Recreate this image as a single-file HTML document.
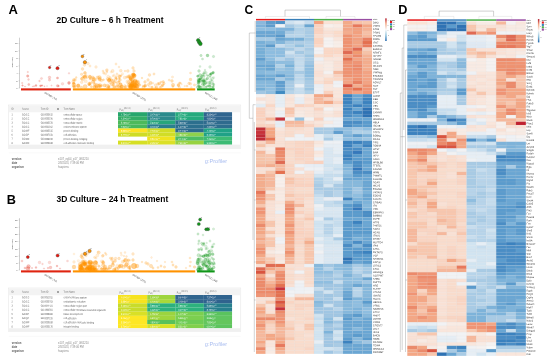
<!DOCTYPE html>
<html><head><meta charset="utf-8"><style>
html,body{margin:0;padding:0;background:#fff;width:550px;height:361px;overflow:hidden;}
svg{display:block;filter:blur(0.4px);font-family:"Liberation Sans",sans-serif;}
</style></head><body>
<svg width="550" height="361" viewBox="0 0 550 361">
<rect width="550" height="361" fill="#fff"/>
<g font-family="Liberation Sans, sans-serif" font-weight="bold" fill="#000">
<text x="8.4" y="14.3" font-size="13">A</text>
<text x="6.8" y="203.6" font-size="12.7">B</text>
<text x="244.6" y="14.1" font-size="12">C</text>
<text x="398.3" y="14.0" font-size="12.7">D</text>
<text x="56.6" y="22.7" font-size="8.45">2D Culture – 6 h Treatment</text>
<text x="56.6" y="201.6" font-size="8.45">3D Culture – 24 h Treatment</text>
</g>
<line x1="19.5" y1="37.7" x2="19.5" y2="88.2" stroke="#888" stroke-width="0.4"/>
<line x1="18.6" y1="88.1" x2="19.5" y2="88.1" stroke="#888" stroke-width="0.3"/>
<text x="17.6" y="88.8" font-size="2.3" fill="#555" text-anchor="end" font-family="Liberation Sans, sans-serif">0</text>
<line x1="18.6" y1="80.8" x2="19.5" y2="80.8" stroke="#888" stroke-width="0.3"/>
<text x="17.6" y="81.5" font-size="2.3" fill="#555" text-anchor="end" font-family="Liberation Sans, sans-serif">2</text>
<line x1="18.6" y1="73.6" x2="19.5" y2="73.6" stroke="#888" stroke-width="0.3"/>
<text x="17.6" y="74.3" font-size="2.3" fill="#555" text-anchor="end" font-family="Liberation Sans, sans-serif">4</text>
<line x1="18.6" y1="65.9" x2="19.5" y2="65.9" stroke="#888" stroke-width="0.3"/>
<text x="17.6" y="66.6" font-size="2.3" fill="#555" text-anchor="end" font-family="Liberation Sans, sans-serif">6</text>
<line x1="18.6" y1="58.7" x2="19.5" y2="58.7" stroke="#888" stroke-width="0.3"/>
<text x="17.6" y="59.4" font-size="2.3" fill="#555" text-anchor="end" font-family="Liberation Sans, sans-serif">8</text>
<line x1="18.6" y1="50.9" x2="19.5" y2="50.9" stroke="#888" stroke-width="0.3"/>
<text x="17.6" y="51.6" font-size="2.3" fill="#555" text-anchor="end" font-family="Liberation Sans, sans-serif">10</text>
<line x1="18.6" y1="43.6" x2="19.5" y2="43.6" stroke="#888" stroke-width="0.3"/>
<text x="17.6" y="44.3" font-size="2.3" fill="#555" text-anchor="end" font-family="Liberation Sans, sans-serif">12</text>
<text transform="translate(12.8,62.5) rotate(-90)" font-size="2.5" fill="#555" text-anchor="middle" font-family="Liberation Sans, sans-serif">-log₁₀(pₐₔⱼ)</text>
<circle cx="22.2" cy="83" r="0.8" fill="#df2410" fill-opacity="0.2" stroke="#df2410" stroke-opacity="0.33" stroke-width="0.25"/>
<circle cx="22.5" cy="85.5" r="0.8" fill="#df2410" fill-opacity="0.32" stroke="#df2410" stroke-opacity="0.52" stroke-width="0.25"/>
<circle cx="27.8" cy="72" r="0.8" fill="#df2410" fill-opacity="0.2" stroke="#df2410" stroke-opacity="0.33" stroke-width="0.25"/>
<circle cx="27.7" cy="76" r="1.2" fill="#df2410" fill-opacity="0.32" stroke="#df2410" stroke-opacity="0.52" stroke-width="0.25"/>
<circle cx="28.5" cy="79.5" r="0.9" fill="#df2410" fill-opacity="0.2" stroke="#df2410" stroke-opacity="0.33" stroke-width="0.25"/>
<circle cx="28.8" cy="84.5" r="1.1" fill="#df2410" fill-opacity="0.28" stroke="#df2410" stroke-opacity="0.45" stroke-width="0.25"/>
<circle cx="32.5" cy="86.5" r="0.5" fill="#df2410" fill-opacity="0.16" stroke="#df2410" stroke-opacity="0.26" stroke-width="0.25"/>
<circle cx="36" cy="85.5" r="0.9" fill="#df2410" fill-opacity="0.36" stroke="#df2410" stroke-opacity="0.59" stroke-width="0.25"/>
<circle cx="39.5" cy="81" r="0.9" fill="#df2410" fill-opacity="0.2" stroke="#df2410" stroke-opacity="0.33" stroke-width="0.25"/>
<circle cx="41.5" cy="78.5" r="1.1" fill="#df2410" fill-opacity="0.2" stroke="#df2410" stroke-opacity="0.33" stroke-width="0.25"/>
<circle cx="40.5" cy="85.8" r="0.9" fill="#df2410" fill-opacity="0.4" stroke="#df2410" stroke-opacity="0.65" stroke-width="0.25"/>
<circle cx="42" cy="85.5" r="0.8" fill="#df2410" fill-opacity="0.36" stroke="#df2410" stroke-opacity="0.59" stroke-width="0.25"/>
<circle cx="47" cy="86" r="0.5" fill="#df2410" fill-opacity="0.16" stroke="#df2410" stroke-opacity="0.26" stroke-width="0.25"/>
<circle cx="49.5" cy="77.5" r="1.4" fill="#df2410" fill-opacity="0.2" stroke="#df2410" stroke-opacity="0.33" stroke-width="0.25"/>
<circle cx="49.5" cy="80" r="1.2" fill="#df2410" fill-opacity="0.2" stroke="#df2410" stroke-opacity="0.33" stroke-width="0.25"/>
<circle cx="51.5" cy="85.5" r="0.7" fill="#df2410" fill-opacity="0.16" stroke="#df2410" stroke-opacity="0.26" stroke-width="0.25"/>
<circle cx="57.5" cy="78" r="1.1" fill="#df2410" fill-opacity="0.32" stroke="#df2410" stroke-opacity="0.52" stroke-width="0.25"/>
<circle cx="57.5" cy="85.8" r="1.2" fill="#df2410" fill-opacity="0.24" stroke="#df2410" stroke-opacity="0.39" stroke-width="0.25"/>
<circle cx="58.5" cy="86" r="0.9" fill="#df2410" fill-opacity="0.24" stroke="#df2410" stroke-opacity="0.39" stroke-width="0.25"/>
<circle cx="62.5" cy="83.8" r="1.4" fill="#df2410" fill-opacity="0.16" stroke="#df2410" stroke-opacity="0.26" stroke-width="0.25"/>
<circle cx="69" cy="73.3" r="0.9" fill="#df2410" fill-opacity="0.16" stroke="#df2410" stroke-opacity="0.26" stroke-width="0.25"/>
<circle cx="69" cy="83" r="1.4" fill="#df2410" fill-opacity="0.36" stroke="#df2410" stroke-opacity="0.59" stroke-width="0.25"/>
<circle cx="34" cy="86.3" r="0.7" fill="#df2410" fill-opacity="0.24" stroke="#df2410" stroke-opacity="0.39" stroke-width="0.25"/>
<circle cx="44.5" cy="86.3" r="0.6" fill="#df2410" fill-opacity="0.2" stroke="#df2410" stroke-opacity="0.33" stroke-width="0.25"/>
<circle cx="25" cy="86.5" r="0.6" fill="#df2410" fill-opacity="0.24" stroke="#df2410" stroke-opacity="0.39" stroke-width="0.25"/>
<circle cx="82.5" cy="69" r="1.4" fill="#ff9200" fill-opacity="0.24" stroke="#ff9200" stroke-opacity="0.39" stroke-width="0.25"/>
<circle cx="84.5" cy="65" r="1.4" fill="#ff9200" fill-opacity="0.2" stroke="#ff9200" stroke-opacity="0.33" stroke-width="0.25"/>
<circle cx="88" cy="63.5" r="1.4" fill="#ff9200" fill-opacity="0.16" stroke="#ff9200" stroke-opacity="0.26" stroke-width="0.25"/>
<circle cx="90" cy="66" r="1.2" fill="#ff9200" fill-opacity="0.16" stroke="#ff9200" stroke-opacity="0.26" stroke-width="0.25"/>
<circle cx="85" cy="73" r="1.4" fill="#ff9200" fill-opacity="0.28" stroke="#ff9200" stroke-opacity="0.45" stroke-width="0.25"/>
<circle cx="86" cy="76" r="1.4" fill="#ff9200" fill-opacity="0.28" stroke="#ff9200" stroke-opacity="0.45" stroke-width="0.25"/>
<circle cx="96" cy="67" r="1.4" fill="#ff9200" fill-opacity="0.16" stroke="#ff9200" stroke-opacity="0.26" stroke-width="0.25"/>
<circle cx="103" cy="71" r="1.1" fill="#ff9200" fill-opacity="0.2" stroke="#ff9200" stroke-opacity="0.33" stroke-width="0.25"/>
<circle cx="107" cy="70" r="1.4" fill="#ff9200" fill-opacity="0.16" stroke="#ff9200" stroke-opacity="0.26" stroke-width="0.25"/>
<circle cx="116" cy="64" r="1.2" fill="#ff9200" fill-opacity="0.16" stroke="#ff9200" stroke-opacity="0.26" stroke-width="0.25"/>
<circle cx="119" cy="67" r="1.1" fill="#ff9200" fill-opacity="0.16" stroke="#ff9200" stroke-opacity="0.26" stroke-width="0.25"/>
<circle cx="125" cy="71" r="0.9" fill="#ff9200" fill-opacity="0.2" stroke="#ff9200" stroke-opacity="0.33" stroke-width="0.25"/>
<circle cx="133" cy="68" r="1.4" fill="#ff9200" fill-opacity="0.24" stroke="#ff9200" stroke-opacity="0.39" stroke-width="0.25"/>
<circle cx="134" cy="71" r="1.4" fill="#ff9200" fill-opacity="0.24" stroke="#ff9200" stroke-opacity="0.39" stroke-width="0.25"/>
<circle cx="133" cy="75" r="1.4" fill="#ff9200" fill-opacity="0.28" stroke="#ff9200" stroke-opacity="0.45" stroke-width="0.25"/>
<circle cx="149.5" cy="75" r="1.4" fill="#ff9200" fill-opacity="0.24" stroke="#ff9200" stroke-opacity="0.39" stroke-width="0.25"/>
<circle cx="154" cy="74" r="1.2" fill="#ff9200" fill-opacity="0.2" stroke="#ff9200" stroke-opacity="0.33" stroke-width="0.25"/>
<circle cx="172.5" cy="77" r="1.2" fill="#ff9200" fill-opacity="0.16" stroke="#ff9200" stroke-opacity="0.26" stroke-width="0.25"/>
<circle cx="190.5" cy="73" r="1.1" fill="#ff9200" fill-opacity="0.2" stroke="#ff9200" stroke-opacity="0.33" stroke-width="0.25"/>
<circle cx="190.5" cy="79.5" r="1.4" fill="#ff9200" fill-opacity="0.28" stroke="#ff9200" stroke-opacity="0.45" stroke-width="0.25"/>
<circle cx="172" cy="81" r="1.4" fill="#ff9200" fill-opacity="0.28" stroke="#ff9200" stroke-opacity="0.45" stroke-width="0.25"/>
<circle cx="173" cy="85" r="1.7" fill="#ff9200" fill-opacity="0.32" stroke="#ff9200" stroke-opacity="0.52" stroke-width="0.25"/>
<circle cx="150.5" cy="83" r="1.7" fill="#ff9200" fill-opacity="0.32" stroke="#ff9200" stroke-opacity="0.52" stroke-width="0.25"/>
<circle cx="148" cy="80" r="1.4" fill="#ff9200" fill-opacity="0.24" stroke="#ff9200" stroke-opacity="0.39" stroke-width="0.25"/>
<circle cx="158" cy="84" r="1.4" fill="#ff9200" fill-opacity="0.28" stroke="#ff9200" stroke-opacity="0.45" stroke-width="0.25"/>
<circle cx="161" cy="82" r="1.1" fill="#ff9200" fill-opacity="0.24" stroke="#ff9200" stroke-opacity="0.39" stroke-width="0.25"/>
<circle cx="164" cy="83.5" r="1.2" fill="#ff9200" fill-opacity="0.28" stroke="#ff9200" stroke-opacity="0.45" stroke-width="0.25"/>
<circle cx="178.5" cy="85.5" r="1.2" fill="#ff9200" fill-opacity="0.24" stroke="#ff9200" stroke-opacity="0.39" stroke-width="0.25"/>
<circle cx="180.5" cy="83" r="0.9" fill="#ff9200" fill-opacity="0.2" stroke="#ff9200" stroke-opacity="0.33" stroke-width="0.25"/>
<circle cx="187" cy="86" r="1.1" fill="#ff9200" fill-opacity="0.24" stroke="#ff9200" stroke-opacity="0.39" stroke-width="0.25"/>
<circle cx="194.5" cy="85" r="1.2" fill="#ff9200" fill-opacity="0.24" stroke="#ff9200" stroke-opacity="0.39" stroke-width="0.25"/>
<circle cx="142" cy="78" r="0.9" fill="#ff9200" fill-opacity="0.24" stroke="#ff9200" stroke-opacity="0.39" stroke-width="0.25"/>
<circle cx="145" cy="82" r="1.4" fill="#ff9200" fill-opacity="0.28" stroke="#ff9200" stroke-opacity="0.45" stroke-width="0.25"/>
<circle cx="140" cy="85" r="1.1" fill="#ff9200" fill-opacity="0.28" stroke="#ff9200" stroke-opacity="0.45" stroke-width="0.25"/>
<circle cx="110" cy="78" r="1.4" fill="#ff9200" fill-opacity="0.24" stroke="#ff9200" stroke-opacity="0.39" stroke-width="0.25"/>
<circle cx="119" cy="76" r="1.4" fill="#ff9200" fill-opacity="0.24" stroke="#ff9200" stroke-opacity="0.39" stroke-width="0.25"/>
<circle cx="120" cy="80" r="1.4" fill="#ff9200" fill-opacity="0.28" stroke="#ff9200" stroke-opacity="0.45" stroke-width="0.25"/>
<circle cx="112" cy="84" r="1.9" fill="#ff9200" fill-opacity="0.28" stroke="#ff9200" stroke-opacity="0.45" stroke-width="0.25"/>
<circle cx="75" cy="80" r="1.4" fill="#ff9200" fill-opacity="0.28" stroke="#ff9200" stroke-opacity="0.45" stroke-width="0.25"/>
<circle cx="74" cy="85" r="1.9" fill="#ff9200" fill-opacity="0.36" stroke="#ff9200" stroke-opacity="0.59" stroke-width="0.25"/>
<circle cx="109.13" cy="80.37" r="1.85" fill="#ff9200" fill-opacity="0.35" stroke="#ff9200" stroke-opacity="0.57" stroke-width="0.25"/>
<circle cx="115.91" cy="77.4" r="0.93" fill="#ff9200" fill-opacity="0.25" stroke="#ff9200" stroke-opacity="0.41" stroke-width="0.25"/>
<circle cx="127.71" cy="81.74" r="1.98" fill="#ff9200" fill-opacity="0.18" stroke="#ff9200" stroke-opacity="0.3" stroke-width="0.25"/>
<circle cx="100.21" cy="86.28" r="1.55" fill="#ff9200" fill-opacity="0.27" stroke="#ff9200" stroke-opacity="0.45" stroke-width="0.25"/>
<circle cx="73.76" cy="86.5" r="1.24" fill="#ff9200" fill-opacity="0.34" stroke="#ff9200" stroke-opacity="0.56" stroke-width="0.25"/>
<circle cx="117.41" cy="86.89" r="1.86" fill="#ff9200" fill-opacity="0.19" stroke="#ff9200" stroke-opacity="0.31" stroke-width="0.25"/>
<circle cx="108.81" cy="87.08" r="0.9" fill="#ff9200" fill-opacity="0.33" stroke="#ff9200" stroke-opacity="0.54" stroke-width="0.25"/>
<circle cx="85.15" cy="86.51" r="2.08" fill="#ff9200" fill-opacity="0.33" stroke="#ff9200" stroke-opacity="0.54" stroke-width="0.25"/>
<circle cx="89.78" cy="76.7" r="1.55" fill="#ff9200" fill-opacity="0.3" stroke="#ff9200" stroke-opacity="0.48" stroke-width="0.25"/>
<circle cx="84.88" cy="77.07" r="1.73" fill="#ff9200" fill-opacity="0.35" stroke="#ff9200" stroke-opacity="0.57" stroke-width="0.25"/>
<circle cx="124.84" cy="85.84" r="1.33" fill="#ff9200" fill-opacity="0.19" stroke="#ff9200" stroke-opacity="0.31" stroke-width="0.25"/>
<circle cx="81.45" cy="87.35" r="1.26" fill="#ff9200" fill-opacity="0.28" stroke="#ff9200" stroke-opacity="0.46" stroke-width="0.25"/>
<circle cx="73.2" cy="81.33" r="1.31" fill="#ff9200" fill-opacity="0.22" stroke="#ff9200" stroke-opacity="0.36" stroke-width="0.25"/>
<circle cx="120.47" cy="83.94" r="1.28" fill="#ff9200" fill-opacity="0.26" stroke="#ff9200" stroke-opacity="0.42" stroke-width="0.25"/>
<circle cx="113.87" cy="87.38" r="2.07" fill="#ff9200" fill-opacity="0.16" stroke="#ff9200" stroke-opacity="0.27" stroke-width="0.25"/>
<circle cx="116.49" cy="78.72" r="0.92" fill="#ff9200" fill-opacity="0.32" stroke="#ff9200" stroke-opacity="0.52" stroke-width="0.25"/>
<circle cx="94.24" cy="82.71" r="0.91" fill="#ff9200" fill-opacity="0.17" stroke="#ff9200" stroke-opacity="0.28" stroke-width="0.25"/>
<circle cx="83.49" cy="76.81" r="1.14" fill="#ff9200" fill-opacity="0.31" stroke="#ff9200" stroke-opacity="0.51" stroke-width="0.25"/>
<circle cx="126.92" cy="77.05" r="1.31" fill="#ff9200" fill-opacity="0.23" stroke="#ff9200" stroke-opacity="0.38" stroke-width="0.25"/>
<circle cx="103.43" cy="79.84" r="1.03" fill="#ff9200" fill-opacity="0.31" stroke="#ff9200" stroke-opacity="0.5" stroke-width="0.25"/>
<circle cx="119.24" cy="78.47" r="0.94" fill="#ff9200" fill-opacity="0.35" stroke="#ff9200" stroke-opacity="0.57" stroke-width="0.25"/>
<circle cx="78.29" cy="85.45" r="1.63" fill="#ff9200" fill-opacity="0.34" stroke="#ff9200" stroke-opacity="0.56" stroke-width="0.25"/>
<circle cx="92.72" cy="77.36" r="1.55" fill="#ff9200" fill-opacity="0.22" stroke="#ff9200" stroke-opacity="0.36" stroke-width="0.25"/>
<circle cx="91.37" cy="86.78" r="0.99" fill="#ff9200" fill-opacity="0.19" stroke="#ff9200" stroke-opacity="0.31" stroke-width="0.25"/>
<circle cx="112.97" cy="76.06" r="1.09" fill="#ff9200" fill-opacity="0.17" stroke="#ff9200" stroke-opacity="0.28" stroke-width="0.25"/>
<circle cx="130.23" cy="83.29" r="1.39" fill="#ff9200" fill-opacity="0.21" stroke="#ff9200" stroke-opacity="0.34" stroke-width="0.25"/>
<circle cx="107.45" cy="79.03" r="1.45" fill="#ff9200" fill-opacity="0.24" stroke="#ff9200" stroke-opacity="0.4" stroke-width="0.25"/>
<circle cx="76.23" cy="77.5" r="0.94" fill="#ff9200" fill-opacity="0.26" stroke="#ff9200" stroke-opacity="0.42" stroke-width="0.25"/>
<circle cx="121.63" cy="87.06" r="1.78" fill="#ff9200" fill-opacity="0.35" stroke="#ff9200" stroke-opacity="0.57" stroke-width="0.25"/>
<circle cx="109.56" cy="79.64" r="1.03" fill="#ff9200" fill-opacity="0.25" stroke="#ff9200" stroke-opacity="0.4" stroke-width="0.25"/>
<circle cx="81.66" cy="78.72" r="1.25" fill="#ff9200" fill-opacity="0.25" stroke="#ff9200" stroke-opacity="0.41" stroke-width="0.25"/>
<circle cx="130.96" cy="78.6" r="2.07" fill="#ff9200" fill-opacity="0.25" stroke="#ff9200" stroke-opacity="0.41" stroke-width="0.25"/>
<circle cx="101.31" cy="80.56" r="1.47" fill="#ff9200" fill-opacity="0.22" stroke="#ff9200" stroke-opacity="0.35" stroke-width="0.25"/>
<circle cx="96.42" cy="86.97" r="1.35" fill="#ff9200" fill-opacity="0.36" stroke="#ff9200" stroke-opacity="0.58" stroke-width="0.25"/>
<circle cx="128.67" cy="82.05" r="1.5" fill="#ff9200" fill-opacity="0.23" stroke="#ff9200" stroke-opacity="0.37" stroke-width="0.25"/>
<circle cx="78.17" cy="86.07" r="1.84" fill="#ff9200" fill-opacity="0.33" stroke="#ff9200" stroke-opacity="0.54" stroke-width="0.25"/>
<circle cx="93.96" cy="79.68" r="1.83" fill="#ff9200" fill-opacity="0.3" stroke="#ff9200" stroke-opacity="0.49" stroke-width="0.25"/>
<circle cx="111.51" cy="80.09" r="1.34" fill="#ff9200" fill-opacity="0.3" stroke="#ff9200" stroke-opacity="0.49" stroke-width="0.25"/>
<circle cx="89.29" cy="83.88" r="1.82" fill="#ff9200" fill-opacity="0.3" stroke="#ff9200" stroke-opacity="0.48" stroke-width="0.25"/>
<circle cx="90.04" cy="76.99" r="1.68" fill="#ff9200" fill-opacity="0.28" stroke="#ff9200" stroke-opacity="0.45" stroke-width="0.25"/>
<circle cx="73.67" cy="83.12" r="1.2" fill="#ff9200" fill-opacity="0.29" stroke="#ff9200" stroke-opacity="0.48" stroke-width="0.25"/>
<circle cx="99.85" cy="79.18" r="1.68" fill="#ff9200" fill-opacity="0.32" stroke="#ff9200" stroke-opacity="0.52" stroke-width="0.25"/>
<circle cx="93.18" cy="81.81" r="1.79" fill="#ff9200" fill-opacity="0.33" stroke="#ff9200" stroke-opacity="0.53" stroke-width="0.25"/>
<circle cx="93.3" cy="78.75" r="1.94" fill="#ff9200" fill-opacity="0.3" stroke="#ff9200" stroke-opacity="0.48" stroke-width="0.25"/>
<circle cx="129.62" cy="76.79" r="1.52" fill="#ff9200" fill-opacity="0.27" stroke="#ff9200" stroke-opacity="0.43" stroke-width="0.25"/>
<circle cx="82.64" cy="78.86" r="2.02" fill="#ff9200" fill-opacity="0.26" stroke="#ff9200" stroke-opacity="0.42" stroke-width="0.25"/>
<circle cx="113.1" cy="80.71" r="1.78" fill="#ff9200" fill-opacity="0.19" stroke="#ff9200" stroke-opacity="0.32" stroke-width="0.25"/>
<circle cx="118.26" cy="82.68" r="1.7" fill="#ff9200" fill-opacity="0.24" stroke="#ff9200" stroke-opacity="0.4" stroke-width="0.25"/>
<circle cx="109.18" cy="79.86" r="1.66" fill="#ff9200" fill-opacity="0.3" stroke="#ff9200" stroke-opacity="0.49" stroke-width="0.25"/>
<circle cx="74.6" cy="86.89" r="1.43" fill="#ff9200" fill-opacity="0.29" stroke="#ff9200" stroke-opacity="0.47" stroke-width="0.25"/>
<circle cx="85.7" cy="81.21" r="1.66" fill="#ff9200" fill-opacity="0.17" stroke="#ff9200" stroke-opacity="0.27" stroke-width="0.25"/>
<circle cx="100.35" cy="86.43" r="0.96" fill="#ff9200" fill-opacity="0.19" stroke="#ff9200" stroke-opacity="0.3" stroke-width="0.25"/>
<circle cx="91.41" cy="86.75" r="1.13" fill="#ff9200" fill-opacity="0.17" stroke="#ff9200" stroke-opacity="0.27" stroke-width="0.25"/>
<circle cx="99.99" cy="85.05" r="1.63" fill="#ff9200" fill-opacity="0.28" stroke="#ff9200" stroke-opacity="0.45" stroke-width="0.25"/>
<circle cx="86.8" cy="77.73" r="0.9" fill="#ff9200" fill-opacity="0.24" stroke="#ff9200" stroke-opacity="0.39" stroke-width="0.25"/>
<circle cx="89.15" cy="84.74" r="1.04" fill="#ff9200" fill-opacity="0.33" stroke="#ff9200" stroke-opacity="0.53" stroke-width="0.25"/>
<circle cx="94.69" cy="87.44" r="1.64" fill="#ff9200" fill-opacity="0.18" stroke="#ff9200" stroke-opacity="0.29" stroke-width="0.25"/>
<circle cx="104.62" cy="85.46" r="1.6" fill="#ff9200" fill-opacity="0.35" stroke="#ff9200" stroke-opacity="0.57" stroke-width="0.25"/>
<circle cx="120.47" cy="84.64" r="1.88" fill="#ff9200" fill-opacity="0.29" stroke="#ff9200" stroke-opacity="0.47" stroke-width="0.25"/>
<circle cx="94.43" cy="86.99" r="1.62" fill="#ff9200" fill-opacity="0.27" stroke="#ff9200" stroke-opacity="0.44" stroke-width="0.25"/>
<circle cx="128.52" cy="76.58" r="1.63" fill="#ff9200" fill-opacity="0.23" stroke="#ff9200" stroke-opacity="0.37" stroke-width="0.25"/>
<circle cx="124.82" cy="87.5" r="1.03" fill="#ff9200" fill-opacity="0.27" stroke="#ff9200" stroke-opacity="0.44" stroke-width="0.25"/>
<circle cx="108.68" cy="87" r="1.66" fill="#ff9200" fill-opacity="0.34" stroke="#ff9200" stroke-opacity="0.55" stroke-width="0.25"/>
<circle cx="94.8" cy="84.5" r="1.17" fill="#ff9200" fill-opacity="0.22" stroke="#ff9200" stroke-opacity="0.35" stroke-width="0.25"/>
<circle cx="129.4" cy="85.06" r="2.05" fill="#ff9200" fill-opacity="0.34" stroke="#ff9200" stroke-opacity="0.56" stroke-width="0.25"/>
<circle cx="107.56" cy="86.17" r="2.08" fill="#ff9200" fill-opacity="0.26" stroke="#ff9200" stroke-opacity="0.42" stroke-width="0.25"/>
<circle cx="97.1" cy="85.65" r="2.08" fill="#ff9200" fill-opacity="0.26" stroke="#ff9200" stroke-opacity="0.42" stroke-width="0.25"/>
<circle cx="89.61" cy="83.98" r="1.05" fill="#ff9200" fill-opacity="0.28" stroke="#ff9200" stroke-opacity="0.46" stroke-width="0.25"/>
<circle cx="98.72" cy="85.89" r="1.84" fill="#ff9200" fill-opacity="0.33" stroke="#ff9200" stroke-opacity="0.53" stroke-width="0.25"/>
<circle cx="73.77" cy="83.3" r="1.23" fill="#ff9200" fill-opacity="0.35" stroke="#ff9200" stroke-opacity="0.56" stroke-width="0.25"/>
<circle cx="118.35" cy="86.28" r="1.22" fill="#ff9200" fill-opacity="0.19" stroke="#ff9200" stroke-opacity="0.31" stroke-width="0.25"/>
<circle cx="130.35" cy="85.89" r="1.63" fill="#ff9200" fill-opacity="0.25" stroke="#ff9200" stroke-opacity="0.41" stroke-width="0.25"/>
<circle cx="110.4" cy="82.37" r="1.79" fill="#ff9200" fill-opacity="0.18" stroke="#ff9200" stroke-opacity="0.3" stroke-width="0.25"/>
<circle cx="117.1" cy="85.82" r="1.54" fill="#ff9200" fill-opacity="0.23" stroke="#ff9200" stroke-opacity="0.37" stroke-width="0.25"/>
<circle cx="90.22" cy="83.34" r="1.46" fill="#ff9200" fill-opacity="0.23" stroke="#ff9200" stroke-opacity="0.38" stroke-width="0.25"/>
<circle cx="116.21" cy="82.55" r="0.94" fill="#ff9200" fill-opacity="0.21" stroke="#ff9200" stroke-opacity="0.34" stroke-width="0.25"/>
<circle cx="99.43" cy="77.5" r="1.97" fill="#ff9200" fill-opacity="0.27" stroke="#ff9200" stroke-opacity="0.44" stroke-width="0.25"/>
<circle cx="73.84" cy="79.8" r="1.41" fill="#ff9200" fill-opacity="0.28" stroke="#ff9200" stroke-opacity="0.45" stroke-width="0.25"/>
<circle cx="114.07" cy="81.98" r="1.48" fill="#ff9200" fill-opacity="0.34" stroke="#ff9200" stroke-opacity="0.56" stroke-width="0.25"/>
<circle cx="95.36" cy="84.93" r="1.92" fill="#ff9200" fill-opacity="0.2" stroke="#ff9200" stroke-opacity="0.32" stroke-width="0.25"/>
<circle cx="90.19" cy="78.96" r="0.98" fill="#ff9200" fill-opacity="0.33" stroke="#ff9200" stroke-opacity="0.53" stroke-width="0.25"/>
<circle cx="113.29" cy="84.49" r="1.24" fill="#ff9200" fill-opacity="0.32" stroke="#ff9200" stroke-opacity="0.51" stroke-width="0.25"/>
<circle cx="125.82" cy="86.99" r="1.47" fill="#ff9200" fill-opacity="0.27" stroke="#ff9200" stroke-opacity="0.44" stroke-width="0.25"/>
<circle cx="101.87" cy="85.54" r="1.08" fill="#ff9200" fill-opacity="0.28" stroke="#ff9200" stroke-opacity="0.45" stroke-width="0.25"/>
<circle cx="120.09" cy="87.34" r="1.18" fill="#ff9200" fill-opacity="0.32" stroke="#ff9200" stroke-opacity="0.53" stroke-width="0.25"/>
<circle cx="118.92" cy="81.53" r="0.93" fill="#ff9200" fill-opacity="0.3" stroke="#ff9200" stroke-opacity="0.49" stroke-width="0.25"/>
<circle cx="129.76" cy="76.03" r="1.74" fill="#ff9200" fill-opacity="0.17" stroke="#ff9200" stroke-opacity="0.28" stroke-width="0.25"/>
<circle cx="121.84" cy="86.49" r="1.67" fill="#ff9200" fill-opacity="0.35" stroke="#ff9200" stroke-opacity="0.57" stroke-width="0.25"/>
<circle cx="114.32" cy="87.04" r="1.25" fill="#ff9200" fill-opacity="0.34" stroke="#ff9200" stroke-opacity="0.56" stroke-width="0.25"/>
<circle cx="81.68" cy="82.28" r="1.4" fill="#ff9200" fill-opacity="0.19" stroke="#ff9200" stroke-opacity="0.31" stroke-width="0.25"/>
<circle cx="135.29" cy="87.27" r="1.34" fill="#ff9200" fill-opacity="0.32" stroke="#ff9200" stroke-opacity="0.51" stroke-width="0.25"/>
<circle cx="130.61" cy="87.17" r="1.95" fill="#ff9200" fill-opacity="0.39" stroke="#ff9200" stroke-opacity="0.63" stroke-width="0.25"/>
<circle cx="137.47" cy="86.51" r="1.76" fill="#ff9200" fill-opacity="0.3" stroke="#ff9200" stroke-opacity="0.49" stroke-width="0.25"/>
<circle cx="135.1" cy="82.17" r="2.42" fill="#ff9200" fill-opacity="0.31" stroke="#ff9200" stroke-opacity="0.51" stroke-width="0.25"/>
<circle cx="130.47" cy="79.05" r="1.4" fill="#ff9200" fill-opacity="0.37" stroke="#ff9200" stroke-opacity="0.6" stroke-width="0.25"/>
<circle cx="134.3" cy="75.55" r="1.92" fill="#ff9200" fill-opacity="0.36" stroke="#ff9200" stroke-opacity="0.59" stroke-width="0.25"/>
<circle cx="132.24" cy="81.27" r="1.53" fill="#ff9200" fill-opacity="0.39" stroke="#ff9200" stroke-opacity="0.63" stroke-width="0.25"/>
<circle cx="134.39" cy="86.51" r="1.5" fill="#ff9200" fill-opacity="0.31" stroke="#ff9200" stroke-opacity="0.51" stroke-width="0.25"/>
<circle cx="136.26" cy="86.05" r="2.13" fill="#ff9200" fill-opacity="0.37" stroke="#ff9200" stroke-opacity="0.6" stroke-width="0.25"/>
<circle cx="130.72" cy="79.51" r="1.32" fill="#ff9200" fill-opacity="0.26" stroke="#ff9200" stroke-opacity="0.43" stroke-width="0.25"/>
<circle cx="135.05" cy="85.4" r="2.34" fill="#ff9200" fill-opacity="0.34" stroke="#ff9200" stroke-opacity="0.55" stroke-width="0.25"/>
<circle cx="132.75" cy="77.46" r="1.24" fill="#ff9200" fill-opacity="0.39" stroke="#ff9200" stroke-opacity="0.63" stroke-width="0.25"/>
<circle cx="130.46" cy="86.35" r="2.44" fill="#ff9200" fill-opacity="0.38" stroke="#ff9200" stroke-opacity="0.61" stroke-width="0.25"/>
<circle cx="131.9" cy="86.68" r="2.46" fill="#ff9200" fill-opacity="0.37" stroke="#ff9200" stroke-opacity="0.61" stroke-width="0.25"/>
<circle cx="136.98" cy="86.45" r="2.01" fill="#ff9200" fill-opacity="0.31" stroke="#ff9200" stroke-opacity="0.51" stroke-width="0.25"/>
<circle cx="132" cy="84.26" r="2" fill="#ff9200" fill-opacity="0.31" stroke="#ff9200" stroke-opacity="0.5" stroke-width="0.25"/>
<circle cx="133.28" cy="86.49" r="2.28" fill="#ff9200" fill-opacity="0.37" stroke="#ff9200" stroke-opacity="0.6" stroke-width="0.25"/>
<circle cx="136.84" cy="82.95" r="2.31" fill="#ff9200" fill-opacity="0.34" stroke="#ff9200" stroke-opacity="0.56" stroke-width="0.25"/>
<circle cx="135.04" cy="80.95" r="2.16" fill="#ff9200" fill-opacity="0.32" stroke="#ff9200" stroke-opacity="0.52" stroke-width="0.25"/>
<circle cx="130.82" cy="87.34" r="1.46" fill="#ff9200" fill-opacity="0.25" stroke="#ff9200" stroke-opacity="0.4" stroke-width="0.25"/>
<circle cx="137.56" cy="82.29" r="2.19" fill="#ff9200" fill-opacity="0.24" stroke="#ff9200" stroke-opacity="0.39" stroke-width="0.25"/>
<circle cx="134" cy="75.9" r="2.01" fill="#ff9200" fill-opacity="0.33" stroke="#ff9200" stroke-opacity="0.53" stroke-width="0.25"/>
<circle cx="133.96" cy="86.83" r="1.4" fill="#ff9200" fill-opacity="0.27" stroke="#ff9200" stroke-opacity="0.44" stroke-width="0.25"/>
<circle cx="133.18" cy="83.59" r="2.34" fill="#ff9200" fill-opacity="0.27" stroke="#ff9200" stroke-opacity="0.44" stroke-width="0.25"/>
<circle cx="132.16" cy="84.95" r="1.41" fill="#ff9200" fill-opacity="0.3" stroke="#ff9200" stroke-opacity="0.48" stroke-width="0.25"/>
<circle cx="132" cy="82.27" r="1.24" fill="#ff9200" fill-opacity="0.42" stroke="#ff9200" stroke-opacity="0.69" stroke-width="0.25"/>
<circle cx="133.14" cy="75.08" r="2.09" fill="#ff9200" fill-opacity="0.37" stroke="#ff9200" stroke-opacity="0.61" stroke-width="0.25"/>
<circle cx="134.01" cy="74.95" r="1.35" fill="#ff9200" fill-opacity="0.37" stroke="#ff9200" stroke-opacity="0.61" stroke-width="0.25"/>
<circle cx="132.47" cy="79.41" r="2.15" fill="#ff9200" fill-opacity="0.27" stroke="#ff9200" stroke-opacity="0.44" stroke-width="0.25"/>
<circle cx="131.71" cy="87.39" r="1.5" fill="#ff9200" fill-opacity="0.26" stroke="#ff9200" stroke-opacity="0.42" stroke-width="0.25"/>
<circle cx="133.41" cy="74.46" r="1.67" fill="#ff9200" fill-opacity="0.3" stroke="#ff9200" stroke-opacity="0.49" stroke-width="0.25"/>
<circle cx="133.98" cy="84.88" r="2.15" fill="#ff9200" fill-opacity="0.38" stroke="#ff9200" stroke-opacity="0.62" stroke-width="0.25"/>
<circle cx="131.39" cy="85.38" r="2.07" fill="#ff9200" fill-opacity="0.43" stroke="#ff9200" stroke-opacity="0.7" stroke-width="0.25"/>
<circle cx="135.49" cy="82.98" r="2.47" fill="#ff9200" fill-opacity="0.24" stroke="#ff9200" stroke-opacity="0.39" stroke-width="0.25"/>
<circle cx="130.52" cy="77.74" r="1.73" fill="#ff9200" fill-opacity="0.25" stroke="#ff9200" stroke-opacity="0.4" stroke-width="0.25"/>
<circle cx="169.26" cy="80.11" r="1.16" fill="#ff9200" fill-opacity="0.22" stroke="#ff9200" stroke-opacity="0.35" stroke-width="0.25"/>
<circle cx="143.35" cy="87.31" r="1.43" fill="#ff9200" fill-opacity="0.24" stroke="#ff9200" stroke-opacity="0.39" stroke-width="0.25"/>
<circle cx="191.34" cy="87.37" r="0.97" fill="#ff9200" fill-opacity="0.17" stroke="#ff9200" stroke-opacity="0.27" stroke-width="0.25"/>
<circle cx="160.65" cy="87.35" r="0.98" fill="#ff9200" fill-opacity="0.23" stroke="#ff9200" stroke-opacity="0.37" stroke-width="0.25"/>
<circle cx="155.44" cy="87.38" r="0.83" fill="#ff9200" fill-opacity="0.32" stroke="#ff9200" stroke-opacity="0.51" stroke-width="0.25"/>
<circle cx="148.23" cy="84.59" r="1.08" fill="#ff9200" fill-opacity="0.25" stroke="#ff9200" stroke-opacity="0.4" stroke-width="0.25"/>
<circle cx="142.81" cy="86.02" r="0.88" fill="#ff9200" fill-opacity="0.25" stroke="#ff9200" stroke-opacity="0.4" stroke-width="0.25"/>
<circle cx="190.51" cy="83.85" r="1.4" fill="#ff9200" fill-opacity="0.19" stroke="#ff9200" stroke-opacity="0.32" stroke-width="0.25"/>
<circle cx="138.99" cy="84.34" r="1.14" fill="#ff9200" fill-opacity="0.25" stroke="#ff9200" stroke-opacity="0.41" stroke-width="0.25"/>
<circle cx="159.47" cy="83.62" r="1.31" fill="#ff9200" fill-opacity="0.31" stroke="#ff9200" stroke-opacity="0.5" stroke-width="0.25"/>
<circle cx="155.53" cy="85.06" r="1.38" fill="#ff9200" fill-opacity="0.2" stroke="#ff9200" stroke-opacity="0.32" stroke-width="0.25"/>
<circle cx="144.59" cy="86.03" r="0.86" fill="#ff9200" fill-opacity="0.28" stroke="#ff9200" stroke-opacity="0.46" stroke-width="0.25"/>
<circle cx="184.71" cy="86.03" r="0.89" fill="#ff9200" fill-opacity="0.17" stroke="#ff9200" stroke-opacity="0.28" stroke-width="0.25"/>
<circle cx="151.96" cy="87.26" r="1.1" fill="#ff9200" fill-opacity="0.25" stroke="#ff9200" stroke-opacity="0.41" stroke-width="0.25"/>
<circle cx="151.99" cy="87.35" r="1.29" fill="#ff9200" fill-opacity="0.17" stroke="#ff9200" stroke-opacity="0.27" stroke-width="0.25"/>
<circle cx="149.39" cy="86.2" r="1.06" fill="#ff9200" fill-opacity="0.18" stroke="#ff9200" stroke-opacity="0.29" stroke-width="0.25"/>
<circle cx="161.97" cy="86.02" r="1.33" fill="#ff9200" fill-opacity="0.25" stroke="#ff9200" stroke-opacity="0.4" stroke-width="0.25"/>
<circle cx="189.08" cy="83.36" r="1.33" fill="#ff9200" fill-opacity="0.25" stroke="#ff9200" stroke-opacity="0.41" stroke-width="0.25"/>
<circle cx="163.2" cy="81.85" r="1.26" fill="#ff9200" fill-opacity="0.31" stroke="#ff9200" stroke-opacity="0.51" stroke-width="0.25"/>
<circle cx="179.5" cy="82.94" r="0.99" fill="#ff9200" fill-opacity="0.29" stroke="#ff9200" stroke-opacity="0.47" stroke-width="0.25"/>
<circle cx="159.8" cy="87.07" r="0.85" fill="#ff9200" fill-opacity="0.19" stroke="#ff9200" stroke-opacity="0.3" stroke-width="0.25"/>
<circle cx="152.97" cy="83.17" r="1" fill="#ff9200" fill-opacity="0.17" stroke="#ff9200" stroke-opacity="0.28" stroke-width="0.25"/>
<circle cx="181.54" cy="84.19" r="0.82" fill="#ff9200" fill-opacity="0.17" stroke="#ff9200" stroke-opacity="0.27" stroke-width="0.25"/>
<circle cx="145.42" cy="85.73" r="1.4" fill="#ff9200" fill-opacity="0.31" stroke="#ff9200" stroke-opacity="0.51" stroke-width="0.25"/>
<circle cx="172.88" cy="86.54" r="1.1" fill="#ff9200" fill-opacity="0.22" stroke="#ff9200" stroke-opacity="0.35" stroke-width="0.25"/>
<circle cx="156.83" cy="87.48" r="1.21" fill="#ff9200" fill-opacity="0.29" stroke="#ff9200" stroke-opacity="0.47" stroke-width="0.25"/>
<circle cx="179.43" cy="87.22" r="1.17" fill="#ff9200" fill-opacity="0.19" stroke="#ff9200" stroke-opacity="0.3" stroke-width="0.25"/>
<circle cx="178.44" cy="85.08" r="1.46" fill="#ff9200" fill-opacity="0.29" stroke="#ff9200" stroke-opacity="0.47" stroke-width="0.25"/>
<circle cx="144.74" cy="86" r="1.44" fill="#ff9200" fill-opacity="0.23" stroke="#ff9200" stroke-opacity="0.38" stroke-width="0.25"/>
<circle cx="162.75" cy="85.11" r="1.34" fill="#ff9200" fill-opacity="0.31" stroke="#ff9200" stroke-opacity="0.5" stroke-width="0.25"/>
<circle cx="106.63" cy="70.3" r="1.38" fill="#ff9200" fill-opacity="0.13" stroke="#ff9200" stroke-opacity="0.22" stroke-width="0.25"/>
<circle cx="120.71" cy="75.81" r="0.94" fill="#ff9200" fill-opacity="0.24" stroke="#ff9200" stroke-opacity="0.39" stroke-width="0.25"/>
<circle cx="81.64" cy="74.23" r="1.29" fill="#ff9200" fill-opacity="0.23" stroke="#ff9200" stroke-opacity="0.37" stroke-width="0.25"/>
<circle cx="99.64" cy="77.84" r="1.12" fill="#ff9200" fill-opacity="0.14" stroke="#ff9200" stroke-opacity="0.23" stroke-width="0.25"/>
<circle cx="108.12" cy="76.43" r="1.5" fill="#ff9200" fill-opacity="0.15" stroke="#ff9200" stroke-opacity="0.24" stroke-width="0.25"/>
<circle cx="97.59" cy="77.52" r="1.69" fill="#ff9200" fill-opacity="0.22" stroke="#ff9200" stroke-opacity="0.36" stroke-width="0.25"/>
<circle cx="122.49" cy="73.82" r="1.22" fill="#ff9200" fill-opacity="0.14" stroke="#ff9200" stroke-opacity="0.22" stroke-width="0.25"/>
<circle cx="121.58" cy="75.1" r="0.93" fill="#ff9200" fill-opacity="0.14" stroke="#ff9200" stroke-opacity="0.23" stroke-width="0.25"/>
<circle cx="84.94" cy="72.82" r="1.62" fill="#ff9200" fill-opacity="0.14" stroke="#ff9200" stroke-opacity="0.23" stroke-width="0.25"/>
<circle cx="119.85" cy="76.76" r="1.45" fill="#ff9200" fill-opacity="0.22" stroke="#ff9200" stroke-opacity="0.36" stroke-width="0.25"/>
<circle cx="111.16" cy="72" r="1.2" fill="#ff9200" fill-opacity="0.12" stroke="#ff9200" stroke-opacity="0.2" stroke-width="0.25"/>
<circle cx="105.59" cy="74.13" r="1.05" fill="#ff9200" fill-opacity="0.17" stroke="#ff9200" stroke-opacity="0.27" stroke-width="0.25"/>
<circle cx="95.86" cy="79.73" r="1.15" fill="#ff9200" fill-opacity="0.17" stroke="#ff9200" stroke-opacity="0.27" stroke-width="0.25"/>
<circle cx="103.81" cy="72.97" r="1.22" fill="#ff9200" fill-opacity="0.24" stroke="#ff9200" stroke-opacity="0.39" stroke-width="0.25"/>
<circle cx="120.78" cy="70.76" r="1.45" fill="#ff9200" fill-opacity="0.2" stroke="#ff9200" stroke-opacity="0.33" stroke-width="0.25"/>
<circle cx="106.84" cy="72.01" r="1.19" fill="#ff9200" fill-opacity="0.19" stroke="#ff9200" stroke-opacity="0.31" stroke-width="0.25"/>
<circle cx="113.97" cy="74.78" r="1.13" fill="#ff9200" fill-opacity="0.13" stroke="#ff9200" stroke-opacity="0.21" stroke-width="0.25"/>
<circle cx="84.36" cy="76.44" r="1.36" fill="#ff9200" fill-opacity="0.21" stroke="#ff9200" stroke-opacity="0.34" stroke-width="0.25"/>
<circle cx="115.72" cy="76.93" r="1.64" fill="#ff9200" fill-opacity="0.15" stroke="#ff9200" stroke-opacity="0.25" stroke-width="0.25"/>
<circle cx="115.8" cy="79.28" r="1.5" fill="#ff9200" fill-opacity="0.2" stroke="#ff9200" stroke-opacity="0.33" stroke-width="0.25"/>
<circle cx="127.85" cy="71.03" r="1.45" fill="#ff9200" fill-opacity="0.22" stroke="#ff9200" stroke-opacity="0.36" stroke-width="0.25"/>
<circle cx="116.93" cy="73.89" r="1.07" fill="#ff9200" fill-opacity="0.18" stroke="#ff9200" stroke-opacity="0.3" stroke-width="0.25"/>
<circle cx="124.81" cy="77.61" r="1.68" fill="#ff9200" fill-opacity="0.19" stroke="#ff9200" stroke-opacity="0.3" stroke-width="0.25"/>
<circle cx="99.67" cy="79.97" r="1.21" fill="#ff9200" fill-opacity="0.14" stroke="#ff9200" stroke-opacity="0.23" stroke-width="0.25"/>
<circle cx="112.65" cy="71" r="1.63" fill="#ff9200" fill-opacity="0.19" stroke="#ff9200" stroke-opacity="0.31" stroke-width="0.25"/>
<circle cx="201" cy="55.5" r="1.2" fill="#109618" fill-opacity="0.24" stroke="#109618" stroke-opacity="0.39" stroke-width="0.25"/>
<circle cx="207.5" cy="55.5" r="1.4" fill="#109618" fill-opacity="0.36" stroke="#109618" stroke-opacity="0.59" stroke-width="0.25"/>
<circle cx="213.5" cy="56.5" r="1.2" fill="#109618" fill-opacity="0.2" stroke="#109618" stroke-opacity="0.33" stroke-width="0.25"/>
<circle cx="202.5" cy="59" r="1.1" fill="#109618" fill-opacity="0.2" stroke="#109618" stroke-opacity="0.33" stroke-width="0.25"/>
<circle cx="200" cy="66.5" r="1.1" fill="#109618" fill-opacity="0.16" stroke="#109618" stroke-opacity="0.26" stroke-width="0.25"/>
<circle cx="210" cy="67" r="1.4" fill="#109618" fill-opacity="0.16" stroke="#109618" stroke-opacity="0.26" stroke-width="0.25"/>
<circle cx="199" cy="71" r="1.4" fill="#109618" fill-opacity="0.24" stroke="#109618" stroke-opacity="0.39" stroke-width="0.25"/>
<circle cx="200" cy="75" r="1.5" fill="#109618" fill-opacity="0.28" stroke="#109618" stroke-opacity="0.45" stroke-width="0.25"/>
<circle cx="211" cy="74" r="1.2" fill="#109618" fill-opacity="0.24" stroke="#109618" stroke-opacity="0.39" stroke-width="0.25"/>
<circle cx="213" cy="73" r="1.1" fill="#109618" fill-opacity="0.2" stroke="#109618" stroke-opacity="0.33" stroke-width="0.25"/>
<circle cx="205" cy="70" r="0.9" fill="#109618" fill-opacity="0.16" stroke="#109618" stroke-opacity="0.26" stroke-width="0.25"/>
<circle cx="204" cy="86.42" r="1.35" fill="#109618" fill-opacity="0.22" stroke="#109618" stroke-opacity="0.36" stroke-width="0.25"/>
<circle cx="209.52" cy="82.74" r="1.51" fill="#109618" fill-opacity="0.16" stroke="#109618" stroke-opacity="0.26" stroke-width="0.25"/>
<circle cx="202.63" cy="84.31" r="1.3" fill="#109618" fill-opacity="0.29" stroke="#109618" stroke-opacity="0.46" stroke-width="0.25"/>
<circle cx="200.31" cy="78.55" r="1.41" fill="#109618" fill-opacity="0.16" stroke="#109618" stroke-opacity="0.26" stroke-width="0.25"/>
<circle cx="198.55" cy="79.67" r="1.46" fill="#109618" fill-opacity="0.28" stroke="#109618" stroke-opacity="0.46" stroke-width="0.25"/>
<circle cx="209.73" cy="82.08" r="1.14" fill="#109618" fill-opacity="0.22" stroke="#109618" stroke-opacity="0.35" stroke-width="0.25"/>
<circle cx="212.7" cy="83.81" r="1.02" fill="#109618" fill-opacity="0.23" stroke="#109618" stroke-opacity="0.38" stroke-width="0.25"/>
<circle cx="213.74" cy="85.42" r="0.82" fill="#109618" fill-opacity="0.14" stroke="#109618" stroke-opacity="0.23" stroke-width="0.25"/>
<circle cx="206.95" cy="79.05" r="0.95" fill="#109618" fill-opacity="0.16" stroke="#109618" stroke-opacity="0.25" stroke-width="0.25"/>
<circle cx="207.49" cy="78.32" r="1.35" fill="#109618" fill-opacity="0.25" stroke="#109618" stroke-opacity="0.41" stroke-width="0.25"/>
<circle cx="198.53" cy="81" r="1.47" fill="#109618" fill-opacity="0.3" stroke="#109618" stroke-opacity="0.48" stroke-width="0.25"/>
<circle cx="202.85" cy="74.74" r="1.32" fill="#109618" fill-opacity="0.29" stroke="#109618" stroke-opacity="0.47" stroke-width="0.25"/>
<circle cx="201.35" cy="77.45" r="1.47" fill="#109618" fill-opacity="0.21" stroke="#109618" stroke-opacity="0.34" stroke-width="0.25"/>
<circle cx="199.19" cy="85.34" r="0.93" fill="#109618" fill-opacity="0.14" stroke="#109618" stroke-opacity="0.22" stroke-width="0.25"/>
<circle cx="200.05" cy="78.84" r="0.88" fill="#109618" fill-opacity="0.26" stroke="#109618" stroke-opacity="0.42" stroke-width="0.25"/>
<circle cx="209.87" cy="75.35" r="1.44" fill="#109618" fill-opacity="0.25" stroke="#109618" stroke-opacity="0.41" stroke-width="0.25"/>
<circle cx="213.02" cy="72.8" r="1.3" fill="#109618" fill-opacity="0.3" stroke="#109618" stroke-opacity="0.48" stroke-width="0.25"/>
<circle cx="199.24" cy="86.49" r="0.85" fill="#109618" fill-opacity="0.16" stroke="#109618" stroke-opacity="0.26" stroke-width="0.25"/>
<circle cx="203.79" cy="81.42" r="1.34" fill="#109618" fill-opacity="0.26" stroke="#109618" stroke-opacity="0.42" stroke-width="0.25"/>
<circle cx="198.91" cy="82.29" r="1.23" fill="#109618" fill-opacity="0.19" stroke="#109618" stroke-opacity="0.31" stroke-width="0.25"/>
<circle cx="199.47" cy="79.15" r="1.1" fill="#109618" fill-opacity="0.25" stroke="#109618" stroke-opacity="0.4" stroke-width="0.25"/>
<circle cx="205.82" cy="72.69" r="1.56" fill="#109618" fill-opacity="0.13" stroke="#109618" stroke-opacity="0.22" stroke-width="0.25"/>
<circle cx="210.26" cy="77.03" r="1.04" fill="#109618" fill-opacity="0.14" stroke="#109618" stroke-opacity="0.23" stroke-width="0.25"/>
<circle cx="205.55" cy="83.04" r="1.39" fill="#109618" fill-opacity="0.29" stroke="#109618" stroke-opacity="0.47" stroke-width="0.25"/>
<circle cx="203.92" cy="83.98" r="1.2" fill="#109618" fill-opacity="0.25" stroke="#109618" stroke-opacity="0.4" stroke-width="0.25"/>
<circle cx="210.76" cy="79.51" r="1.04" fill="#109618" fill-opacity="0.18" stroke="#109618" stroke-opacity="0.3" stroke-width="0.25"/>
<circle cx="211.75" cy="80.44" r="0.84" fill="#109618" fill-opacity="0.2" stroke="#109618" stroke-opacity="0.32" stroke-width="0.25"/>
<circle cx="201.5" cy="77.98" r="0.86" fill="#109618" fill-opacity="0.17" stroke="#109618" stroke-opacity="0.28" stroke-width="0.25"/>
<circle cx="199.11" cy="81.11" r="1.59" fill="#109618" fill-opacity="0.22" stroke="#109618" stroke-opacity="0.36" stroke-width="0.25"/>
<circle cx="203.99" cy="73.22" r="0.87" fill="#109618" fill-opacity="0.19" stroke="#109618" stroke-opacity="0.3" stroke-width="0.25"/>
<circle cx="211.12" cy="87.47" r="1.41" fill="#109618" fill-opacity="0.19" stroke="#109618" stroke-opacity="0.3" stroke-width="0.25"/>
<circle cx="197.78" cy="84.55" r="1.17" fill="#109618" fill-opacity="0.19" stroke="#109618" stroke-opacity="0.31" stroke-width="0.25"/>
<circle cx="206.18" cy="87.04" r="0.97" fill="#109618" fill-opacity="0.3" stroke="#109618" stroke-opacity="0.49" stroke-width="0.25"/>
<circle cx="204.94" cy="81.21" r="0.87" fill="#109618" fill-opacity="0.17" stroke="#109618" stroke-opacity="0.28" stroke-width="0.25"/>
<circle cx="213.54" cy="77.62" r="1.21" fill="#109618" fill-opacity="0.13" stroke="#109618" stroke-opacity="0.21" stroke-width="0.25"/>
<circle cx="204.1" cy="76.02" r="1.15" fill="#109618" fill-opacity="0.23" stroke="#109618" stroke-opacity="0.37" stroke-width="0.25"/>
<circle cx="212.66" cy="78.34" r="1.31" fill="#109618" fill-opacity="0.13" stroke="#109618" stroke-opacity="0.21" stroke-width="0.25"/>
<circle cx="197.9" cy="76.18" r="1.13" fill="#109618" fill-opacity="0.28" stroke="#109618" stroke-opacity="0.46" stroke-width="0.25"/>
<circle cx="211.37" cy="73.56" r="1.1" fill="#109618" fill-opacity="0.3" stroke="#109618" stroke-opacity="0.49" stroke-width="0.25"/>
<circle cx="210.2" cy="73.99" r="0.92" fill="#109618" fill-opacity="0.26" stroke="#109618" stroke-opacity="0.43" stroke-width="0.25"/>
<circle cx="204.59" cy="72.52" r="1.6" fill="#109618" fill-opacity="0.16" stroke="#109618" stroke-opacity="0.26" stroke-width="0.25"/>
<circle cx="204.58" cy="84.27" r="1.18" fill="#109618" fill-opacity="0.17" stroke="#109618" stroke-opacity="0.28" stroke-width="0.25"/>
<circle cx="208.7" cy="86.24" r="0.94" fill="#109618" fill-opacity="0.2" stroke="#109618" stroke-opacity="0.33" stroke-width="0.25"/>
<circle cx="198.74" cy="82.63" r="1.52" fill="#109618" fill-opacity="0.28" stroke="#109618" stroke-opacity="0.46" stroke-width="0.25"/>
<circle cx="200.8" cy="87.37" r="1.46" fill="#109618" fill-opacity="0.3" stroke="#109618" stroke-opacity="0.48" stroke-width="0.25"/>
<circle cx="207.56" cy="86.08" r="0.99" fill="#109618" fill-opacity="0.29" stroke="#109618" stroke-opacity="0.47" stroke-width="0.25"/>
<circle cx="213.25" cy="87.26" r="0.95" fill="#109618" fill-opacity="0.2" stroke="#109618" stroke-opacity="0.32" stroke-width="0.25"/>
<circle cx="201.98" cy="76.46" r="1.1" fill="#109618" fill-opacity="0.26" stroke="#109618" stroke-opacity="0.43" stroke-width="0.25"/>
<circle cx="200.05" cy="80.46" r="1.58" fill="#109618" fill-opacity="0.25" stroke="#109618" stroke-opacity="0.4" stroke-width="0.25"/>
<circle cx="199.01" cy="86.39" r="1.31" fill="#109618" fill-opacity="0.19" stroke="#109618" stroke-opacity="0.31" stroke-width="0.25"/>
<circle cx="203.69" cy="81.11" r="1.27" fill="#109618" fill-opacity="0.3" stroke="#109618" stroke-opacity="0.48" stroke-width="0.25"/>
<circle cx="201.55" cy="79.63" r="1.01" fill="#109618" fill-opacity="0.22" stroke="#109618" stroke-opacity="0.36" stroke-width="0.25"/>
<circle cx="209.79" cy="86.12" r="1.18" fill="#109618" fill-opacity="0.25" stroke="#109618" stroke-opacity="0.41" stroke-width="0.25"/>
<circle cx="197.64" cy="76.15" r="1.14" fill="#109618" fill-opacity="0.21" stroke="#109618" stroke-opacity="0.35" stroke-width="0.25"/>
<circle cx="207.76" cy="75.77" r="0.84" fill="#109618" fill-opacity="0.21" stroke="#109618" stroke-opacity="0.34" stroke-width="0.25"/>
<circle cx="198.14" cy="82.56" r="1.08" fill="#109618" fill-opacity="0.12" stroke="#109618" stroke-opacity="0.2" stroke-width="0.25"/>
<circle cx="202.5" cy="81.55" r="1.32" fill="#109618" fill-opacity="0.29" stroke="#109618" stroke-opacity="0.47" stroke-width="0.25"/>
<circle cx="203.72" cy="80.26" r="1.37" fill="#109618" fill-opacity="0.29" stroke="#109618" stroke-opacity="0.48" stroke-width="0.25"/>
<circle cx="213.45" cy="72.22" r="1.04" fill="#109618" fill-opacity="0.15" stroke="#109618" stroke-opacity="0.24" stroke-width="0.25"/>
<circle cx="213.16" cy="86.78" r="1.16" fill="#109618" fill-opacity="0.26" stroke="#109618" stroke-opacity="0.42" stroke-width="0.25"/>
<circle cx="206.38" cy="82.51" r="1.54" fill="#109618" fill-opacity="0.18" stroke="#109618" stroke-opacity="0.28" stroke-width="0.25"/>
<circle cx="206.77" cy="75.11" r="0.91" fill="#109618" fill-opacity="0.18" stroke="#109618" stroke-opacity="0.3" stroke-width="0.25"/>
<circle cx="205.8" cy="79.67" r="0.97" fill="#109618" fill-opacity="0.2" stroke="#109618" stroke-opacity="0.33" stroke-width="0.25"/>
<circle cx="198.51" cy="86.66" r="1.07" fill="#109618" fill-opacity="0.15" stroke="#109618" stroke-opacity="0.24" stroke-width="0.25"/>
<circle cx="213.75" cy="84.37" r="1.02" fill="#109618" fill-opacity="0.26" stroke="#109618" stroke-opacity="0.43" stroke-width="0.25"/>
<circle cx="209.95" cy="84.39" r="1.46" fill="#109618" fill-opacity="0.24" stroke="#109618" stroke-opacity="0.38" stroke-width="0.25"/>
<circle cx="204.03" cy="78.62" r="1" fill="#109618" fill-opacity="0.17" stroke="#109618" stroke-opacity="0.27" stroke-width="0.25"/>
<circle cx="212.23" cy="81.73" r="1.52" fill="#109618" fill-opacity="0.15" stroke="#109618" stroke-opacity="0.25" stroke-width="0.25"/>
<circle cx="199.81" cy="87.05" r="1.39" fill="#109618" fill-opacity="0.22" stroke="#109618" stroke-opacity="0.36" stroke-width="0.25"/>
<circle cx="197.66" cy="87.14" r="1.46" fill="#109618" fill-opacity="0.21" stroke="#109618" stroke-opacity="0.34" stroke-width="0.25"/>
<rect x="21" y="88.35" width="49.8" height="2.1" fill="#df2410"/>
<rect x="72.9" y="88.35" width="122.3" height="2.1" fill="#ff9200"/>
<rect x="197.1" y="88.35" width="17.6" height="2.1" fill="#109618"/>
<text transform="translate(44.2,93.2) rotate(31)" font-size="2.7" fill="#444" font-family="Liberation Sans, sans-serif">GO:MF (14)</text>
<text transform="translate(132.3,93.2) rotate(31)" font-size="2.7" fill="#444" font-family="Liberation Sans, sans-serif">GO:BP (271)</text>
<text transform="translate(204.4,93.2) rotate(31)" font-size="2.7" fill="#444" font-family="Liberation Sans, sans-serif">GO:CC (39)</text>
<circle cx="49.6" cy="67.5" r="1.2" fill="#e8190f" stroke="#444" stroke-width="0.35"/>
<text x="50.32" y="66.1" font-size="2" fill="#555" font-family="Liberation Sans, sans-serif">7</text>
<circle cx="57.5" cy="68.2" r="1.6" fill="#e8190f" stroke="#444" stroke-width="0.35"/>
<text x="58.46" y="66.4" font-size="2" fill="#555" font-family="Liberation Sans, sans-serif">8</text>
<circle cx="82.4" cy="56.4" r="1.4" fill="#ff9200" stroke="#444" stroke-width="0.35"/>
<text x="83.24" y="54.8" font-size="2" fill="#555" font-family="Liberation Sans, sans-serif">2</text>
<circle cx="84.9" cy="62.2" r="1.7" fill="#ff9200" stroke="#444" stroke-width="0.35"/>
<text x="85.92" y="60.3" font-size="2" fill="#555" font-family="Liberation Sans, sans-serif">4</text>
<circle cx="198.2" cy="40.2" r="1.8" fill="#109618" stroke="#444" stroke-width="0.35"/>
<text x="199.28" y="38.2" font-size="2" fill="#555" font-family="Liberation Sans, sans-serif">1</text>
<circle cx="199.3" cy="42.2" r="1.9" fill="#109618" stroke="#444" stroke-width="0.35"/>
<text x="200.44" y="40.1" font-size="2" fill="#555" font-family="Liberation Sans, sans-serif"></text>
<circle cx="200.4" cy="43.8" r="1.9" fill="#109618" stroke="#444" stroke-width="0.35"/>
<text x="201.54" y="41.7" font-size="2" fill="#555" font-family="Liberation Sans, sans-serif"></text>
<line x1="19.5" y1="218.2" x2="19.5" y2="270.2" stroke="#888" stroke-width="0.4"/>
<line x1="18.6" y1="270.1" x2="19.5" y2="270.1" stroke="#888" stroke-width="0.3"/>
<text x="17.6" y="270.8" font-size="2.3" fill="#555" text-anchor="end" font-family="Liberation Sans, sans-serif">0</text>
<line x1="18.6" y1="263.1" x2="19.5" y2="263.1" stroke="#888" stroke-width="0.3"/>
<text x="17.6" y="263.8" font-size="2.3" fill="#555" text-anchor="end" font-family="Liberation Sans, sans-serif">5</text>
<line x1="18.6" y1="256" x2="19.5" y2="256" stroke="#888" stroke-width="0.3"/>
<text x="17.6" y="256.7" font-size="2.3" fill="#555" text-anchor="end" font-family="Liberation Sans, sans-serif">10</text>
<line x1="18.6" y1="248.8" x2="19.5" y2="248.8" stroke="#888" stroke-width="0.3"/>
<text x="17.6" y="249.5" font-size="2.3" fill="#555" text-anchor="end" font-family="Liberation Sans, sans-serif">15</text>
<line x1="18.6" y1="241.6" x2="19.5" y2="241.6" stroke="#888" stroke-width="0.3"/>
<text x="17.6" y="242.3" font-size="2.3" fill="#555" text-anchor="end" font-family="Liberation Sans, sans-serif">20</text>
<line x1="18.6" y1="234.4" x2="19.5" y2="234.4" stroke="#888" stroke-width="0.3"/>
<text x="17.6" y="235.1" font-size="2.3" fill="#555" text-anchor="end" font-family="Liberation Sans, sans-serif">25</text>
<line x1="18.6" y1="227.2" x2="19.5" y2="227.2" stroke="#888" stroke-width="0.3"/>
<text x="17.6" y="227.9" font-size="2.3" fill="#555" text-anchor="end" font-family="Liberation Sans, sans-serif">30</text>
<line x1="18.6" y1="220" x2="19.5" y2="220" stroke="#888" stroke-width="0.3"/>
<text x="17.6" y="220.7" font-size="2.3" fill="#555" text-anchor="end" font-family="Liberation Sans, sans-serif">35</text>
<text transform="translate(12.8,244.5) rotate(-90)" font-size="2.5" fill="#555" text-anchor="middle" font-family="Liberation Sans, sans-serif">-log₁₀(pₐₔⱼ)</text>
<circle cx="22" cy="261" r="1.1" fill="#df2410" fill-opacity="0.2" stroke="#df2410" stroke-opacity="0.33" stroke-width="0.25"/>
<circle cx="28.5" cy="266.5" r="1.9" fill="#df2410" fill-opacity="0.28" stroke="#df2410" stroke-opacity="0.45" stroke-width="0.25"/>
<circle cx="28" cy="268.5" r="1.9" fill="#df2410" fill-opacity="0.32" stroke="#df2410" stroke-opacity="0.52" stroke-width="0.25"/>
<circle cx="25" cy="268" r="1.1" fill="#df2410" fill-opacity="0.24" stroke="#df2410" stroke-opacity="0.39" stroke-width="0.25"/>
<circle cx="36" cy="267.5" r="0.9" fill="#df2410" fill-opacity="0.28" stroke="#df2410" stroke-opacity="0.45" stroke-width="0.25"/>
<circle cx="39.5" cy="262.5" r="1.4" fill="#df2410" fill-opacity="0.16" stroke="#df2410" stroke-opacity="0.26" stroke-width="0.25"/>
<circle cx="42.5" cy="264" r="0.9" fill="#df2410" fill-opacity="0.16" stroke="#df2410" stroke-opacity="0.26" stroke-width="0.25"/>
<circle cx="49.5" cy="262.5" r="1.4" fill="#df2410" fill-opacity="0.16" stroke="#df2410" stroke-opacity="0.26" stroke-width="0.25"/>
<circle cx="50.5" cy="267.5" r="1.4" fill="#df2410" fill-opacity="0.24" stroke="#df2410" stroke-opacity="0.39" stroke-width="0.25"/>
<circle cx="57" cy="266" r="0.9" fill="#df2410" fill-opacity="0.28" stroke="#df2410" stroke-opacity="0.45" stroke-width="0.25"/>
<circle cx="67.5" cy="261" r="1.1" fill="#df2410" fill-opacity="0.16" stroke="#df2410" stroke-opacity="0.26" stroke-width="0.25"/>
<circle cx="48" cy="268" r="0.9" fill="#df2410" fill-opacity="0.2" stroke="#df2410" stroke-opacity="0.33" stroke-width="0.25"/>
<circle cx="32" cy="268" r="0.7" fill="#df2410" fill-opacity="0.24" stroke="#df2410" stroke-opacity="0.39" stroke-width="0.25"/>
<circle cx="60" cy="268.5" r="0.7" fill="#df2410" fill-opacity="0.24" stroke="#df2410" stroke-opacity="0.39" stroke-width="0.25"/>
<circle cx="44" cy="268.5" r="0.7" fill="#df2410" fill-opacity="0.2" stroke="#df2410" stroke-opacity="0.33" stroke-width="0.25"/>
<circle cx="110" cy="267" r="1.9" fill="#ff9200" fill-opacity="0.32" stroke="#ff9200" stroke-opacity="0.52" stroke-width="0.25"/>
<circle cx="111.5" cy="260" r="1.1" fill="#ff9200" fill-opacity="0.2" stroke="#ff9200" stroke-opacity="0.33" stroke-width="0.25"/>
<circle cx="113" cy="264" r="1.2" fill="#ff9200" fill-opacity="0.24" stroke="#ff9200" stroke-opacity="0.39" stroke-width="0.25"/>
<circle cx="119" cy="258.5" r="1.4" fill="#ff9200" fill-opacity="0.24" stroke="#ff9200" stroke-opacity="0.39" stroke-width="0.25"/>
<circle cx="121" cy="266" r="2.1" fill="#ff9200" fill-opacity="0.4" stroke="#ff9200" stroke-opacity="0.65" stroke-width="0.25"/>
<circle cx="125" cy="266" r="1.4" fill="#ff9200" fill-opacity="0.28" stroke="#ff9200" stroke-opacity="0.45" stroke-width="0.25"/>
<circle cx="121" cy="253" r="1.1" fill="#ff9200" fill-opacity="0.16" stroke="#ff9200" stroke-opacity="0.26" stroke-width="0.25"/>
<circle cx="125" cy="252.5" r="1.1" fill="#ff9200" fill-opacity="0.16" stroke="#ff9200" stroke-opacity="0.26" stroke-width="0.25"/>
<circle cx="124" cy="256" r="0.9" fill="#ff9200" fill-opacity="0.16" stroke="#ff9200" stroke-opacity="0.26" stroke-width="0.25"/>
<circle cx="133" cy="254" r="1.4" fill="#ff9200" fill-opacity="0.2" stroke="#ff9200" stroke-opacity="0.33" stroke-width="0.25"/>
<circle cx="133" cy="260" r="1.4" fill="#ff9200" fill-opacity="0.28" stroke="#ff9200" stroke-opacity="0.45" stroke-width="0.25"/>
<circle cx="134" cy="266" r="2.7" fill="#ff9200" fill-opacity="0.48" stroke="#ff9200" stroke-opacity="0.78" stroke-width="0.25"/>
<circle cx="137" cy="266" r="1.9" fill="#ff9200" fill-opacity="0.32" stroke="#ff9200" stroke-opacity="0.52" stroke-width="0.25"/>
<circle cx="142" cy="262" r="0.9" fill="#ff9200" fill-opacity="0.2" stroke="#ff9200" stroke-opacity="0.33" stroke-width="0.25"/>
<circle cx="146" cy="263" r="1.4" fill="#ff9200" fill-opacity="0.24" stroke="#ff9200" stroke-opacity="0.39" stroke-width="0.25"/>
<circle cx="151.5" cy="257.5" r="0.9" fill="#ff9200" fill-opacity="0.16" stroke="#ff9200" stroke-opacity="0.26" stroke-width="0.25"/>
<circle cx="148" cy="264" r="1.4" fill="#ff9200" fill-opacity="0.24" stroke="#ff9200" stroke-opacity="0.39" stroke-width="0.25"/>
<circle cx="151" cy="266" r="1.7" fill="#ff9200" fill-opacity="0.28" stroke="#ff9200" stroke-opacity="0.45" stroke-width="0.25"/>
<circle cx="153" cy="268" r="1.2" fill="#ff9200" fill-opacity="0.24" stroke="#ff9200" stroke-opacity="0.39" stroke-width="0.25"/>
<circle cx="157" cy="261" r="0.9" fill="#ff9200" fill-opacity="0.16" stroke="#ff9200" stroke-opacity="0.26" stroke-width="0.25"/>
<circle cx="158" cy="267.5" r="1.1" fill="#ff9200" fill-opacity="0.24" stroke="#ff9200" stroke-opacity="0.39" stroke-width="0.25"/>
<circle cx="161" cy="266" r="1.2" fill="#ff9200" fill-opacity="0.24" stroke="#ff9200" stroke-opacity="0.39" stroke-width="0.25"/>
<circle cx="165" cy="262" r="0.9" fill="#ff9200" fill-opacity="0.16" stroke="#ff9200" stroke-opacity="0.26" stroke-width="0.25"/>
<circle cx="164.5" cy="267" r="1.2" fill="#ff9200" fill-opacity="0.24" stroke="#ff9200" stroke-opacity="0.39" stroke-width="0.25"/>
<circle cx="172" cy="262" r="1.1" fill="#ff9200" fill-opacity="0.2" stroke="#ff9200" stroke-opacity="0.33" stroke-width="0.25"/>
<circle cx="173" cy="265" r="1.2" fill="#ff9200" fill-opacity="0.24" stroke="#ff9200" stroke-opacity="0.39" stroke-width="0.25"/>
<circle cx="176" cy="267" r="1.4" fill="#ff9200" fill-opacity="0.28" stroke="#ff9200" stroke-opacity="0.45" stroke-width="0.25"/>
<circle cx="186" cy="268" r="0.9" fill="#ff9200" fill-opacity="0.16" stroke="#ff9200" stroke-opacity="0.26" stroke-width="0.25"/>
<circle cx="190" cy="258" r="1.1" fill="#ff9200" fill-opacity="0.2" stroke="#ff9200" stroke-opacity="0.33" stroke-width="0.25"/>
<circle cx="190.5" cy="262" r="1.1" fill="#ff9200" fill-opacity="0.2" stroke="#ff9200" stroke-opacity="0.33" stroke-width="0.25"/>
<circle cx="190" cy="266" r="1.1" fill="#ff9200" fill-opacity="0.24" stroke="#ff9200" stroke-opacity="0.39" stroke-width="0.25"/>
<circle cx="194.5" cy="267" r="1.3" fill="#ff9200" fill-opacity="0.28" stroke="#ff9200" stroke-opacity="0.45" stroke-width="0.25"/>
<circle cx="74" cy="267" r="1.9" fill="#ff9200" fill-opacity="0.36" stroke="#ff9200" stroke-opacity="0.59" stroke-width="0.25"/>
<circle cx="74" cy="262" r="1.4" fill="#ff9200" fill-opacity="0.16" stroke="#ff9200" stroke-opacity="0.26" stroke-width="0.25"/>
<circle cx="74" cy="254" r="1.1" fill="#ff9200" fill-opacity="0.12" stroke="#ff9200" stroke-opacity="0.2" stroke-width="0.25"/>
<circle cx="96" cy="258" r="1.2" fill="#ff9200" fill-opacity="0.16" stroke="#ff9200" stroke-opacity="0.26" stroke-width="0.25"/>
<circle cx="98" cy="252" r="1.1" fill="#ff9200" fill-opacity="0.12" stroke="#ff9200" stroke-opacity="0.2" stroke-width="0.25"/>
<circle cx="103" cy="262" r="1.4" fill="#ff9200" fill-opacity="0.24" stroke="#ff9200" stroke-opacity="0.39" stroke-width="0.25"/>
<circle cx="105" cy="267" r="1.9" fill="#ff9200" fill-opacity="0.32" stroke="#ff9200" stroke-opacity="0.52" stroke-width="0.25"/>
<circle cx="87.87" cy="267.78" r="1.27" fill="#ff9200" fill-opacity="0.41" stroke="#ff9200" stroke-opacity="0.67" stroke-width="0.25"/>
<circle cx="80.11" cy="266.73" r="2.18" fill="#ff9200" fill-opacity="0.26" stroke="#ff9200" stroke-opacity="0.42" stroke-width="0.25"/>
<circle cx="89.42" cy="265.73" r="1.15" fill="#ff9200" fill-opacity="0.32" stroke="#ff9200" stroke-opacity="0.51" stroke-width="0.25"/>
<circle cx="91.96" cy="267.15" r="1.97" fill="#ff9200" fill-opacity="0.27" stroke="#ff9200" stroke-opacity="0.44" stroke-width="0.25"/>
<circle cx="84.05" cy="269.54" r="1.71" fill="#ff9200" fill-opacity="0.42" stroke="#ff9200" stroke-opacity="0.69" stroke-width="0.25"/>
<circle cx="90.04" cy="264.26" r="1.56" fill="#ff9200" fill-opacity="0.39" stroke="#ff9200" stroke-opacity="0.63" stroke-width="0.25"/>
<circle cx="81.73" cy="268.39" r="1.91" fill="#ff9200" fill-opacity="0.39" stroke="#ff9200" stroke-opacity="0.63" stroke-width="0.25"/>
<circle cx="87.17" cy="269.66" r="1.42" fill="#ff9200" fill-opacity="0.28" stroke="#ff9200" stroke-opacity="0.46" stroke-width="0.25"/>
<circle cx="84.78" cy="263.92" r="1.34" fill="#ff9200" fill-opacity="0.42" stroke="#ff9200" stroke-opacity="0.68" stroke-width="0.25"/>
<circle cx="94.95" cy="269.82" r="1.55" fill="#ff9200" fill-opacity="0.34" stroke="#ff9200" stroke-opacity="0.55" stroke-width="0.25"/>
<circle cx="80.4" cy="267.37" r="2.19" fill="#ff9200" fill-opacity="0.26" stroke="#ff9200" stroke-opacity="0.43" stroke-width="0.25"/>
<circle cx="90.15" cy="269.49" r="1.79" fill="#ff9200" fill-opacity="0.42" stroke="#ff9200" stroke-opacity="0.68" stroke-width="0.25"/>
<circle cx="83.45" cy="269.98" r="1.2" fill="#ff9200" fill-opacity="0.35" stroke="#ff9200" stroke-opacity="0.57" stroke-width="0.25"/>
<circle cx="80.3" cy="269.68" r="1.7" fill="#ff9200" fill-opacity="0.42" stroke="#ff9200" stroke-opacity="0.69" stroke-width="0.25"/>
<circle cx="87.14" cy="267.58" r="1.87" fill="#ff9200" fill-opacity="0.26" stroke="#ff9200" stroke-opacity="0.42" stroke-width="0.25"/>
<circle cx="89.86" cy="269.19" r="1.83" fill="#ff9200" fill-opacity="0.43" stroke="#ff9200" stroke-opacity="0.7" stroke-width="0.25"/>
<circle cx="80.92" cy="266.28" r="1.83" fill="#ff9200" fill-opacity="0.27" stroke="#ff9200" stroke-opacity="0.44" stroke-width="0.25"/>
<circle cx="84.56" cy="262.05" r="2.3" fill="#ff9200" fill-opacity="0.26" stroke="#ff9200" stroke-opacity="0.43" stroke-width="0.25"/>
<circle cx="91.99" cy="262.51" r="1.38" fill="#ff9200" fill-opacity="0.36" stroke="#ff9200" stroke-opacity="0.59" stroke-width="0.25"/>
<circle cx="80.73" cy="267.83" r="1.91" fill="#ff9200" fill-opacity="0.36" stroke="#ff9200" stroke-opacity="0.58" stroke-width="0.25"/>
<circle cx="93.17" cy="269.67" r="1.52" fill="#ff9200" fill-opacity="0.41" stroke="#ff9200" stroke-opacity="0.67" stroke-width="0.25"/>
<circle cx="89.93" cy="267.16" r="1.58" fill="#ff9200" fill-opacity="0.44" stroke="#ff9200" stroke-opacity="0.71" stroke-width="0.25"/>
<circle cx="89.77" cy="269.96" r="2.06" fill="#ff9200" fill-opacity="0.31" stroke="#ff9200" stroke-opacity="0.5" stroke-width="0.25"/>
<circle cx="87.37" cy="268.93" r="1.63" fill="#ff9200" fill-opacity="0.3" stroke="#ff9200" stroke-opacity="0.5" stroke-width="0.25"/>
<circle cx="81.51" cy="265.62" r="1.22" fill="#ff9200" fill-opacity="0.4" stroke="#ff9200" stroke-opacity="0.64" stroke-width="0.25"/>
<circle cx="80.43" cy="264.2" r="2.07" fill="#ff9200" fill-opacity="0.34" stroke="#ff9200" stroke-opacity="0.55" stroke-width="0.25"/>
<circle cx="92.06" cy="268.69" r="1.99" fill="#ff9200" fill-opacity="0.33" stroke="#ff9200" stroke-opacity="0.53" stroke-width="0.25"/>
<circle cx="83.93" cy="262.37" r="1.58" fill="#ff9200" fill-opacity="0.31" stroke="#ff9200" stroke-opacity="0.51" stroke-width="0.25"/>
<circle cx="94.62" cy="267.81" r="1.9" fill="#ff9200" fill-opacity="0.27" stroke="#ff9200" stroke-opacity="0.45" stroke-width="0.25"/>
<circle cx="94.34" cy="268.62" r="1.16" fill="#ff9200" fill-opacity="0.44" stroke="#ff9200" stroke-opacity="0.71" stroke-width="0.25"/>
<circle cx="82.94" cy="262.55" r="2.28" fill="#ff9200" fill-opacity="0.36" stroke="#ff9200" stroke-opacity="0.59" stroke-width="0.25"/>
<circle cx="80.2" cy="269.79" r="1.35" fill="#ff9200" fill-opacity="0.32" stroke="#ff9200" stroke-opacity="0.52" stroke-width="0.25"/>
<circle cx="90.4" cy="262.35" r="1.53" fill="#ff9200" fill-opacity="0.27" stroke="#ff9200" stroke-opacity="0.44" stroke-width="0.25"/>
<circle cx="89.55" cy="269.39" r="1.2" fill="#ff9200" fill-opacity="0.35" stroke="#ff9200" stroke-opacity="0.57" stroke-width="0.25"/>
<circle cx="91.83" cy="269.77" r="1.64" fill="#ff9200" fill-opacity="0.38" stroke="#ff9200" stroke-opacity="0.62" stroke-width="0.25"/>
<circle cx="92.99" cy="267.7" r="2.16" fill="#ff9200" fill-opacity="0.27" stroke="#ff9200" stroke-opacity="0.44" stroke-width="0.25"/>
<circle cx="92.16" cy="264.29" r="2.16" fill="#ff9200" fill-opacity="0.34" stroke="#ff9200" stroke-opacity="0.55" stroke-width="0.25"/>
<circle cx="81.69" cy="269.84" r="1.73" fill="#ff9200" fill-opacity="0.27" stroke="#ff9200" stroke-opacity="0.45" stroke-width="0.25"/>
<circle cx="90.7" cy="269.68" r="2.04" fill="#ff9200" fill-opacity="0.28" stroke="#ff9200" stroke-opacity="0.46" stroke-width="0.25"/>
<circle cx="80.22" cy="269.16" r="1.65" fill="#ff9200" fill-opacity="0.35" stroke="#ff9200" stroke-opacity="0.57" stroke-width="0.25"/>
<circle cx="86.6" cy="269.18" r="1.68" fill="#ff9200" fill-opacity="0.43" stroke="#ff9200" stroke-opacity="0.7" stroke-width="0.25"/>
<circle cx="89.1" cy="262.61" r="1.13" fill="#ff9200" fill-opacity="0.44" stroke="#ff9200" stroke-opacity="0.71" stroke-width="0.25"/>
<circle cx="95.11" cy="266.37" r="1.73" fill="#ff9200" fill-opacity="0.35" stroke="#ff9200" stroke-opacity="0.56" stroke-width="0.25"/>
<circle cx="95.46" cy="269.77" r="1.87" fill="#ff9200" fill-opacity="0.35" stroke="#ff9200" stroke-opacity="0.57" stroke-width="0.25"/>
<circle cx="85.11" cy="264.73" r="1.96" fill="#ff9200" fill-opacity="0.26" stroke="#ff9200" stroke-opacity="0.42" stroke-width="0.25"/>
<circle cx="91.89" cy="267.14" r="1.69" fill="#ff9200" fill-opacity="0.37" stroke="#ff9200" stroke-opacity="0.6" stroke-width="0.25"/>
<circle cx="80.9" cy="265.86" r="1.55" fill="#ff9200" fill-opacity="0.42" stroke="#ff9200" stroke-opacity="0.68" stroke-width="0.25"/>
<circle cx="83.93" cy="263.79" r="1.98" fill="#ff9200" fill-opacity="0.36" stroke="#ff9200" stroke-opacity="0.59" stroke-width="0.25"/>
<circle cx="94.89" cy="269.89" r="1.82" fill="#ff9200" fill-opacity="0.36" stroke="#ff9200" stroke-opacity="0.59" stroke-width="0.25"/>
<circle cx="91.53" cy="267.52" r="1.18" fill="#ff9200" fill-opacity="0.28" stroke="#ff9200" stroke-opacity="0.45" stroke-width="0.25"/>
<circle cx="90.34" cy="269.13" r="1.18" fill="#ff9200" fill-opacity="0.31" stroke="#ff9200" stroke-opacity="0.51" stroke-width="0.25"/>
<circle cx="87.99" cy="266.45" r="1.13" fill="#ff9200" fill-opacity="0.4" stroke="#ff9200" stroke-opacity="0.64" stroke-width="0.25"/>
<circle cx="85.68" cy="264.18" r="1.11" fill="#ff9200" fill-opacity="0.43" stroke="#ff9200" stroke-opacity="0.7" stroke-width="0.25"/>
<circle cx="90.03" cy="262.24" r="2.28" fill="#ff9200" fill-opacity="0.41" stroke="#ff9200" stroke-opacity="0.66" stroke-width="0.25"/>
<circle cx="81.81" cy="267.97" r="1.38" fill="#ff9200" fill-opacity="0.4" stroke="#ff9200" stroke-opacity="0.64" stroke-width="0.25"/>
<circle cx="83.27" cy="268.87" r="1.23" fill="#ff9200" fill-opacity="0.26" stroke="#ff9200" stroke-opacity="0.43" stroke-width="0.25"/>
<circle cx="95.95" cy="262.25" r="1.55" fill="#ff9200" fill-opacity="0.39" stroke="#ff9200" stroke-opacity="0.63" stroke-width="0.25"/>
<circle cx="87.95" cy="266.56" r="1.54" fill="#ff9200" fill-opacity="0.37" stroke="#ff9200" stroke-opacity="0.6" stroke-width="0.25"/>
<circle cx="84.01" cy="268.64" r="1.72" fill="#ff9200" fill-opacity="0.28" stroke="#ff9200" stroke-opacity="0.45" stroke-width="0.25"/>
<circle cx="87.47" cy="262.58" r="1.13" fill="#ff9200" fill-opacity="0.26" stroke="#ff9200" stroke-opacity="0.42" stroke-width="0.25"/>
<circle cx="93.6" cy="269.8" r="1.4" fill="#ff9200" fill-opacity="0.41" stroke="#ff9200" stroke-opacity="0.67" stroke-width="0.25"/>
<circle cx="90.29" cy="268.88" r="1.17" fill="#ff9200" fill-opacity="0.3" stroke="#ff9200" stroke-opacity="0.48" stroke-width="0.25"/>
<circle cx="85.1" cy="264.01" r="2.27" fill="#ff9200" fill-opacity="0.4" stroke="#ff9200" stroke-opacity="0.65" stroke-width="0.25"/>
<circle cx="95.33" cy="262.71" r="2.15" fill="#ff9200" fill-opacity="0.42" stroke="#ff9200" stroke-opacity="0.69" stroke-width="0.25"/>
<circle cx="96.45" cy="269.63" r="1.48" fill="#ff9200" fill-opacity="0.29" stroke="#ff9200" stroke-opacity="0.47" stroke-width="0.25"/>
<circle cx="90.27" cy="266.82" r="1.52" fill="#ff9200" fill-opacity="0.41" stroke="#ff9200" stroke-opacity="0.66" stroke-width="0.25"/>
<circle cx="86.78" cy="268.96" r="1.43" fill="#ff9200" fill-opacity="0.33" stroke="#ff9200" stroke-opacity="0.54" stroke-width="0.25"/>
<circle cx="90.38" cy="266.16" r="1.63" fill="#ff9200" fill-opacity="0.28" stroke="#ff9200" stroke-opacity="0.45" stroke-width="0.25"/>
<circle cx="86.84" cy="268.14" r="1.3" fill="#ff9200" fill-opacity="0.35" stroke="#ff9200" stroke-opacity="0.57" stroke-width="0.25"/>
<circle cx="83.21" cy="264.86" r="1.89" fill="#ff9200" fill-opacity="0.27" stroke="#ff9200" stroke-opacity="0.43" stroke-width="0.25"/>
<circle cx="118.26" cy="268.04" r="1.35" fill="#ff9200" fill-opacity="0.28" stroke="#ff9200" stroke-opacity="0.46" stroke-width="0.25"/>
<circle cx="122.89" cy="261.69" r="1.63" fill="#ff9200" fill-opacity="0.2" stroke="#ff9200" stroke-opacity="0.33" stroke-width="0.25"/>
<circle cx="115.43" cy="268.06" r="0.92" fill="#ff9200" fill-opacity="0.27" stroke="#ff9200" stroke-opacity="0.44" stroke-width="0.25"/>
<circle cx="113" cy="261.93" r="1.22" fill="#ff9200" fill-opacity="0.33" stroke="#ff9200" stroke-opacity="0.53" stroke-width="0.25"/>
<circle cx="114.48" cy="269.69" r="1.62" fill="#ff9200" fill-opacity="0.22" stroke="#ff9200" stroke-opacity="0.35" stroke-width="0.25"/>
<circle cx="115.14" cy="269.81" r="0.91" fill="#ff9200" fill-opacity="0.34" stroke="#ff9200" stroke-opacity="0.56" stroke-width="0.25"/>
<circle cx="98.43" cy="269.42" r="1.06" fill="#ff9200" fill-opacity="0.18" stroke="#ff9200" stroke-opacity="0.29" stroke-width="0.25"/>
<circle cx="125.02" cy="260.07" r="1.55" fill="#ff9200" fill-opacity="0.24" stroke="#ff9200" stroke-opacity="0.39" stroke-width="0.25"/>
<circle cx="127.21" cy="266.4" r="1.03" fill="#ff9200" fill-opacity="0.3" stroke="#ff9200" stroke-opacity="0.48" stroke-width="0.25"/>
<circle cx="109.21" cy="268.6" r="1.22" fill="#ff9200" fill-opacity="0.24" stroke="#ff9200" stroke-opacity="0.39" stroke-width="0.25"/>
<circle cx="103.2" cy="265.21" r="1.77" fill="#ff9200" fill-opacity="0.27" stroke="#ff9200" stroke-opacity="0.45" stroke-width="0.25"/>
<circle cx="97.32" cy="264.34" r="0.92" fill="#ff9200" fill-opacity="0.26" stroke="#ff9200" stroke-opacity="0.42" stroke-width="0.25"/>
<circle cx="126.43" cy="264.43" r="1.81" fill="#ff9200" fill-opacity="0.31" stroke="#ff9200" stroke-opacity="0.51" stroke-width="0.25"/>
<circle cx="106.28" cy="269.46" r="1.35" fill="#ff9200" fill-opacity="0.3" stroke="#ff9200" stroke-opacity="0.48" stroke-width="0.25"/>
<circle cx="104.89" cy="268.1" r="1.65" fill="#ff9200" fill-opacity="0.23" stroke="#ff9200" stroke-opacity="0.37" stroke-width="0.25"/>
<circle cx="117.43" cy="265.97" r="1.83" fill="#ff9200" fill-opacity="0.17" stroke="#ff9200" stroke-opacity="0.27" stroke-width="0.25"/>
<circle cx="103.34" cy="263.13" r="1.57" fill="#ff9200" fill-opacity="0.18" stroke="#ff9200" stroke-opacity="0.29" stroke-width="0.25"/>
<circle cx="101.57" cy="269.03" r="1.44" fill="#ff9200" fill-opacity="0.34" stroke="#ff9200" stroke-opacity="0.55" stroke-width="0.25"/>
<circle cx="104.36" cy="269.09" r="1.59" fill="#ff9200" fill-opacity="0.24" stroke="#ff9200" stroke-opacity="0.4" stroke-width="0.25"/>
<circle cx="125.79" cy="260.02" r="1.84" fill="#ff9200" fill-opacity="0.3" stroke="#ff9200" stroke-opacity="0.49" stroke-width="0.25"/>
<circle cx="113.87" cy="269.85" r="1.71" fill="#ff9200" fill-opacity="0.24" stroke="#ff9200" stroke-opacity="0.39" stroke-width="0.25"/>
<circle cx="112.76" cy="264.97" r="1.86" fill="#ff9200" fill-opacity="0.27" stroke="#ff9200" stroke-opacity="0.44" stroke-width="0.25"/>
<circle cx="128.21" cy="260.53" r="0.98" fill="#ff9200" fill-opacity="0.23" stroke="#ff9200" stroke-opacity="0.38" stroke-width="0.25"/>
<circle cx="127.21" cy="263.28" r="1.87" fill="#ff9200" fill-opacity="0.2" stroke="#ff9200" stroke-opacity="0.32" stroke-width="0.25"/>
<circle cx="115.06" cy="260.99" r="1.44" fill="#ff9200" fill-opacity="0.29" stroke="#ff9200" stroke-opacity="0.48" stroke-width="0.25"/>
<circle cx="130.15" cy="269.28" r="0.96" fill="#ff9200" fill-opacity="0.33" stroke="#ff9200" stroke-opacity="0.54" stroke-width="0.25"/>
<circle cx="116.76" cy="269.1" r="1.73" fill="#ff9200" fill-opacity="0.22" stroke="#ff9200" stroke-opacity="0.35" stroke-width="0.25"/>
<circle cx="101.41" cy="268.38" r="0.94" fill="#ff9200" fill-opacity="0.24" stroke="#ff9200" stroke-opacity="0.39" stroke-width="0.25"/>
<circle cx="123.51" cy="266.94" r="1.86" fill="#ff9200" fill-opacity="0.17" stroke="#ff9200" stroke-opacity="0.27" stroke-width="0.25"/>
<circle cx="102.88" cy="269.45" r="1.47" fill="#ff9200" fill-opacity="0.2" stroke="#ff9200" stroke-opacity="0.32" stroke-width="0.25"/>
<circle cx="119.69" cy="266.22" r="1.48" fill="#ff9200" fill-opacity="0.33" stroke="#ff9200" stroke-opacity="0.53" stroke-width="0.25"/>
<circle cx="123.86" cy="261.14" r="1.05" fill="#ff9200" fill-opacity="0.24" stroke="#ff9200" stroke-opacity="0.38" stroke-width="0.25"/>
<circle cx="129.65" cy="267.5" r="1.19" fill="#ff9200" fill-opacity="0.26" stroke="#ff9200" stroke-opacity="0.42" stroke-width="0.25"/>
<circle cx="103.15" cy="262.19" r="1.54" fill="#ff9200" fill-opacity="0.18" stroke="#ff9200" stroke-opacity="0.29" stroke-width="0.25"/>
<circle cx="129.79" cy="266.25" r="1.15" fill="#ff9200" fill-opacity="0.28" stroke="#ff9200" stroke-opacity="0.46" stroke-width="0.25"/>
<circle cx="129.29" cy="267.96" r="0.91" fill="#ff9200" fill-opacity="0.2" stroke="#ff9200" stroke-opacity="0.32" stroke-width="0.25"/>
<circle cx="98.99" cy="266.16" r="1.21" fill="#ff9200" fill-opacity="0.33" stroke="#ff9200" stroke-opacity="0.54" stroke-width="0.25"/>
<circle cx="104.01" cy="269.98" r="1.36" fill="#ff9200" fill-opacity="0.18" stroke="#ff9200" stroke-opacity="0.3" stroke-width="0.25"/>
<circle cx="107.55" cy="268.93" r="1.08" fill="#ff9200" fill-opacity="0.29" stroke="#ff9200" stroke-opacity="0.47" stroke-width="0.25"/>
<circle cx="128.83" cy="267.75" r="1.54" fill="#ff9200" fill-opacity="0.22" stroke="#ff9200" stroke-opacity="0.37" stroke-width="0.25"/>
<circle cx="126.5" cy="256.47" r="0.92" fill="#ff9200" fill-opacity="0.2" stroke="#ff9200" stroke-opacity="0.33" stroke-width="0.25"/>
<circle cx="89.12" cy="261.53" r="0.92" fill="#ff9200" fill-opacity="0.22" stroke="#ff9200" stroke-opacity="0.35" stroke-width="0.25"/>
<circle cx="115.62" cy="258.42" r="1.35" fill="#ff9200" fill-opacity="0.2" stroke="#ff9200" stroke-opacity="0.32" stroke-width="0.25"/>
<circle cx="82" cy="254.94" r="1.47" fill="#ff9200" fill-opacity="0.23" stroke="#ff9200" stroke-opacity="0.38" stroke-width="0.25"/>
<circle cx="81.13" cy="256.28" r="1.31" fill="#ff9200" fill-opacity="0.22" stroke="#ff9200" stroke-opacity="0.35" stroke-width="0.25"/>
<circle cx="97.3" cy="255.38" r="1.62" fill="#ff9200" fill-opacity="0.15" stroke="#ff9200" stroke-opacity="0.24" stroke-width="0.25"/>
<circle cx="105.32" cy="253.06" r="0.93" fill="#ff9200" fill-opacity="0.24" stroke="#ff9200" stroke-opacity="0.38" stroke-width="0.25"/>
<circle cx="94.59" cy="257.43" r="1.13" fill="#ff9200" fill-opacity="0.21" stroke="#ff9200" stroke-opacity="0.34" stroke-width="0.25"/>
<circle cx="106.23" cy="254.52" r="0.98" fill="#ff9200" fill-opacity="0.22" stroke="#ff9200" stroke-opacity="0.36" stroke-width="0.25"/>
<circle cx="121.5" cy="255.2" r="1.08" fill="#ff9200" fill-opacity="0.13" stroke="#ff9200" stroke-opacity="0.22" stroke-width="0.25"/>
<circle cx="101.96" cy="261.35" r="1.66" fill="#ff9200" fill-opacity="0.15" stroke="#ff9200" stroke-opacity="0.25" stroke-width="0.25"/>
<circle cx="128.53" cy="260.17" r="1.42" fill="#ff9200" fill-opacity="0.21" stroke="#ff9200" stroke-opacity="0.34" stroke-width="0.25"/>
<circle cx="112.16" cy="257.77" r="0.92" fill="#ff9200" fill-opacity="0.16" stroke="#ff9200" stroke-opacity="0.26" stroke-width="0.25"/>
<circle cx="98.68" cy="252.55" r="1.68" fill="#ff9200" fill-opacity="0.23" stroke="#ff9200" stroke-opacity="0.38" stroke-width="0.25"/>
<circle cx="129.95" cy="260.31" r="0.92" fill="#ff9200" fill-opacity="0.14" stroke="#ff9200" stroke-opacity="0.22" stroke-width="0.25"/>
<circle cx="78.42" cy="260.81" r="1.36" fill="#ff9200" fill-opacity="0.12" stroke="#ff9200" stroke-opacity="0.2" stroke-width="0.25"/>
<circle cx="110.37" cy="258.19" r="1.12" fill="#ff9200" fill-opacity="0.24" stroke="#ff9200" stroke-opacity="0.38" stroke-width="0.25"/>
<circle cx="87.87" cy="253.18" r="1.32" fill="#ff9200" fill-opacity="0.19" stroke="#ff9200" stroke-opacity="0.31" stroke-width="0.25"/>
<circle cx="85.63" cy="254.55" r="1.61" fill="#ff9200" fill-opacity="0.12" stroke="#ff9200" stroke-opacity="0.2" stroke-width="0.25"/>
<circle cx="103.06" cy="255.47" r="1.28" fill="#ff9200" fill-opacity="0.2" stroke="#ff9200" stroke-opacity="0.33" stroke-width="0.25"/>
<circle cx="112.15" cy="258.86" r="1.44" fill="#ff9200" fill-opacity="0.21" stroke="#ff9200" stroke-opacity="0.34" stroke-width="0.25"/>
<circle cx="102.56" cy="256.1" r="1.41" fill="#ff9200" fill-opacity="0.16" stroke="#ff9200" stroke-opacity="0.27" stroke-width="0.25"/>
<circle cx="82.71" cy="257.92" r="1.52" fill="#ff9200" fill-opacity="0.2" stroke="#ff9200" stroke-opacity="0.33" stroke-width="0.25"/>
<circle cx="81.93" cy="257.22" r="1.37" fill="#ff9200" fill-opacity="0.17" stroke="#ff9200" stroke-opacity="0.28" stroke-width="0.25"/>
<circle cx="85.94" cy="255.53" r="1.46" fill="#ff9200" fill-opacity="0.17" stroke="#ff9200" stroke-opacity="0.28" stroke-width="0.25"/>
<circle cx="213.5" cy="229" r="1.2" fill="#109618" fill-opacity="0.16" stroke="#109618" stroke-opacity="0.26" stroke-width="0.25"/>
<circle cx="198" cy="234" r="1.2" fill="#109618" fill-opacity="0.2" stroke="#109618" stroke-opacity="0.33" stroke-width="0.25"/>
<circle cx="203" cy="235" r="1.1" fill="#109618" fill-opacity="0.16" stroke="#109618" stroke-opacity="0.26" stroke-width="0.25"/>
<circle cx="199" cy="241" r="1.2" fill="#109618" fill-opacity="0.2" stroke="#109618" stroke-opacity="0.33" stroke-width="0.25"/>
<circle cx="204" cy="243" r="1.1" fill="#109618" fill-opacity="0.16" stroke="#109618" stroke-opacity="0.26" stroke-width="0.25"/>
<circle cx="210" cy="241" r="1.2" fill="#109618" fill-opacity="0.16" stroke="#109618" stroke-opacity="0.26" stroke-width="0.25"/>
<circle cx="212" cy="247" r="1.2" fill="#109618" fill-opacity="0.16" stroke="#109618" stroke-opacity="0.26" stroke-width="0.25"/>
<circle cx="213.29" cy="246.76" r="0.81" fill="#109618" fill-opacity="0.14" stroke="#109618" stroke-opacity="0.22" stroke-width="0.25"/>
<circle cx="209.29" cy="254.72" r="1.48" fill="#109618" fill-opacity="0.2" stroke="#109618" stroke-opacity="0.32" stroke-width="0.25"/>
<circle cx="210.35" cy="253.28" r="0.8" fill="#109618" fill-opacity="0.22" stroke="#109618" stroke-opacity="0.36" stroke-width="0.25"/>
<circle cx="206.08" cy="248.93" r="1.16" fill="#109618" fill-opacity="0.21" stroke="#109618" stroke-opacity="0.34" stroke-width="0.25"/>
<circle cx="203.76" cy="243.64" r="0.91" fill="#109618" fill-opacity="0.24" stroke="#109618" stroke-opacity="0.39" stroke-width="0.25"/>
<circle cx="209.19" cy="250.9" r="1.13" fill="#109618" fill-opacity="0.22" stroke="#109618" stroke-opacity="0.36" stroke-width="0.25"/>
<circle cx="202.97" cy="244.82" r="1.44" fill="#109618" fill-opacity="0.23" stroke="#109618" stroke-opacity="0.38" stroke-width="0.25"/>
<circle cx="201.8" cy="243.28" r="1.23" fill="#109618" fill-opacity="0.21" stroke="#109618" stroke-opacity="0.35" stroke-width="0.25"/>
<circle cx="198.67" cy="249.39" r="1.12" fill="#109618" fill-opacity="0.21" stroke="#109618" stroke-opacity="0.35" stroke-width="0.25"/>
<circle cx="205.09" cy="255.33" r="0.95" fill="#109618" fill-opacity="0.22" stroke="#109618" stroke-opacity="0.35" stroke-width="0.25"/>
<circle cx="212.33" cy="246.82" r="0.86" fill="#109618" fill-opacity="0.21" stroke="#109618" stroke-opacity="0.34" stroke-width="0.25"/>
<circle cx="212.05" cy="251.41" r="1.14" fill="#109618" fill-opacity="0.14" stroke="#109618" stroke-opacity="0.22" stroke-width="0.25"/>
<circle cx="198.4" cy="244.26" r="0.91" fill="#109618" fill-opacity="0.11" stroke="#109618" stroke-opacity="0.18" stroke-width="0.25"/>
<circle cx="212.78" cy="254.46" r="1.33" fill="#109618" fill-opacity="0.21" stroke="#109618" stroke-opacity="0.35" stroke-width="0.25"/>
<circle cx="201.71" cy="250.05" r="0.96" fill="#109618" fill-opacity="0.2" stroke="#109618" stroke-opacity="0.32" stroke-width="0.25"/>
<circle cx="213.86" cy="244.1" r="1.15" fill="#109618" fill-opacity="0.17" stroke="#109618" stroke-opacity="0.28" stroke-width="0.25"/>
<circle cx="204.35" cy="244.57" r="0.99" fill="#109618" fill-opacity="0.13" stroke="#109618" stroke-opacity="0.21" stroke-width="0.25"/>
<circle cx="209.2" cy="251.92" r="1.49" fill="#109618" fill-opacity="0.2" stroke="#109618" stroke-opacity="0.33" stroke-width="0.25"/>
<circle cx="200.59" cy="255.66" r="1.22" fill="#109618" fill-opacity="0.12" stroke="#109618" stroke-opacity="0.19" stroke-width="0.25"/>
<circle cx="205.9" cy="246.4" r="1.37" fill="#109618" fill-opacity="0.15" stroke="#109618" stroke-opacity="0.25" stroke-width="0.25"/>
<circle cx="206.67" cy="242.97" r="0.89" fill="#109618" fill-opacity="0.14" stroke="#109618" stroke-opacity="0.23" stroke-width="0.25"/>
<circle cx="211.09" cy="250.27" r="1.45" fill="#109618" fill-opacity="0.11" stroke="#109618" stroke-opacity="0.18" stroke-width="0.25"/>
<circle cx="198.93" cy="250.19" r="1.12" fill="#109618" fill-opacity="0.15" stroke="#109618" stroke-opacity="0.24" stroke-width="0.25"/>
<circle cx="201.2" cy="248.83" r="1.43" fill="#109618" fill-opacity="0.23" stroke="#109618" stroke-opacity="0.38" stroke-width="0.25"/>
<circle cx="208.02" cy="251.89" r="1.21" fill="#109618" fill-opacity="0.12" stroke="#109618" stroke-opacity="0.19" stroke-width="0.25"/>
<circle cx="198.56" cy="243.28" r="0.99" fill="#109618" fill-opacity="0.12" stroke="#109618" stroke-opacity="0.19" stroke-width="0.25"/>
<circle cx="211.27" cy="254.04" r="0.97" fill="#109618" fill-opacity="0.12" stroke="#109618" stroke-opacity="0.19" stroke-width="0.25"/>
<circle cx="212.49" cy="245.09" r="0.93" fill="#109618" fill-opacity="0.11" stroke="#109618" stroke-opacity="0.17" stroke-width="0.25"/>
<circle cx="212.74" cy="253.94" r="1.3" fill="#109618" fill-opacity="0.2" stroke="#109618" stroke-opacity="0.32" stroke-width="0.25"/>
<circle cx="207.38" cy="248.34" r="1.09" fill="#109618" fill-opacity="0.14" stroke="#109618" stroke-opacity="0.22" stroke-width="0.25"/>
<circle cx="208.36" cy="268.35" r="1.23" fill="#109618" fill-opacity="0.19" stroke="#109618" stroke-opacity="0.32" stroke-width="0.25"/>
<circle cx="203.68" cy="256.07" r="1.31" fill="#109618" fill-opacity="0.27" stroke="#109618" stroke-opacity="0.44" stroke-width="0.25"/>
<circle cx="208.38" cy="269.99" r="1.5" fill="#109618" fill-opacity="0.31" stroke="#109618" stroke-opacity="0.51" stroke-width="0.25"/>
<circle cx="210.04" cy="262.66" r="1.56" fill="#109618" fill-opacity="0.33" stroke="#109618" stroke-opacity="0.53" stroke-width="0.25"/>
<circle cx="202.15" cy="268.17" r="1.1" fill="#109618" fill-opacity="0.15" stroke="#109618" stroke-opacity="0.24" stroke-width="0.25"/>
<circle cx="201.45" cy="269.2" r="0.81" fill="#109618" fill-opacity="0.22" stroke="#109618" stroke-opacity="0.36" stroke-width="0.25"/>
<circle cx="197.6" cy="263.36" r="1.57" fill="#109618" fill-opacity="0.28" stroke="#109618" stroke-opacity="0.46" stroke-width="0.25"/>
<circle cx="198.38" cy="259.07" r="0.97" fill="#109618" fill-opacity="0.3" stroke="#109618" stroke-opacity="0.49" stroke-width="0.25"/>
<circle cx="208.32" cy="262.29" r="1.19" fill="#109618" fill-opacity="0.33" stroke="#109618" stroke-opacity="0.54" stroke-width="0.25"/>
<circle cx="201.03" cy="255.93" r="0.98" fill="#109618" fill-opacity="0.16" stroke="#109618" stroke-opacity="0.26" stroke-width="0.25"/>
<circle cx="201.12" cy="269.69" r="1.55" fill="#109618" fill-opacity="0.18" stroke="#109618" stroke-opacity="0.29" stroke-width="0.25"/>
<circle cx="207.13" cy="266.61" r="1.12" fill="#109618" fill-opacity="0.29" stroke="#109618" stroke-opacity="0.48" stroke-width="0.25"/>
<circle cx="206.73" cy="266.72" r="1.47" fill="#109618" fill-opacity="0.17" stroke="#109618" stroke-opacity="0.28" stroke-width="0.25"/>
<circle cx="198.19" cy="259.66" r="1.57" fill="#109618" fill-opacity="0.29" stroke="#109618" stroke-opacity="0.47" stroke-width="0.25"/>
<circle cx="209.21" cy="255.32" r="1.63" fill="#109618" fill-opacity="0.25" stroke="#109618" stroke-opacity="0.41" stroke-width="0.25"/>
<circle cx="200.48" cy="261.69" r="1.18" fill="#109618" fill-opacity="0.28" stroke="#109618" stroke-opacity="0.46" stroke-width="0.25"/>
<circle cx="203.36" cy="269.31" r="0.97" fill="#109618" fill-opacity="0.17" stroke="#109618" stroke-opacity="0.28" stroke-width="0.25"/>
<circle cx="209.81" cy="259.78" r="1.28" fill="#109618" fill-opacity="0.21" stroke="#109618" stroke-opacity="0.33" stroke-width="0.25"/>
<circle cx="209.75" cy="263.9" r="1.24" fill="#109618" fill-opacity="0.18" stroke="#109618" stroke-opacity="0.3" stroke-width="0.25"/>
<circle cx="214.25" cy="263.98" r="1.22" fill="#109618" fill-opacity="0.18" stroke="#109618" stroke-opacity="0.3" stroke-width="0.25"/>
<circle cx="205.03" cy="263.52" r="1.18" fill="#109618" fill-opacity="0.29" stroke="#109618" stroke-opacity="0.47" stroke-width="0.25"/>
<circle cx="203.13" cy="260.93" r="1.4" fill="#109618" fill-opacity="0.17" stroke="#109618" stroke-opacity="0.28" stroke-width="0.25"/>
<circle cx="211.33" cy="269.34" r="1.03" fill="#109618" fill-opacity="0.3" stroke="#109618" stroke-opacity="0.49" stroke-width="0.25"/>
<circle cx="199.5" cy="266.59" r="1.17" fill="#109618" fill-opacity="0.33" stroke="#109618" stroke-opacity="0.53" stroke-width="0.25"/>
<circle cx="213.78" cy="267.43" r="1.38" fill="#109618" fill-opacity="0.3" stroke="#109618" stroke-opacity="0.49" stroke-width="0.25"/>
<circle cx="206.14" cy="266.01" r="0.94" fill="#109618" fill-opacity="0.16" stroke="#109618" stroke-opacity="0.26" stroke-width="0.25"/>
<circle cx="198.25" cy="269.58" r="1.45" fill="#109618" fill-opacity="0.26" stroke="#109618" stroke-opacity="0.42" stroke-width="0.25"/>
<circle cx="198.63" cy="255.21" r="1.69" fill="#109618" fill-opacity="0.22" stroke="#109618" stroke-opacity="0.36" stroke-width="0.25"/>
<circle cx="203.59" cy="256.36" r="1.4" fill="#109618" fill-opacity="0.29" stroke="#109618" stroke-opacity="0.47" stroke-width="0.25"/>
<circle cx="200.57" cy="259.06" r="1.2" fill="#109618" fill-opacity="0.15" stroke="#109618" stroke-opacity="0.25" stroke-width="0.25"/>
<circle cx="198.31" cy="266.76" r="1.01" fill="#109618" fill-opacity="0.2" stroke="#109618" stroke-opacity="0.32" stroke-width="0.25"/>
<circle cx="212.81" cy="264.71" r="0.99" fill="#109618" fill-opacity="0.16" stroke="#109618" stroke-opacity="0.27" stroke-width="0.25"/>
<circle cx="198.44" cy="264.58" r="1.18" fill="#109618" fill-opacity="0.16" stroke="#109618" stroke-opacity="0.26" stroke-width="0.25"/>
<circle cx="206.18" cy="265.55" r="0.82" fill="#109618" fill-opacity="0.23" stroke="#109618" stroke-opacity="0.38" stroke-width="0.25"/>
<circle cx="200.15" cy="267.95" r="1.48" fill="#109618" fill-opacity="0.23" stroke="#109618" stroke-opacity="0.37" stroke-width="0.25"/>
<circle cx="203.5" cy="262.11" r="1.46" fill="#109618" fill-opacity="0.26" stroke="#109618" stroke-opacity="0.43" stroke-width="0.25"/>
<circle cx="213.45" cy="259.29" r="1.11" fill="#109618" fill-opacity="0.33" stroke="#109618" stroke-opacity="0.53" stroke-width="0.25"/>
<circle cx="197.76" cy="267.85" r="0.91" fill="#109618" fill-opacity="0.22" stroke="#109618" stroke-opacity="0.35" stroke-width="0.25"/>
<circle cx="203.44" cy="264.84" r="1.37" fill="#109618" fill-opacity="0.21" stroke="#109618" stroke-opacity="0.34" stroke-width="0.25"/>
<circle cx="205.61" cy="259.98" r="1.63" fill="#109618" fill-opacity="0.33" stroke="#109618" stroke-opacity="0.53" stroke-width="0.25"/>
<circle cx="203.69" cy="264.91" r="1.69" fill="#109618" fill-opacity="0.31" stroke="#109618" stroke-opacity="0.5" stroke-width="0.25"/>
<circle cx="212.24" cy="268.81" r="1.06" fill="#109618" fill-opacity="0.23" stroke="#109618" stroke-opacity="0.37" stroke-width="0.25"/>
<circle cx="202.69" cy="263.64" r="1.65" fill="#109618" fill-opacity="0.22" stroke="#109618" stroke-opacity="0.35" stroke-width="0.25"/>
<circle cx="206" cy="265.87" r="1.33" fill="#109618" fill-opacity="0.25" stroke="#109618" stroke-opacity="0.4" stroke-width="0.25"/>
<circle cx="200.55" cy="269.46" r="1.48" fill="#109618" fill-opacity="0.3" stroke="#109618" stroke-opacity="0.49" stroke-width="0.25"/>
<circle cx="203.18" cy="267.69" r="0.89" fill="#109618" fill-opacity="0.26" stroke="#109618" stroke-opacity="0.43" stroke-width="0.25"/>
<circle cx="207.22" cy="255.23" r="1.41" fill="#109618" fill-opacity="0.25" stroke="#109618" stroke-opacity="0.41" stroke-width="0.25"/>
<circle cx="207.48" cy="255.73" r="1.63" fill="#109618" fill-opacity="0.18" stroke="#109618" stroke-opacity="0.29" stroke-width="0.25"/>
<circle cx="199.55" cy="268.64" r="0.81" fill="#109618" fill-opacity="0.31" stroke="#109618" stroke-opacity="0.5" stroke-width="0.25"/>
<circle cx="213.68" cy="263.02" r="1.48" fill="#109618" fill-opacity="0.27" stroke="#109618" stroke-opacity="0.44" stroke-width="0.25"/>
<circle cx="208.52" cy="264.79" r="1.66" fill="#109618" fill-opacity="0.2" stroke="#109618" stroke-opacity="0.33" stroke-width="0.25"/>
<circle cx="199.18" cy="269.53" r="1.51" fill="#109618" fill-opacity="0.29" stroke="#109618" stroke-opacity="0.48" stroke-width="0.25"/>
<circle cx="211.83" cy="257.77" r="1" fill="#109618" fill-opacity="0.21" stroke="#109618" stroke-opacity="0.35" stroke-width="0.25"/>
<circle cx="202.21" cy="256.56" r="0.8" fill="#109618" fill-opacity="0.2" stroke="#109618" stroke-opacity="0.33" stroke-width="0.25"/>
<circle cx="208.48" cy="260.69" r="0.8" fill="#109618" fill-opacity="0.17" stroke="#109618" stroke-opacity="0.27" stroke-width="0.25"/>
<circle cx="200.33" cy="267.41" r="1.26" fill="#109618" fill-opacity="0.15" stroke="#109618" stroke-opacity="0.24" stroke-width="0.25"/>
<circle cx="211.4" cy="263.61" r="1.39" fill="#109618" fill-opacity="0.21" stroke="#109618" stroke-opacity="0.35" stroke-width="0.25"/>
<circle cx="211.75" cy="268.94" r="1.58" fill="#109618" fill-opacity="0.19" stroke="#109618" stroke-opacity="0.31" stroke-width="0.25"/>
<circle cx="206.14" cy="261.98" r="1.41" fill="#109618" fill-opacity="0.25" stroke="#109618" stroke-opacity="0.4" stroke-width="0.25"/>
<circle cx="209.59" cy="269.55" r="1.28" fill="#109618" fill-opacity="0.24" stroke="#109618" stroke-opacity="0.39" stroke-width="0.25"/>
<circle cx="207.91" cy="268.91" r="1.44" fill="#109618" fill-opacity="0.16" stroke="#109618" stroke-opacity="0.26" stroke-width="0.25"/>
<circle cx="198.28" cy="269.54" r="1.68" fill="#109618" fill-opacity="0.18" stroke="#109618" stroke-opacity="0.28" stroke-width="0.25"/>
<circle cx="208.99" cy="269.5" r="1.34" fill="#109618" fill-opacity="0.19" stroke="#109618" stroke-opacity="0.3" stroke-width="0.25"/>
<circle cx="207.57" cy="258.88" r="1.41" fill="#109618" fill-opacity="0.25" stroke="#109618" stroke-opacity="0.4" stroke-width="0.25"/>
<circle cx="209.55" cy="269.99" r="0.85" fill="#109618" fill-opacity="0.19" stroke="#109618" stroke-opacity="0.31" stroke-width="0.25"/>
<circle cx="205.09" cy="258.42" r="0.82" fill="#109618" fill-opacity="0.18" stroke="#109618" stroke-opacity="0.3" stroke-width="0.25"/>
<circle cx="206.31" cy="265.85" r="0.87" fill="#109618" fill-opacity="0.2" stroke="#109618" stroke-opacity="0.32" stroke-width="0.25"/>
<circle cx="197.94" cy="269.9" r="1.56" fill="#109618" fill-opacity="0.2" stroke="#109618" stroke-opacity="0.33" stroke-width="0.25"/>
<circle cx="209.53" cy="267.03" r="1.47" fill="#109618" fill-opacity="0.31" stroke="#109618" stroke-opacity="0.51" stroke-width="0.25"/>
<circle cx="197.8" cy="261.29" r="1.62" fill="#109618" fill-opacity="0.29" stroke="#109618" stroke-opacity="0.47" stroke-width="0.25"/>
<circle cx="199.54" cy="259.03" r="1.48" fill="#109618" fill-opacity="0.17" stroke="#109618" stroke-opacity="0.28" stroke-width="0.25"/>
<circle cx="208.55" cy="260.92" r="0.98" fill="#109618" fill-opacity="0.3" stroke="#109618" stroke-opacity="0.49" stroke-width="0.25"/>
<circle cx="211.9" cy="269.29" r="1.22" fill="#109618" fill-opacity="0.26" stroke="#109618" stroke-opacity="0.42" stroke-width="0.25"/>
<circle cx="197.64" cy="262.74" r="1.64" fill="#109618" fill-opacity="0.21" stroke="#109618" stroke-opacity="0.34" stroke-width="0.25"/>
<circle cx="205.81" cy="255.19" r="1.59" fill="#109618" fill-opacity="0.33" stroke="#109618" stroke-opacity="0.53" stroke-width="0.25"/>
<rect x="21" y="270.35" width="49.8" height="2.1" fill="#df2410"/>
<rect x="72.9" y="270.35" width="122.3" height="2.1" fill="#ff9200"/>
<rect x="197.1" y="270.35" width="17.6" height="2.1" fill="#109618"/>
<text transform="translate(44.2,275.2) rotate(31)" font-size="2.7" fill="#444" font-family="Liberation Sans, sans-serif">GO:MF (14)</text>
<text transform="translate(132.3,275.2) rotate(31)" font-size="2.7" fill="#444" font-family="Liberation Sans, sans-serif">GO:BP (271)</text>
<text transform="translate(204.4,275.2) rotate(31)" font-size="2.7" fill="#444" font-family="Liberation Sans, sans-serif">GO:CC (39)</text>
<circle cx="27.8" cy="257.1" r="1.5" fill="#e8190f" stroke="#444" stroke-width="0.35"/>
<text x="28.7" y="255.4" font-size="2" fill="#555" font-family="Liberation Sans, sans-serif">8</text>
<circle cx="57.6" cy="255.5" r="1.6" fill="#e8190f" stroke="#444" stroke-width="0.35"/>
<text x="58.56" y="253.7" font-size="2" fill="#555" font-family="Liberation Sans, sans-serif">7</text>
<circle cx="85" cy="253.8" r="1.7" fill="#ff9200" stroke="#444" stroke-width="0.35"/>
<text x="86.02" y="251.9" font-size="2" fill="#555" font-family="Liberation Sans, sans-serif">6</text>
<circle cx="89.6" cy="251" r="1.7" fill="#ff9200" stroke="#444" stroke-width="0.35"/>
<text x="90.62" y="249.1" font-size="2" fill="#555" font-family="Liberation Sans, sans-serif">5</text>
<circle cx="200.1" cy="219.6" r="1.5" fill="#109618" stroke="#444" stroke-width="0.35"/>
<text x="201" y="217.9" font-size="2" fill="#555" font-family="Liberation Sans, sans-serif">1</text>
<circle cx="198.8" cy="224" r="1.6" fill="#109618" stroke="#444" stroke-width="0.35"/>
<text x="199.76" y="222.2" font-size="2" fill="#555" font-family="Liberation Sans, sans-serif"></text>
<circle cx="206.2" cy="229.3" r="1.5" fill="#109618" stroke="#444" stroke-width="0.35"/>
<text x="207.1" y="227.6" font-size="2" fill="#555" font-family="Liberation Sans, sans-serif">3,4</text>
<circle cx="208.1" cy="229.3" r="1.5" fill="#109618" stroke="#444" stroke-width="0.35"/>
<text x="209" y="227.6" font-size="2" fill="#555" font-family="Liberation Sans, sans-serif"></text>
<g font-family="Liberation Sans, sans-serif"><rect x="8.7" y="105" width="232.1" height="43.6" fill="#fff" stroke="#e3e3e3" stroke-width="0.5"/>
<rect x="8.95" y="105.25" width="231.6" height="7" fill="#f3f3f3"/>
<text transform="translate(11.4 109.7) scale(0.8 1) rotate(0.3)" font-size="2.8" fill="#666">ID</text>
<text transform="translate(22 109.7) scale(0.8 1) rotate(0.3)" font-size="2.8" fill="#666">Source</text>
<text transform="translate(40.7 109.7) scale(0.8 1) rotate(0.3)" font-size="2.8" fill="#666">Term ID</text>
<text transform="translate(63.6 109.7) scale(0.8 1) rotate(0.3)" font-size="2.8" fill="#666">Term Name</text>
<rect x="57.3" y="108.3" width="1.4" height="1.4" fill="#555"/>
<text transform="translate(119.5 110.1) scale(0.85 1) rotate(0.3)" font-size="3" fill="#666">p<tspan font-size="2.2" dy="0.6">adj</tspan><tspan dy="-1.9" font-size="2.2"> (2D 6 h)</tspan></text>
<text transform="translate(148.5 110.1) scale(0.85 1) rotate(0.3)" font-size="3" fill="#666">p<tspan font-size="2.2" dy="0.6">adj</tspan><tspan dy="-1.9" font-size="2.2"> (2D 6 h)</tspan></text>
<text transform="translate(176.8 110.1) scale(0.85 1) rotate(0.3)" font-size="3" fill="#666">p<tspan font-size="2.2" dy="0.6">adj</tspan><tspan dy="-1.9" font-size="2.2"> (2D 6 h)</tspan></text>
<text transform="translate(205.3 110.1) scale(0.85 1) rotate(0.3)" font-size="3" fill="#666">p<tspan font-size="2.2" dy="0.6">adj</tspan><tspan dy="-1.9" font-size="2.2"> (2D 6 h)</tspan></text>
<text transform="translate(11.6 115.5) scale(0.8 1) rotate(0.3)" font-size="2.8" fill="#555">1</text>
<text transform="translate(22 115.5) scale(0.8 1) rotate(0.3)" font-size="2.8" fill="#555">GO:CC</text>
<text transform="translate(40.7 115.5) scale(0.76 1) rotate(0.3)" font-size="2.8" fill="#555">GO:0005615</text>
<text transform="translate(63.6 115.5) scale(0.8 1) rotate(0.3)" font-size="2.8" fill="#555">extracellular space</text>
<rect x="118" y="112.2" width="29.25" height="4.11" fill="#27a66d"/>
<text transform="translate(121 115.5) scale(0.8 1) rotate(0.3)" font-size="2.66" fill="#fff">4.75×10<tspan dy="-0.9" font-size="1.6">-20</tspan></text>
<rect x="147.2" y="112.2" width="28.15" height="4.11" fill="#2a8a8c"/>
<text transform="translate(150.2 115.5) scale(0.8 1) rotate(0.3)" font-size="2.66" fill="#fff">3.47×10<tspan dy="-0.9" font-size="1.6">-18</tspan></text>
<rect x="175.3" y="112.2" width="28.55" height="4.11" fill="#25aa7d"/>
<text transform="translate(178.3 115.5) scale(0.8 1) rotate(0.3)" font-size="2.66" fill="#fff">2.77×10<tspan dy="-0.9" font-size="1.6">-3</tspan></text>
<rect x="203.8" y="112.2" width="28.25" height="4.11" fill="#30658f"/>
<text transform="translate(206.8 115.5) scale(0.8 1) rotate(0.3)" font-size="2.66" fill="#fff">8.33×10<tspan dy="-0.9" font-size="1.6">-20</tspan></text>
<text transform="translate(11.6 119.56) scale(0.8 1) rotate(0.3)" font-size="2.8" fill="#555">2</text>
<text transform="translate(22 119.56) scale(0.8 1) rotate(0.3)" font-size="2.8" fill="#555">GO:CC</text>
<text transform="translate(40.7 119.56) scale(0.76 1) rotate(0.3)" font-size="2.8" fill="#555">GO:0005576</text>
<text transform="translate(63.6 119.56) scale(0.8 1) rotate(0.3)" font-size="2.8" fill="#555">extracellular region</text>
<rect x="118" y="116.26" width="29.25" height="4.11" fill="#33ad67"/>
<text transform="translate(121 119.56) scale(0.8 1) rotate(0.3)" font-size="2.66" fill="#fff">4.24×10<tspan dy="-0.9" font-size="1.6">-18</tspan></text>
<rect x="147.2" y="116.26" width="28.15" height="4.11" fill="#2c898c"/>
<text transform="translate(150.2 119.56) scale(0.8 1) rotate(0.3)" font-size="2.66" fill="#fff">9.70×10<tspan dy="-0.9" font-size="1.6">-18</tspan></text>
<rect x="175.3" y="116.26" width="28.55" height="4.11" fill="#25aa7d"/>
<text transform="translate(178.3 119.56) scale(0.8 1) rotate(0.3)" font-size="2.66" fill="#fff">7.81×10<tspan dy="-0.9" font-size="1.6">-7</tspan></text>
<rect x="203.8" y="116.26" width="28.25" height="4.11" fill="#30658f"/>
<text transform="translate(206.8 119.56) scale(0.8 1) rotate(0.3)" font-size="2.66" fill="#fff">4.81×10<tspan dy="-0.9" font-size="1.6">-7</tspan></text>
<text transform="translate(11.6 123.62) scale(0.8 1) rotate(0.3)" font-size="2.8" fill="#555">3</text>
<text transform="translate(22 123.62) scale(0.8 1) rotate(0.3)" font-size="2.8" fill="#555">GO:CC</text>
<text transform="translate(40.7 123.62) scale(0.76 1) rotate(0.3)" font-size="2.8" fill="#555">GO:0005578</text>
<text transform="translate(63.6 123.62) scale(0.8 1) rotate(0.3)" font-size="2.8" fill="#555">extracellular matrix</text>
<rect x="118" y="120.32" width="29.25" height="4.11" fill="#4dba5b"/>
<text transform="translate(121 123.62) scale(0.8 1) rotate(0.3)" font-size="2.66" fill="#fff">9.49×10<tspan dy="-0.9" font-size="1.6">-3</tspan></text>
<rect x="147.2" y="120.32" width="28.15" height="4.11" fill="#27a67b"/>
<text transform="translate(150.2 123.62) scale(0.8 1) rotate(0.3)" font-size="2.66" fill="#fff">2.20×10<tspan dy="-0.9" font-size="1.6">-4</tspan></text>
<rect x="175.3" y="120.32" width="28.55" height="4.11" fill="#2c6f8e"/>
<text transform="translate(178.3 123.62) scale(0.8 1) rotate(0.3)" font-size="2.66" fill="#fff">5.99×10<tspan dy="-0.9" font-size="1.6">-3</tspan></text>
<rect x="203.8" y="120.32" width="28.25" height="4.11" fill="#2f6b8e"/>
<text transform="translate(206.8 123.62) scale(0.8 1) rotate(0.3)" font-size="2.66" fill="#fff">5.60×10<tspan dy="-0.9" font-size="1.6">-15</tspan></text>
<text transform="translate(11.6 127.68) scale(0.8 1) rotate(0.3)" font-size="2.8" fill="#555">4</text>
<text transform="translate(22 127.68) scale(0.8 1) rotate(0.3)" font-size="2.8" fill="#555">GO:CC</text>
<text transform="translate(40.7 127.68) scale(0.76 1) rotate(0.3)" font-size="2.8" fill="#555">GO:0031012</text>
<text transform="translate(63.6 127.68) scale(0.8 1) rotate(0.3)" font-size="2.8" fill="#555">endomembrane system</text>
<rect x="118" y="124.38" width="29.25" height="4.11" fill="#48b85d"/>
<text transform="translate(121 127.68) scale(0.8 1) rotate(0.3)" font-size="2.66" fill="#fff">7.50×10<tspan dy="-0.9" font-size="1.6">-17</tspan></text>
<rect x="147.2" y="124.38" width="28.15" height="4.11" fill="#2b7f8e"/>
<text transform="translate(150.2 127.68) scale(0.8 1) rotate(0.3)" font-size="2.66" fill="#fff">3.46×10<tspan dy="-0.9" font-size="1.6">-6</tspan></text>
<rect x="175.3" y="124.38" width="28.55" height="4.11" fill="#2c6f8e"/>
<text transform="translate(178.3 127.68) scale(0.8 1) rotate(0.3)" font-size="2.66" fill="#fff">1.17×10<tspan dy="-0.9" font-size="1.6">-18</tspan></text>
<rect x="203.8" y="124.38" width="28.25" height="4.11" fill="#2e6e8e"/>
<text transform="translate(206.8 127.68) scale(0.8 1) rotate(0.3)" font-size="2.66" fill="#fff">4.33×10<tspan dy="-0.9" font-size="1.6">-16</tspan></text>
<text transform="translate(11.6 131.74) scale(0.8 1) rotate(0.3)" font-size="2.8" fill="#555">5</text>
<text transform="translate(22 131.74) scale(0.8 1) rotate(0.3)" font-size="2.8" fill="#555">GO:MF</text>
<text transform="translate(40.7 131.74) scale(0.76 1) rotate(0.3)" font-size="2.8" fill="#555">GO:0005515</text>
<text transform="translate(63.6 131.74) scale(0.8 1) rotate(0.3)" font-size="2.8" fill="#555">protein binding</text>
<rect x="118" y="128.44" width="29.25" height="4.11" fill="#fde321"/>
<text transform="translate(121 131.74) scale(0.8 1) rotate(0.3)" font-size="2.66" fill="#fff">5.53×10<tspan dy="-0.9" font-size="1.6">-19</tspan></text>
<rect x="147.2" y="128.44" width="28.15" height="4.11" fill="#d1dd26"/>
<text transform="translate(150.2 131.74) scale(0.8 1) rotate(0.3)" font-size="2.66" fill="#fff">7.73×10<tspan dy="-0.9" font-size="1.6">-14</tspan></text>
<rect x="175.3" y="128.44" width="28.55" height="4.11" fill="#2d6b8e"/>
<text transform="translate(178.3 131.74) scale(0.8 1) rotate(0.3)" font-size="2.66" fill="#fff">9.74×10<tspan dy="-0.9" font-size="1.6">-16</tspan></text>
<rect x="203.8" y="128.44" width="28.25" height="4.11" fill="#20a386"/>
<text transform="translate(206.8 131.74) scale(0.8 1) rotate(0.3)" font-size="2.66" fill="#fff">4.43×10<tspan dy="-0.9" font-size="1.6">-3</tspan></text>
<text transform="translate(11.6 135.8) scale(0.8 1) rotate(0.3)" font-size="2.8" fill="#555">6</text>
<text transform="translate(22 135.8) scale(0.8 1) rotate(0.3)" font-size="2.8" fill="#555">GO:BP</text>
<text transform="translate(40.7 135.8) scale(0.76 1) rotate(0.3)" font-size="2.8" fill="#555">GO:0007155</text>
<text transform="translate(63.6 135.8) scale(0.8 1) rotate(0.3)" font-size="2.8" fill="#555">cell adhesion</text>
<rect x="118" y="132.5" width="29.25" height="4.11" fill="#cfdc25"/>
<text transform="translate(121 135.8) scale(0.8 1) rotate(0.3)" font-size="2.66" fill="#fff">5.77×10<tspan dy="-0.9" font-size="1.6">-8</tspan></text>
<rect x="147.2" y="132.5" width="28.15" height="4.11" fill="#d1dd26"/>
<text transform="translate(150.2 135.8) scale(0.8 1) rotate(0.3)" font-size="2.66" fill="#fff">6.69×10<tspan dy="-0.9" font-size="1.6">-6</tspan></text>
<rect x="175.3" y="132.5" width="28.55" height="4.11" fill="#8fd14c"/>
<text transform="translate(178.3 135.8) scale(0.8 1) rotate(0.3)" font-size="2.66" fill="#fff">4.81×10<tspan dy="-0.9" font-size="1.6">-11</tspan></text>
<rect x="203.8" y="132.5" width="28.25" height="4.11" fill="#20a187"/>
<text transform="translate(206.8 135.8) scale(0.8 1) rotate(0.3)" font-size="2.66" fill="#fff">5.15×10<tspan dy="-0.9" font-size="1.6">-5</tspan></text>
<text transform="translate(11.6 139.86) scale(0.8 1) rotate(0.3)" font-size="2.8" fill="#555">7</text>
<text transform="translate(22 139.86) scale(0.8 1) rotate(0.3)" font-size="2.8" fill="#555">GO:MF</text>
<text transform="translate(40.7 139.86) scale(0.76 1) rotate(0.3)" font-size="2.8" fill="#555">GO:0008150</text>
<text transform="translate(63.6 139.86) scale(0.8 1) rotate(0.3)" font-size="2.8" fill="#555">protein binding, bridging</text>
<rect x="147.2" y="136.56" width="28.15" height="4.11" fill="#efe31f"/>
<text transform="translate(150.2 139.86) scale(0.8 1) rotate(0.3)" font-size="2.66" fill="#fff">8.81×10<tspan dy="-0.9" font-size="1.6">-18</tspan></text>
<rect x="175.3" y="136.56" width="28.55" height="4.11" fill="#4dbc63"/>
<text transform="translate(178.3 139.86) scale(0.8 1) rotate(0.3)" font-size="2.66" fill="#fff">2.44×10<tspan dy="-0.9" font-size="1.6">-5</tspan></text>
<rect x="203.8" y="136.56" width="28.25" height="4.11" fill="#3dbb74"/>
<text transform="translate(206.8 139.86) scale(0.8 1) rotate(0.3)" font-size="2.66" fill="#fff">7.19×10<tspan dy="-0.9" font-size="1.6">-3</tspan></text>
<text transform="translate(11.6 143.92) scale(0.8 1) rotate(0.3)" font-size="2.8" fill="#555">8</text>
<text transform="translate(22 143.92) scale(0.8 1) rotate(0.3)" font-size="2.8" fill="#555">GO:MF</text>
<text transform="translate(40.7 143.92) scale(0.76 1) rotate(0.3)" font-size="2.8" fill="#555">GO:0050839</text>
<text transform="translate(63.6 143.92) scale(0.8 1) rotate(0.3)" font-size="2.8" fill="#555">cell adhesion molecule binding</text>
<rect x="118" y="140.62" width="29.25" height="4.11" fill="#d6df24"/>
<text transform="translate(121 143.92) scale(0.8 1) rotate(0.3)" font-size="2.66" fill="#fff">5.54×10<tspan dy="-0.9" font-size="1.6">-16</tspan></text>
<rect x="147.2" y="140.62" width="28.15" height="4.11" fill="#dbe027"/>
<text transform="translate(150.2 143.92) scale(0.8 1) rotate(0.3)" font-size="2.66" fill="#fff">2.05×10<tspan dy="-0.9" font-size="1.6">-4</tspan></text>
<rect x="175.3" y="140.62" width="28.55" height="4.11" fill="#97d240"/>
<text transform="translate(178.3 143.92) scale(0.8 1) rotate(0.3)" font-size="2.66" fill="#fff">7.91×10<tspan dy="-0.9" font-size="1.6">-13</tspan></text>
<rect x="203.8" y="140.62" width="28.25" height="4.11" fill="#3cbb75"/>
<text transform="translate(206.8 143.92) scale(0.8 1) rotate(0.3)" font-size="2.66" fill="#fff">9.35×10<tspan dy="-0.9" font-size="1.6">-19</tspan></text>
<rect x="8.95" y="144.68" width="231.6" height="3.67" fill="#f0f0f0"/></g>
<g font-family="Liberation Sans, sans-serif"><rect x="8.7" y="288" width="232.1" height="43.6" fill="#fff" stroke="#e3e3e3" stroke-width="0.5"/>
<rect x="8.95" y="288.25" width="231.6" height="7" fill="#f3f3f3"/>
<text transform="translate(11.4 292.7) scale(0.8 1) rotate(0.3)" font-size="2.8" fill="#666">ID</text>
<text transform="translate(22 292.7) scale(0.8 1) rotate(0.3)" font-size="2.8" fill="#666">Source</text>
<text transform="translate(40.7 292.7) scale(0.8 1) rotate(0.3)" font-size="2.8" fill="#666">Term ID</text>
<text transform="translate(63.6 292.7) scale(0.8 1) rotate(0.3)" font-size="2.8" fill="#666">Term Name</text>
<rect x="57.3" y="291.3" width="1.4" height="1.4" fill="#555"/>
<text transform="translate(119.5 293.1) scale(0.85 1) rotate(0.3)" font-size="3" fill="#666">p<tspan font-size="2.2" dy="0.6">adj</tspan><tspan dy="-1.9" font-size="2.2"> (2D 6 h)</tspan></text>
<text transform="translate(148.5 293.1) scale(0.85 1) rotate(0.3)" font-size="3" fill="#666">p<tspan font-size="2.2" dy="0.6">adj</tspan><tspan dy="-1.9" font-size="2.2"> (2D 6 h)</tspan></text>
<text transform="translate(176.8 293.1) scale(0.85 1) rotate(0.3)" font-size="3" fill="#666">p<tspan font-size="2.2" dy="0.6">adj</tspan><tspan dy="-1.9" font-size="2.2"> (2D 6 h)</tspan></text>
<text transform="translate(205.3 293.1) scale(0.85 1) rotate(0.3)" font-size="3" fill="#666">p<tspan font-size="2.2" dy="0.6">adj</tspan><tspan dy="-1.9" font-size="2.2"> (2D 6 h)</tspan></text>
<text transform="translate(11.6 298.3) scale(0.8 1) rotate(0.3)" font-size="2.8" fill="#555">1</text>
<text transform="translate(22 298.3) scale(0.8 1) rotate(0.3)" font-size="2.8" fill="#555">GO:CC</text>
<text transform="translate(40.7 298.3) scale(0.76 1) rotate(0.3)" font-size="2.8" fill="#555">GO:0031012</text>
<text transform="translate(63.6 298.3) scale(0.8 1) rotate(0.3)" font-size="2.8" fill="#555">endomembrane system</text>
<rect x="118" y="295" width="29.25" height="4.21" fill="#f6e31f"/>
<text transform="translate(121 298.3) scale(0.8 1) rotate(0.3)" font-size="2.66" fill="#fff">4.04×10<tspan dy="-0.9" font-size="1.6">-12</tspan></text>
<rect x="147.2" y="295" width="28.15" height="4.21" fill="#9ed53e"/>
<text transform="translate(150.2 298.3) scale(0.8 1) rotate(0.3)" font-size="2.66" fill="#fff">1.09×10<tspan dy="-0.9" font-size="1.6">-6</tspan></text>
<rect x="175.3" y="295" width="28.55" height="4.21" fill="#31658e"/>
<text transform="translate(178.3 298.3) scale(0.8 1) rotate(0.3)" font-size="2.66" fill="#fff">9.04×10<tspan dy="-0.9" font-size="1.6">-9</tspan></text>
<rect x="203.8" y="295" width="28.25" height="4.21" fill="#30638e"/>
<text transform="translate(206.8 298.3) scale(0.8 1) rotate(0.3)" font-size="2.66" fill="#fff">7.37×10<tspan dy="-0.9" font-size="1.6">-11</tspan></text>
<text transform="translate(11.6 302.46) scale(0.8 1) rotate(0.3)" font-size="2.8" fill="#555">2</text>
<text transform="translate(22 302.46) scale(0.8 1) rotate(0.3)" font-size="2.8" fill="#555">GO:CC</text>
<text transform="translate(40.7 302.46) scale(0.76 1) rotate(0.3)" font-size="2.8" fill="#555">GO:0005783</text>
<text transform="translate(63.6 302.46) scale(0.8 1) rotate(0.3)" font-size="2.8" fill="#555">endoplasmic reticulum</text>
<rect x="118" y="299.16" width="29.25" height="4.21" fill="#f6e31f"/>
<text transform="translate(121 302.46) scale(0.8 1) rotate(0.3)" font-size="2.66" fill="#fff">3.88×10<tspan dy="-0.9" font-size="1.6">-4</tspan></text>
<rect x="147.2" y="299.16" width="28.15" height="4.21" fill="#a8d83a"/>
<text transform="translate(150.2 302.46) scale(0.8 1) rotate(0.3)" font-size="2.66" fill="#fff">6.40×10<tspan dy="-0.9" font-size="1.6">-14</tspan></text>
<rect x="175.3" y="299.16" width="28.55" height="4.21" fill="#31658e"/>
<text transform="translate(178.3 302.46) scale(0.8 1) rotate(0.3)" font-size="2.66" fill="#fff">3.48×10<tspan dy="-0.9" font-size="1.6">-15</tspan></text>
<rect x="203.8" y="299.16" width="28.25" height="4.21" fill="#30638e"/>
<text transform="translate(206.8 302.46) scale(0.8 1) rotate(0.3)" font-size="2.66" fill="#fff">8.66×10<tspan dy="-0.9" font-size="1.6">-15</tspan></text>
<text transform="translate(11.6 306.62) scale(0.8 1) rotate(0.3)" font-size="2.8" fill="#555">3</text>
<text transform="translate(22 306.62) scale(0.8 1) rotate(0.3)" font-size="2.8" fill="#555">GO:CC</text>
<text transform="translate(40.7 306.62) scale(0.76 1) rotate(0.3)" font-size="2.8" fill="#555">GO:0044421</text>
<text transform="translate(63.6 306.62) scale(0.8 1) rotate(0.3)" font-size="2.8" fill="#555">extracellular region part</text>
<rect x="118" y="303.32" width="29.25" height="4.21" fill="#c9dc2a"/>
<text transform="translate(121 306.62) scale(0.8 1) rotate(0.3)" font-size="2.66" fill="#fff">9.13×10<tspan dy="-0.9" font-size="1.6">-19</tspan></text>
<rect x="147.2" y="303.32" width="28.15" height="4.21" fill="#2bb07f"/>
<text transform="translate(150.2 306.62) scale(0.8 1) rotate(0.3)" font-size="2.66" fill="#fff">5.55×10<tspan dy="-0.9" font-size="1.6">-10</tspan></text>
<rect x="175.3" y="303.32" width="28.55" height="4.21" fill="#2db27d"/>
<text transform="translate(178.3 306.62) scale(0.8 1) rotate(0.3)" font-size="2.66" fill="#fff">5.55×10<tspan dy="-0.9" font-size="1.6">-11</tspan></text>
<rect x="203.8" y="303.32" width="28.25" height="4.21" fill="#277f8e"/>
<text transform="translate(206.8 306.62) scale(0.8 1) rotate(0.3)" font-size="2.66" fill="#fff">9.38×10<tspan dy="-0.9" font-size="1.6">-20</tspan></text>
<text transform="translate(11.6 310.78) scale(0.8 1) rotate(0.3)" font-size="2.8" fill="#555">4</text>
<text transform="translate(22 310.78) scale(0.8 1) rotate(0.3)" font-size="2.8" fill="#555">GO:CC</text>
<text transform="translate(40.7 310.78) scale(0.76 1) rotate(0.3)" font-size="2.8" fill="#555">GO:1903561</text>
<text transform="translate(63.6 310.78) scale(0.8 1) rotate(0.3)" font-size="2.8" fill="#555">extracellular membrane-bounded organelle</text>
<rect x="118" y="307.48" width="29.25" height="4.21" fill="#c8db2b"/>
<text transform="translate(121 310.78) scale(0.8 1) rotate(0.3)" font-size="2.66" fill="#fff">6.01×10<tspan dy="-0.9" font-size="1.6">-16</tspan></text>
<rect x="147.2" y="307.48" width="28.15" height="4.21" fill="#2db17d"/>
<text transform="translate(150.2 310.78) scale(0.8 1) rotate(0.3)" font-size="2.66" fill="#fff">6.02×10<tspan dy="-0.9" font-size="1.6">-15</tspan></text>
<rect x="175.3" y="307.48" width="28.55" height="4.21" fill="#2db27d"/>
<text transform="translate(178.3 310.78) scale(0.8 1) rotate(0.3)" font-size="2.66" fill="#fff">3.07×10<tspan dy="-0.9" font-size="1.6">-13</tspan></text>
<rect x="203.8" y="307.48" width="28.25" height="4.21" fill="#277f8e"/>
<text transform="translate(206.8 310.78) scale(0.8 1) rotate(0.3)" font-size="2.66" fill="#fff">8.45×10<tspan dy="-0.9" font-size="1.6">-14</tspan></text>
<text transform="translate(11.6 314.94) scale(0.8 1) rotate(0.3)" font-size="2.8" fill="#555">5</text>
<text transform="translate(22 314.94) scale(0.8 1) rotate(0.3)" font-size="2.8" fill="#555">GO:BP</text>
<text transform="translate(40.7 314.94) scale(0.76 1) rotate(0.3)" font-size="2.8" fill="#555">GO:0009888</text>
<text transform="translate(63.6 314.94) scale(0.8 1) rotate(0.3)" font-size="2.8" fill="#555">tissue development</text>
<rect x="118" y="311.64" width="29.25" height="4.21" fill="#d9e026"/>
<text transform="translate(121 314.94) scale(0.8 1) rotate(0.3)" font-size="2.66" fill="#fff">5.94×10<tspan dy="-0.9" font-size="1.6">-18</tspan></text>
<rect x="147.2" y="311.64" width="28.15" height="4.21" fill="#9cd43f"/>
<text transform="translate(150.2 314.94) scale(0.8 1) rotate(0.3)" font-size="2.66" fill="#fff">1.75×10<tspan dy="-0.9" font-size="1.6">-4</tspan></text>
<rect x="175.3" y="311.64" width="28.55" height="4.21" fill="#7ccf50"/>
<text transform="translate(178.3 314.94) scale(0.8 1) rotate(0.3)" font-size="2.66" fill="#fff">1.47×10<tspan dy="-0.9" font-size="1.6">-11</tspan></text>
<rect x="203.8" y="311.64" width="28.25" height="4.21" fill="#5ac35e"/>
<text transform="translate(206.8 314.94) scale(0.8 1) rotate(0.3)" font-size="2.66" fill="#fff">8.38×10<tspan dy="-0.9" font-size="1.6">-13</tspan></text>
<text transform="translate(11.6 319.1) scale(0.8 1) rotate(0.3)" font-size="2.8" fill="#555">6</text>
<text transform="translate(22 319.1) scale(0.8 1) rotate(0.3)" font-size="2.8" fill="#555">GO:BP</text>
<text transform="translate(40.7 319.1) scale(0.76 1) rotate(0.3)" font-size="2.8" fill="#555">GO:0007155</text>
<text transform="translate(63.6 319.1) scale(0.8 1) rotate(0.3)" font-size="2.8" fill="#555">cell adhesion</text>
<rect x="118" y="315.8" width="29.25" height="4.21" fill="#fde725"/>
<text transform="translate(121 319.1) scale(0.8 1) rotate(0.3)" font-size="2.66" fill="#fff">3.46×10<tspan dy="-0.9" font-size="1.6">-8</tspan></text>
<rect x="147.2" y="315.8" width="28.15" height="4.21" fill="#a0d53d"/>
<text transform="translate(150.2 319.1) scale(0.8 1) rotate(0.3)" font-size="2.66" fill="#fff">6.97×10<tspan dy="-0.9" font-size="1.6">-14</tspan></text>
<rect x="175.3" y="315.8" width="28.55" height="4.21" fill="#7ccf50"/>
<text transform="translate(178.3 319.1) scale(0.8 1) rotate(0.3)" font-size="2.66" fill="#fff">5.38×10<tspan dy="-0.9" font-size="1.6">-15</tspan></text>
<rect x="203.8" y="315.8" width="28.25" height="4.21" fill="#60c560"/>
<text transform="translate(206.8 319.1) scale(0.8 1) rotate(0.3)" font-size="2.66" fill="#fff">2.98×10<tspan dy="-0.9" font-size="1.6">-3</tspan></text>
<text transform="translate(11.6 323.26) scale(0.8 1) rotate(0.3)" font-size="2.8" fill="#555">7</text>
<text transform="translate(22 323.26) scale(0.8 1) rotate(0.3)" font-size="2.8" fill="#555">GO:MF</text>
<text transform="translate(40.7 323.26) scale(0.76 1) rotate(0.3)" font-size="2.8" fill="#555">GO:0050839</text>
<text transform="translate(63.6 323.26) scale(0.8 1) rotate(0.3)" font-size="2.8" fill="#555">cell adhesion molecule binding</text>
<rect x="118" y="319.96" width="29.25" height="4.21" fill="#fde725"/>
<text transform="translate(121 323.26) scale(0.8 1) rotate(0.3)" font-size="2.66" fill="#fff">3.39×10<tspan dy="-0.9" font-size="1.6">-19</tspan></text>
<rect x="147.2" y="319.96" width="28.15" height="4.21" fill="#58c15a"/>
<text transform="translate(150.2 323.26) scale(0.8 1) rotate(0.3)" font-size="2.66" fill="#fff">4.83×10<tspan dy="-0.9" font-size="1.6">-11</tspan></text>
<rect x="175.3" y="319.96" width="28.55" height="4.21" fill="#6dcc55"/>
<text transform="translate(178.3 323.26) scale(0.8 1) rotate(0.3)" font-size="2.66" fill="#fff">4.41×10<tspan dy="-0.9" font-size="1.6">-8</tspan></text>
<rect x="203.8" y="319.96" width="28.25" height="4.21" fill="#64c65c"/>
<text transform="translate(206.8 323.26) scale(0.8 1) rotate(0.3)" font-size="2.66" fill="#fff">7.83×10<tspan dy="-0.9" font-size="1.6">-6</tspan></text>
<text transform="translate(11.6 327.42) scale(0.8 1) rotate(0.3)" font-size="2.8" fill="#555">8</text>
<text transform="translate(22 327.42) scale(0.8 1) rotate(0.3)" font-size="2.8" fill="#555">GO:MF</text>
<text transform="translate(40.7 327.42) scale(0.76 1) rotate(0.3)" font-size="2.8" fill="#555">GO:0005178</text>
<text transform="translate(63.6 327.42) scale(0.8 1) rotate(0.3)" font-size="2.8" fill="#555">integrin binding</text>
<rect x="118" y="324.12" width="29.25" height="4.21" fill="#fde725"/>
<text transform="translate(121 327.42) scale(0.8 1) rotate(0.3)" font-size="2.66" fill="#fff">2.76×10<tspan dy="-0.9" font-size="1.6">-13</tspan></text>
<rect x="147.2" y="324.12" width="28.15" height="4.21" fill="#d8e126"/>
<text transform="translate(150.2 327.42) scale(0.8 1) rotate(0.3)" font-size="2.66" fill="#fff">6.86×10<tspan dy="-0.9" font-size="1.6">-10</tspan></text>
<rect x="175.3" y="324.12" width="28.55" height="4.21" fill="#80d04c"/>
<text transform="translate(178.3 327.42) scale(0.8 1) rotate(0.3)" font-size="2.66" fill="#fff">8.21×10<tspan dy="-0.9" font-size="1.6">-5</tspan></text>
<rect x="203.8" y="324.12" width="28.25" height="4.21" fill="#5ec45e"/>
<text transform="translate(206.8 327.42) scale(0.8 1) rotate(0.3)" font-size="2.66" fill="#fff">6.94×10<tspan dy="-0.9" font-size="1.6">-9</tspan></text>
<rect x="8.95" y="328.28" width="231.6" height="3.07" fill="#f0f0f0"/></g>
<g font-family="Liberation Sans, sans-serif"><text x="11.8" y="159.9" font-size="2.7" font-weight="bold" fill="#555">version</text>
<text x="58" y="159.9" font-size="2.7" fill="#888">e107_eg54_p17_0f65210</text>
<text x="11.8" y="164" font-size="2.7" font-weight="bold" fill="#555">date</text>
<text x="58" y="164" font-size="2.7" fill="#888">2/8/2023, 7:39:06 PM</text>
<text x="11.8" y="168.1" font-size="2.7" font-weight="bold" fill="#555">organism</text>
<text x="58" y="168.1" font-size="2.7" fill="#888">hsapiens</text>
<text x="204.8" y="162.6" font-size="5.6" fill="#a9bdf0">g:Profiler</text>
<line x1="8.7" y1="152.8" x2="240.8" y2="152.8" stroke="#f2f2f2" stroke-width="0.4"/></g>
<g font-family="Liberation Sans, sans-serif"><text x="11.8" y="343.5" font-size="2.7" font-weight="bold" fill="#555">version</text>
<text x="58" y="343.5" font-size="2.7" fill="#888">e107_eg54_p17_0f65210</text>
<text x="11.8" y="347.6" font-size="2.7" font-weight="bold" fill="#555">date</text>
<text x="58" y="347.6" font-size="2.7" fill="#888">2/8/2023, 7:39:06 PM</text>
<text x="11.8" y="351.7" font-size="2.7" font-weight="bold" fill="#555">organism</text>
<text x="58" y="351.7" font-size="2.7" fill="#888">hsapiens</text>
<text x="204.8" y="346.2" font-size="5.6" fill="#a9bdf0">g:Profiler</text>
<line x1="8.7" y1="336.4" x2="240.8" y2="336.4" stroke="#f2f2f2" stroke-width="0.4"/></g>
<rect x="256" y="20.9" width="9.72" height="3.38" fill="#8ab8dd"/>
<rect x="265.67" y="20.9" width="9.72" height="3.38" fill="#5e9dcd"/>
<rect x="275.33" y="20.9" width="9.72" height="3.38" fill="#4f94c9"/>
<rect x="285" y="20.9" width="9.72" height="3.38" fill="#cfe2f0"/>
<rect x="294.67" y="20.9" width="9.72" height="3.38" fill="#dce9f3"/>
<rect x="304.33" y="20.9" width="9.72" height="3.38" fill="#c5dcee"/>
<rect x="314" y="20.9" width="9.72" height="3.38" fill="#f3a07f"/>
<rect x="323.67" y="20.9" width="9.72" height="3.38" fill="#fbe3d6"/>
<rect x="333.33" y="20.9" width="9.72" height="3.38" fill="#fbe3d6"/>
<rect x="343" y="20.9" width="9.72" height="3.38" fill="#f4aa88"/>
<rect x="352.67" y="20.9" width="9.72" height="3.38" fill="#f8c2a8"/>
<rect x="362.33" y="20.9" width="9.72" height="3.38" fill="#f8c7ae"/>
<rect x="256" y="24.23" width="9.72" height="3.38" fill="#7db1da"/>
<rect x="265.67" y="24.23" width="9.72" height="3.38" fill="#5d9ccd"/>
<rect x="275.33" y="24.23" width="9.72" height="3.38" fill="#f0f3f6"/>
<rect x="285" y="24.23" width="9.72" height="3.38" fill="#a5c9e4"/>
<rect x="294.67" y="24.23" width="9.72" height="3.38" fill="#b9d6ea"/>
<rect x="304.33" y="24.23" width="9.72" height="3.38" fill="#6aa6d2"/>
<rect x="314" y="24.23" width="9.72" height="3.38" fill="#fad2bf"/>
<rect x="323.67" y="24.23" width="9.72" height="3.38" fill="#f8f0ec"/>
<rect x="333.33" y="24.23" width="9.72" height="3.38" fill="#f9ece5"/>
<rect x="343" y="24.23" width="9.72" height="3.38" fill="#f4a785"/>
<rect x="352.67" y="24.23" width="9.72" height="3.38" fill="#e8785b"/>
<rect x="362.33" y="24.23" width="9.72" height="3.38" fill="#f3a584"/>
<rect x="256" y="27.56" width="9.72" height="3.38" fill="#8dbde0"/>
<rect x="265.67" y="27.56" width="9.72" height="3.38" fill="#8dbde0"/>
<rect x="275.33" y="27.56" width="9.72" height="3.38" fill="#7fb4dc"/>
<rect x="285" y="27.56" width="9.72" height="3.38" fill="#7fb4dc"/>
<rect x="294.67" y="27.56" width="9.72" height="3.38" fill="#b0d1e8"/>
<rect x="304.33" y="27.56" width="9.72" height="3.38" fill="#aacde6"/>
<rect x="314" y="27.56" width="9.72" height="3.38" fill="#fad2bf"/>
<rect x="323.67" y="27.56" width="9.72" height="3.38" fill="#f9e6dc"/>
<rect x="333.33" y="27.56" width="9.72" height="3.38" fill="#f9e6dc"/>
<rect x="343" y="27.56" width="9.72" height="3.38" fill="#f3a586"/>
<rect x="352.67" y="27.56" width="9.72" height="3.38" fill="#f2a07f"/>
<rect x="362.33" y="27.56" width="9.72" height="3.38" fill="#f5b093"/>
<rect x="256" y="30.89" width="9.72" height="3.38" fill="#6ba7d4"/>
<rect x="265.67" y="30.89" width="9.72" height="3.38" fill="#6ba7d4"/>
<rect x="275.33" y="30.89" width="9.72" height="3.38" fill="#72acd6"/>
<rect x="285" y="30.89" width="9.72" height="3.38" fill="#a8cbe5"/>
<rect x="294.67" y="30.89" width="9.72" height="3.38" fill="#b8d4e9"/>
<rect x="304.33" y="30.89" width="9.72" height="3.38" fill="#a8cbe5"/>
<rect x="314" y="30.89" width="9.72" height="3.38" fill="#fad3c1"/>
<rect x="323.67" y="30.89" width="9.72" height="3.38" fill="#f9e1d5"/>
<rect x="333.33" y="30.89" width="9.72" height="3.38" fill="#fbdcca"/>
<rect x="343" y="30.89" width="9.72" height="3.38" fill="#f4ad8d"/>
<rect x="352.67" y="30.89" width="9.72" height="3.38" fill="#f3a07e"/>
<rect x="362.33" y="30.89" width="9.72" height="3.38" fill="#f7c0a6"/>
<rect x="256" y="34.22" width="9.72" height="3.38" fill="#6aa5d2"/>
<rect x="265.67" y="34.22" width="9.72" height="3.38" fill="#6aa5d2"/>
<rect x="275.33" y="34.22" width="9.72" height="3.38" fill="#5798cb"/>
<rect x="285" y="34.22" width="9.72" height="3.38" fill="#b8d5ea"/>
<rect x="294.67" y="34.22" width="9.72" height="3.38" fill="#b8d5ea"/>
<rect x="304.33" y="34.22" width="9.72" height="3.38" fill="#a8cbe5"/>
<rect x="314" y="34.22" width="9.72" height="3.38" fill="#f9dccd"/>
<rect x="323.67" y="34.22" width="9.72" height="3.38" fill="#f9e4da"/>
<rect x="333.33" y="34.22" width="9.72" height="3.38" fill="#f9dccd"/>
<rect x="343" y="34.22" width="9.72" height="3.38" fill="#ef9270"/>
<rect x="352.67" y="34.22" width="9.72" height="3.38" fill="#f3a383"/>
<rect x="362.33" y="34.22" width="9.72" height="3.38" fill="#f6b89c"/>
<rect x="256" y="37.55" width="9.72" height="3.38" fill="#a6cae5"/>
<rect x="265.67" y="37.55" width="9.72" height="3.38" fill="#a6cae5"/>
<rect x="275.33" y="37.55" width="9.72" height="3.38" fill="#6ba6d3"/>
<rect x="285" y="37.55" width="9.72" height="3.38" fill="#76afd8"/>
<rect x="294.67" y="37.55" width="9.72" height="3.38" fill="#76afd8"/>
<rect x="304.33" y="37.55" width="9.72" height="3.38" fill="#a0c7e3"/>
<rect x="314" y="37.55" width="9.72" height="3.38" fill="#fbd3bf"/>
<rect x="323.67" y="37.55" width="9.72" height="3.38" fill="#f5f2f1"/>
<rect x="333.33" y="37.55" width="9.72" height="3.38" fill="#f9e6dc"/>
<rect x="343" y="37.55" width="9.72" height="3.38" fill="#ef9270"/>
<rect x="352.67" y="37.55" width="9.72" height="3.38" fill="#f1a080"/>
<rect x="362.33" y="37.55" width="9.72" height="3.38" fill="#e98062"/>
<rect x="256" y="40.87" width="9.72" height="3.38" fill="#78b0d8"/>
<rect x="265.67" y="40.87" width="9.72" height="3.38" fill="#86b8dc"/>
<rect x="275.33" y="40.87" width="9.72" height="3.38" fill="#82b6db"/>
<rect x="285" y="40.87" width="9.72" height="3.38" fill="#a8cbe5"/>
<rect x="294.67" y="40.87" width="9.72" height="3.38" fill="#aecee7"/>
<rect x="304.33" y="40.87" width="9.72" height="3.38" fill="#b0d0e8"/>
<rect x="314" y="40.87" width="9.72" height="3.38" fill="#fbd3bf"/>
<rect x="323.67" y="40.87" width="9.72" height="3.38" fill="#f5f2f1"/>
<rect x="333.33" y="40.87" width="9.72" height="3.38" fill="#f8eee8"/>
<rect x="343" y="40.87" width="9.72" height="3.38" fill="#ef9270"/>
<rect x="352.67" y="40.87" width="9.72" height="3.38" fill="#f2a584"/>
<rect x="362.33" y="40.87" width="9.72" height="3.38" fill="#e5704f"/>
<rect x="256" y="44.2" width="9.72" height="3.38" fill="#77afd7"/>
<rect x="265.67" y="44.2" width="9.72" height="3.38" fill="#5b9bcc"/>
<rect x="275.33" y="44.2" width="9.72" height="3.38" fill="#c6dcee"/>
<rect x="285" y="44.2" width="9.72" height="3.38" fill="#b0d1e8"/>
<rect x="294.67" y="44.2" width="9.72" height="3.38" fill="#94c1e0"/>
<rect x="304.33" y="44.2" width="9.72" height="3.38" fill="#b0d0e8"/>
<rect x="314" y="44.2" width="9.72" height="3.38" fill="#fbd8c6"/>
<rect x="323.67" y="44.2" width="9.72" height="3.38" fill="#f7f3f2"/>
<rect x="333.33" y="44.2" width="9.72" height="3.38" fill="#f8eee8"/>
<rect x="343" y="44.2" width="9.72" height="3.38" fill="#ef9270"/>
<rect x="352.67" y="44.2" width="9.72" height="3.38" fill="#f3a383"/>
<rect x="362.33" y="44.2" width="9.72" height="3.38" fill="#e97b5c"/>
<rect x="256" y="47.53" width="9.72" height="3.38" fill="#76afd7"/>
<rect x="265.67" y="47.53" width="9.72" height="3.38" fill="#8dbde0"/>
<rect x="275.33" y="47.53" width="9.72" height="3.38" fill="#8dbde0"/>
<rect x="285" y="47.53" width="9.72" height="3.38" fill="#a5c9e4"/>
<rect x="294.67" y="47.53" width="9.72" height="3.38" fill="#c0d8ec"/>
<rect x="304.33" y="47.53" width="9.72" height="3.38" fill="#a8cbe5"/>
<rect x="314" y="47.53" width="9.72" height="3.38" fill="#f2f2f4"/>
<rect x="323.67" y="47.53" width="9.72" height="3.38" fill="#fbd8c6"/>
<rect x="333.33" y="47.53" width="9.72" height="3.38" fill="#fbd8c6"/>
<rect x="343" y="47.53" width="9.72" height="3.38" fill="#f09474"/>
<rect x="352.67" y="47.53" width="9.72" height="3.38" fill="#e06a52"/>
<rect x="362.33" y="47.53" width="9.72" height="3.38" fill="#f8d0bc"/>
<rect x="256" y="50.86" width="9.72" height="3.38" fill="#76afd7"/>
<rect x="265.67" y="50.86" width="9.72" height="3.38" fill="#8dbde0"/>
<rect x="275.33" y="50.86" width="9.72" height="3.38" fill="#8dbde0"/>
<rect x="285" y="50.86" width="9.72" height="3.38" fill="#d1e4f1"/>
<rect x="294.67" y="50.86" width="9.72" height="3.38" fill="#a4c9e4"/>
<rect x="304.33" y="50.86" width="9.72" height="3.38" fill="#b2d2e8"/>
<rect x="314" y="50.86" width="9.72" height="3.38" fill="#f2f2f4"/>
<rect x="323.67" y="50.86" width="9.72" height="3.38" fill="#fbd8c6"/>
<rect x="333.33" y="50.86" width="9.72" height="3.38" fill="#fbd8c6"/>
<rect x="343" y="50.86" width="9.72" height="3.38" fill="#e06a52"/>
<rect x="352.67" y="50.86" width="9.72" height="3.38" fill="#f1996f"/>
<rect x="362.33" y="50.86" width="9.72" height="3.38" fill="#f6c3a8"/>
<rect x="256" y="54.19" width="9.72" height="3.38" fill="#76afd7"/>
<rect x="265.67" y="54.19" width="9.72" height="3.38" fill="#8dbde0"/>
<rect x="275.33" y="54.19" width="9.72" height="3.38" fill="#8dbde0"/>
<rect x="285" y="54.19" width="9.72" height="3.38" fill="#b8d4ea"/>
<rect x="294.67" y="54.19" width="9.72" height="3.38" fill="#b8d4ea"/>
<rect x="304.33" y="54.19" width="9.72" height="3.38" fill="#9ec6e2"/>
<rect x="314" y="54.19" width="9.72" height="3.38" fill="#f8e0d2"/>
<rect x="323.67" y="54.19" width="9.72" height="3.38" fill="#fbd8c6"/>
<rect x="333.33" y="54.19" width="9.72" height="3.38" fill="#fbe0d3"/>
<rect x="343" y="54.19" width="9.72" height="3.38" fill="#f3a080"/>
<rect x="352.67" y="54.19" width="9.72" height="3.38" fill="#ec8a6a"/>
<rect x="362.33" y="54.19" width="9.72" height="3.38" fill="#f4b394"/>
<rect x="256" y="57.52" width="9.72" height="3.38" fill="#5f9ecf"/>
<rect x="265.67" y="57.52" width="9.72" height="3.38" fill="#8dbde0"/>
<rect x="275.33" y="57.52" width="9.72" height="3.38" fill="#b7d4ea"/>
<rect x="285" y="57.52" width="9.72" height="3.38" fill="#a0c6e3"/>
<rect x="294.67" y="57.52" width="9.72" height="3.38" fill="#c0d9ec"/>
<rect x="304.33" y="57.52" width="9.72" height="3.38" fill="#a9cce6"/>
<rect x="314" y="57.52" width="9.72" height="3.38" fill="#eef0f4"/>
<rect x="323.67" y="57.52" width="9.72" height="3.38" fill="#f9e6dc"/>
<rect x="333.33" y="57.52" width="9.72" height="3.38" fill="#f9e6dc"/>
<rect x="343" y="57.52" width="9.72" height="3.38" fill="#e5704f"/>
<rect x="352.67" y="57.52" width="9.72" height="3.38" fill="#f3a383"/>
<rect x="362.33" y="57.52" width="9.72" height="3.38" fill="#f4ad8d"/>
<rect x="256" y="60.85" width="9.72" height="3.38" fill="#7db3da"/>
<rect x="265.67" y="60.85" width="9.72" height="3.38" fill="#7db3da"/>
<rect x="275.33" y="60.85" width="9.72" height="3.38" fill="#8fbee0"/>
<rect x="285" y="60.85" width="9.72" height="3.38" fill="#8fbee0"/>
<rect x="294.67" y="60.85" width="9.72" height="3.38" fill="#c6ddee"/>
<rect x="304.33" y="60.85" width="9.72" height="3.38" fill="#a0c6e3"/>
<rect x="314" y="60.85" width="9.72" height="3.38" fill="#f6ece8"/>
<rect x="323.67" y="60.85" width="9.72" height="3.38" fill="#f8ebe4"/>
<rect x="333.33" y="60.85" width="9.72" height="3.38" fill="#f9e1d5"/>
<rect x="343" y="60.85" width="9.72" height="3.38" fill="#ef9270"/>
<rect x="352.67" y="60.85" width="9.72" height="3.38" fill="#f09474"/>
<rect x="362.33" y="60.85" width="9.72" height="3.38" fill="#f4ad8d"/>
<rect x="256" y="64.18" width="9.72" height="3.38" fill="#6aa6d3"/>
<rect x="265.67" y="64.18" width="9.72" height="3.38" fill="#6aa6d3"/>
<rect x="275.33" y="64.18" width="9.72" height="3.38" fill="#b0d1e8"/>
<rect x="285" y="64.18" width="9.72" height="3.38" fill="#78b1d9"/>
<rect x="294.67" y="64.18" width="9.72" height="3.38" fill="#c0d9ec"/>
<rect x="304.33" y="64.18" width="9.72" height="3.38" fill="#8fbee0"/>
<rect x="314" y="64.18" width="9.72" height="3.38" fill="#f9e6dc"/>
<rect x="323.67" y="64.18" width="9.72" height="3.38" fill="#f8ebe4"/>
<rect x="333.33" y="64.18" width="9.72" height="3.38" fill="#f9e1d5"/>
<rect x="343" y="64.18" width="9.72" height="3.38" fill="#ef9270"/>
<rect x="352.67" y="64.18" width="9.72" height="3.38" fill="#ec8a6a"/>
<rect x="362.33" y="64.18" width="9.72" height="3.38" fill="#f4ad8d"/>
<rect x="256" y="67.51" width="9.72" height="3.38" fill="#76afd7"/>
<rect x="265.67" y="67.51" width="9.72" height="3.38" fill="#6aa6d3"/>
<rect x="275.33" y="67.51" width="9.72" height="3.38" fill="#9cc5e2"/>
<rect x="285" y="67.51" width="9.72" height="3.38" fill="#8fbee0"/>
<rect x="294.67" y="67.51" width="9.72" height="3.38" fill="#c6ddee"/>
<rect x="304.33" y="67.51" width="9.72" height="3.38" fill="#8fbee0"/>
<rect x="314" y="67.51" width="9.72" height="3.38" fill="#f9e6dc"/>
<rect x="323.67" y="67.51" width="9.72" height="3.38" fill="#f8ebe4"/>
<rect x="333.33" y="67.51" width="9.72" height="3.38" fill="#f9e1d5"/>
<rect x="343" y="67.51" width="9.72" height="3.38" fill="#ef9270"/>
<rect x="352.67" y="67.51" width="9.72" height="3.38" fill="#ec8a6a"/>
<rect x="362.33" y="67.51" width="9.72" height="3.38" fill="#f4ad8d"/>
<rect x="256" y="70.84" width="9.72" height="3.38" fill="#86b8dc"/>
<rect x="265.67" y="70.84" width="9.72" height="3.38" fill="#8fbee0"/>
<rect x="275.33" y="70.84" width="9.72" height="3.38" fill="#8fbee0"/>
<rect x="285" y="70.84" width="9.72" height="3.38" fill="#8fbee0"/>
<rect x="294.67" y="70.84" width="9.72" height="3.38" fill="#a8cbe5"/>
<rect x="304.33" y="70.84" width="9.72" height="3.38" fill="#8fbee0"/>
<rect x="314" y="70.84" width="9.72" height="3.38" fill="#f9e1d5"/>
<rect x="323.67" y="70.84" width="9.72" height="3.38" fill="#f5f2f1"/>
<rect x="333.33" y="70.84" width="9.72" height="3.38" fill="#f5b89c"/>
<rect x="343" y="70.84" width="9.72" height="3.38" fill="#ef9270"/>
<rect x="352.67" y="70.84" width="9.72" height="3.38" fill="#f09474"/>
<rect x="362.33" y="70.84" width="9.72" height="3.38" fill="#f3a383"/>
<rect x="256" y="74.16" width="9.72" height="3.38" fill="#6aa6d3"/>
<rect x="265.67" y="74.16" width="9.72" height="3.38" fill="#76afd7"/>
<rect x="275.33" y="74.16" width="9.72" height="3.38" fill="#5f9ecf"/>
<rect x="285" y="74.16" width="9.72" height="3.38" fill="#86b8dc"/>
<rect x="294.67" y="74.16" width="9.72" height="3.38" fill="#bcd7eb"/>
<rect x="304.33" y="74.16" width="9.72" height="3.38" fill="#8fbee0"/>
<rect x="314" y="74.16" width="9.72" height="3.38" fill="#f9e1d5"/>
<rect x="323.67" y="74.16" width="9.72" height="3.38" fill="#f9e6dc"/>
<rect x="333.33" y="74.16" width="9.72" height="3.38" fill="#fad2bf"/>
<rect x="343" y="74.16" width="9.72" height="3.38" fill="#ef9270"/>
<rect x="352.67" y="74.16" width="9.72" height="3.38" fill="#f09474"/>
<rect x="362.33" y="74.16" width="9.72" height="3.38" fill="#f3a383"/>
<rect x="256" y="77.49" width="9.72" height="3.38" fill="#6aa6d3"/>
<rect x="265.67" y="77.49" width="9.72" height="3.38" fill="#6aa6d3"/>
<rect x="275.33" y="77.49" width="9.72" height="3.38" fill="#a8cbe5"/>
<rect x="285" y="77.49" width="9.72" height="3.38" fill="#86b8dc"/>
<rect x="294.67" y="77.49" width="9.72" height="3.38" fill="#bcd7eb"/>
<rect x="304.33" y="77.49" width="9.72" height="3.38" fill="#9cc5e2"/>
<rect x="314" y="77.49" width="9.72" height="3.38" fill="#f9e6dc"/>
<rect x="323.67" y="77.49" width="9.72" height="3.38" fill="#fbdcca"/>
<rect x="333.33" y="77.49" width="9.72" height="3.38" fill="#fbd8c6"/>
<rect x="343" y="77.49" width="9.72" height="3.38" fill="#f3a383"/>
<rect x="352.67" y="77.49" width="9.72" height="3.38" fill="#ef9270"/>
<rect x="362.33" y="77.49" width="9.72" height="3.38" fill="#f3a383"/>
<rect x="256" y="80.82" width="9.72" height="3.38" fill="#86b8dc"/>
<rect x="265.67" y="80.82" width="9.72" height="3.38" fill="#86b8dc"/>
<rect x="275.33" y="80.82" width="9.72" height="3.38" fill="#5f9ecf"/>
<rect x="285" y="80.82" width="9.72" height="3.38" fill="#a8cbe5"/>
<rect x="294.67" y="80.82" width="9.72" height="3.38" fill="#c6ddee"/>
<rect x="304.33" y="80.82" width="9.72" height="3.38" fill="#a8cbe5"/>
<rect x="314" y="80.82" width="9.72" height="3.38" fill="#f9e1d5"/>
<rect x="323.67" y="80.82" width="9.72" height="3.38" fill="#fad7c5"/>
<rect x="333.33" y="80.82" width="9.72" height="3.38" fill="#eef1f5"/>
<rect x="343" y="80.82" width="9.72" height="3.38" fill="#f3a383"/>
<rect x="352.67" y="80.82" width="9.72" height="3.38" fill="#e98062"/>
<rect x="362.33" y="80.82" width="9.72" height="3.38" fill="#f3a383"/>
<rect x="256" y="84.15" width="9.72" height="3.38" fill="#86b8dc"/>
<rect x="265.67" y="84.15" width="9.72" height="3.38" fill="#86b8dc"/>
<rect x="275.33" y="84.15" width="9.72" height="3.38" fill="#5f9ecf"/>
<rect x="285" y="84.15" width="9.72" height="3.38" fill="#a8cbe5"/>
<rect x="294.67" y="84.15" width="9.72" height="3.38" fill="#e8eff5"/>
<rect x="304.33" y="84.15" width="9.72" height="3.38" fill="#a8cbe5"/>
<rect x="314" y="84.15" width="9.72" height="3.38" fill="#e9eef4"/>
<rect x="323.67" y="84.15" width="9.72" height="3.38" fill="#f9e6dc"/>
<rect x="333.33" y="84.15" width="9.72" height="3.38" fill="#f1f2f4"/>
<rect x="343" y="84.15" width="9.72" height="3.38" fill="#d9543f"/>
<rect x="352.67" y="84.15" width="9.72" height="3.38" fill="#f4ad8d"/>
<rect x="362.33" y="84.15" width="9.72" height="3.38" fill="#ef9270"/>
<rect x="256" y="87.48" width="9.72" height="3.38" fill="#76afd7"/>
<rect x="265.67" y="87.48" width="9.72" height="3.38" fill="#8fbee0"/>
<rect x="275.33" y="87.48" width="9.72" height="3.38" fill="#6aa6d3"/>
<rect x="285" y="87.48" width="9.72" height="3.38" fill="#a8cbe5"/>
<rect x="294.67" y="87.48" width="9.72" height="3.38" fill="#c6ddee"/>
<rect x="304.33" y="87.48" width="9.72" height="3.38" fill="#9cc5e2"/>
<rect x="314" y="87.48" width="9.72" height="3.38" fill="#eef0f4"/>
<rect x="323.67" y="87.48" width="9.72" height="3.38" fill="#f9e6dc"/>
<rect x="333.33" y="87.48" width="9.72" height="3.38" fill="#f9e6dc"/>
<rect x="343" y="87.48" width="9.72" height="3.38" fill="#ec8a6a"/>
<rect x="352.67" y="87.48" width="9.72" height="3.38" fill="#e5704f"/>
<rect x="362.33" y="87.48" width="9.72" height="3.38" fill="#f09474"/>
<rect x="256" y="90.81" width="9.72" height="3.38" fill="#a0c6e3"/>
<rect x="265.67" y="90.81" width="9.72" height="3.38" fill="#8fbee0"/>
<rect x="275.33" y="90.81" width="9.72" height="3.38" fill="#3f8ac2"/>
<rect x="285" y="90.81" width="9.72" height="3.38" fill="#b7d4ea"/>
<rect x="294.67" y="90.81" width="9.72" height="3.38" fill="#c6ddee"/>
<rect x="304.33" y="90.81" width="9.72" height="3.38" fill="#b0d1e8"/>
<rect x="314" y="90.81" width="9.72" height="3.38" fill="#eef0f4"/>
<rect x="323.67" y="90.81" width="9.72" height="3.38" fill="#fad2bf"/>
<rect x="333.33" y="90.81" width="9.72" height="3.38" fill="#f9e6dc"/>
<rect x="343" y="90.81" width="9.72" height="3.38" fill="#f09474"/>
<rect x="352.67" y="90.81" width="9.72" height="3.38" fill="#f3a383"/>
<rect x="362.33" y="90.81" width="9.72" height="3.38" fill="#f09474"/>
<rect x="256" y="94.14" width="9.72" height="3.38" fill="#f5f2f1"/>
<rect x="265.67" y="94.14" width="9.72" height="3.38" fill="#f9e6dc"/>
<rect x="275.33" y="94.14" width="9.72" height="3.38" fill="#e6eef5"/>
<rect x="285" y="94.14" width="9.72" height="3.38" fill="#f9e6dc"/>
<rect x="294.67" y="94.14" width="9.72" height="3.38" fill="#f6f0ee"/>
<rect x="304.33" y="94.14" width="9.72" height="3.38" fill="#f9e6dc"/>
<rect x="314" y="94.14" width="9.72" height="3.38" fill="#f4a785"/>
<rect x="323.67" y="94.14" width="9.72" height="3.38" fill="#f2a07f"/>
<rect x="333.33" y="94.14" width="9.72" height="3.38" fill="#f9e6dc"/>
<rect x="343" y="94.14" width="9.72" height="3.38" fill="#3b82bf"/>
<rect x="352.67" y="94.14" width="9.72" height="3.38" fill="#6aa6d3"/>
<rect x="362.33" y="94.14" width="9.72" height="3.38" fill="#4a8dc5"/>
<rect x="256" y="97.47" width="9.72" height="3.38" fill="#f9e1d5"/>
<rect x="265.67" y="97.47" width="9.72" height="3.38" fill="#f9e6dc"/>
<rect x="275.33" y="97.47" width="9.72" height="3.38" fill="#e6eef5"/>
<rect x="285" y="97.47" width="9.72" height="3.38" fill="#f9e1d5"/>
<rect x="294.67" y="97.47" width="9.72" height="3.38" fill="#e9eef4"/>
<rect x="304.33" y="97.47" width="9.72" height="3.38" fill="#f9e1d5"/>
<rect x="314" y="97.47" width="9.72" height="3.38" fill="#f6b89c"/>
<rect x="323.67" y="97.47" width="9.72" height="3.38" fill="#fad2bf"/>
<rect x="333.33" y="97.47" width="9.72" height="3.38" fill="#f9e1d5"/>
<rect x="343" y="97.47" width="9.72" height="3.38" fill="#3b82bf"/>
<rect x="352.67" y="97.47" width="9.72" height="3.38" fill="#6aa6d3"/>
<rect x="362.33" y="97.47" width="9.72" height="3.38" fill="#3b82bf"/>
<rect x="256" y="100.8" width="9.72" height="3.38" fill="#f6f0ee"/>
<rect x="265.67" y="100.8" width="9.72" height="3.38" fill="#f9e6dc"/>
<rect x="275.33" y="100.8" width="9.72" height="3.38" fill="#e6eef5"/>
<rect x="285" y="100.8" width="9.72" height="3.38" fill="#f9e6dc"/>
<rect x="294.67" y="100.8" width="9.72" height="3.38" fill="#e9eef4"/>
<rect x="304.33" y="100.8" width="9.72" height="3.38" fill="#f9e6dc"/>
<rect x="314" y="100.8" width="9.72" height="3.38" fill="#f6b89c"/>
<rect x="323.67" y="100.8" width="9.72" height="3.38" fill="#f4a785"/>
<rect x="333.33" y="100.8" width="9.72" height="3.38" fill="#fad2bf"/>
<rect x="343" y="100.8" width="9.72" height="3.38" fill="#3b82bf"/>
<rect x="352.67" y="100.8" width="9.72" height="3.38" fill="#6aa6d3"/>
<rect x="362.33" y="100.8" width="9.72" height="3.38" fill="#3b82bf"/>
<rect x="256" y="104.12" width="9.72" height="3.38" fill="#e2ecf4"/>
<rect x="265.67" y="104.12" width="9.72" height="3.38" fill="#fad7c5"/>
<rect x="275.33" y="104.12" width="9.72" height="3.38" fill="#e6eef5"/>
<rect x="285" y="104.12" width="9.72" height="3.38" fill="#f9e6dc"/>
<rect x="294.67" y="104.12" width="9.72" height="3.38" fill="#fad2bf"/>
<rect x="304.33" y="104.12" width="9.72" height="3.38" fill="#fad7c5"/>
<rect x="314" y="104.12" width="9.72" height="3.38" fill="#fbe3d6"/>
<rect x="323.67" y="104.12" width="9.72" height="3.38" fill="#f9e1d5"/>
<rect x="333.33" y="104.12" width="9.72" height="3.38" fill="#f9e6dc"/>
<rect x="343" y="104.12" width="9.72" height="3.38" fill="#4a8dc5"/>
<rect x="352.67" y="104.12" width="9.72" height="3.38" fill="#3b82bf"/>
<rect x="362.33" y="104.12" width="9.72" height="3.38" fill="#4a8dc5"/>
<rect x="256" y="107.45" width="9.72" height="3.38" fill="#fad2bf"/>
<rect x="265.67" y="107.45" width="9.72" height="3.38" fill="#f9e1d5"/>
<rect x="275.33" y="107.45" width="9.72" height="3.38" fill="#f8f0ec"/>
<rect x="285" y="107.45" width="9.72" height="3.38" fill="#f8c2a8"/>
<rect x="294.67" y="107.45" width="9.72" height="3.38" fill="#f9e6dc"/>
<rect x="304.33" y="107.45" width="9.72" height="3.38" fill="#f9e6dc"/>
<rect x="314" y="107.45" width="9.72" height="3.38" fill="#fad2bf"/>
<rect x="323.67" y="107.45" width="9.72" height="3.38" fill="#f4f3f3"/>
<rect x="333.33" y="107.45" width="9.72" height="3.38" fill="#f8ebe4"/>
<rect x="343" y="107.45" width="9.72" height="3.38" fill="#3b82bf"/>
<rect x="352.67" y="107.45" width="9.72" height="3.38" fill="#6aa6d3"/>
<rect x="362.33" y="107.45" width="9.72" height="3.38" fill="#2e72b4"/>
<rect x="256" y="110.78" width="9.72" height="3.38" fill="#fad2bf"/>
<rect x="265.67" y="110.78" width="9.72" height="3.38" fill="#f9e6dc"/>
<rect x="275.33" y="110.78" width="9.72" height="3.38" fill="#edf1f5"/>
<rect x="285" y="110.78" width="9.72" height="3.38" fill="#f8c7ae"/>
<rect x="294.67" y="110.78" width="9.72" height="3.38" fill="#f8ebe4"/>
<rect x="304.33" y="110.78" width="9.72" height="3.38" fill="#f9e6dc"/>
<rect x="314" y="110.78" width="9.72" height="3.38" fill="#f9e1d5"/>
<rect x="323.67" y="110.78" width="9.72" height="3.38" fill="#f8ebe4"/>
<rect x="333.33" y="110.78" width="9.72" height="3.38" fill="#f9e1d5"/>
<rect x="343" y="110.78" width="9.72" height="3.38" fill="#4a8dc5"/>
<rect x="352.67" y="110.78" width="9.72" height="3.38" fill="#3b82bf"/>
<rect x="362.33" y="110.78" width="9.72" height="3.38" fill="#2e72b4"/>
<rect x="256" y="114.11" width="9.72" height="3.38" fill="#fad2bf"/>
<rect x="265.67" y="114.11" width="9.72" height="3.38" fill="#f9e1d5"/>
<rect x="275.33" y="114.11" width="9.72" height="3.38" fill="#edf1f5"/>
<rect x="285" y="114.11" width="9.72" height="3.38" fill="#fad2bf"/>
<rect x="294.67" y="114.11" width="9.72" height="3.38" fill="#f8ebe4"/>
<rect x="304.33" y="114.11" width="9.72" height="3.38" fill="#f9e6dc"/>
<rect x="314" y="114.11" width="9.72" height="3.38" fill="#f9e1d5"/>
<rect x="323.67" y="114.11" width="9.72" height="3.38" fill="#f9e6dc"/>
<rect x="333.33" y="114.11" width="9.72" height="3.38" fill="#f9e1d5"/>
<rect x="343" y="114.11" width="9.72" height="3.38" fill="#4a8dc5"/>
<rect x="352.67" y="114.11" width="9.72" height="3.38" fill="#5a9bcd"/>
<rect x="362.33" y="114.11" width="9.72" height="3.38" fill="#2e72b4"/>
<rect x="256" y="117.44" width="9.72" height="3.38" fill="#fad2bf"/>
<rect x="265.67" y="117.44" width="9.72" height="3.38" fill="#f6b89c"/>
<rect x="275.33" y="117.44" width="9.72" height="3.38" fill="#c7323a"/>
<rect x="285" y="117.44" width="9.72" height="3.38" fill="#f4f3f3"/>
<rect x="294.67" y="117.44" width="9.72" height="3.38" fill="#96c3e1"/>
<rect x="304.33" y="117.44" width="9.72" height="3.38" fill="#f4f3f3"/>
<rect x="314" y="117.44" width="9.72" height="3.38" fill="#fad2bf"/>
<rect x="323.67" y="117.44" width="9.72" height="3.38" fill="#eef1f5"/>
<rect x="333.33" y="117.44" width="9.72" height="3.38" fill="#eef1f5"/>
<rect x="343" y="117.44" width="9.72" height="3.38" fill="#6aa6d3"/>
<rect x="352.67" y="117.44" width="9.72" height="3.38" fill="#6aa6d3"/>
<rect x="362.33" y="117.44" width="9.72" height="3.38" fill="#6aa6d3"/>
<rect x="256" y="120.77" width="9.72" height="3.38" fill="#f9dccd"/>
<rect x="265.67" y="120.77" width="9.72" height="3.38" fill="#f9e6dc"/>
<rect x="275.33" y="120.77" width="9.72" height="3.38" fill="#e6eef5"/>
<rect x="285" y="120.77" width="9.72" height="3.38" fill="#f6b89c"/>
<rect x="294.67" y="120.77" width="9.72" height="3.38" fill="#f6b89c"/>
<rect x="304.33" y="120.77" width="9.72" height="3.38" fill="#f9e1d5"/>
<rect x="314" y="120.77" width="9.72" height="3.38" fill="#f9e6dc"/>
<rect x="323.67" y="120.77" width="9.72" height="3.38" fill="#f8ebe4"/>
<rect x="333.33" y="120.77" width="9.72" height="3.38" fill="#eef1f5"/>
<rect x="343" y="120.77" width="9.72" height="3.38" fill="#4a8dc5"/>
<rect x="352.67" y="120.77" width="9.72" height="3.38" fill="#4a8dc5"/>
<rect x="362.33" y="120.77" width="9.72" height="3.38" fill="#5a9bcd"/>
<rect x="256" y="124.1" width="9.72" height="3.38" fill="#fad2bf"/>
<rect x="265.67" y="124.1" width="9.72" height="3.38" fill="#fad2bf"/>
<rect x="275.33" y="124.1" width="9.72" height="3.38" fill="#e6eef5"/>
<rect x="285" y="124.1" width="9.72" height="3.38" fill="#f8c2a8"/>
<rect x="294.67" y="124.1" width="9.72" height="3.38" fill="#f8c2a8"/>
<rect x="304.33" y="124.1" width="9.72" height="3.38" fill="#fad2bf"/>
<rect x="314" y="124.1" width="9.72" height="3.38" fill="#f9e1d5"/>
<rect x="323.67" y="124.1" width="9.72" height="3.38" fill="#eef1f5"/>
<rect x="333.33" y="124.1" width="9.72" height="3.38" fill="#eef1f5"/>
<rect x="343" y="124.1" width="9.72" height="3.38" fill="#4a8dc5"/>
<rect x="352.67" y="124.1" width="9.72" height="3.38" fill="#5a9bcd"/>
<rect x="362.33" y="124.1" width="9.72" height="3.38" fill="#5a9bcd"/>
<rect x="256" y="127.43" width="9.72" height="3.38" fill="#c43036"/>
<rect x="265.67" y="127.43" width="9.72" height="3.38" fill="#f4a582"/>
<rect x="275.33" y="127.43" width="9.72" height="3.38" fill="#f9e6dc"/>
<rect x="285" y="127.43" width="9.72" height="3.38" fill="#f9dccc"/>
<rect x="294.67" y="127.43" width="9.72" height="3.38" fill="#f9dccc"/>
<rect x="304.33" y="127.43" width="9.72" height="3.38" fill="#f9e1d5"/>
<rect x="314" y="127.43" width="9.72" height="3.38" fill="#a8cbe5"/>
<rect x="323.67" y="127.43" width="9.72" height="3.38" fill="#a8cbe5"/>
<rect x="333.33" y="127.43" width="9.72" height="3.38" fill="#8fbee0"/>
<rect x="343" y="127.43" width="9.72" height="3.38" fill="#8fbee0"/>
<rect x="352.67" y="127.43" width="9.72" height="3.38" fill="#a0c6e3"/>
<rect x="362.33" y="127.43" width="9.72" height="3.38" fill="#8fbee0"/>
<rect x="256" y="130.76" width="9.72" height="3.38" fill="#c8323a"/>
<rect x="265.67" y="130.76" width="9.72" height="3.38" fill="#f4a582"/>
<rect x="275.33" y="130.76" width="9.72" height="3.38" fill="#f9e1d5"/>
<rect x="285" y="130.76" width="9.72" height="3.38" fill="#f9dccc"/>
<rect x="294.67" y="130.76" width="9.72" height="3.38" fill="#f9e1d5"/>
<rect x="304.33" y="130.76" width="9.72" height="3.38" fill="#f9e1d5"/>
<rect x="314" y="130.76" width="9.72" height="3.38" fill="#a8cbe5"/>
<rect x="323.67" y="130.76" width="9.72" height="3.38" fill="#a8cbe5"/>
<rect x="333.33" y="130.76" width="9.72" height="3.38" fill="#5f9ecf"/>
<rect x="343" y="130.76" width="9.72" height="3.38" fill="#8fbee0"/>
<rect x="352.67" y="130.76" width="9.72" height="3.38" fill="#b0d1e8"/>
<rect x="362.33" y="130.76" width="9.72" height="3.38" fill="#b0d1e8"/>
<rect x="256" y="134.09" width="9.72" height="3.38" fill="#c02a35"/>
<rect x="265.67" y="134.09" width="9.72" height="3.38" fill="#f4a582"/>
<rect x="275.33" y="134.09" width="9.72" height="3.38" fill="#f9e1d5"/>
<rect x="285" y="134.09" width="9.72" height="3.38" fill="#f9dccc"/>
<rect x="294.67" y="134.09" width="9.72" height="3.38" fill="#eef1f5"/>
<rect x="304.33" y="134.09" width="9.72" height="3.38" fill="#f9e1d5"/>
<rect x="314" y="134.09" width="9.72" height="3.38" fill="#e6eef5"/>
<rect x="323.67" y="134.09" width="9.72" height="3.38" fill="#c6ddee"/>
<rect x="333.33" y="134.09" width="9.72" height="3.38" fill="#d1e4f1"/>
<rect x="343" y="134.09" width="9.72" height="3.38" fill="#7db3da"/>
<rect x="352.67" y="134.09" width="9.72" height="3.38" fill="#5f9ecf"/>
<rect x="362.33" y="134.09" width="9.72" height="3.38" fill="#7db3da"/>
<rect x="256" y="137.41" width="9.72" height="3.38" fill="#c02a35"/>
<rect x="265.67" y="137.41" width="9.72" height="3.38" fill="#e5704f"/>
<rect x="275.33" y="137.41" width="9.72" height="3.38" fill="#f9e1d5"/>
<rect x="285" y="137.41" width="9.72" height="3.38" fill="#f1f2f4"/>
<rect x="294.67" y="137.41" width="9.72" height="3.38" fill="#eef1f5"/>
<rect x="304.33" y="137.41" width="9.72" height="3.38" fill="#eef1f5"/>
<rect x="314" y="137.41" width="9.72" height="3.38" fill="#e6eef5"/>
<rect x="323.67" y="137.41" width="9.72" height="3.38" fill="#a8cbe5"/>
<rect x="333.33" y="137.41" width="9.72" height="3.38" fill="#d1e4f1"/>
<rect x="343" y="137.41" width="9.72" height="3.38" fill="#8fbee0"/>
<rect x="352.67" y="137.41" width="9.72" height="3.38" fill="#8fbee0"/>
<rect x="362.33" y="137.41" width="9.72" height="3.38" fill="#9cc5e2"/>
<rect x="256" y="140.74" width="9.72" height="3.38" fill="#f9d5c3"/>
<rect x="265.67" y="140.74" width="9.72" height="3.38" fill="#f6b89c"/>
<rect x="275.33" y="140.74" width="9.72" height="3.38" fill="#f9e1d5"/>
<rect x="285" y="140.74" width="9.72" height="3.38" fill="#f9dccc"/>
<rect x="294.67" y="140.74" width="9.72" height="3.38" fill="#fad7c5"/>
<rect x="304.33" y="140.74" width="9.72" height="3.38" fill="#f9d5c3"/>
<rect x="314" y="140.74" width="9.72" height="3.38" fill="#f9e6dc"/>
<rect x="323.67" y="140.74" width="9.72" height="3.38" fill="#eef1f5"/>
<rect x="333.33" y="140.74" width="9.72" height="3.38" fill="#eef1f5"/>
<rect x="343" y="140.74" width="9.72" height="3.38" fill="#3b82bf"/>
<rect x="352.67" y="140.74" width="9.72" height="3.38" fill="#3b82bf"/>
<rect x="362.33" y="140.74" width="9.72" height="3.38" fill="#4a8dc5"/>
<rect x="256" y="144.07" width="9.72" height="3.38" fill="#f6c3a8"/>
<rect x="265.67" y="144.07" width="9.72" height="3.38" fill="#f9e1d5"/>
<rect x="275.33" y="144.07" width="9.72" height="3.38" fill="#f9e1d5"/>
<rect x="285" y="144.07" width="9.72" height="3.38" fill="#f9dccc"/>
<rect x="294.67" y="144.07" width="9.72" height="3.38" fill="#fad7c5"/>
<rect x="304.33" y="144.07" width="9.72" height="3.38" fill="#f9d5c3"/>
<rect x="314" y="144.07" width="9.72" height="3.38" fill="#f8ebe4"/>
<rect x="323.67" y="144.07" width="9.72" height="3.38" fill="#e6eef5"/>
<rect x="333.33" y="144.07" width="9.72" height="3.38" fill="#e6eef5"/>
<rect x="343" y="144.07" width="9.72" height="3.38" fill="#3b82bf"/>
<rect x="352.67" y="144.07" width="9.72" height="3.38" fill="#6aa6d3"/>
<rect x="362.33" y="144.07" width="9.72" height="3.38" fill="#3b82bf"/>
<rect x="256" y="147.4" width="9.72" height="3.38" fill="#f9e1d5"/>
<rect x="265.67" y="147.4" width="9.72" height="3.38" fill="#f8ebe4"/>
<rect x="275.33" y="147.4" width="9.72" height="3.38" fill="#e8785b"/>
<rect x="285" y="147.4" width="9.72" height="3.38" fill="#f9d5c3"/>
<rect x="294.67" y="147.4" width="9.72" height="3.38" fill="#fad2bf"/>
<rect x="304.33" y="147.4" width="9.72" height="3.38" fill="#fad7c5"/>
<rect x="314" y="147.4" width="9.72" height="3.38" fill="#eef1f5"/>
<rect x="323.67" y="147.4" width="9.72" height="3.38" fill="#d9e7f2"/>
<rect x="333.33" y="147.4" width="9.72" height="3.38" fill="#e6eef5"/>
<rect x="343" y="147.4" width="9.72" height="3.38" fill="#4a8dc5"/>
<rect x="352.67" y="147.4" width="9.72" height="3.38" fill="#4a8dc5"/>
<rect x="362.33" y="147.4" width="9.72" height="3.38" fill="#6aa6d3"/>
<rect x="256" y="150.73" width="9.72" height="3.38" fill="#f6b89c"/>
<rect x="265.67" y="150.73" width="9.72" height="3.38" fill="#f9e6dc"/>
<rect x="275.33" y="150.73" width="9.72" height="3.38" fill="#ec8a6a"/>
<rect x="285" y="150.73" width="9.72" height="3.38" fill="#f9dccc"/>
<rect x="294.67" y="150.73" width="9.72" height="3.38" fill="#fad2bf"/>
<rect x="304.33" y="150.73" width="9.72" height="3.38" fill="#fad7c5"/>
<rect x="314" y="150.73" width="9.72" height="3.38" fill="#f9e6dc"/>
<rect x="323.67" y="150.73" width="9.72" height="3.38" fill="#d9e7f2"/>
<rect x="333.33" y="150.73" width="9.72" height="3.38" fill="#e6eef5"/>
<rect x="343" y="150.73" width="9.72" height="3.38" fill="#4a8dc5"/>
<rect x="352.67" y="150.73" width="9.72" height="3.38" fill="#3578bb"/>
<rect x="362.33" y="150.73" width="9.72" height="3.38" fill="#6aa6d3"/>
<rect x="256" y="154.06" width="9.72" height="3.38" fill="#f6c3a8"/>
<rect x="265.67" y="154.06" width="9.72" height="3.38" fill="#f8c7ae"/>
<rect x="275.33" y="154.06" width="9.72" height="3.38" fill="#ec8a6a"/>
<rect x="285" y="154.06" width="9.72" height="3.38" fill="#f9dccc"/>
<rect x="294.67" y="154.06" width="9.72" height="3.38" fill="#f9d5c3"/>
<rect x="304.33" y="154.06" width="9.72" height="3.38" fill="#f9d5c3"/>
<rect x="314" y="154.06" width="9.72" height="3.38" fill="#f8ebe4"/>
<rect x="323.67" y="154.06" width="9.72" height="3.38" fill="#d9e7f2"/>
<rect x="333.33" y="154.06" width="9.72" height="3.38" fill="#d9e7f2"/>
<rect x="343" y="154.06" width="9.72" height="3.38" fill="#3b82bf"/>
<rect x="352.67" y="154.06" width="9.72" height="3.38" fill="#5a9bcd"/>
<rect x="362.33" y="154.06" width="9.72" height="3.38" fill="#6aa6d3"/>
<rect x="256" y="157.39" width="9.72" height="3.38" fill="#f6c3a8"/>
<rect x="265.67" y="157.39" width="9.72" height="3.38" fill="#f8c7ae"/>
<rect x="275.33" y="157.39" width="9.72" height="3.38" fill="#f09474"/>
<rect x="285" y="157.39" width="9.72" height="3.38" fill="#f9dccc"/>
<rect x="294.67" y="157.39" width="9.72" height="3.38" fill="#f9d5c3"/>
<rect x="304.33" y="157.39" width="9.72" height="3.38" fill="#fad7c5"/>
<rect x="314" y="157.39" width="9.72" height="3.38" fill="#eef1f5"/>
<rect x="323.67" y="157.39" width="9.72" height="3.38" fill="#d9e7f2"/>
<rect x="333.33" y="157.39" width="9.72" height="3.38" fill="#e6eef5"/>
<rect x="343" y="157.39" width="9.72" height="3.38" fill="#3b82bf"/>
<rect x="352.67" y="157.39" width="9.72" height="3.38" fill="#5a9bcd"/>
<rect x="362.33" y="157.39" width="9.72" height="3.38" fill="#5a9bcd"/>
<rect x="256" y="160.72" width="9.72" height="3.38" fill="#f6c3a8"/>
<rect x="265.67" y="160.72" width="9.72" height="3.38" fill="#f6c3a8"/>
<rect x="275.33" y="160.72" width="9.72" height="3.38" fill="#e06a52"/>
<rect x="285" y="160.72" width="9.72" height="3.38" fill="#f9dccc"/>
<rect x="294.67" y="160.72" width="9.72" height="3.38" fill="#f9dccc"/>
<rect x="304.33" y="160.72" width="9.72" height="3.38" fill="#f9d5c3"/>
<rect x="314" y="160.72" width="9.72" height="3.38" fill="#fad2bf"/>
<rect x="323.67" y="160.72" width="9.72" height="3.38" fill="#d9e7f2"/>
<rect x="333.33" y="160.72" width="9.72" height="3.38" fill="#e6eef5"/>
<rect x="343" y="160.72" width="9.72" height="3.38" fill="#5a9bcd"/>
<rect x="352.67" y="160.72" width="9.72" height="3.38" fill="#4a8dc5"/>
<rect x="362.33" y="160.72" width="9.72" height="3.38" fill="#5a9bcd"/>
<rect x="256" y="164.05" width="9.72" height="3.38" fill="#f6b89c"/>
<rect x="265.67" y="164.05" width="9.72" height="3.38" fill="#f4ad8d"/>
<rect x="275.33" y="164.05" width="9.72" height="3.38" fill="#f6b89c"/>
<rect x="285" y="164.05" width="9.72" height="3.38" fill="#f9d5c3"/>
<rect x="294.67" y="164.05" width="9.72" height="3.38" fill="#eef1f5"/>
<rect x="304.33" y="164.05" width="9.72" height="3.38" fill="#e9eef4"/>
<rect x="314" y="164.05" width="9.72" height="3.38" fill="#e6eef5"/>
<rect x="323.67" y="164.05" width="9.72" height="3.38" fill="#d1e4f1"/>
<rect x="333.33" y="164.05" width="9.72" height="3.38" fill="#d1e4f1"/>
<rect x="343" y="164.05" width="9.72" height="3.38" fill="#7db3da"/>
<rect x="352.67" y="164.05" width="9.72" height="3.38" fill="#4a8dc5"/>
<rect x="362.33" y="164.05" width="9.72" height="3.38" fill="#6aa6d3"/>
<rect x="256" y="167.38" width="9.72" height="3.38" fill="#f9e1d5"/>
<rect x="265.67" y="167.38" width="9.72" height="3.38" fill="#f9e1d5"/>
<rect x="275.33" y="167.38" width="9.72" height="3.38" fill="#f6b89c"/>
<rect x="285" y="167.38" width="9.72" height="3.38" fill="#f9d5c3"/>
<rect x="294.67" y="167.38" width="9.72" height="3.38" fill="#f9e1d5"/>
<rect x="304.33" y="167.38" width="9.72" height="3.38" fill="#eef1f5"/>
<rect x="314" y="167.38" width="9.72" height="3.38" fill="#eef1f5"/>
<rect x="323.67" y="167.38" width="9.72" height="3.38" fill="#d9e7f2"/>
<rect x="333.33" y="167.38" width="9.72" height="3.38" fill="#c6ddee"/>
<rect x="343" y="167.38" width="9.72" height="3.38" fill="#7db3da"/>
<rect x="352.67" y="167.38" width="9.72" height="3.38" fill="#3578bb"/>
<rect x="362.33" y="167.38" width="9.72" height="3.38" fill="#6aa6d3"/>
<rect x="256" y="170.71" width="9.72" height="3.38" fill="#f9e1d5"/>
<rect x="265.67" y="170.71" width="9.72" height="3.38" fill="#f8c7ae"/>
<rect x="275.33" y="170.71" width="9.72" height="3.38" fill="#e5704f"/>
<rect x="285" y="170.71" width="9.72" height="3.38" fill="#f9d5c3"/>
<rect x="294.67" y="170.71" width="9.72" height="3.38" fill="#f1f2f4"/>
<rect x="304.33" y="170.71" width="9.72" height="3.38" fill="#f9e1d5"/>
<rect x="314" y="170.71" width="9.72" height="3.38" fill="#e6eef5"/>
<rect x="323.67" y="170.71" width="9.72" height="3.38" fill="#d1e4f1"/>
<rect x="333.33" y="170.71" width="9.72" height="3.38" fill="#d9e7f2"/>
<rect x="343" y="170.71" width="9.72" height="3.38" fill="#8fbee0"/>
<rect x="352.67" y="170.71" width="9.72" height="3.38" fill="#4a8dc5"/>
<rect x="362.33" y="170.71" width="9.72" height="3.38" fill="#4a8dc5"/>
<rect x="256" y="174.03" width="9.72" height="3.38" fill="#f4a785"/>
<rect x="265.67" y="174.03" width="9.72" height="3.38" fill="#f6b89c"/>
<rect x="275.33" y="174.03" width="9.72" height="3.38" fill="#f8ebe4"/>
<rect x="285" y="174.03" width="9.72" height="3.38" fill="#f9dccc"/>
<rect x="294.67" y="174.03" width="9.72" height="3.38" fill="#f9dccc"/>
<rect x="304.33" y="174.03" width="9.72" height="3.38" fill="#f9dccc"/>
<rect x="314" y="174.03" width="9.72" height="3.38" fill="#d1e4f1"/>
<rect x="323.67" y="174.03" width="9.72" height="3.38" fill="#c6ddee"/>
<rect x="333.33" y="174.03" width="9.72" height="3.38" fill="#c6ddee"/>
<rect x="343" y="174.03" width="9.72" height="3.38" fill="#7db3da"/>
<rect x="352.67" y="174.03" width="9.72" height="3.38" fill="#5a9bcd"/>
<rect x="362.33" y="174.03" width="9.72" height="3.38" fill="#6aa6d3"/>
<rect x="256" y="177.36" width="9.72" height="3.38" fill="#f4ad8d"/>
<rect x="265.67" y="177.36" width="9.72" height="3.38" fill="#f6b89c"/>
<rect x="275.33" y="177.36" width="9.72" height="3.38" fill="#f8f0ec"/>
<rect x="285" y="177.36" width="9.72" height="3.38" fill="#f8c2a8"/>
<rect x="294.67" y="177.36" width="9.72" height="3.38" fill="#fad2bf"/>
<rect x="304.33" y="177.36" width="9.72" height="3.38" fill="#f9d5c3"/>
<rect x="314" y="177.36" width="9.72" height="3.38" fill="#b0d1e8"/>
<rect x="323.67" y="177.36" width="9.72" height="3.38" fill="#c6ddee"/>
<rect x="333.33" y="177.36" width="9.72" height="3.38" fill="#e6eef5"/>
<rect x="343" y="177.36" width="9.72" height="3.38" fill="#6aa6d3"/>
<rect x="352.67" y="177.36" width="9.72" height="3.38" fill="#6aa6d3"/>
<rect x="362.33" y="177.36" width="9.72" height="3.38" fill="#6aa6d3"/>
<rect x="256" y="180.69" width="9.72" height="3.38" fill="#f4ad8d"/>
<rect x="265.67" y="180.69" width="9.72" height="3.38" fill="#f6b89c"/>
<rect x="275.33" y="180.69" width="9.72" height="3.38" fill="#f8f0ec"/>
<rect x="285" y="180.69" width="9.72" height="3.38" fill="#f8c7ae"/>
<rect x="294.67" y="180.69" width="9.72" height="3.38" fill="#f9d5c3"/>
<rect x="304.33" y="180.69" width="9.72" height="3.38" fill="#fad7c5"/>
<rect x="314" y="180.69" width="9.72" height="3.38" fill="#b0d1e8"/>
<rect x="323.67" y="180.69" width="9.72" height="3.38" fill="#c6ddee"/>
<rect x="333.33" y="180.69" width="9.72" height="3.38" fill="#c6ddee"/>
<rect x="343" y="180.69" width="9.72" height="3.38" fill="#86b8dc"/>
<rect x="352.67" y="180.69" width="9.72" height="3.38" fill="#86b8dc"/>
<rect x="362.33" y="180.69" width="9.72" height="3.38" fill="#6aa6d3"/>
<rect x="256" y="184.02" width="9.72" height="3.38" fill="#f4ad8d"/>
<rect x="265.67" y="184.02" width="9.72" height="3.38" fill="#f6b89c"/>
<rect x="275.33" y="184.02" width="9.72" height="3.38" fill="#f8f0ec"/>
<rect x="285" y="184.02" width="9.72" height="3.38" fill="#fad2bf"/>
<rect x="294.67" y="184.02" width="9.72" height="3.38" fill="#fad2bf"/>
<rect x="304.33" y="184.02" width="9.72" height="3.38" fill="#fad2bf"/>
<rect x="314" y="184.02" width="9.72" height="3.38" fill="#a8cbe5"/>
<rect x="323.67" y="184.02" width="9.72" height="3.38" fill="#d9e7f2"/>
<rect x="333.33" y="184.02" width="9.72" height="3.38" fill="#a8cbe5"/>
<rect x="343" y="184.02" width="9.72" height="3.38" fill="#86b8dc"/>
<rect x="352.67" y="184.02" width="9.72" height="3.38" fill="#86b8dc"/>
<rect x="362.33" y="184.02" width="9.72" height="3.38" fill="#6aa6d3"/>
<rect x="256" y="187.35" width="9.72" height="3.38" fill="#f4ad8d"/>
<rect x="265.67" y="187.35" width="9.72" height="3.38" fill="#f8c7ae"/>
<rect x="275.33" y="187.35" width="9.72" height="3.38" fill="#f9e6dc"/>
<rect x="285" y="187.35" width="9.72" height="3.38" fill="#f9d5c3"/>
<rect x="294.67" y="187.35" width="9.72" height="3.38" fill="#f9dccc"/>
<rect x="304.33" y="187.35" width="9.72" height="3.38" fill="#f9dccc"/>
<rect x="314" y="187.35" width="9.72" height="3.38" fill="#a8cbe5"/>
<rect x="323.67" y="187.35" width="9.72" height="3.38" fill="#a8cbe5"/>
<rect x="333.33" y="187.35" width="9.72" height="3.38" fill="#a8cbe5"/>
<rect x="343" y="187.35" width="9.72" height="3.38" fill="#7db3da"/>
<rect x="352.67" y="187.35" width="9.72" height="3.38" fill="#a0c6e3"/>
<rect x="362.33" y="187.35" width="9.72" height="3.38" fill="#6aa6d3"/>
<rect x="256" y="190.68" width="9.72" height="3.38" fill="#e8785b"/>
<rect x="265.67" y="190.68" width="9.72" height="3.38" fill="#f9e6dc"/>
<rect x="275.33" y="190.68" width="9.72" height="3.38" fill="#f8ebe4"/>
<rect x="285" y="190.68" width="9.72" height="3.38" fill="#f9d5c3"/>
<rect x="294.67" y="190.68" width="9.72" height="3.38" fill="#f9dccc"/>
<rect x="304.33" y="190.68" width="9.72" height="3.38" fill="#f9dccc"/>
<rect x="314" y="190.68" width="9.72" height="3.38" fill="#b7d4ea"/>
<rect x="323.67" y="190.68" width="9.72" height="3.38" fill="#a8cbe5"/>
<rect x="333.33" y="190.68" width="9.72" height="3.38" fill="#b7d4ea"/>
<rect x="343" y="190.68" width="9.72" height="3.38" fill="#7db3da"/>
<rect x="352.67" y="190.68" width="9.72" height="3.38" fill="#a0c6e3"/>
<rect x="362.33" y="190.68" width="9.72" height="3.38" fill="#7db3da"/>
<rect x="256" y="194.01" width="9.72" height="3.38" fill="#f09474"/>
<rect x="265.67" y="194.01" width="9.72" height="3.38" fill="#f8c7ae"/>
<rect x="275.33" y="194.01" width="9.72" height="3.38" fill="#f8ebe4"/>
<rect x="285" y="194.01" width="9.72" height="3.38" fill="#f8c7ae"/>
<rect x="294.67" y="194.01" width="9.72" height="3.38" fill="#f9d5c3"/>
<rect x="304.33" y="194.01" width="9.72" height="3.38" fill="#f9d5c3"/>
<rect x="314" y="194.01" width="9.72" height="3.38" fill="#c6ddee"/>
<rect x="323.67" y="194.01" width="9.72" height="3.38" fill="#a8cbe5"/>
<rect x="333.33" y="194.01" width="9.72" height="3.38" fill="#b7d4ea"/>
<rect x="343" y="194.01" width="9.72" height="3.38" fill="#86b8dc"/>
<rect x="352.67" y="194.01" width="9.72" height="3.38" fill="#8fbee0"/>
<rect x="362.33" y="194.01" width="9.72" height="3.38" fill="#6aa6d3"/>
<rect x="256" y="197.34" width="9.72" height="3.38" fill="#f09474"/>
<rect x="265.67" y="197.34" width="9.72" height="3.38" fill="#f8c7ae"/>
<rect x="275.33" y="197.34" width="9.72" height="3.38" fill="#f8ebe4"/>
<rect x="285" y="197.34" width="9.72" height="3.38" fill="#f9d5c3"/>
<rect x="294.67" y="197.34" width="9.72" height="3.38" fill="#fad2bf"/>
<rect x="304.33" y="197.34" width="9.72" height="3.38" fill="#f9dccc"/>
<rect x="314" y="197.34" width="9.72" height="3.38" fill="#d1e4f1"/>
<rect x="323.67" y="197.34" width="9.72" height="3.38" fill="#e9eef4"/>
<rect x="333.33" y="197.34" width="9.72" height="3.38" fill="#e9eef4"/>
<rect x="343" y="197.34" width="9.72" height="3.38" fill="#3b82bf"/>
<rect x="352.67" y="197.34" width="9.72" height="3.38" fill="#7db3da"/>
<rect x="362.33" y="197.34" width="9.72" height="3.38" fill="#6aa6d3"/>
<rect x="256" y="200.67" width="9.72" height="3.38" fill="#f4ad8d"/>
<rect x="265.67" y="200.67" width="9.72" height="3.38" fill="#f9e1d5"/>
<rect x="275.33" y="200.67" width="9.72" height="3.38" fill="#f9e6dc"/>
<rect x="285" y="200.67" width="9.72" height="3.38" fill="#f4ad8d"/>
<rect x="294.67" y="200.67" width="9.72" height="3.38" fill="#f9d5c3"/>
<rect x="304.33" y="200.67" width="9.72" height="3.38" fill="#f9e1d5"/>
<rect x="314" y="200.67" width="9.72" height="3.38" fill="#d1e4f1"/>
<rect x="323.67" y="200.67" width="9.72" height="3.38" fill="#c6ddee"/>
<rect x="333.33" y="200.67" width="9.72" height="3.38" fill="#b7d4ea"/>
<rect x="343" y="200.67" width="9.72" height="3.38" fill="#86b8dc"/>
<rect x="352.67" y="200.67" width="9.72" height="3.38" fill="#6aa6d3"/>
<rect x="362.33" y="200.67" width="9.72" height="3.38" fill="#7db3da"/>
<rect x="256" y="204" width="9.72" height="3.38" fill="#f8c7ae"/>
<rect x="265.67" y="204" width="9.72" height="3.38" fill="#f9e1d5"/>
<rect x="275.33" y="204" width="9.72" height="3.38" fill="#f8ebe4"/>
<rect x="285" y="204" width="9.72" height="3.38" fill="#f09474"/>
<rect x="294.67" y="204" width="9.72" height="3.38" fill="#f6b89c"/>
<rect x="304.33" y="204" width="9.72" height="3.38" fill="#f9e1d5"/>
<rect x="314" y="204" width="9.72" height="3.38" fill="#eef1f5"/>
<rect x="323.67" y="204" width="9.72" height="3.38" fill="#c6ddee"/>
<rect x="333.33" y="204" width="9.72" height="3.38" fill="#c6ddee"/>
<rect x="343" y="204" width="9.72" height="3.38" fill="#5a9bcd"/>
<rect x="352.67" y="204" width="9.72" height="3.38" fill="#4a8dc5"/>
<rect x="362.33" y="204" width="9.72" height="3.38" fill="#86b8dc"/>
<rect x="256" y="207.32" width="9.72" height="3.38" fill="#f09474"/>
<rect x="265.67" y="207.32" width="9.72" height="3.38" fill="#f9e1d5"/>
<rect x="275.33" y="207.32" width="9.72" height="3.38" fill="#f8ebe4"/>
<rect x="285" y="207.32" width="9.72" height="3.38" fill="#ec8a6a"/>
<rect x="294.67" y="207.32" width="9.72" height="3.38" fill="#f9dccc"/>
<rect x="304.33" y="207.32" width="9.72" height="3.38" fill="#f9dccc"/>
<rect x="314" y="207.32" width="9.72" height="3.38" fill="#e6eef5"/>
<rect x="323.67" y="207.32" width="9.72" height="3.38" fill="#d9e7f2"/>
<rect x="333.33" y="207.32" width="9.72" height="3.38" fill="#d9e7f2"/>
<rect x="343" y="207.32" width="9.72" height="3.38" fill="#5a9bcd"/>
<rect x="352.67" y="207.32" width="9.72" height="3.38" fill="#3578bb"/>
<rect x="362.33" y="207.32" width="9.72" height="3.38" fill="#7db3da"/>
<rect x="256" y="210.65" width="9.72" height="3.38" fill="#f09474"/>
<rect x="265.67" y="210.65" width="9.72" height="3.38" fill="#f9e1d5"/>
<rect x="275.33" y="210.65" width="9.72" height="3.38" fill="#eaf0f6"/>
<rect x="285" y="210.65" width="9.72" height="3.38" fill="#f09474"/>
<rect x="294.67" y="210.65" width="9.72" height="3.38" fill="#fad2bf"/>
<rect x="304.33" y="210.65" width="9.72" height="3.38" fill="#f9dccc"/>
<rect x="314" y="210.65" width="9.72" height="3.38" fill="#d9e7f2"/>
<rect x="323.67" y="210.65" width="9.72" height="3.38" fill="#d9e7f2"/>
<rect x="333.33" y="210.65" width="9.72" height="3.38" fill="#d9e7f2"/>
<rect x="343" y="210.65" width="9.72" height="3.38" fill="#5a9bcd"/>
<rect x="352.67" y="210.65" width="9.72" height="3.38" fill="#5a9bcd"/>
<rect x="362.33" y="210.65" width="9.72" height="3.38" fill="#4a8dc5"/>
<rect x="256" y="213.98" width="9.72" height="3.38" fill="#f4a785"/>
<rect x="265.67" y="213.98" width="9.72" height="3.38" fill="#f9e1d5"/>
<rect x="275.33" y="213.98" width="9.72" height="3.38" fill="#f9e6dc"/>
<rect x="285" y="213.98" width="9.72" height="3.38" fill="#f4a785"/>
<rect x="294.67" y="213.98" width="9.72" height="3.38" fill="#f9e1d5"/>
<rect x="304.33" y="213.98" width="9.72" height="3.38" fill="#fad7c5"/>
<rect x="314" y="213.98" width="9.72" height="3.38" fill="#d9e7f2"/>
<rect x="323.67" y="213.98" width="9.72" height="3.38" fill="#d9e7f2"/>
<rect x="333.33" y="213.98" width="9.72" height="3.38" fill="#d9e7f2"/>
<rect x="343" y="213.98" width="9.72" height="3.38" fill="#5a9bcd"/>
<rect x="352.67" y="213.98" width="9.72" height="3.38" fill="#5a9bcd"/>
<rect x="362.33" y="213.98" width="9.72" height="3.38" fill="#4a8dc5"/>
<rect x="256" y="217.31" width="9.72" height="3.38" fill="#f4a785"/>
<rect x="265.67" y="217.31" width="9.72" height="3.38" fill="#f9e1d5"/>
<rect x="275.33" y="217.31" width="9.72" height="3.38" fill="#f9e6dc"/>
<rect x="285" y="217.31" width="9.72" height="3.38" fill="#f4a785"/>
<rect x="294.67" y="217.31" width="9.72" height="3.38" fill="#f9d5c3"/>
<rect x="304.33" y="217.31" width="9.72" height="3.38" fill="#f8c7ae"/>
<rect x="314" y="217.31" width="9.72" height="3.38" fill="#e6eef5"/>
<rect x="323.67" y="217.31" width="9.72" height="3.38" fill="#a8cbe5"/>
<rect x="333.33" y="217.31" width="9.72" height="3.38" fill="#c6ddee"/>
<rect x="343" y="217.31" width="9.72" height="3.38" fill="#6aa6d3"/>
<rect x="352.67" y="217.31" width="9.72" height="3.38" fill="#6aa6d3"/>
<rect x="362.33" y="217.31" width="9.72" height="3.38" fill="#6aa6d3"/>
<rect x="256" y="220.64" width="9.72" height="3.38" fill="#f4a785"/>
<rect x="265.67" y="220.64" width="9.72" height="3.38" fill="#f8c7ae"/>
<rect x="275.33" y="220.64" width="9.72" height="3.38" fill="#f9e6dc"/>
<rect x="285" y="220.64" width="9.72" height="3.38" fill="#f4a785"/>
<rect x="294.67" y="220.64" width="9.72" height="3.38" fill="#f9d5c3"/>
<rect x="304.33" y="220.64" width="9.72" height="3.38" fill="#f9dccc"/>
<rect x="314" y="220.64" width="9.72" height="3.38" fill="#d1e4f1"/>
<rect x="323.67" y="220.64" width="9.72" height="3.38" fill="#d1e4f1"/>
<rect x="333.33" y="220.64" width="9.72" height="3.38" fill="#c6ddee"/>
<rect x="343" y="220.64" width="9.72" height="3.38" fill="#5a9bcd"/>
<rect x="352.67" y="220.64" width="9.72" height="3.38" fill="#3b82bf"/>
<rect x="362.33" y="220.64" width="9.72" height="3.38" fill="#6aa6d3"/>
<rect x="256" y="223.97" width="9.72" height="3.38" fill="#ec8a6a"/>
<rect x="265.67" y="223.97" width="9.72" height="3.38" fill="#f8c7ae"/>
<rect x="275.33" y="223.97" width="9.72" height="3.38" fill="#f9e6dc"/>
<rect x="285" y="223.97" width="9.72" height="3.38" fill="#f09474"/>
<rect x="294.67" y="223.97" width="9.72" height="3.38" fill="#f9d5c3"/>
<rect x="304.33" y="223.97" width="9.72" height="3.38" fill="#f9dccc"/>
<rect x="314" y="223.97" width="9.72" height="3.38" fill="#d1e4f1"/>
<rect x="323.67" y="223.97" width="9.72" height="3.38" fill="#b7d4ea"/>
<rect x="333.33" y="223.97" width="9.72" height="3.38" fill="#c6ddee"/>
<rect x="343" y="223.97" width="9.72" height="3.38" fill="#5a9bcd"/>
<rect x="352.67" y="223.97" width="9.72" height="3.38" fill="#5a9bcd"/>
<rect x="362.33" y="223.97" width="9.72" height="3.38" fill="#6aa6d3"/>
<rect x="256" y="227.3" width="9.72" height="3.38" fill="#f4a785"/>
<rect x="265.67" y="227.3" width="9.72" height="3.38" fill="#f9e1d5"/>
<rect x="275.33" y="227.3" width="9.72" height="3.38" fill="#f9e6dc"/>
<rect x="285" y="227.3" width="9.72" height="3.38" fill="#f4a785"/>
<rect x="294.67" y="227.3" width="9.72" height="3.38" fill="#fad2bf"/>
<rect x="304.33" y="227.3" width="9.72" height="3.38" fill="#f9d5c3"/>
<rect x="314" y="227.3" width="9.72" height="3.38" fill="#d1e4f1"/>
<rect x="323.67" y="227.3" width="9.72" height="3.38" fill="#b7d4ea"/>
<rect x="333.33" y="227.3" width="9.72" height="3.38" fill="#d1e4f1"/>
<rect x="343" y="227.3" width="9.72" height="3.38" fill="#5a9bcd"/>
<rect x="352.67" y="227.3" width="9.72" height="3.38" fill="#5a9bcd"/>
<rect x="362.33" y="227.3" width="9.72" height="3.38" fill="#5a9bcd"/>
<rect x="256" y="230.63" width="9.72" height="3.38" fill="#f4a785"/>
<rect x="265.67" y="230.63" width="9.72" height="3.38" fill="#f8c7ae"/>
<rect x="275.33" y="230.63" width="9.72" height="3.38" fill="#f9e6dc"/>
<rect x="285" y="230.63" width="9.72" height="3.38" fill="#f09474"/>
<rect x="294.67" y="230.63" width="9.72" height="3.38" fill="#fad2bf"/>
<rect x="304.33" y="230.63" width="9.72" height="3.38" fill="#f9d5c3"/>
<rect x="314" y="230.63" width="9.72" height="3.38" fill="#d9e7f2"/>
<rect x="323.67" y="230.63" width="9.72" height="3.38" fill="#b7d4ea"/>
<rect x="333.33" y="230.63" width="9.72" height="3.38" fill="#d1e4f1"/>
<rect x="343" y="230.63" width="9.72" height="3.38" fill="#5a9bcd"/>
<rect x="352.67" y="230.63" width="9.72" height="3.38" fill="#5a9bcd"/>
<rect x="362.33" y="230.63" width="9.72" height="3.38" fill="#5a9bcd"/>
<rect x="256" y="233.96" width="9.72" height="3.38" fill="#f6b89c"/>
<rect x="265.67" y="233.96" width="9.72" height="3.38" fill="#f9e1d5"/>
<rect x="275.33" y="233.96" width="9.72" height="3.38" fill="#f8ebe4"/>
<rect x="285" y="233.96" width="9.72" height="3.38" fill="#f4a785"/>
<rect x="294.67" y="233.96" width="9.72" height="3.38" fill="#f9d5c3"/>
<rect x="304.33" y="233.96" width="9.72" height="3.38" fill="#f9d5c3"/>
<rect x="314" y="233.96" width="9.72" height="3.38" fill="#d1e4f1"/>
<rect x="323.67" y="233.96" width="9.72" height="3.38" fill="#c6ddee"/>
<rect x="333.33" y="233.96" width="9.72" height="3.38" fill="#e6eef5"/>
<rect x="343" y="233.96" width="9.72" height="3.38" fill="#5a9bcd"/>
<rect x="352.67" y="233.96" width="9.72" height="3.38" fill="#6aa6d3"/>
<rect x="362.33" y="233.96" width="9.72" height="3.38" fill="#6aa6d3"/>
<rect x="256" y="237.29" width="9.72" height="3.38" fill="#f4a785"/>
<rect x="265.67" y="237.29" width="9.72" height="3.38" fill="#f8c7ae"/>
<rect x="275.33" y="237.29" width="9.72" height="3.38" fill="#eef1f5"/>
<rect x="285" y="237.29" width="9.72" height="3.38" fill="#f4a785"/>
<rect x="294.67" y="237.29" width="9.72" height="3.38" fill="#fad2bf"/>
<rect x="304.33" y="237.29" width="9.72" height="3.38" fill="#f8c7ae"/>
<rect x="314" y="237.29" width="9.72" height="3.38" fill="#e6eef5"/>
<rect x="323.67" y="237.29" width="9.72" height="3.38" fill="#d1e4f1"/>
<rect x="333.33" y="237.29" width="9.72" height="3.38" fill="#a8cbe5"/>
<rect x="343" y="237.29" width="9.72" height="3.38" fill="#5a9bcd"/>
<rect x="352.67" y="237.29" width="9.72" height="3.38" fill="#7db3da"/>
<rect x="362.33" y="237.29" width="9.72" height="3.38" fill="#6aa6d3"/>
<rect x="256" y="240.61" width="9.72" height="3.38" fill="#f6b89c"/>
<rect x="265.67" y="240.61" width="9.72" height="3.38" fill="#f8c7ae"/>
<rect x="275.33" y="240.61" width="9.72" height="3.38" fill="#f1f2f4"/>
<rect x="285" y="240.61" width="9.72" height="3.38" fill="#f4a785"/>
<rect x="294.67" y="240.61" width="9.72" height="3.38" fill="#f9d5c3"/>
<rect x="304.33" y="240.61" width="9.72" height="3.38" fill="#f4ad8d"/>
<rect x="314" y="240.61" width="9.72" height="3.38" fill="#d9e7f2"/>
<rect x="323.67" y="240.61" width="9.72" height="3.38" fill="#d1e4f1"/>
<rect x="333.33" y="240.61" width="9.72" height="3.38" fill="#d1e4f1"/>
<rect x="343" y="240.61" width="9.72" height="3.38" fill="#6aa6d3"/>
<rect x="352.67" y="240.61" width="9.72" height="3.38" fill="#4a8dc5"/>
<rect x="362.33" y="240.61" width="9.72" height="3.38" fill="#6aa6d3"/>
<rect x="256" y="243.94" width="9.72" height="3.38" fill="#f4a785"/>
<rect x="265.67" y="243.94" width="9.72" height="3.38" fill="#f8c7ae"/>
<rect x="275.33" y="243.94" width="9.72" height="3.38" fill="#f8ebe4"/>
<rect x="285" y="243.94" width="9.72" height="3.38" fill="#f6b89c"/>
<rect x="294.67" y="243.94" width="9.72" height="3.38" fill="#f9dccc"/>
<rect x="304.33" y="243.94" width="9.72" height="3.38" fill="#f8c7ae"/>
<rect x="314" y="243.94" width="9.72" height="3.38" fill="#eef1f5"/>
<rect x="323.67" y="243.94" width="9.72" height="3.38" fill="#d9e7f2"/>
<rect x="333.33" y="243.94" width="9.72" height="3.38" fill="#d9e7f2"/>
<rect x="343" y="243.94" width="9.72" height="3.38" fill="#4a8dc5"/>
<rect x="352.67" y="243.94" width="9.72" height="3.38" fill="#86b8dc"/>
<rect x="362.33" y="243.94" width="9.72" height="3.38" fill="#4a8dc5"/>
<rect x="256" y="247.27" width="9.72" height="3.38" fill="#ef9270"/>
<rect x="265.67" y="247.27" width="9.72" height="3.38" fill="#f9e1d5"/>
<rect x="275.33" y="247.27" width="9.72" height="3.38" fill="#f8ebe4"/>
<rect x="285" y="247.27" width="9.72" height="3.38" fill="#f4a785"/>
<rect x="294.67" y="247.27" width="9.72" height="3.38" fill="#f9dccc"/>
<rect x="304.33" y="247.27" width="9.72" height="3.38" fill="#f8c7ae"/>
<rect x="314" y="247.27" width="9.72" height="3.38" fill="#e6eef5"/>
<rect x="323.67" y="247.27" width="9.72" height="3.38" fill="#d9e7f2"/>
<rect x="333.33" y="247.27" width="9.72" height="3.38" fill="#d9e7f2"/>
<rect x="343" y="247.27" width="9.72" height="3.38" fill="#5a9bcd"/>
<rect x="352.67" y="247.27" width="9.72" height="3.38" fill="#5a9bcd"/>
<rect x="362.33" y="247.27" width="9.72" height="3.38" fill="#5a9bcd"/>
<rect x="256" y="250.6" width="9.72" height="3.38" fill="#f09474"/>
<rect x="265.67" y="250.6" width="9.72" height="3.38" fill="#f8ebe4"/>
<rect x="275.33" y="250.6" width="9.72" height="3.38" fill="#f8f0ec"/>
<rect x="285" y="250.6" width="9.72" height="3.38" fill="#ef9270"/>
<rect x="294.67" y="250.6" width="9.72" height="3.38" fill="#f9dccc"/>
<rect x="304.33" y="250.6" width="9.72" height="3.38" fill="#f8c7ae"/>
<rect x="314" y="250.6" width="9.72" height="3.38" fill="#f1f2f4"/>
<rect x="323.67" y="250.6" width="9.72" height="3.38" fill="#d9e7f2"/>
<rect x="333.33" y="250.6" width="9.72" height="3.38" fill="#d9e7f2"/>
<rect x="343" y="250.6" width="9.72" height="3.38" fill="#5a9bcd"/>
<rect x="352.67" y="250.6" width="9.72" height="3.38" fill="#4a8dc5"/>
<rect x="362.33" y="250.6" width="9.72" height="3.38" fill="#3b82bf"/>
<rect x="256" y="253.93" width="9.72" height="3.38" fill="#f4a785"/>
<rect x="265.67" y="253.93" width="9.72" height="3.38" fill="#f9e1d5"/>
<rect x="275.33" y="253.93" width="9.72" height="3.38" fill="#f9e6dc"/>
<rect x="285" y="253.93" width="9.72" height="3.38" fill="#f4a785"/>
<rect x="294.67" y="253.93" width="9.72" height="3.38" fill="#f9dccc"/>
<rect x="304.33" y="253.93" width="9.72" height="3.38" fill="#f8c7ae"/>
<rect x="314" y="253.93" width="9.72" height="3.38" fill="#e6eef5"/>
<rect x="323.67" y="253.93" width="9.72" height="3.38" fill="#d9e7f2"/>
<rect x="333.33" y="253.93" width="9.72" height="3.38" fill="#d9e7f2"/>
<rect x="343" y="253.93" width="9.72" height="3.38" fill="#5a9bcd"/>
<rect x="352.67" y="253.93" width="9.72" height="3.38" fill="#5a9bcd"/>
<rect x="362.33" y="253.93" width="9.72" height="3.38" fill="#5a9bcd"/>
<rect x="256" y="257.26" width="9.72" height="3.38" fill="#f6b89c"/>
<rect x="265.67" y="257.26" width="9.72" height="3.38" fill="#f8c7ae"/>
<rect x="275.33" y="257.26" width="9.72" height="3.38" fill="#f9e6dc"/>
<rect x="285" y="257.26" width="9.72" height="3.38" fill="#f6b89c"/>
<rect x="294.67" y="257.26" width="9.72" height="3.38" fill="#f9dccc"/>
<rect x="304.33" y="257.26" width="9.72" height="3.38" fill="#f8c7ae"/>
<rect x="314" y="257.26" width="9.72" height="3.38" fill="#e6eef5"/>
<rect x="323.67" y="257.26" width="9.72" height="3.38" fill="#d9e7f2"/>
<rect x="333.33" y="257.26" width="9.72" height="3.38" fill="#d9e7f2"/>
<rect x="343" y="257.26" width="9.72" height="3.38" fill="#2e72b4"/>
<rect x="352.67" y="257.26" width="9.72" height="3.38" fill="#5a9bcd"/>
<rect x="362.33" y="257.26" width="9.72" height="3.38" fill="#5a9bcd"/>
<rect x="256" y="260.59" width="9.72" height="3.38" fill="#f4a785"/>
<rect x="265.67" y="260.59" width="9.72" height="3.38" fill="#f8c7ae"/>
<rect x="275.33" y="260.59" width="9.72" height="3.38" fill="#f8ebe4"/>
<rect x="285" y="260.59" width="9.72" height="3.38" fill="#f6b89c"/>
<rect x="294.67" y="260.59" width="9.72" height="3.38" fill="#f9dccc"/>
<rect x="304.33" y="260.59" width="9.72" height="3.38" fill="#f8c7ae"/>
<rect x="314" y="260.59" width="9.72" height="3.38" fill="#e6eef5"/>
<rect x="323.67" y="260.59" width="9.72" height="3.38" fill="#d9e7f2"/>
<rect x="333.33" y="260.59" width="9.72" height="3.38" fill="#d9e7f2"/>
<rect x="343" y="260.59" width="9.72" height="3.38" fill="#3b82bf"/>
<rect x="352.67" y="260.59" width="9.72" height="3.38" fill="#6aa6d3"/>
<rect x="362.33" y="260.59" width="9.72" height="3.38" fill="#5a9bcd"/>
<rect x="256" y="263.92" width="9.72" height="3.38" fill="#f9e1d5"/>
<rect x="265.67" y="263.92" width="9.72" height="3.38" fill="#e06a52"/>
<rect x="275.33" y="263.92" width="9.72" height="3.38" fill="#e5704f"/>
<rect x="285" y="263.92" width="9.72" height="3.38" fill="#f9e1d5"/>
<rect x="294.67" y="263.92" width="9.72" height="3.38" fill="#f9e1d5"/>
<rect x="304.33" y="263.92" width="9.72" height="3.38" fill="#eef1f5"/>
<rect x="314" y="263.92" width="9.72" height="3.38" fill="#86b8dc"/>
<rect x="323.67" y="263.92" width="9.72" height="3.38" fill="#a0c6e3"/>
<rect x="333.33" y="263.92" width="9.72" height="3.38" fill="#8fbee0"/>
<rect x="343" y="263.92" width="9.72" height="3.38" fill="#86b8dc"/>
<rect x="352.67" y="263.92" width="9.72" height="3.38" fill="#a8cbe5"/>
<rect x="362.33" y="263.92" width="9.72" height="3.38" fill="#8fbee0"/>
<rect x="256" y="267.25" width="9.72" height="3.38" fill="#e06a52"/>
<rect x="265.67" y="267.25" width="9.72" height="3.38" fill="#f4a785"/>
<rect x="275.33" y="267.25" width="9.72" height="3.38" fill="#f6b89c"/>
<rect x="285" y="267.25" width="9.72" height="3.38" fill="#f9dccc"/>
<rect x="294.67" y="267.25" width="9.72" height="3.38" fill="#f9e1d5"/>
<rect x="304.33" y="267.25" width="9.72" height="3.38" fill="#f9dccc"/>
<rect x="314" y="267.25" width="9.72" height="3.38" fill="#8fbee0"/>
<rect x="323.67" y="267.25" width="9.72" height="3.38" fill="#b7d4ea"/>
<rect x="333.33" y="267.25" width="9.72" height="3.38" fill="#8fbee0"/>
<rect x="343" y="267.25" width="9.72" height="3.38" fill="#86b8dc"/>
<rect x="352.67" y="267.25" width="9.72" height="3.38" fill="#b7d4ea"/>
<rect x="362.33" y="267.25" width="9.72" height="3.38" fill="#a8cbe5"/>
<rect x="256" y="270.57" width="9.72" height="3.38" fill="#d9543f"/>
<rect x="265.67" y="270.57" width="9.72" height="3.38" fill="#f8c7ae"/>
<rect x="275.33" y="270.57" width="9.72" height="3.38" fill="#f09474"/>
<rect x="285" y="270.57" width="9.72" height="3.38" fill="#f9e1d5"/>
<rect x="294.67" y="270.57" width="9.72" height="3.38" fill="#f1f2f4"/>
<rect x="304.33" y="270.57" width="9.72" height="3.38" fill="#f9dccc"/>
<rect x="314" y="270.57" width="9.72" height="3.38" fill="#8fbee0"/>
<rect x="323.67" y="270.57" width="9.72" height="3.38" fill="#8fbee0"/>
<rect x="333.33" y="270.57" width="9.72" height="3.38" fill="#a8cbe5"/>
<rect x="343" y="270.57" width="9.72" height="3.38" fill="#8fbee0"/>
<rect x="352.67" y="270.57" width="9.72" height="3.38" fill="#b7d4ea"/>
<rect x="362.33" y="270.57" width="9.72" height="3.38" fill="#a0c6e3"/>
<rect x="256" y="273.9" width="9.72" height="3.38" fill="#f4a785"/>
<rect x="265.67" y="273.9" width="9.72" height="3.38" fill="#f9e1d5"/>
<rect x="275.33" y="273.9" width="9.72" height="3.38" fill="#ec8a6a"/>
<rect x="285" y="273.9" width="9.72" height="3.38" fill="#f9dccc"/>
<rect x="294.67" y="273.9" width="9.72" height="3.38" fill="#f9e1d5"/>
<rect x="304.33" y="273.9" width="9.72" height="3.38" fill="#f9dccc"/>
<rect x="314" y="273.9" width="9.72" height="3.38" fill="#a0c6e3"/>
<rect x="323.67" y="273.9" width="9.72" height="3.38" fill="#a0c6e3"/>
<rect x="333.33" y="273.9" width="9.72" height="3.38" fill="#b7d4ea"/>
<rect x="343" y="273.9" width="9.72" height="3.38" fill="#7db3da"/>
<rect x="352.67" y="273.9" width="9.72" height="3.38" fill="#a0c6e3"/>
<rect x="362.33" y="273.9" width="9.72" height="3.38" fill="#c6ddee"/>
<rect x="256" y="277.23" width="9.72" height="3.38" fill="#ec8a6a"/>
<rect x="265.67" y="277.23" width="9.72" height="3.38" fill="#f8c7ae"/>
<rect x="275.33" y="277.23" width="9.72" height="3.38" fill="#ec8a6a"/>
<rect x="285" y="277.23" width="9.72" height="3.38" fill="#f9dccc"/>
<rect x="294.67" y="277.23" width="9.72" height="3.38" fill="#f9e1d5"/>
<rect x="304.33" y="277.23" width="9.72" height="3.38" fill="#f9dccc"/>
<rect x="314" y="277.23" width="9.72" height="3.38" fill="#a0c6e3"/>
<rect x="323.67" y="277.23" width="9.72" height="3.38" fill="#a0c6e3"/>
<rect x="333.33" y="277.23" width="9.72" height="3.38" fill="#a0c6e3"/>
<rect x="343" y="277.23" width="9.72" height="3.38" fill="#8fbee0"/>
<rect x="352.67" y="277.23" width="9.72" height="3.38" fill="#8fbee0"/>
<rect x="362.33" y="277.23" width="9.72" height="3.38" fill="#6aa6d3"/>
<rect x="256" y="280.56" width="9.72" height="3.38" fill="#ec8a6a"/>
<rect x="265.67" y="280.56" width="9.72" height="3.38" fill="#f6b89c"/>
<rect x="275.33" y="280.56" width="9.72" height="3.38" fill="#ef9270"/>
<rect x="285" y="280.56" width="9.72" height="3.38" fill="#f9dccc"/>
<rect x="294.67" y="280.56" width="9.72" height="3.38" fill="#f1f2f4"/>
<rect x="304.33" y="280.56" width="9.72" height="3.38" fill="#f9dccc"/>
<rect x="314" y="280.56" width="9.72" height="3.38" fill="#8fbee0"/>
<rect x="323.67" y="280.56" width="9.72" height="3.38" fill="#8fbee0"/>
<rect x="333.33" y="280.56" width="9.72" height="3.38" fill="#c6ddee"/>
<rect x="343" y="280.56" width="9.72" height="3.38" fill="#8fbee0"/>
<rect x="352.67" y="280.56" width="9.72" height="3.38" fill="#8fbee0"/>
<rect x="362.33" y="280.56" width="9.72" height="3.38" fill="#a0c6e3"/>
<rect x="256" y="283.89" width="9.72" height="3.38" fill="#ec8a6a"/>
<rect x="265.67" y="283.89" width="9.72" height="3.38" fill="#f4a785"/>
<rect x="275.33" y="283.89" width="9.72" height="3.38" fill="#e5704f"/>
<rect x="285" y="283.89" width="9.72" height="3.38" fill="#f9e1d5"/>
<rect x="294.67" y="283.89" width="9.72" height="3.38" fill="#eef1f5"/>
<rect x="304.33" y="283.89" width="9.72" height="3.38" fill="#f9e1d5"/>
<rect x="314" y="283.89" width="9.72" height="3.38" fill="#a0c6e3"/>
<rect x="323.67" y="283.89" width="9.72" height="3.38" fill="#a0c6e3"/>
<rect x="333.33" y="283.89" width="9.72" height="3.38" fill="#a0c6e3"/>
<rect x="343" y="283.89" width="9.72" height="3.38" fill="#86b8dc"/>
<rect x="352.67" y="283.89" width="9.72" height="3.38" fill="#6aa6d3"/>
<rect x="362.33" y="283.89" width="9.72" height="3.38" fill="#7db3da"/>
<rect x="256" y="287.22" width="9.72" height="3.38" fill="#ec8a6a"/>
<rect x="265.67" y="287.22" width="9.72" height="3.38" fill="#ec8a6a"/>
<rect x="275.33" y="287.22" width="9.72" height="3.38" fill="#c8323a"/>
<rect x="285" y="287.22" width="9.72" height="3.38" fill="#e6eef5"/>
<rect x="294.67" y="287.22" width="9.72" height="3.38" fill="#eef1f5"/>
<rect x="304.33" y="287.22" width="9.72" height="3.38" fill="#eef1f5"/>
<rect x="314" y="287.22" width="9.72" height="3.38" fill="#c6ddee"/>
<rect x="323.67" y="287.22" width="9.72" height="3.38" fill="#a0c6e3"/>
<rect x="333.33" y="287.22" width="9.72" height="3.38" fill="#a8cbe5"/>
<rect x="343" y="287.22" width="9.72" height="3.38" fill="#7db3da"/>
<rect x="352.67" y="287.22" width="9.72" height="3.38" fill="#b7d4ea"/>
<rect x="362.33" y="287.22" width="9.72" height="3.38" fill="#86b8dc"/>
<rect x="256" y="290.55" width="9.72" height="3.38" fill="#ec8a6a"/>
<rect x="265.67" y="290.55" width="9.72" height="3.38" fill="#ec8a6a"/>
<rect x="275.33" y="290.55" width="9.72" height="3.38" fill="#e5704f"/>
<rect x="285" y="290.55" width="9.72" height="3.38" fill="#f1f2f4"/>
<rect x="294.67" y="290.55" width="9.72" height="3.38" fill="#eef1f5"/>
<rect x="304.33" y="290.55" width="9.72" height="3.38" fill="#f1f2f4"/>
<rect x="314" y="290.55" width="9.72" height="3.38" fill="#a8cbe5"/>
<rect x="323.67" y="290.55" width="9.72" height="3.38" fill="#d1e4f1"/>
<rect x="333.33" y="290.55" width="9.72" height="3.38" fill="#a8cbe5"/>
<rect x="343" y="290.55" width="9.72" height="3.38" fill="#6aa6d3"/>
<rect x="352.67" y="290.55" width="9.72" height="3.38" fill="#b7d4ea"/>
<rect x="362.33" y="290.55" width="9.72" height="3.38" fill="#86b8dc"/>
<rect x="256" y="293.88" width="9.72" height="3.38" fill="#f09474"/>
<rect x="265.67" y="293.88" width="9.72" height="3.38" fill="#f09474"/>
<rect x="275.33" y="293.88" width="9.72" height="3.38" fill="#e5704f"/>
<rect x="285" y="293.88" width="9.72" height="3.38" fill="#f1f2f4"/>
<rect x="294.67" y="293.88" width="9.72" height="3.38" fill="#f9e1d5"/>
<rect x="304.33" y="293.88" width="9.72" height="3.38" fill="#f9e1d5"/>
<rect x="314" y="293.88" width="9.72" height="3.38" fill="#a8cbe5"/>
<rect x="323.67" y="293.88" width="9.72" height="3.38" fill="#a0c6e3"/>
<rect x="333.33" y="293.88" width="9.72" height="3.38" fill="#a8cbe5"/>
<rect x="343" y="293.88" width="9.72" height="3.38" fill="#6aa6d3"/>
<rect x="352.67" y="293.88" width="9.72" height="3.38" fill="#b7d4ea"/>
<rect x="362.33" y="293.88" width="9.72" height="3.38" fill="#86b8dc"/>
<rect x="256" y="297.21" width="9.72" height="3.38" fill="#f9e1d5"/>
<rect x="265.67" y="297.21" width="9.72" height="3.38" fill="#f9e1d5"/>
<rect x="275.33" y="297.21" width="9.72" height="3.38" fill="#ec8a6a"/>
<rect x="285" y="297.21" width="9.72" height="3.38" fill="#f9dccc"/>
<rect x="294.67" y="297.21" width="9.72" height="3.38" fill="#f6b89c"/>
<rect x="304.33" y="297.21" width="9.72" height="3.38" fill="#f6b89c"/>
<rect x="314" y="297.21" width="9.72" height="3.38" fill="#a8cbe5"/>
<rect x="323.67" y="297.21" width="9.72" height="3.38" fill="#a0c6e3"/>
<rect x="333.33" y="297.21" width="9.72" height="3.38" fill="#c6ddee"/>
<rect x="343" y="297.21" width="9.72" height="3.38" fill="#5a9bcd"/>
<rect x="352.67" y="297.21" width="9.72" height="3.38" fill="#7db3da"/>
<rect x="362.33" y="297.21" width="9.72" height="3.38" fill="#7db3da"/>
<rect x="256" y="300.54" width="9.72" height="3.38" fill="#f9e1d5"/>
<rect x="265.67" y="300.54" width="9.72" height="3.38" fill="#f8c7ae"/>
<rect x="275.33" y="300.54" width="9.72" height="3.38" fill="#d9543f"/>
<rect x="285" y="300.54" width="9.72" height="3.38" fill="#f9d5c3"/>
<rect x="294.67" y="300.54" width="9.72" height="3.38" fill="#f9dccc"/>
<rect x="304.33" y="300.54" width="9.72" height="3.38" fill="#f9dccc"/>
<rect x="314" y="300.54" width="9.72" height="3.38" fill="#86b8dc"/>
<rect x="323.67" y="300.54" width="9.72" height="3.38" fill="#a0c6e3"/>
<rect x="333.33" y="300.54" width="9.72" height="3.38" fill="#a0c6e3"/>
<rect x="343" y="300.54" width="9.72" height="3.38" fill="#86b8dc"/>
<rect x="352.67" y="300.54" width="9.72" height="3.38" fill="#8fbee0"/>
<rect x="362.33" y="300.54" width="9.72" height="3.38" fill="#5a9bcd"/>
<rect x="256" y="303.87" width="9.72" height="3.38" fill="#f8c7ae"/>
<rect x="265.67" y="303.87" width="9.72" height="3.38" fill="#f9e6dc"/>
<rect x="275.33" y="303.87" width="9.72" height="3.38" fill="#e5704f"/>
<rect x="285" y="303.87" width="9.72" height="3.38" fill="#f9dccc"/>
<rect x="294.67" y="303.87" width="9.72" height="3.38" fill="#f9d5c3"/>
<rect x="304.33" y="303.87" width="9.72" height="3.38" fill="#f9d5c3"/>
<rect x="314" y="303.87" width="9.72" height="3.38" fill="#8fbee0"/>
<rect x="323.67" y="303.87" width="9.72" height="3.38" fill="#d1e4f1"/>
<rect x="333.33" y="303.87" width="9.72" height="3.38" fill="#a0c6e3"/>
<rect x="343" y="303.87" width="9.72" height="3.38" fill="#86b8dc"/>
<rect x="352.67" y="303.87" width="9.72" height="3.38" fill="#8fbee0"/>
<rect x="362.33" y="303.87" width="9.72" height="3.38" fill="#7db3da"/>
<rect x="256" y="307.19" width="9.72" height="3.38" fill="#f4a785"/>
<rect x="265.67" y="307.19" width="9.72" height="3.38" fill="#f9e1d5"/>
<rect x="275.33" y="307.19" width="9.72" height="3.38" fill="#c8323a"/>
<rect x="285" y="307.19" width="9.72" height="3.38" fill="#f9dccc"/>
<rect x="294.67" y="307.19" width="9.72" height="3.38" fill="#f9d5c3"/>
<rect x="304.33" y="307.19" width="9.72" height="3.38" fill="#f9dccc"/>
<rect x="314" y="307.19" width="9.72" height="3.38" fill="#a0c6e3"/>
<rect x="323.67" y="307.19" width="9.72" height="3.38" fill="#a0c6e3"/>
<rect x="333.33" y="307.19" width="9.72" height="3.38" fill="#b7d4ea"/>
<rect x="343" y="307.19" width="9.72" height="3.38" fill="#86b8dc"/>
<rect x="352.67" y="307.19" width="9.72" height="3.38" fill="#7db3da"/>
<rect x="362.33" y="307.19" width="9.72" height="3.38" fill="#8fbee0"/>
<rect x="256" y="310.52" width="9.72" height="3.38" fill="#f4a785"/>
<rect x="265.67" y="310.52" width="9.72" height="3.38" fill="#f9e1d5"/>
<rect x="275.33" y="310.52" width="9.72" height="3.38" fill="#ec8a6a"/>
<rect x="285" y="310.52" width="9.72" height="3.38" fill="#f9dccc"/>
<rect x="294.67" y="310.52" width="9.72" height="3.38" fill="#f9dccc"/>
<rect x="304.33" y="310.52" width="9.72" height="3.38" fill="#f9dccc"/>
<rect x="314" y="310.52" width="9.72" height="3.38" fill="#a0c6e3"/>
<rect x="323.67" y="310.52" width="9.72" height="3.38" fill="#a0c6e3"/>
<rect x="333.33" y="310.52" width="9.72" height="3.38" fill="#a0c6e3"/>
<rect x="343" y="310.52" width="9.72" height="3.38" fill="#86b8dc"/>
<rect x="352.67" y="310.52" width="9.72" height="3.38" fill="#7db3da"/>
<rect x="362.33" y="310.52" width="9.72" height="3.38" fill="#8fbee0"/>
<rect x="256" y="313.85" width="9.72" height="3.38" fill="#f6b89c"/>
<rect x="265.67" y="313.85" width="9.72" height="3.38" fill="#f6b89c"/>
<rect x="275.33" y="313.85" width="9.72" height="3.38" fill="#f09474"/>
<rect x="285" y="313.85" width="9.72" height="3.38" fill="#f9dccc"/>
<rect x="294.67" y="313.85" width="9.72" height="3.38" fill="#f9dccc"/>
<rect x="304.33" y="313.85" width="9.72" height="3.38" fill="#f9dccc"/>
<rect x="314" y="313.85" width="9.72" height="3.38" fill="#d1e4f1"/>
<rect x="323.67" y="313.85" width="9.72" height="3.38" fill="#a0c6e3"/>
<rect x="333.33" y="313.85" width="9.72" height="3.38" fill="#a0c6e3"/>
<rect x="343" y="313.85" width="9.72" height="3.38" fill="#6aa6d3"/>
<rect x="352.67" y="313.85" width="9.72" height="3.38" fill="#5a9bcd"/>
<rect x="362.33" y="313.85" width="9.72" height="3.38" fill="#86b8dc"/>
<rect x="256" y="317.18" width="9.72" height="3.38" fill="#ec8a6a"/>
<rect x="265.67" y="317.18" width="9.72" height="3.38" fill="#ec8a6a"/>
<rect x="275.33" y="317.18" width="9.72" height="3.38" fill="#f09474"/>
<rect x="285" y="317.18" width="9.72" height="3.38" fill="#f9e1d5"/>
<rect x="294.67" y="317.18" width="9.72" height="3.38" fill="#f9dccc"/>
<rect x="304.33" y="317.18" width="9.72" height="3.38" fill="#f9d5c3"/>
<rect x="314" y="317.18" width="9.72" height="3.38" fill="#c6ddee"/>
<rect x="323.67" y="317.18" width="9.72" height="3.38" fill="#8fbee0"/>
<rect x="333.33" y="317.18" width="9.72" height="3.38" fill="#d1e4f1"/>
<rect x="343" y="317.18" width="9.72" height="3.38" fill="#5a9bcd"/>
<rect x="352.67" y="317.18" width="9.72" height="3.38" fill="#7db3da"/>
<rect x="362.33" y="317.18" width="9.72" height="3.38" fill="#6aa6d3"/>
<rect x="256" y="320.51" width="9.72" height="3.38" fill="#f4a785"/>
<rect x="265.67" y="320.51" width="9.72" height="3.38" fill="#f8c7ae"/>
<rect x="275.33" y="320.51" width="9.72" height="3.38" fill="#f09474"/>
<rect x="285" y="320.51" width="9.72" height="3.38" fill="#f9d5c3"/>
<rect x="294.67" y="320.51" width="9.72" height="3.38" fill="#f9dccc"/>
<rect x="304.33" y="320.51" width="9.72" height="3.38" fill="#f9dccc"/>
<rect x="314" y="320.51" width="9.72" height="3.38" fill="#d1e4f1"/>
<rect x="323.67" y="320.51" width="9.72" height="3.38" fill="#86b8dc"/>
<rect x="333.33" y="320.51" width="9.72" height="3.38" fill="#a0c6e3"/>
<rect x="343" y="320.51" width="9.72" height="3.38" fill="#6aa6d3"/>
<rect x="352.67" y="320.51" width="9.72" height="3.38" fill="#6aa6d3"/>
<rect x="362.33" y="320.51" width="9.72" height="3.38" fill="#6aa6d3"/>
<rect x="256" y="323.84" width="9.72" height="3.38" fill="#f09474"/>
<rect x="265.67" y="323.84" width="9.72" height="3.38" fill="#f9d5c3"/>
<rect x="275.33" y="323.84" width="9.72" height="3.38" fill="#f4a785"/>
<rect x="285" y="323.84" width="9.72" height="3.38" fill="#f9d5c3"/>
<rect x="294.67" y="323.84" width="9.72" height="3.38" fill="#f9e1d5"/>
<rect x="304.33" y="323.84" width="9.72" height="3.38" fill="#f8c7ae"/>
<rect x="314" y="323.84" width="9.72" height="3.38" fill="#c6ddee"/>
<rect x="323.67" y="323.84" width="9.72" height="3.38" fill="#a0c6e3"/>
<rect x="333.33" y="323.84" width="9.72" height="3.38" fill="#b7d4ea"/>
<rect x="343" y="323.84" width="9.72" height="3.38" fill="#6aa6d3"/>
<rect x="352.67" y="323.84" width="9.72" height="3.38" fill="#6aa6d3"/>
<rect x="362.33" y="323.84" width="9.72" height="3.38" fill="#6aa6d3"/>
<rect x="256" y="327.17" width="9.72" height="3.38" fill="#f4a785"/>
<rect x="265.67" y="327.17" width="9.72" height="3.38" fill="#f9d5c3"/>
<rect x="275.33" y="327.17" width="9.72" height="3.38" fill="#f6b89c"/>
<rect x="285" y="327.17" width="9.72" height="3.38" fill="#f8c7ae"/>
<rect x="294.67" y="327.17" width="9.72" height="3.38" fill="#f9e1d5"/>
<rect x="304.33" y="327.17" width="9.72" height="3.38" fill="#f8c7ae"/>
<rect x="314" y="327.17" width="9.72" height="3.38" fill="#d1e4f1"/>
<rect x="323.67" y="327.17" width="9.72" height="3.38" fill="#a0c6e3"/>
<rect x="333.33" y="327.17" width="9.72" height="3.38" fill="#a0c6e3"/>
<rect x="343" y="327.17" width="9.72" height="3.38" fill="#6aa6d3"/>
<rect x="352.67" y="327.17" width="9.72" height="3.38" fill="#86b8dc"/>
<rect x="362.33" y="327.17" width="9.72" height="3.38" fill="#6aa6d3"/>
<rect x="256" y="330.5" width="9.72" height="3.38" fill="#f6b89c"/>
<rect x="265.67" y="330.5" width="9.72" height="3.38" fill="#f9d5c3"/>
<rect x="275.33" y="330.5" width="9.72" height="3.38" fill="#f6b89c"/>
<rect x="285" y="330.5" width="9.72" height="3.38" fill="#f9d5c3"/>
<rect x="294.67" y="330.5" width="9.72" height="3.38" fill="#f9dccc"/>
<rect x="304.33" y="330.5" width="9.72" height="3.38" fill="#f9dccc"/>
<rect x="314" y="330.5" width="9.72" height="3.38" fill="#d1e4f1"/>
<rect x="323.67" y="330.5" width="9.72" height="3.38" fill="#7db3da"/>
<rect x="333.33" y="330.5" width="9.72" height="3.38" fill="#d1e4f1"/>
<rect x="343" y="330.5" width="9.72" height="3.38" fill="#6aa6d3"/>
<rect x="352.67" y="330.5" width="9.72" height="3.38" fill="#6aa6d3"/>
<rect x="362.33" y="330.5" width="9.72" height="3.38" fill="#6aa6d3"/>
<rect x="256" y="333.83" width="9.72" height="3.38" fill="#f6b89c"/>
<rect x="265.67" y="333.83" width="9.72" height="3.38" fill="#f4a785"/>
<rect x="275.33" y="333.83" width="9.72" height="3.38" fill="#f6b89c"/>
<rect x="285" y="333.83" width="9.72" height="3.38" fill="#f9d5c3"/>
<rect x="294.67" y="333.83" width="9.72" height="3.38" fill="#f9dccc"/>
<rect x="304.33" y="333.83" width="9.72" height="3.38" fill="#f9e1d5"/>
<rect x="314" y="333.83" width="9.72" height="3.38" fill="#d1e4f1"/>
<rect x="323.67" y="333.83" width="9.72" height="3.38" fill="#a0c6e3"/>
<rect x="333.33" y="333.83" width="9.72" height="3.38" fill="#c6ddee"/>
<rect x="343" y="333.83" width="9.72" height="3.38" fill="#6aa6d3"/>
<rect x="352.67" y="333.83" width="9.72" height="3.38" fill="#5a9bcd"/>
<rect x="362.33" y="333.83" width="9.72" height="3.38" fill="#6aa6d3"/>
<rect x="256" y="337.15" width="9.72" height="3.38" fill="#f6b89c"/>
<rect x="265.67" y="337.15" width="9.72" height="3.38" fill="#f4a785"/>
<rect x="275.33" y="337.15" width="9.72" height="3.38" fill="#f4a785"/>
<rect x="285" y="337.15" width="9.72" height="3.38" fill="#f8c7ae"/>
<rect x="294.67" y="337.15" width="9.72" height="3.38" fill="#f9dccc"/>
<rect x="304.33" y="337.15" width="9.72" height="3.38" fill="#f9dccc"/>
<rect x="314" y="337.15" width="9.72" height="3.38" fill="#d1e4f1"/>
<rect x="323.67" y="337.15" width="9.72" height="3.38" fill="#a0c6e3"/>
<rect x="333.33" y="337.15" width="9.72" height="3.38" fill="#d1e4f1"/>
<rect x="343" y="337.15" width="9.72" height="3.38" fill="#5a9bcd"/>
<rect x="352.67" y="337.15" width="9.72" height="3.38" fill="#86b8dc"/>
<rect x="362.33" y="337.15" width="9.72" height="3.38" fill="#5a9bcd"/>
<rect x="256" y="340.48" width="9.72" height="3.38" fill="#f4a785"/>
<rect x="265.67" y="340.48" width="9.72" height="3.38" fill="#f9e6dc"/>
<rect x="275.33" y="340.48" width="9.72" height="3.38" fill="#f4a785"/>
<rect x="285" y="340.48" width="9.72" height="3.38" fill="#f9dccc"/>
<rect x="294.67" y="340.48" width="9.72" height="3.38" fill="#f9dccc"/>
<rect x="304.33" y="340.48" width="9.72" height="3.38" fill="#f9dccc"/>
<rect x="314" y="340.48" width="9.72" height="3.38" fill="#e6eef5"/>
<rect x="323.67" y="340.48" width="9.72" height="3.38" fill="#a0c6e3"/>
<rect x="333.33" y="340.48" width="9.72" height="3.38" fill="#a0c6e3"/>
<rect x="343" y="340.48" width="9.72" height="3.38" fill="#3b82bf"/>
<rect x="352.67" y="340.48" width="9.72" height="3.38" fill="#86b8dc"/>
<rect x="362.33" y="340.48" width="9.72" height="3.38" fill="#a0c6e3"/>
<rect x="256" y="343.81" width="9.72" height="3.38" fill="#f6b89c"/>
<rect x="265.67" y="343.81" width="9.72" height="3.38" fill="#f9e6dc"/>
<rect x="275.33" y="343.81" width="9.72" height="3.38" fill="#e8785b"/>
<rect x="285" y="343.81" width="9.72" height="3.38" fill="#f9dccc"/>
<rect x="294.67" y="343.81" width="9.72" height="3.38" fill="#f9dccc"/>
<rect x="304.33" y="343.81" width="9.72" height="3.38" fill="#f9dccc"/>
<rect x="314" y="343.81" width="9.72" height="3.38" fill="#d1e4f1"/>
<rect x="323.67" y="343.81" width="9.72" height="3.38" fill="#a0c6e3"/>
<rect x="333.33" y="343.81" width="9.72" height="3.38" fill="#a8cbe5"/>
<rect x="343" y="343.81" width="9.72" height="3.38" fill="#6aa6d3"/>
<rect x="352.67" y="343.81" width="9.72" height="3.38" fill="#6aa6d3"/>
<rect x="362.33" y="343.81" width="9.72" height="3.38" fill="#6aa6d3"/>
<rect x="256" y="347.14" width="9.72" height="3.38" fill="#ec8a6a"/>
<rect x="265.67" y="347.14" width="9.72" height="3.38" fill="#f8ebe4"/>
<rect x="275.33" y="347.14" width="9.72" height="3.38" fill="#f4a785"/>
<rect x="285" y="347.14" width="9.72" height="3.38" fill="#f9dccc"/>
<rect x="294.67" y="347.14" width="9.72" height="3.38" fill="#f9dccc"/>
<rect x="304.33" y="347.14" width="9.72" height="3.38" fill="#f9d5c3"/>
<rect x="314" y="347.14" width="9.72" height="3.38" fill="#d1e4f1"/>
<rect x="323.67" y="347.14" width="9.72" height="3.38" fill="#d1e4f1"/>
<rect x="333.33" y="347.14" width="9.72" height="3.38" fill="#c6ddee"/>
<rect x="343" y="347.14" width="9.72" height="3.38" fill="#6aa6d3"/>
<rect x="352.67" y="347.14" width="9.72" height="3.38" fill="#6aa6d3"/>
<rect x="362.33" y="347.14" width="9.72" height="3.38" fill="#6aa6d3"/>
<rect x="256" y="350.47" width="9.72" height="3.38" fill="#f4a785"/>
<rect x="265.67" y="350.47" width="9.72" height="3.38" fill="#f8ebe4"/>
<rect x="275.33" y="350.47" width="9.72" height="3.38" fill="#f6b89c"/>
<rect x="285" y="350.47" width="9.72" height="3.38" fill="#f9dccc"/>
<rect x="294.67" y="350.47" width="9.72" height="3.38" fill="#f9dccc"/>
<rect x="304.33" y="350.47" width="9.72" height="3.38" fill="#f9dccc"/>
<rect x="314" y="350.47" width="9.72" height="3.38" fill="#d1e4f1"/>
<rect x="323.67" y="350.47" width="9.72" height="3.38" fill="#a0c6e3"/>
<rect x="333.33" y="350.47" width="9.72" height="3.38" fill="#b7d4ea"/>
<rect x="343" y="350.47" width="9.72" height="3.38" fill="#6aa6d3"/>
<rect x="352.67" y="350.47" width="9.72" height="3.38" fill="#6aa6d3"/>
<rect x="362.33" y="350.47" width="9.72" height="3.38" fill="#6aa6d3"/>
<path d="M256 24.23H372M256 27.56H372M256 30.89H372M256 34.22H372M256 37.55H372M256 40.87H372M256 44.2H372M256 47.53H372M256 50.86H372M256 54.19H372M256 57.52H372M256 60.85H372M256 64.18H372M256 67.51H372M256 70.84H372M256 74.16H372M256 77.49H372M256 80.82H372M256 84.15H372M256 87.48H372M256 90.81H372M256 94.14H372M256 97.47H372M256 100.8H372M256 104.12H372M256 107.45H372M256 110.78H372M256 114.11H372M256 117.44H372M256 120.77H372M256 124.1H372M256 127.43H372M256 130.76H372M256 134.09H372M256 137.41H372M256 140.74H372M256 144.07H372M256 147.4H372M256 150.73H372M256 154.06H372M256 157.39H372M256 160.72H372M256 164.05H372M256 167.38H372M256 170.71H372M256 174.03H372M256 177.36H372M256 180.69H372M256 184.02H372M256 187.35H372M256 190.68H372M256 194.01H372M256 197.34H372M256 200.67H372M256 204H372M256 207.32H372M256 210.65H372M256 213.98H372M256 217.31H372M256 220.64H372M256 223.97H372M256 227.3H372M256 230.63H372M256 233.96H372M256 237.29H372M256 240.61H372M256 243.94H372M256 247.27H372M256 250.6H372M256 253.93H372M256 257.26H372M256 260.59H372M256 263.92H372M256 267.25H372M256 270.57H372M256 273.9H372M256 277.23H372M256 280.56H372M256 283.89H372M256 287.22H372M256 290.55H372M256 293.88H372M256 297.21H372M256 300.54H372M256 303.87H372M256 307.19H372M256 310.52H372M256 313.85H372M256 317.18H372M256 320.51H372M256 323.84H372M256 327.17H372M256 330.5H372M256 333.83H372M256 337.15H372M256 340.48H372M256 343.81H372M256 347.14H372M256 350.47H372M265.67 20.9V353.8M275.33 20.9V353.8M285 20.9V353.8M294.67 20.9V353.8M304.33 20.9V353.8M314 20.9V353.8M323.67 20.9V353.8M333.33 20.9V353.8M343 20.9V353.8M352.67 20.9V353.8M362.33 20.9V353.8" stroke="#c8c8c8" stroke-opacity="0.35" stroke-width="0.3" fill="none"/>
<rect x="407.3" y="21.4" width="9.92" height="3.39" fill="#fbe3d6"/>
<rect x="417.18" y="21.4" width="9.92" height="3.39" fill="#fbe3d6"/>
<rect x="427.05" y="21.4" width="9.92" height="3.39" fill="#f8ebe4"/>
<rect x="436.93" y="21.4" width="9.92" height="3.39" fill="#2e72b4"/>
<rect x="446.8" y="21.4" width="9.92" height="3.39" fill="#2e72b4"/>
<rect x="456.67" y="21.4" width="9.92" height="3.39" fill="#5a9bcd"/>
<rect x="466.55" y="21.4" width="9.92" height="3.39" fill="#f9e1d5"/>
<rect x="476.42" y="21.4" width="9.92" height="3.39" fill="#f8ebe4"/>
<rect x="486.3" y="21.4" width="9.92" height="3.39" fill="#f8ebe4"/>
<rect x="496.17" y="21.4" width="9.92" height="3.39" fill="#f6b89c"/>
<rect x="506.05" y="21.4" width="9.92" height="3.39" fill="#f5f2f1"/>
<rect x="515.92" y="21.4" width="9.92" height="3.39" fill="#f9e6dc"/>
<rect x="407.3" y="24.74" width="9.92" height="3.39" fill="#f5f2f1"/>
<rect x="417.18" y="24.74" width="9.92" height="3.39" fill="#f5f2f1"/>
<rect x="427.05" y="24.74" width="9.92" height="3.39" fill="#f1f2f4"/>
<rect x="436.93" y="24.74" width="9.92" height="3.39" fill="#2e72b4"/>
<rect x="446.8" y="24.74" width="9.92" height="3.39" fill="#5a9bcd"/>
<rect x="456.67" y="24.74" width="9.92" height="3.39" fill="#2e72b4"/>
<rect x="466.55" y="24.74" width="9.92" height="3.39" fill="#f8c7ae"/>
<rect x="476.42" y="24.74" width="9.92" height="3.39" fill="#f9e1d5"/>
<rect x="486.3" y="24.74" width="9.92" height="3.39" fill="#f9e1d5"/>
<rect x="496.17" y="24.74" width="9.92" height="3.39" fill="#f9e1d5"/>
<rect x="506.05" y="24.74" width="9.92" height="3.39" fill="#f8ebe4"/>
<rect x="515.92" y="24.74" width="9.92" height="3.39" fill="#f8ebe4"/>
<rect x="407.3" y="28.09" width="9.92" height="3.39" fill="#f8f0ec"/>
<rect x="417.18" y="28.09" width="9.92" height="3.39" fill="#f8f0ec"/>
<rect x="427.05" y="28.09" width="9.92" height="3.39" fill="#f1f2f4"/>
<rect x="436.93" y="28.09" width="9.92" height="3.39" fill="#2e72b4"/>
<rect x="446.8" y="28.09" width="9.92" height="3.39" fill="#2e72b4"/>
<rect x="456.67" y="28.09" width="9.92" height="3.39" fill="#2e72b4"/>
<rect x="466.55" y="28.09" width="9.92" height="3.39" fill="#f8c7ae"/>
<rect x="476.42" y="28.09" width="9.92" height="3.39" fill="#f9e6dc"/>
<rect x="486.3" y="28.09" width="9.92" height="3.39" fill="#f6b89c"/>
<rect x="496.17" y="28.09" width="9.92" height="3.39" fill="#f9e6dc"/>
<rect x="506.05" y="28.09" width="9.92" height="3.39" fill="#f8ebe4"/>
<rect x="515.92" y="28.09" width="9.92" height="3.39" fill="#f8ebe4"/>
<rect x="407.3" y="31.43" width="9.92" height="3.39" fill="#8fbee0"/>
<rect x="417.18" y="31.43" width="9.92" height="3.39" fill="#6aa6d3"/>
<rect x="427.05" y="31.43" width="9.92" height="3.39" fill="#7db3da"/>
<rect x="436.93" y="31.43" width="9.92" height="3.39" fill="#a8cbe5"/>
<rect x="446.8" y="31.43" width="9.92" height="3.39" fill="#e6eef5"/>
<rect x="456.67" y="31.43" width="9.92" height="3.39" fill="#e6eef5"/>
<rect x="466.55" y="31.43" width="9.92" height="3.39" fill="#e06a52"/>
<rect x="476.42" y="31.43" width="9.92" height="3.39" fill="#f4a785"/>
<rect x="486.3" y="31.43" width="9.92" height="3.39" fill="#f09474"/>
<rect x="496.17" y="31.43" width="9.92" height="3.39" fill="#f1f2f4"/>
<rect x="506.05" y="31.43" width="9.92" height="3.39" fill="#f1f2f4"/>
<rect x="515.92" y="31.43" width="9.92" height="3.39" fill="#f1f2f4"/>
<rect x="407.3" y="34.78" width="9.92" height="3.39" fill="#6aa6d3"/>
<rect x="417.18" y="34.78" width="9.92" height="3.39" fill="#5a9bcd"/>
<rect x="427.05" y="34.78" width="9.92" height="3.39" fill="#8fbee0"/>
<rect x="436.93" y="34.78" width="9.92" height="3.39" fill="#e6eef5"/>
<rect x="446.8" y="34.78" width="9.92" height="3.39" fill="#eef1f5"/>
<rect x="456.67" y="34.78" width="9.92" height="3.39" fill="#d1e4f1"/>
<rect x="466.55" y="34.78" width="9.92" height="3.39" fill="#e6eef5"/>
<rect x="476.42" y="34.78" width="9.92" height="3.39" fill="#e6eef5"/>
<rect x="486.3" y="34.78" width="9.92" height="3.39" fill="#eef1f5"/>
<rect x="496.17" y="34.78" width="9.92" height="3.39" fill="#ec8a6a"/>
<rect x="506.05" y="34.78" width="9.92" height="3.39" fill="#e06a52"/>
<rect x="515.92" y="34.78" width="9.92" height="3.39" fill="#f09474"/>
<rect x="407.3" y="38.12" width="9.92" height="3.39" fill="#5a9bcd"/>
<rect x="417.18" y="38.12" width="9.92" height="3.39" fill="#5a9bcd"/>
<rect x="427.05" y="38.12" width="9.92" height="3.39" fill="#5a9bcd"/>
<rect x="436.93" y="38.12" width="9.92" height="3.39" fill="#f1f2f4"/>
<rect x="446.8" y="38.12" width="9.92" height="3.39" fill="#f8ebe4"/>
<rect x="456.67" y="38.12" width="9.92" height="3.39" fill="#d1e4f1"/>
<rect x="466.55" y="38.12" width="9.92" height="3.39" fill="#e6eef5"/>
<rect x="476.42" y="38.12" width="9.92" height="3.39" fill="#e6eef5"/>
<rect x="486.3" y="38.12" width="9.92" height="3.39" fill="#eef1f5"/>
<rect x="496.17" y="38.12" width="9.92" height="3.39" fill="#f6b89c"/>
<rect x="506.05" y="38.12" width="9.92" height="3.39" fill="#e06a52"/>
<rect x="515.92" y="38.12" width="9.92" height="3.39" fill="#f09474"/>
<rect x="407.3" y="41.46" width="9.92" height="3.39" fill="#a8cbe5"/>
<rect x="417.18" y="41.46" width="9.92" height="3.39" fill="#a8cbe5"/>
<rect x="427.05" y="41.46" width="9.92" height="3.39" fill="#a8cbe5"/>
<rect x="436.93" y="41.46" width="9.92" height="3.39" fill="#a8cbe5"/>
<rect x="446.8" y="41.46" width="9.92" height="3.39" fill="#d1e4f1"/>
<rect x="456.67" y="41.46" width="9.92" height="3.39" fill="#a8cbe5"/>
<rect x="466.55" y="41.46" width="9.92" height="3.39" fill="#dfe9f3"/>
<rect x="476.42" y="41.46" width="9.92" height="3.39" fill="#dfe9f3"/>
<rect x="486.3" y="41.46" width="9.92" height="3.39" fill="#e6eef5"/>
<rect x="496.17" y="41.46" width="9.92" height="3.39" fill="#ec8a6a"/>
<rect x="506.05" y="41.46" width="9.92" height="3.39" fill="#ec8a6a"/>
<rect x="515.92" y="41.46" width="9.92" height="3.39" fill="#ec8a6a"/>
<rect x="407.3" y="44.81" width="9.92" height="3.39" fill="#a8cbe5"/>
<rect x="417.18" y="44.81" width="9.92" height="3.39" fill="#a8cbe5"/>
<rect x="427.05" y="44.81" width="9.92" height="3.39" fill="#a8cbe5"/>
<rect x="436.93" y="44.81" width="9.92" height="3.39" fill="#a8cbe5"/>
<rect x="446.8" y="44.81" width="9.92" height="3.39" fill="#d1e4f1"/>
<rect x="456.67" y="44.81" width="9.92" height="3.39" fill="#b7d4ea"/>
<rect x="466.55" y="44.81" width="9.92" height="3.39" fill="#dfe9f3"/>
<rect x="476.42" y="44.81" width="9.92" height="3.39" fill="#dfe9f3"/>
<rect x="486.3" y="44.81" width="9.92" height="3.39" fill="#e6eef5"/>
<rect x="496.17" y="44.81" width="9.92" height="3.39" fill="#e8785b"/>
<rect x="506.05" y="44.81" width="9.92" height="3.39" fill="#e8785b"/>
<rect x="515.92" y="44.81" width="9.92" height="3.39" fill="#ec8a6a"/>
<rect x="407.3" y="48.15" width="9.92" height="3.39" fill="#6aa6d3"/>
<rect x="417.18" y="48.15" width="9.92" height="3.39" fill="#6aa6d3"/>
<rect x="427.05" y="48.15" width="9.92" height="3.39" fill="#5a9bcd"/>
<rect x="436.93" y="48.15" width="9.92" height="3.39" fill="#a8cbe5"/>
<rect x="446.8" y="48.15" width="9.92" height="3.39" fill="#b7d4ea"/>
<rect x="456.67" y="48.15" width="9.92" height="3.39" fill="#a8cbe5"/>
<rect x="466.55" y="48.15" width="9.92" height="3.39" fill="#f8c7ae"/>
<rect x="476.42" y="48.15" width="9.92" height="3.39" fill="#f9e1d5"/>
<rect x="486.3" y="48.15" width="9.92" height="3.39" fill="#f9e1d5"/>
<rect x="496.17" y="48.15" width="9.92" height="3.39" fill="#f9e1d5"/>
<rect x="506.05" y="48.15" width="9.92" height="3.39" fill="#f9e6dc"/>
<rect x="515.92" y="48.15" width="9.92" height="3.39" fill="#f9e6dc"/>
<rect x="407.3" y="51.5" width="9.92" height="3.39" fill="#7db3da"/>
<rect x="417.18" y="51.5" width="9.92" height="3.39" fill="#6aa6d3"/>
<rect x="427.05" y="51.5" width="9.92" height="3.39" fill="#7db3da"/>
<rect x="436.93" y="51.5" width="9.92" height="3.39" fill="#a8cbe5"/>
<rect x="446.8" y="51.5" width="9.92" height="3.39" fill="#a8cbe5"/>
<rect x="456.67" y="51.5" width="9.92" height="3.39" fill="#b7d4ea"/>
<rect x="466.55" y="51.5" width="9.92" height="3.39" fill="#f8c7ae"/>
<rect x="476.42" y="51.5" width="9.92" height="3.39" fill="#f6b89c"/>
<rect x="486.3" y="51.5" width="9.92" height="3.39" fill="#f8c7ae"/>
<rect x="496.17" y="51.5" width="9.92" height="3.39" fill="#f9e1d5"/>
<rect x="506.05" y="51.5" width="9.92" height="3.39" fill="#f9e6dc"/>
<rect x="515.92" y="51.5" width="9.92" height="3.39" fill="#f8ebe4"/>
<rect x="407.3" y="54.84" width="9.92" height="3.39" fill="#4a8dc5"/>
<rect x="417.18" y="54.84" width="9.92" height="3.39" fill="#4a8dc5"/>
<rect x="427.05" y="54.84" width="9.92" height="3.39" fill="#4a8dc5"/>
<rect x="436.93" y="54.84" width="9.92" height="3.39" fill="#e6eef5"/>
<rect x="446.8" y="54.84" width="9.92" height="3.39" fill="#e6eef5"/>
<rect x="456.67" y="54.84" width="9.92" height="3.39" fill="#d1e4f1"/>
<rect x="466.55" y="54.84" width="9.92" height="3.39" fill="#f9e1d5"/>
<rect x="476.42" y="54.84" width="9.92" height="3.39" fill="#f8c7ae"/>
<rect x="486.3" y="54.84" width="9.92" height="3.39" fill="#f9e1d5"/>
<rect x="496.17" y="54.84" width="9.92" height="3.39" fill="#f8ebe4"/>
<rect x="506.05" y="54.84" width="9.92" height="3.39" fill="#f9e6dc"/>
<rect x="515.92" y="54.84" width="9.92" height="3.39" fill="#f1f2f4"/>
<rect x="407.3" y="58.18" width="9.92" height="3.39" fill="#6aa6d3"/>
<rect x="417.18" y="58.18" width="9.92" height="3.39" fill="#6aa6d3"/>
<rect x="427.05" y="58.18" width="9.92" height="3.39" fill="#6aa6d3"/>
<rect x="436.93" y="58.18" width="9.92" height="3.39" fill="#d1e4f1"/>
<rect x="446.8" y="58.18" width="9.92" height="3.39" fill="#d1e4f1"/>
<rect x="456.67" y="58.18" width="9.92" height="3.39" fill="#8fbee0"/>
<rect x="466.55" y="58.18" width="9.92" height="3.39" fill="#f5f2f1"/>
<rect x="476.42" y="58.18" width="9.92" height="3.39" fill="#f8ebe4"/>
<rect x="486.3" y="58.18" width="9.92" height="3.39" fill="#f5f2f1"/>
<rect x="496.17" y="58.18" width="9.92" height="3.39" fill="#ec8a6a"/>
<rect x="506.05" y="58.18" width="9.92" height="3.39" fill="#ec8a6a"/>
<rect x="515.92" y="58.18" width="9.92" height="3.39" fill="#f09474"/>
<rect x="407.3" y="61.53" width="9.92" height="3.39" fill="#6aa6d3"/>
<rect x="417.18" y="61.53" width="9.92" height="3.39" fill="#6aa6d3"/>
<rect x="427.05" y="61.53" width="9.92" height="3.39" fill="#6aa6d3"/>
<rect x="436.93" y="61.53" width="9.92" height="3.39" fill="#a8cbe5"/>
<rect x="446.8" y="61.53" width="9.92" height="3.39" fill="#a8cbe5"/>
<rect x="456.67" y="61.53" width="9.92" height="3.39" fill="#86b8dc"/>
<rect x="466.55" y="61.53" width="9.92" height="3.39" fill="#f8ebe4"/>
<rect x="476.42" y="61.53" width="9.92" height="3.39" fill="#f8ebe4"/>
<rect x="486.3" y="61.53" width="9.92" height="3.39" fill="#f5f2f1"/>
<rect x="496.17" y="61.53" width="9.92" height="3.39" fill="#ef9270"/>
<rect x="506.05" y="61.53" width="9.92" height="3.39" fill="#ef9270"/>
<rect x="515.92" y="61.53" width="9.92" height="3.39" fill="#f09474"/>
<rect x="407.3" y="64.87" width="9.92" height="3.39" fill="#86b8dc"/>
<rect x="417.18" y="64.87" width="9.92" height="3.39" fill="#5a9bcd"/>
<rect x="427.05" y="64.87" width="9.92" height="3.39" fill="#7db3da"/>
<rect x="436.93" y="64.87" width="9.92" height="3.39" fill="#b7d4ea"/>
<rect x="446.8" y="64.87" width="9.92" height="3.39" fill="#a8cbe5"/>
<rect x="456.67" y="64.87" width="9.92" height="3.39" fill="#86b8dc"/>
<rect x="466.55" y="64.87" width="9.92" height="3.39" fill="#f8ebe4"/>
<rect x="476.42" y="64.87" width="9.92" height="3.39" fill="#f8ebe4"/>
<rect x="486.3" y="64.87" width="9.92" height="3.39" fill="#f5f2f1"/>
<rect x="496.17" y="64.87" width="9.92" height="3.39" fill="#ef9270"/>
<rect x="506.05" y="64.87" width="9.92" height="3.39" fill="#ef9270"/>
<rect x="515.92" y="64.87" width="9.92" height="3.39" fill="#ef9270"/>
<rect x="407.3" y="68.22" width="9.92" height="3.39" fill="#86b8dc"/>
<rect x="417.18" y="68.22" width="9.92" height="3.39" fill="#86b8dc"/>
<rect x="427.05" y="68.22" width="9.92" height="3.39" fill="#7db3da"/>
<rect x="436.93" y="68.22" width="9.92" height="3.39" fill="#b7d4ea"/>
<rect x="446.8" y="68.22" width="9.92" height="3.39" fill="#b7d4ea"/>
<rect x="456.67" y="68.22" width="9.92" height="3.39" fill="#a8cbe5"/>
<rect x="466.55" y="68.22" width="9.92" height="3.39" fill="#f8ebe4"/>
<rect x="476.42" y="68.22" width="9.92" height="3.39" fill="#f8ebe4"/>
<rect x="486.3" y="68.22" width="9.92" height="3.39" fill="#f5f2f1"/>
<rect x="496.17" y="68.22" width="9.92" height="3.39" fill="#ef9270"/>
<rect x="506.05" y="68.22" width="9.92" height="3.39" fill="#ec8a6a"/>
<rect x="515.92" y="68.22" width="9.92" height="3.39" fill="#ef9270"/>
<rect x="407.3" y="71.56" width="9.92" height="3.39" fill="#7db3da"/>
<rect x="417.18" y="71.56" width="9.92" height="3.39" fill="#5a9bcd"/>
<rect x="427.05" y="71.56" width="9.92" height="3.39" fill="#7db3da"/>
<rect x="436.93" y="71.56" width="9.92" height="3.39" fill="#d1e4f1"/>
<rect x="446.8" y="71.56" width="9.92" height="3.39" fill="#b7d4ea"/>
<rect x="456.67" y="71.56" width="9.92" height="3.39" fill="#c6ddee"/>
<rect x="466.55" y="71.56" width="9.92" height="3.39" fill="#eef1f5"/>
<rect x="476.42" y="71.56" width="9.92" height="3.39" fill="#f9e6dc"/>
<rect x="486.3" y="71.56" width="9.92" height="3.39" fill="#f9e6dc"/>
<rect x="496.17" y="71.56" width="9.92" height="3.39" fill="#f6b89c"/>
<rect x="506.05" y="71.56" width="9.92" height="3.39" fill="#ec8a6a"/>
<rect x="515.92" y="71.56" width="9.92" height="3.39" fill="#f09474"/>
<rect x="407.3" y="74.9" width="9.92" height="3.39" fill="#6aa6d3"/>
<rect x="417.18" y="74.9" width="9.92" height="3.39" fill="#5a9bcd"/>
<rect x="427.05" y="74.9" width="9.92" height="3.39" fill="#7db3da"/>
<rect x="436.93" y="74.9" width="9.92" height="3.39" fill="#7db3da"/>
<rect x="446.8" y="74.9" width="9.92" height="3.39" fill="#86b8dc"/>
<rect x="456.67" y="74.9" width="9.92" height="3.39" fill="#86b8dc"/>
<rect x="466.55" y="74.9" width="9.92" height="3.39" fill="#f9e1d5"/>
<rect x="476.42" y="74.9" width="9.92" height="3.39" fill="#f9e1d5"/>
<rect x="486.3" y="74.9" width="9.92" height="3.39" fill="#f9e6dc"/>
<rect x="496.17" y="74.9" width="9.92" height="3.39" fill="#f6b89c"/>
<rect x="506.05" y="74.9" width="9.92" height="3.39" fill="#f4a785"/>
<rect x="515.92" y="74.9" width="9.92" height="3.39" fill="#f8c7ae"/>
<rect x="407.3" y="78.25" width="9.92" height="3.39" fill="#5a9bcd"/>
<rect x="417.18" y="78.25" width="9.92" height="3.39" fill="#6aa6d3"/>
<rect x="427.05" y="78.25" width="9.92" height="3.39" fill="#5a9bcd"/>
<rect x="436.93" y="78.25" width="9.92" height="3.39" fill="#a8cbe5"/>
<rect x="446.8" y="78.25" width="9.92" height="3.39" fill="#d9e7f2"/>
<rect x="456.67" y="78.25" width="9.92" height="3.39" fill="#a8cbe5"/>
<rect x="466.55" y="78.25" width="9.92" height="3.39" fill="#f9e1d5"/>
<rect x="476.42" y="78.25" width="9.92" height="3.39" fill="#f9e6dc"/>
<rect x="486.3" y="78.25" width="9.92" height="3.39" fill="#f9e1d5"/>
<rect x="496.17" y="78.25" width="9.92" height="3.39" fill="#f4a785"/>
<rect x="506.05" y="78.25" width="9.92" height="3.39" fill="#f9e1d5"/>
<rect x="515.92" y="78.25" width="9.92" height="3.39" fill="#f8c7ae"/>
<rect x="407.3" y="81.59" width="9.92" height="3.39" fill="#6aa6d3"/>
<rect x="417.18" y="81.59" width="9.92" height="3.39" fill="#6aa6d3"/>
<rect x="427.05" y="81.59" width="9.92" height="3.39" fill="#5a9bcd"/>
<rect x="436.93" y="81.59" width="9.92" height="3.39" fill="#a8cbe5"/>
<rect x="446.8" y="81.59" width="9.92" height="3.39" fill="#c6ddee"/>
<rect x="456.67" y="81.59" width="9.92" height="3.39" fill="#a8cbe5"/>
<rect x="466.55" y="81.59" width="9.92" height="3.39" fill="#f9e6dc"/>
<rect x="476.42" y="81.59" width="9.92" height="3.39" fill="#f9e1d5"/>
<rect x="486.3" y="81.59" width="9.92" height="3.39" fill="#f9e6dc"/>
<rect x="496.17" y="81.59" width="9.92" height="3.39" fill="#f4a785"/>
<rect x="506.05" y="81.59" width="9.92" height="3.39" fill="#ec8a6a"/>
<rect x="515.92" y="81.59" width="9.92" height="3.39" fill="#f8c7ae"/>
<rect x="407.3" y="84.94" width="9.92" height="3.39" fill="#6aa6d3"/>
<rect x="417.18" y="84.94" width="9.92" height="3.39" fill="#5a9bcd"/>
<rect x="427.05" y="84.94" width="9.92" height="3.39" fill="#5a9bcd"/>
<rect x="436.93" y="84.94" width="9.92" height="3.39" fill="#a8cbe5"/>
<rect x="446.8" y="84.94" width="9.92" height="3.39" fill="#d1e4f1"/>
<rect x="456.67" y="84.94" width="9.92" height="3.39" fill="#a8cbe5"/>
<rect x="466.55" y="84.94" width="9.92" height="3.39" fill="#f9e1d5"/>
<rect x="476.42" y="84.94" width="9.92" height="3.39" fill="#f9e6dc"/>
<rect x="486.3" y="84.94" width="9.92" height="3.39" fill="#f9e6dc"/>
<rect x="496.17" y="84.94" width="9.92" height="3.39" fill="#f6b89c"/>
<rect x="506.05" y="84.94" width="9.92" height="3.39" fill="#ec8a6a"/>
<rect x="515.92" y="84.94" width="9.92" height="3.39" fill="#f8c7ae"/>
<rect x="407.3" y="88.28" width="9.92" height="3.39" fill="#6aa6d3"/>
<rect x="417.18" y="88.28" width="9.92" height="3.39" fill="#86b8dc"/>
<rect x="427.05" y="88.28" width="9.92" height="3.39" fill="#86b8dc"/>
<rect x="436.93" y="88.28" width="9.92" height="3.39" fill="#a8cbe5"/>
<rect x="446.8" y="88.28" width="9.92" height="3.39" fill="#a8cbe5"/>
<rect x="456.67" y="88.28" width="9.92" height="3.39" fill="#5a9bcd"/>
<rect x="466.55" y="88.28" width="9.92" height="3.39" fill="#f8c7ae"/>
<rect x="476.42" y="88.28" width="9.92" height="3.39" fill="#f9e1d5"/>
<rect x="486.3" y="88.28" width="9.92" height="3.39" fill="#f9e1d5"/>
<rect x="496.17" y="88.28" width="9.92" height="3.39" fill="#f09474"/>
<rect x="506.05" y="88.28" width="9.92" height="3.39" fill="#f4a785"/>
<rect x="515.92" y="88.28" width="9.92" height="3.39" fill="#f4a785"/>
<rect x="407.3" y="91.62" width="9.92" height="3.39" fill="#7db3da"/>
<rect x="417.18" y="91.62" width="9.92" height="3.39" fill="#6aa6d3"/>
<rect x="427.05" y="91.62" width="9.92" height="3.39" fill="#86b8dc"/>
<rect x="436.93" y="91.62" width="9.92" height="3.39" fill="#b7d4ea"/>
<rect x="446.8" y="91.62" width="9.92" height="3.39" fill="#b7d4ea"/>
<rect x="456.67" y="91.62" width="9.92" height="3.39" fill="#5a9bcd"/>
<rect x="466.55" y="91.62" width="9.92" height="3.39" fill="#f9e1d5"/>
<rect x="476.42" y="91.62" width="9.92" height="3.39" fill="#f8c7ae"/>
<rect x="486.3" y="91.62" width="9.92" height="3.39" fill="#f9e1d5"/>
<rect x="496.17" y="91.62" width="9.92" height="3.39" fill="#f09474"/>
<rect x="506.05" y="91.62" width="9.92" height="3.39" fill="#f4a785"/>
<rect x="515.92" y="91.62" width="9.92" height="3.39" fill="#f4a785"/>
<rect x="407.3" y="94.97" width="9.92" height="3.39" fill="#4a8dc5"/>
<rect x="417.18" y="94.97" width="9.92" height="3.39" fill="#4a8dc5"/>
<rect x="427.05" y="94.97" width="9.92" height="3.39" fill="#4a8dc5"/>
<rect x="436.93" y="94.97" width="9.92" height="3.39" fill="#e6eef5"/>
<rect x="446.8" y="94.97" width="9.92" height="3.39" fill="#e6eef5"/>
<rect x="456.67" y="94.97" width="9.92" height="3.39" fill="#a8cbe5"/>
<rect x="466.55" y="94.97" width="9.92" height="3.39" fill="#f9e1d5"/>
<rect x="476.42" y="94.97" width="9.92" height="3.39" fill="#f9e1d5"/>
<rect x="486.3" y="94.97" width="9.92" height="3.39" fill="#f8ebe4"/>
<rect x="496.17" y="94.97" width="9.92" height="3.39" fill="#f6b89c"/>
<rect x="506.05" y="94.97" width="9.92" height="3.39" fill="#f4a785"/>
<rect x="515.92" y="94.97" width="9.92" height="3.39" fill="#f8c7ae"/>
<rect x="407.3" y="98.31" width="9.92" height="3.39" fill="#4a8dc5"/>
<rect x="417.18" y="98.31" width="9.92" height="3.39" fill="#4a8dc5"/>
<rect x="427.05" y="98.31" width="9.92" height="3.39" fill="#4a8dc5"/>
<rect x="436.93" y="98.31" width="9.92" height="3.39" fill="#e6eef5"/>
<rect x="446.8" y="98.31" width="9.92" height="3.39" fill="#e6eef5"/>
<rect x="456.67" y="98.31" width="9.92" height="3.39" fill="#a8cbe5"/>
<rect x="466.55" y="98.31" width="9.92" height="3.39" fill="#f9e1d5"/>
<rect x="476.42" y="98.31" width="9.92" height="3.39" fill="#f9e6dc"/>
<rect x="486.3" y="98.31" width="9.92" height="3.39" fill="#f8ebe4"/>
<rect x="496.17" y="98.31" width="9.92" height="3.39" fill="#f6b89c"/>
<rect x="506.05" y="98.31" width="9.92" height="3.39" fill="#f6b89c"/>
<rect x="515.92" y="98.31" width="9.92" height="3.39" fill="#f4a785"/>
<rect x="407.3" y="101.66" width="9.92" height="3.39" fill="#4a8dc5"/>
<rect x="417.18" y="101.66" width="9.92" height="3.39" fill="#4a8dc5"/>
<rect x="427.05" y="101.66" width="9.92" height="3.39" fill="#4a8dc5"/>
<rect x="436.93" y="101.66" width="9.92" height="3.39" fill="#e6eef5"/>
<rect x="446.8" y="101.66" width="9.92" height="3.39" fill="#e6eef5"/>
<rect x="456.67" y="101.66" width="9.92" height="3.39" fill="#a8cbe5"/>
<rect x="466.55" y="101.66" width="9.92" height="3.39" fill="#f9e1d5"/>
<rect x="476.42" y="101.66" width="9.92" height="3.39" fill="#f9e6dc"/>
<rect x="486.3" y="101.66" width="9.92" height="3.39" fill="#f8ebe4"/>
<rect x="496.17" y="101.66" width="9.92" height="3.39" fill="#f6b89c"/>
<rect x="506.05" y="101.66" width="9.92" height="3.39" fill="#f8c7ae"/>
<rect x="515.92" y="101.66" width="9.92" height="3.39" fill="#f4a785"/>
<rect x="407.3" y="105" width="9.92" height="3.39" fill="#4a8dc5"/>
<rect x="417.18" y="105" width="9.92" height="3.39" fill="#4a8dc5"/>
<rect x="427.05" y="105" width="9.92" height="3.39" fill="#5a9bcd"/>
<rect x="436.93" y="105" width="9.92" height="3.39" fill="#e6eef5"/>
<rect x="446.8" y="105" width="9.92" height="3.39" fill="#e6eef5"/>
<rect x="456.67" y="105" width="9.92" height="3.39" fill="#e6eef5"/>
<rect x="466.55" y="105" width="9.92" height="3.39" fill="#eef1f5"/>
<rect x="476.42" y="105" width="9.92" height="3.39" fill="#f5f2f1"/>
<rect x="486.3" y="105" width="9.92" height="3.39" fill="#f8ebe4"/>
<rect x="496.17" y="105" width="9.92" height="3.39" fill="#f09474"/>
<rect x="506.05" y="105" width="9.92" height="3.39" fill="#f6b89c"/>
<rect x="515.92" y="105" width="9.92" height="3.39" fill="#f4a785"/>
<rect x="407.3" y="108.34" width="9.92" height="3.39" fill="#5a9bcd"/>
<rect x="417.18" y="108.34" width="9.92" height="3.39" fill="#4a8dc5"/>
<rect x="427.05" y="108.34" width="9.92" height="3.39" fill="#7db3da"/>
<rect x="436.93" y="108.34" width="9.92" height="3.39" fill="#c6ddee"/>
<rect x="446.8" y="108.34" width="9.92" height="3.39" fill="#c6ddee"/>
<rect x="456.67" y="108.34" width="9.92" height="3.39" fill="#e6eef5"/>
<rect x="466.55" y="108.34" width="9.92" height="3.39" fill="#f9e6dc"/>
<rect x="476.42" y="108.34" width="9.92" height="3.39" fill="#f9e1d5"/>
<rect x="486.3" y="108.34" width="9.92" height="3.39" fill="#f8ebe4"/>
<rect x="496.17" y="108.34" width="9.92" height="3.39" fill="#f6b89c"/>
<rect x="506.05" y="108.34" width="9.92" height="3.39" fill="#ec8a6a"/>
<rect x="515.92" y="108.34" width="9.92" height="3.39" fill="#f4a785"/>
<rect x="407.3" y="111.69" width="9.92" height="3.39" fill="#7db3da"/>
<rect x="417.18" y="111.69" width="9.92" height="3.39" fill="#5a9bcd"/>
<rect x="427.05" y="111.69" width="9.92" height="3.39" fill="#5a9bcd"/>
<rect x="436.93" y="111.69" width="9.92" height="3.39" fill="#c6ddee"/>
<rect x="446.8" y="111.69" width="9.92" height="3.39" fill="#d1e4f1"/>
<rect x="456.67" y="111.69" width="9.92" height="3.39" fill="#e6eef5"/>
<rect x="466.55" y="111.69" width="9.92" height="3.39" fill="#eef1f5"/>
<rect x="476.42" y="111.69" width="9.92" height="3.39" fill="#e6eef5"/>
<rect x="486.3" y="111.69" width="9.92" height="3.39" fill="#f1f2f4"/>
<rect x="496.17" y="111.69" width="9.92" height="3.39" fill="#f4a785"/>
<rect x="506.05" y="111.69" width="9.92" height="3.39" fill="#ec8a6a"/>
<rect x="515.92" y="111.69" width="9.92" height="3.39" fill="#f4a785"/>
<rect x="407.3" y="115.03" width="9.92" height="3.39" fill="#7db3da"/>
<rect x="417.18" y="115.03" width="9.92" height="3.39" fill="#5a9bcd"/>
<rect x="427.05" y="115.03" width="9.92" height="3.39" fill="#a8cbe5"/>
<rect x="436.93" y="115.03" width="9.92" height="3.39" fill="#6aa6d3"/>
<rect x="446.8" y="115.03" width="9.92" height="3.39" fill="#86b8dc"/>
<rect x="456.67" y="115.03" width="9.92" height="3.39" fill="#a8cbe5"/>
<rect x="466.55" y="115.03" width="9.92" height="3.39" fill="#f9e1d5"/>
<rect x="476.42" y="115.03" width="9.92" height="3.39" fill="#f9e6dc"/>
<rect x="486.3" y="115.03" width="9.92" height="3.39" fill="#f9e6dc"/>
<rect x="496.17" y="115.03" width="9.92" height="3.39" fill="#f4a785"/>
<rect x="506.05" y="115.03" width="9.92" height="3.39" fill="#f5f2f1"/>
<rect x="515.92" y="115.03" width="9.92" height="3.39" fill="#f4a785"/>
<rect x="407.3" y="118.38" width="9.92" height="3.39" fill="#eef1f5"/>
<rect x="417.18" y="118.38" width="9.92" height="3.39" fill="#eef1f5"/>
<rect x="427.05" y="118.38" width="9.92" height="3.39" fill="#eef1f5"/>
<rect x="436.93" y="118.38" width="9.92" height="3.39" fill="#86b8dc"/>
<rect x="446.8" y="118.38" width="9.92" height="3.39" fill="#2e72b4"/>
<rect x="456.67" y="118.38" width="9.92" height="3.39" fill="#4a8dc5"/>
<rect x="466.55" y="118.38" width="9.92" height="3.39" fill="#dce8f3"/>
<rect x="476.42" y="118.38" width="9.92" height="3.39" fill="#eef1f5"/>
<rect x="486.3" y="118.38" width="9.92" height="3.39" fill="#f8ebe4"/>
<rect x="496.17" y="118.38" width="9.92" height="3.39" fill="#f6b89c"/>
<rect x="506.05" y="118.38" width="9.92" height="3.39" fill="#f6b89c"/>
<rect x="515.92" y="118.38" width="9.92" height="3.39" fill="#f8c7ae"/>
<rect x="407.3" y="121.72" width="9.92" height="3.39" fill="#a8cbe5"/>
<rect x="417.18" y="121.72" width="9.92" height="3.39" fill="#a8cbe5"/>
<rect x="427.05" y="121.72" width="9.92" height="3.39" fill="#a8cbe5"/>
<rect x="436.93" y="121.72" width="9.92" height="3.39" fill="#a8cbe5"/>
<rect x="446.8" y="121.72" width="9.92" height="3.39" fill="#8fbee0"/>
<rect x="456.67" y="121.72" width="9.92" height="3.39" fill="#5a9bcd"/>
<rect x="466.55" y="121.72" width="9.92" height="3.39" fill="#e6eef5"/>
<rect x="476.42" y="121.72" width="9.92" height="3.39" fill="#dce8f3"/>
<rect x="486.3" y="121.72" width="9.92" height="3.39" fill="#f9e6dc"/>
<rect x="496.17" y="121.72" width="9.92" height="3.39" fill="#f8f0ec"/>
<rect x="506.05" y="121.72" width="9.92" height="3.39" fill="#f6b89c"/>
<rect x="515.92" y="121.72" width="9.92" height="3.39" fill="#c0202f"/>
<rect x="407.3" y="125.06" width="9.92" height="3.39" fill="#3b82bf"/>
<rect x="417.18" y="125.06" width="9.92" height="3.39" fill="#2e72b4"/>
<rect x="427.05" y="125.06" width="9.92" height="3.39" fill="#4a8dc5"/>
<rect x="436.93" y="125.06" width="9.92" height="3.39" fill="#f1f2f4"/>
<rect x="446.8" y="125.06" width="9.92" height="3.39" fill="#f1f2f4"/>
<rect x="456.67" y="125.06" width="9.92" height="3.39" fill="#e6eef5"/>
<rect x="466.55" y="125.06" width="9.92" height="3.39" fill="#f9e1d5"/>
<rect x="476.42" y="125.06" width="9.92" height="3.39" fill="#f9e6dc"/>
<rect x="486.3" y="125.06" width="9.92" height="3.39" fill="#f9e1d5"/>
<rect x="496.17" y="125.06" width="9.92" height="3.39" fill="#f8f0ec"/>
<rect x="506.05" y="125.06" width="9.92" height="3.39" fill="#f9e1d5"/>
<rect x="515.92" y="125.06" width="9.92" height="3.39" fill="#f9e1d5"/>
<rect x="407.3" y="128.41" width="9.92" height="3.39" fill="#3b82bf"/>
<rect x="417.18" y="128.41" width="9.92" height="3.39" fill="#3b82bf"/>
<rect x="427.05" y="128.41" width="9.92" height="3.39" fill="#3b82bf"/>
<rect x="436.93" y="128.41" width="9.92" height="3.39" fill="#f9e1d5"/>
<rect x="446.8" y="128.41" width="9.92" height="3.39" fill="#f9e6dc"/>
<rect x="456.67" y="128.41" width="9.92" height="3.39" fill="#f8ebe4"/>
<rect x="466.55" y="128.41" width="9.92" height="3.39" fill="#f9e6dc"/>
<rect x="476.42" y="128.41" width="9.92" height="3.39" fill="#f9e6dc"/>
<rect x="486.3" y="128.41" width="9.92" height="3.39" fill="#eef1f5"/>
<rect x="496.17" y="128.41" width="9.92" height="3.39" fill="#f9e1d5"/>
<rect x="506.05" y="128.41" width="9.92" height="3.39" fill="#f8f0ec"/>
<rect x="515.92" y="128.41" width="9.92" height="3.39" fill="#f8ebe4"/>
<rect x="407.3" y="131.75" width="9.92" height="3.39" fill="#3b82bf"/>
<rect x="417.18" y="131.75" width="9.92" height="3.39" fill="#3b82bf"/>
<rect x="427.05" y="131.75" width="9.92" height="3.39" fill="#3b82bf"/>
<rect x="436.93" y="131.75" width="9.92" height="3.39" fill="#f9e1d5"/>
<rect x="446.8" y="131.75" width="9.92" height="3.39" fill="#f4a785"/>
<rect x="456.67" y="131.75" width="9.92" height="3.39" fill="#f8ebe4"/>
<rect x="466.55" y="131.75" width="9.92" height="3.39" fill="#e6eef5"/>
<rect x="476.42" y="131.75" width="9.92" height="3.39" fill="#e6eef5"/>
<rect x="486.3" y="131.75" width="9.92" height="3.39" fill="#eef1f5"/>
<rect x="496.17" y="131.75" width="9.92" height="3.39" fill="#f8ebe4"/>
<rect x="506.05" y="131.75" width="9.92" height="3.39" fill="#f8ebe4"/>
<rect x="515.92" y="131.75" width="9.92" height="3.39" fill="#f8ebe4"/>
<rect x="407.3" y="135.1" width="9.92" height="3.39" fill="#a8cbe5"/>
<rect x="417.18" y="135.1" width="9.92" height="3.39" fill="#a8cbe5"/>
<rect x="427.05" y="135.1" width="9.92" height="3.39" fill="#8fbee0"/>
<rect x="436.93" y="135.1" width="9.92" height="3.39" fill="#d9543f"/>
<rect x="446.8" y="135.1" width="9.92" height="3.39" fill="#f4a785"/>
<rect x="456.67" y="135.1" width="9.92" height="3.39" fill="#f8c7ae"/>
<rect x="466.55" y="135.1" width="9.92" height="3.39" fill="#c6ddee"/>
<rect x="476.42" y="135.1" width="9.92" height="3.39" fill="#c6ddee"/>
<rect x="486.3" y="135.1" width="9.92" height="3.39" fill="#a8cbe5"/>
<rect x="496.17" y="135.1" width="9.92" height="3.39" fill="#f1f2f4"/>
<rect x="506.05" y="135.1" width="9.92" height="3.39" fill="#eef1f5"/>
<rect x="515.92" y="135.1" width="9.92" height="3.39" fill="#f5f2f1"/>
<rect x="407.3" y="138.44" width="9.92" height="3.39" fill="#c6ddee"/>
<rect x="417.18" y="138.44" width="9.92" height="3.39" fill="#c6ddee"/>
<rect x="427.05" y="138.44" width="9.92" height="3.39" fill="#d1e4f1"/>
<rect x="436.93" y="138.44" width="9.92" height="3.39" fill="#ec8a6a"/>
<rect x="446.8" y="138.44" width="9.92" height="3.39" fill="#f9e1d5"/>
<rect x="456.67" y="138.44" width="9.92" height="3.39" fill="#f09474"/>
<rect x="466.55" y="138.44" width="9.92" height="3.39" fill="#4a8dc5"/>
<rect x="476.42" y="138.44" width="9.92" height="3.39" fill="#86b8dc"/>
<rect x="486.3" y="138.44" width="9.92" height="3.39" fill="#5a9bcd"/>
<rect x="496.17" y="138.44" width="9.92" height="3.39" fill="#f9e1d5"/>
<rect x="506.05" y="138.44" width="9.92" height="3.39" fill="#eef1f5"/>
<rect x="515.92" y="138.44" width="9.92" height="3.39" fill="#eef1f5"/>
<rect x="407.3" y="141.78" width="9.92" height="3.39" fill="#eef1f5"/>
<rect x="417.18" y="141.78" width="9.92" height="3.39" fill="#eef1f5"/>
<rect x="427.05" y="141.78" width="9.92" height="3.39" fill="#eef1f5"/>
<rect x="436.93" y="141.78" width="9.92" height="3.39" fill="#ec8a6a"/>
<rect x="446.8" y="141.78" width="9.92" height="3.39" fill="#e5704f"/>
<rect x="456.67" y="141.78" width="9.92" height="3.39" fill="#f4a785"/>
<rect x="466.55" y="141.78" width="9.92" height="3.39" fill="#c6ddee"/>
<rect x="476.42" y="141.78" width="9.92" height="3.39" fill="#c6ddee"/>
<rect x="486.3" y="141.78" width="9.92" height="3.39" fill="#d1e4f1"/>
<rect x="496.17" y="141.78" width="9.92" height="3.39" fill="#7db3da"/>
<rect x="506.05" y="141.78" width="9.92" height="3.39" fill="#7db3da"/>
<rect x="515.92" y="141.78" width="9.92" height="3.39" fill="#7db3da"/>
<rect x="407.3" y="145.13" width="9.92" height="3.39" fill="#e6eef5"/>
<rect x="417.18" y="145.13" width="9.92" height="3.39" fill="#e6eef5"/>
<rect x="427.05" y="145.13" width="9.92" height="3.39" fill="#d1e4f1"/>
<rect x="436.93" y="145.13" width="9.92" height="3.39" fill="#d9543f"/>
<rect x="446.8" y="145.13" width="9.92" height="3.39" fill="#d9543f"/>
<rect x="456.67" y="145.13" width="9.92" height="3.39" fill="#f4a785"/>
<rect x="466.55" y="145.13" width="9.92" height="3.39" fill="#a8cbe5"/>
<rect x="476.42" y="145.13" width="9.92" height="3.39" fill="#a8cbe5"/>
<rect x="486.3" y="145.13" width="9.92" height="3.39" fill="#a8cbe5"/>
<rect x="496.17" y="145.13" width="9.92" height="3.39" fill="#86b8dc"/>
<rect x="506.05" y="145.13" width="9.92" height="3.39" fill="#7db3da"/>
<rect x="515.92" y="145.13" width="9.92" height="3.39" fill="#86b8dc"/>
<rect x="407.3" y="148.47" width="9.92" height="3.39" fill="#ec8a6a"/>
<rect x="417.18" y="148.47" width="9.92" height="3.39" fill="#ec8a6a"/>
<rect x="427.05" y="148.47" width="9.92" height="3.39" fill="#f09474"/>
<rect x="436.93" y="148.47" width="9.92" height="3.39" fill="#f1f2f4"/>
<rect x="446.8" y="148.47" width="9.92" height="3.39" fill="#dfe9f3"/>
<rect x="456.67" y="148.47" width="9.92" height="3.39" fill="#f1f2f4"/>
<rect x="466.55" y="148.47" width="9.92" height="3.39" fill="#d1e4f1"/>
<rect x="476.42" y="148.47" width="9.92" height="3.39" fill="#c6ddee"/>
<rect x="486.3" y="148.47" width="9.92" height="3.39" fill="#a8cbe5"/>
<rect x="496.17" y="148.47" width="9.92" height="3.39" fill="#eef1f5"/>
<rect x="506.05" y="148.47" width="9.92" height="3.39" fill="#86b8dc"/>
<rect x="515.92" y="148.47" width="9.92" height="3.39" fill="#86b8dc"/>
<rect x="407.3" y="151.82" width="9.92" height="3.39" fill="#f4a785"/>
<rect x="417.18" y="151.82" width="9.92" height="3.39" fill="#ec8a6a"/>
<rect x="427.05" y="151.82" width="9.92" height="3.39" fill="#f4a785"/>
<rect x="436.93" y="151.82" width="9.92" height="3.39" fill="#f9e1d5"/>
<rect x="446.8" y="151.82" width="9.92" height="3.39" fill="#f1f2f4"/>
<rect x="456.67" y="151.82" width="9.92" height="3.39" fill="#e6eef5"/>
<rect x="466.55" y="151.82" width="9.92" height="3.39" fill="#e6eef5"/>
<rect x="476.42" y="151.82" width="9.92" height="3.39" fill="#e6eef5"/>
<rect x="486.3" y="151.82" width="9.92" height="3.39" fill="#d1e4f1"/>
<rect x="496.17" y="151.82" width="9.92" height="3.39" fill="#a8cbe5"/>
<rect x="506.05" y="151.82" width="9.92" height="3.39" fill="#5a9bcd"/>
<rect x="515.92" y="151.82" width="9.92" height="3.39" fill="#5a9bcd"/>
<rect x="407.3" y="155.16" width="9.92" height="3.39" fill="#f6b89c"/>
<rect x="417.18" y="155.16" width="9.92" height="3.39" fill="#f4a785"/>
<rect x="427.05" y="155.16" width="9.92" height="3.39" fill="#f9d5c3"/>
<rect x="436.93" y="155.16" width="9.92" height="3.39" fill="#f9e1d5"/>
<rect x="446.8" y="155.16" width="9.92" height="3.39" fill="#f9dccc"/>
<rect x="456.67" y="155.16" width="9.92" height="3.39" fill="#f9e1d5"/>
<rect x="466.55" y="155.16" width="9.92" height="3.39" fill="#e6eef5"/>
<rect x="476.42" y="155.16" width="9.92" height="3.39" fill="#e6eef5"/>
<rect x="486.3" y="155.16" width="9.92" height="3.39" fill="#e6eef5"/>
<rect x="496.17" y="155.16" width="9.92" height="3.39" fill="#3b82bf"/>
<rect x="506.05" y="155.16" width="9.92" height="3.39" fill="#4a8dc5"/>
<rect x="515.92" y="155.16" width="9.92" height="3.39" fill="#4a8dc5"/>
<rect x="407.3" y="158.5" width="9.92" height="3.39" fill="#f4a785"/>
<rect x="417.18" y="158.5" width="9.92" height="3.39" fill="#ec8a6a"/>
<rect x="427.05" y="158.5" width="9.92" height="3.39" fill="#f9d5c3"/>
<rect x="436.93" y="158.5" width="9.92" height="3.39" fill="#f9e1d5"/>
<rect x="446.8" y="158.5" width="9.92" height="3.39" fill="#f9dccc"/>
<rect x="456.67" y="158.5" width="9.92" height="3.39" fill="#f9e1d5"/>
<rect x="466.55" y="158.5" width="9.92" height="3.39" fill="#eef1f5"/>
<rect x="476.42" y="158.5" width="9.92" height="3.39" fill="#e6eef5"/>
<rect x="486.3" y="158.5" width="9.92" height="3.39" fill="#e6eef5"/>
<rect x="496.17" y="158.5" width="9.92" height="3.39" fill="#4a8dc5"/>
<rect x="506.05" y="158.5" width="9.92" height="3.39" fill="#4a8dc5"/>
<rect x="515.92" y="158.5" width="9.92" height="3.39" fill="#4a8dc5"/>
<rect x="407.3" y="161.85" width="9.92" height="3.39" fill="#f8c7ae"/>
<rect x="417.18" y="161.85" width="9.92" height="3.39" fill="#f6b89c"/>
<rect x="427.05" y="161.85" width="9.92" height="3.39" fill="#f8c7ae"/>
<rect x="436.93" y="161.85" width="9.92" height="3.39" fill="#f9d5c3"/>
<rect x="446.8" y="161.85" width="9.92" height="3.39" fill="#f9dccc"/>
<rect x="456.67" y="161.85" width="9.92" height="3.39" fill="#f9d5c3"/>
<rect x="466.55" y="161.85" width="9.92" height="3.39" fill="#a8cbe5"/>
<rect x="476.42" y="161.85" width="9.92" height="3.39" fill="#a8cbe5"/>
<rect x="486.3" y="161.85" width="9.92" height="3.39" fill="#a8cbe5"/>
<rect x="496.17" y="161.85" width="9.92" height="3.39" fill="#6aa6d3"/>
<rect x="506.05" y="161.85" width="9.92" height="3.39" fill="#6aa6d3"/>
<rect x="515.92" y="161.85" width="9.92" height="3.39" fill="#6aa6d3"/>
<rect x="407.3" y="165.19" width="9.92" height="3.39" fill="#f8c7ae"/>
<rect x="417.18" y="165.19" width="9.92" height="3.39" fill="#f8c7ae"/>
<rect x="427.05" y="165.19" width="9.92" height="3.39" fill="#f4a785"/>
<rect x="436.93" y="165.19" width="9.92" height="3.39" fill="#f9d5c3"/>
<rect x="446.8" y="165.19" width="9.92" height="3.39" fill="#f9dccc"/>
<rect x="456.67" y="165.19" width="9.92" height="3.39" fill="#f9d5c3"/>
<rect x="466.55" y="165.19" width="9.92" height="3.39" fill="#a8cbe5"/>
<rect x="476.42" y="165.19" width="9.92" height="3.39" fill="#a8cbe5"/>
<rect x="486.3" y="165.19" width="9.92" height="3.39" fill="#a8cbe5"/>
<rect x="496.17" y="165.19" width="9.92" height="3.39" fill="#6aa6d3"/>
<rect x="506.05" y="165.19" width="9.92" height="3.39" fill="#a8cbe5"/>
<rect x="515.92" y="165.19" width="9.92" height="3.39" fill="#6aa6d3"/>
<rect x="407.3" y="168.54" width="9.92" height="3.39" fill="#f8c7ae"/>
<rect x="417.18" y="168.54" width="9.92" height="3.39" fill="#f6b89c"/>
<rect x="427.05" y="168.54" width="9.92" height="3.39" fill="#f4a785"/>
<rect x="436.93" y="168.54" width="9.92" height="3.39" fill="#f9dccc"/>
<rect x="446.8" y="168.54" width="9.92" height="3.39" fill="#f9dccc"/>
<rect x="456.67" y="168.54" width="9.92" height="3.39" fill="#f9dccc"/>
<rect x="466.55" y="168.54" width="9.92" height="3.39" fill="#a8cbe5"/>
<rect x="476.42" y="168.54" width="9.92" height="3.39" fill="#c6ddee"/>
<rect x="486.3" y="168.54" width="9.92" height="3.39" fill="#b7d4ea"/>
<rect x="496.17" y="168.54" width="9.92" height="3.39" fill="#4a8dc5"/>
<rect x="506.05" y="168.54" width="9.92" height="3.39" fill="#6aa6d3"/>
<rect x="515.92" y="168.54" width="9.92" height="3.39" fill="#6aa6d3"/>
<rect x="407.3" y="171.88" width="9.92" height="3.39" fill="#f8c7ae"/>
<rect x="417.18" y="171.88" width="9.92" height="3.39" fill="#f9d5c3"/>
<rect x="427.05" y="171.88" width="9.92" height="3.39" fill="#f9d5c3"/>
<rect x="436.93" y="171.88" width="9.92" height="3.39" fill="#f9dccc"/>
<rect x="446.8" y="171.88" width="9.92" height="3.39" fill="#f9e1d5"/>
<rect x="456.67" y="171.88" width="9.92" height="3.39" fill="#f6b89c"/>
<rect x="466.55" y="171.88" width="9.92" height="3.39" fill="#a8cbe5"/>
<rect x="476.42" y="171.88" width="9.92" height="3.39" fill="#b7d4ea"/>
<rect x="486.3" y="171.88" width="9.92" height="3.39" fill="#b7d4ea"/>
<rect x="496.17" y="171.88" width="9.92" height="3.39" fill="#4a8dc5"/>
<rect x="506.05" y="171.88" width="9.92" height="3.39" fill="#6aa6d3"/>
<rect x="515.92" y="171.88" width="9.92" height="3.39" fill="#6aa6d3"/>
<rect x="407.3" y="175.22" width="9.92" height="3.39" fill="#f8c7ae"/>
<rect x="417.18" y="175.22" width="9.92" height="3.39" fill="#f9d5c3"/>
<rect x="427.05" y="175.22" width="9.92" height="3.39" fill="#f9d5c3"/>
<rect x="436.93" y="175.22" width="9.92" height="3.39" fill="#f9dccc"/>
<rect x="446.8" y="175.22" width="9.92" height="3.39" fill="#f9e1d5"/>
<rect x="456.67" y="175.22" width="9.92" height="3.39" fill="#f9d5c3"/>
<rect x="466.55" y="175.22" width="9.92" height="3.39" fill="#a8cbe5"/>
<rect x="476.42" y="175.22" width="9.92" height="3.39" fill="#b7d4ea"/>
<rect x="486.3" y="175.22" width="9.92" height="3.39" fill="#b7d4ea"/>
<rect x="496.17" y="175.22" width="9.92" height="3.39" fill="#5a9bcd"/>
<rect x="506.05" y="175.22" width="9.92" height="3.39" fill="#6aa6d3"/>
<rect x="515.92" y="175.22" width="9.92" height="3.39" fill="#6aa6d3"/>
<rect x="407.3" y="178.57" width="9.92" height="3.39" fill="#f8c7ae"/>
<rect x="417.18" y="178.57" width="9.92" height="3.39" fill="#f9d5c3"/>
<rect x="427.05" y="178.57" width="9.92" height="3.39" fill="#f8c7ae"/>
<rect x="436.93" y="178.57" width="9.92" height="3.39" fill="#f9dccc"/>
<rect x="446.8" y="178.57" width="9.92" height="3.39" fill="#f9dccc"/>
<rect x="456.67" y="178.57" width="9.92" height="3.39" fill="#f9d5c3"/>
<rect x="466.55" y="178.57" width="9.92" height="3.39" fill="#a8cbe5"/>
<rect x="476.42" y="178.57" width="9.92" height="3.39" fill="#b7d4ea"/>
<rect x="486.3" y="178.57" width="9.92" height="3.39" fill="#b7d4ea"/>
<rect x="496.17" y="178.57" width="9.92" height="3.39" fill="#5a9bcd"/>
<rect x="506.05" y="178.57" width="9.92" height="3.39" fill="#5a9bcd"/>
<rect x="515.92" y="178.57" width="9.92" height="3.39" fill="#6aa6d3"/>
<rect x="407.3" y="181.91" width="9.92" height="3.39" fill="#f8c7ae"/>
<rect x="417.18" y="181.91" width="9.92" height="3.39" fill="#f9d5c3"/>
<rect x="427.05" y="181.91" width="9.92" height="3.39" fill="#f4a785"/>
<rect x="436.93" y="181.91" width="9.92" height="3.39" fill="#f9dccc"/>
<rect x="446.8" y="181.91" width="9.92" height="3.39" fill="#f9dccc"/>
<rect x="456.67" y="181.91" width="9.92" height="3.39" fill="#f9d5c3"/>
<rect x="466.55" y="181.91" width="9.92" height="3.39" fill="#a8cbe5"/>
<rect x="476.42" y="181.91" width="9.92" height="3.39" fill="#b7d4ea"/>
<rect x="486.3" y="181.91" width="9.92" height="3.39" fill="#b7d4ea"/>
<rect x="496.17" y="181.91" width="9.92" height="3.39" fill="#5a9bcd"/>
<rect x="506.05" y="181.91" width="9.92" height="3.39" fill="#5a9bcd"/>
<rect x="515.92" y="181.91" width="9.92" height="3.39" fill="#6aa6d3"/>
<rect x="407.3" y="185.26" width="9.92" height="3.39" fill="#f8c7ae"/>
<rect x="417.18" y="185.26" width="9.92" height="3.39" fill="#f8c7ae"/>
<rect x="427.05" y="185.26" width="9.92" height="3.39" fill="#f8c7ae"/>
<rect x="436.93" y="185.26" width="9.92" height="3.39" fill="#f9dccc"/>
<rect x="446.8" y="185.26" width="9.92" height="3.39" fill="#f9dccc"/>
<rect x="456.67" y="185.26" width="9.92" height="3.39" fill="#f9dccc"/>
<rect x="466.55" y="185.26" width="9.92" height="3.39" fill="#a8cbe5"/>
<rect x="476.42" y="185.26" width="9.92" height="3.39" fill="#a8cbe5"/>
<rect x="486.3" y="185.26" width="9.92" height="3.39" fill="#b7d4ea"/>
<rect x="496.17" y="185.26" width="9.92" height="3.39" fill="#6aa6d3"/>
<rect x="506.05" y="185.26" width="9.92" height="3.39" fill="#6aa6d3"/>
<rect x="515.92" y="185.26" width="9.92" height="3.39" fill="#6aa6d3"/>
<rect x="407.3" y="188.6" width="9.92" height="3.39" fill="#f4a785"/>
<rect x="417.18" y="188.6" width="9.92" height="3.39" fill="#f8c7ae"/>
<rect x="427.05" y="188.6" width="9.92" height="3.39" fill="#f9d5c3"/>
<rect x="436.93" y="188.6" width="9.92" height="3.39" fill="#f9dccc"/>
<rect x="446.8" y="188.6" width="9.92" height="3.39" fill="#f9dccc"/>
<rect x="456.67" y="188.6" width="9.92" height="3.39" fill="#f9dccc"/>
<rect x="466.55" y="188.6" width="9.92" height="3.39" fill="#b7d4ea"/>
<rect x="476.42" y="188.6" width="9.92" height="3.39" fill="#b7d4ea"/>
<rect x="486.3" y="188.6" width="9.92" height="3.39" fill="#c6ddee"/>
<rect x="496.17" y="188.6" width="9.92" height="3.39" fill="#5a9bcd"/>
<rect x="506.05" y="188.6" width="9.92" height="3.39" fill="#6aa6d3"/>
<rect x="515.92" y="188.6" width="9.92" height="3.39" fill="#6aa6d3"/>
<rect x="407.3" y="191.94" width="9.92" height="3.39" fill="#f4a785"/>
<rect x="417.18" y="191.94" width="9.92" height="3.39" fill="#f6b89c"/>
<rect x="427.05" y="191.94" width="9.92" height="3.39" fill="#f8c7ae"/>
<rect x="436.93" y="191.94" width="9.92" height="3.39" fill="#f9dccc"/>
<rect x="446.8" y="191.94" width="9.92" height="3.39" fill="#f9dccc"/>
<rect x="456.67" y="191.94" width="9.92" height="3.39" fill="#f9d5c3"/>
<rect x="466.55" y="191.94" width="9.92" height="3.39" fill="#b7d4ea"/>
<rect x="476.42" y="191.94" width="9.92" height="3.39" fill="#a8cbe5"/>
<rect x="486.3" y="191.94" width="9.92" height="3.39" fill="#b7d4ea"/>
<rect x="496.17" y="191.94" width="9.92" height="3.39" fill="#5a9bcd"/>
<rect x="506.05" y="191.94" width="9.92" height="3.39" fill="#6aa6d3"/>
<rect x="515.92" y="191.94" width="9.92" height="3.39" fill="#6aa6d3"/>
<rect x="407.3" y="195.29" width="9.92" height="3.39" fill="#f6b89c"/>
<rect x="417.18" y="195.29" width="9.92" height="3.39" fill="#f4a785"/>
<rect x="427.05" y="195.29" width="9.92" height="3.39" fill="#f9d5c3"/>
<rect x="436.93" y="195.29" width="9.92" height="3.39" fill="#f9dccc"/>
<rect x="446.8" y="195.29" width="9.92" height="3.39" fill="#f9dccc"/>
<rect x="456.67" y="195.29" width="9.92" height="3.39" fill="#f9d5c3"/>
<rect x="466.55" y="195.29" width="9.92" height="3.39" fill="#a8cbe5"/>
<rect x="476.42" y="195.29" width="9.92" height="3.39" fill="#a8cbe5"/>
<rect x="486.3" y="195.29" width="9.92" height="3.39" fill="#b7d4ea"/>
<rect x="496.17" y="195.29" width="9.92" height="3.39" fill="#5a9bcd"/>
<rect x="506.05" y="195.29" width="9.92" height="3.39" fill="#6aa6d3"/>
<rect x="515.92" y="195.29" width="9.92" height="3.39" fill="#6aa6d3"/>
<rect x="407.3" y="198.63" width="9.92" height="3.39" fill="#f8c7ae"/>
<rect x="417.18" y="198.63" width="9.92" height="3.39" fill="#f9d5c3"/>
<rect x="427.05" y="198.63" width="9.92" height="3.39" fill="#f8c7ae"/>
<rect x="436.93" y="198.63" width="9.92" height="3.39" fill="#f9dccc"/>
<rect x="446.8" y="198.63" width="9.92" height="3.39" fill="#f9dccc"/>
<rect x="456.67" y="198.63" width="9.92" height="3.39" fill="#f9dccc"/>
<rect x="466.55" y="198.63" width="9.92" height="3.39" fill="#8fbee0"/>
<rect x="476.42" y="198.63" width="9.92" height="3.39" fill="#b7d4ea"/>
<rect x="486.3" y="198.63" width="9.92" height="3.39" fill="#c6ddee"/>
<rect x="496.17" y="198.63" width="9.92" height="3.39" fill="#5a9bcd"/>
<rect x="506.05" y="198.63" width="9.92" height="3.39" fill="#6aa6d3"/>
<rect x="515.92" y="198.63" width="9.92" height="3.39" fill="#6aa6d3"/>
<rect x="407.3" y="201.98" width="9.92" height="3.39" fill="#f6b89c"/>
<rect x="417.18" y="201.98" width="9.92" height="3.39" fill="#f9d5c3"/>
<rect x="427.05" y="201.98" width="9.92" height="3.39" fill="#f4a785"/>
<rect x="436.93" y="201.98" width="9.92" height="3.39" fill="#f9e1d5"/>
<rect x="446.8" y="201.98" width="9.92" height="3.39" fill="#f9dccc"/>
<rect x="456.67" y="201.98" width="9.92" height="3.39" fill="#f9dccc"/>
<rect x="466.55" y="201.98" width="9.92" height="3.39" fill="#a8cbe5"/>
<rect x="476.42" y="201.98" width="9.92" height="3.39" fill="#b7d4ea"/>
<rect x="486.3" y="201.98" width="9.92" height="3.39" fill="#c6ddee"/>
<rect x="496.17" y="201.98" width="9.92" height="3.39" fill="#6aa6d3"/>
<rect x="506.05" y="201.98" width="9.92" height="3.39" fill="#6aa6d3"/>
<rect x="515.92" y="201.98" width="9.92" height="3.39" fill="#5a9bcd"/>
<rect x="407.3" y="205.32" width="9.92" height="3.39" fill="#f8c7ae"/>
<rect x="417.18" y="205.32" width="9.92" height="3.39" fill="#f9d5c3"/>
<rect x="427.05" y="205.32" width="9.92" height="3.39" fill="#f4a785"/>
<rect x="436.93" y="205.32" width="9.92" height="3.39" fill="#f9dccc"/>
<rect x="446.8" y="205.32" width="9.92" height="3.39" fill="#f9d5c3"/>
<rect x="456.67" y="205.32" width="9.92" height="3.39" fill="#f9dccc"/>
<rect x="466.55" y="205.32" width="9.92" height="3.39" fill="#b7d4ea"/>
<rect x="476.42" y="205.32" width="9.92" height="3.39" fill="#b7d4ea"/>
<rect x="486.3" y="205.32" width="9.92" height="3.39" fill="#b7d4ea"/>
<rect x="496.17" y="205.32" width="9.92" height="3.39" fill="#5a9bcd"/>
<rect x="506.05" y="205.32" width="9.92" height="3.39" fill="#5a9bcd"/>
<rect x="515.92" y="205.32" width="9.92" height="3.39" fill="#4a8dc5"/>
<rect x="407.3" y="208.66" width="9.92" height="3.39" fill="#f9dccc"/>
<rect x="417.18" y="208.66" width="9.92" height="3.39" fill="#f9d5c3"/>
<rect x="427.05" y="208.66" width="9.92" height="3.39" fill="#f8c7ae"/>
<rect x="436.93" y="208.66" width="9.92" height="3.39" fill="#f8c7ae"/>
<rect x="446.8" y="208.66" width="9.92" height="3.39" fill="#f8c7ae"/>
<rect x="456.67" y="208.66" width="9.92" height="3.39" fill="#f9d5c3"/>
<rect x="466.55" y="208.66" width="9.92" height="3.39" fill="#b7d4ea"/>
<rect x="476.42" y="208.66" width="9.92" height="3.39" fill="#c6ddee"/>
<rect x="486.3" y="208.66" width="9.92" height="3.39" fill="#b7d4ea"/>
<rect x="496.17" y="208.66" width="9.92" height="3.39" fill="#5a9bcd"/>
<rect x="506.05" y="208.66" width="9.92" height="3.39" fill="#5a9bcd"/>
<rect x="515.92" y="208.66" width="9.92" height="3.39" fill="#6aa6d3"/>
<rect x="407.3" y="212.01" width="9.92" height="3.39" fill="#f8c7ae"/>
<rect x="417.18" y="212.01" width="9.92" height="3.39" fill="#f9d5c3"/>
<rect x="427.05" y="212.01" width="9.92" height="3.39" fill="#f9dccc"/>
<rect x="436.93" y="212.01" width="9.92" height="3.39" fill="#f8c7ae"/>
<rect x="446.8" y="212.01" width="9.92" height="3.39" fill="#f8c7ae"/>
<rect x="456.67" y="212.01" width="9.92" height="3.39" fill="#f9d5c3"/>
<rect x="466.55" y="212.01" width="9.92" height="3.39" fill="#a8cbe5"/>
<rect x="476.42" y="212.01" width="9.92" height="3.39" fill="#b7d4ea"/>
<rect x="486.3" y="212.01" width="9.92" height="3.39" fill="#b7d4ea"/>
<rect x="496.17" y="212.01" width="9.92" height="3.39" fill="#5a9bcd"/>
<rect x="506.05" y="212.01" width="9.92" height="3.39" fill="#6aa6d3"/>
<rect x="515.92" y="212.01" width="9.92" height="3.39" fill="#6aa6d3"/>
<rect x="407.3" y="215.35" width="9.92" height="3.39" fill="#f8c7ae"/>
<rect x="417.18" y="215.35" width="9.92" height="3.39" fill="#f9d5c3"/>
<rect x="427.05" y="215.35" width="9.92" height="3.39" fill="#f9d5c3"/>
<rect x="436.93" y="215.35" width="9.92" height="3.39" fill="#f8c7ae"/>
<rect x="446.8" y="215.35" width="9.92" height="3.39" fill="#f8c7ae"/>
<rect x="456.67" y="215.35" width="9.92" height="3.39" fill="#f9d5c3"/>
<rect x="466.55" y="215.35" width="9.92" height="3.39" fill="#a8cbe5"/>
<rect x="476.42" y="215.35" width="9.92" height="3.39" fill="#a8cbe5"/>
<rect x="486.3" y="215.35" width="9.92" height="3.39" fill="#b7d4ea"/>
<rect x="496.17" y="215.35" width="9.92" height="3.39" fill="#5a9bcd"/>
<rect x="506.05" y="215.35" width="9.92" height="3.39" fill="#5a9bcd"/>
<rect x="515.92" y="215.35" width="9.92" height="3.39" fill="#7db3da"/>
<rect x="407.3" y="218.7" width="9.92" height="3.39" fill="#f9d5c3"/>
<rect x="417.18" y="218.7" width="9.92" height="3.39" fill="#f9d5c3"/>
<rect x="427.05" y="218.7" width="9.92" height="3.39" fill="#f9dccc"/>
<rect x="436.93" y="218.7" width="9.92" height="3.39" fill="#f6b89c"/>
<rect x="446.8" y="218.7" width="9.92" height="3.39" fill="#f8c7ae"/>
<rect x="456.67" y="218.7" width="9.92" height="3.39" fill="#f9d5c3"/>
<rect x="466.55" y="218.7" width="9.92" height="3.39" fill="#b7d4ea"/>
<rect x="476.42" y="218.7" width="9.92" height="3.39" fill="#a8cbe5"/>
<rect x="486.3" y="218.7" width="9.92" height="3.39" fill="#b7d4ea"/>
<rect x="496.17" y="218.7" width="9.92" height="3.39" fill="#5a9bcd"/>
<rect x="506.05" y="218.7" width="9.92" height="3.39" fill="#6aa6d3"/>
<rect x="515.92" y="218.7" width="9.92" height="3.39" fill="#7db3da"/>
<rect x="407.3" y="222.04" width="9.92" height="3.39" fill="#f8c7ae"/>
<rect x="417.18" y="222.04" width="9.92" height="3.39" fill="#f8c7ae"/>
<rect x="427.05" y="222.04" width="9.92" height="3.39" fill="#f9dccc"/>
<rect x="436.93" y="222.04" width="9.92" height="3.39" fill="#f8c7ae"/>
<rect x="446.8" y="222.04" width="9.92" height="3.39" fill="#f8c7ae"/>
<rect x="456.67" y="222.04" width="9.92" height="3.39" fill="#f9dccc"/>
<rect x="466.55" y="222.04" width="9.92" height="3.39" fill="#a8cbe5"/>
<rect x="476.42" y="222.04" width="9.92" height="3.39" fill="#b7d4ea"/>
<rect x="486.3" y="222.04" width="9.92" height="3.39" fill="#b7d4ea"/>
<rect x="496.17" y="222.04" width="9.92" height="3.39" fill="#4a8dc5"/>
<rect x="506.05" y="222.04" width="9.92" height="3.39" fill="#7db3da"/>
<rect x="515.92" y="222.04" width="9.92" height="3.39" fill="#5a9bcd"/>
<rect x="407.3" y="225.38" width="9.92" height="3.39" fill="#f8c7ae"/>
<rect x="417.18" y="225.38" width="9.92" height="3.39" fill="#f8c7ae"/>
<rect x="427.05" y="225.38" width="9.92" height="3.39" fill="#f9d5c3"/>
<rect x="436.93" y="225.38" width="9.92" height="3.39" fill="#f9dccc"/>
<rect x="446.8" y="225.38" width="9.92" height="3.39" fill="#f6b89c"/>
<rect x="456.67" y="225.38" width="9.92" height="3.39" fill="#f9d5c3"/>
<rect x="466.55" y="225.38" width="9.92" height="3.39" fill="#c6ddee"/>
<rect x="476.42" y="225.38" width="9.92" height="3.39" fill="#b7d4ea"/>
<rect x="486.3" y="225.38" width="9.92" height="3.39" fill="#b7d4ea"/>
<rect x="496.17" y="225.38" width="9.92" height="3.39" fill="#5a9bcd"/>
<rect x="506.05" y="225.38" width="9.92" height="3.39" fill="#5a9bcd"/>
<rect x="515.92" y="225.38" width="9.92" height="3.39" fill="#5a9bcd"/>
<rect x="407.3" y="228.73" width="9.92" height="3.39" fill="#f6b89c"/>
<rect x="417.18" y="228.73" width="9.92" height="3.39" fill="#f9d5c3"/>
<rect x="427.05" y="228.73" width="9.92" height="3.39" fill="#f9d5c3"/>
<rect x="436.93" y="228.73" width="9.92" height="3.39" fill="#f9dccc"/>
<rect x="446.8" y="228.73" width="9.92" height="3.39" fill="#f9dccc"/>
<rect x="456.67" y="228.73" width="9.92" height="3.39" fill="#f9d5c3"/>
<rect x="466.55" y="228.73" width="9.92" height="3.39" fill="#b7d4ea"/>
<rect x="476.42" y="228.73" width="9.92" height="3.39" fill="#b7d4ea"/>
<rect x="486.3" y="228.73" width="9.92" height="3.39" fill="#d1e4f1"/>
<rect x="496.17" y="228.73" width="9.92" height="3.39" fill="#5a9bcd"/>
<rect x="506.05" y="228.73" width="9.92" height="3.39" fill="#6aa6d3"/>
<rect x="515.92" y="228.73" width="9.92" height="3.39" fill="#5a9bcd"/>
<rect x="407.3" y="232.07" width="9.92" height="3.39" fill="#f6b89c"/>
<rect x="417.18" y="232.07" width="9.92" height="3.39" fill="#f9dccc"/>
<rect x="427.05" y="232.07" width="9.92" height="3.39" fill="#f9d5c3"/>
<rect x="436.93" y="232.07" width="9.92" height="3.39" fill="#f6b89c"/>
<rect x="446.8" y="232.07" width="9.92" height="3.39" fill="#f9e1d5"/>
<rect x="456.67" y="232.07" width="9.92" height="3.39" fill="#f8c7ae"/>
<rect x="466.55" y="232.07" width="9.92" height="3.39" fill="#b7d4ea"/>
<rect x="476.42" y="232.07" width="9.92" height="3.39" fill="#b7d4ea"/>
<rect x="486.3" y="232.07" width="9.92" height="3.39" fill="#c6ddee"/>
<rect x="496.17" y="232.07" width="9.92" height="3.39" fill="#5a9bcd"/>
<rect x="506.05" y="232.07" width="9.92" height="3.39" fill="#6aa6d3"/>
<rect x="515.92" y="232.07" width="9.92" height="3.39" fill="#5a9bcd"/>
<rect x="407.3" y="235.42" width="9.92" height="3.39" fill="#f6b89c"/>
<rect x="417.18" y="235.42" width="9.92" height="3.39" fill="#f9d5c3"/>
<rect x="427.05" y="235.42" width="9.92" height="3.39" fill="#f9d5c3"/>
<rect x="436.93" y="235.42" width="9.92" height="3.39" fill="#f9dccc"/>
<rect x="446.8" y="235.42" width="9.92" height="3.39" fill="#f9dccc"/>
<rect x="456.67" y="235.42" width="9.92" height="3.39" fill="#f9d5c3"/>
<rect x="466.55" y="235.42" width="9.92" height="3.39" fill="#c6ddee"/>
<rect x="476.42" y="235.42" width="9.92" height="3.39" fill="#b7d4ea"/>
<rect x="486.3" y="235.42" width="9.92" height="3.39" fill="#c6ddee"/>
<rect x="496.17" y="235.42" width="9.92" height="3.39" fill="#5a9bcd"/>
<rect x="506.05" y="235.42" width="9.92" height="3.39" fill="#6aa6d3"/>
<rect x="515.92" y="235.42" width="9.92" height="3.39" fill="#6aa6d3"/>
<rect x="407.3" y="238.76" width="9.92" height="3.39" fill="#f6b89c"/>
<rect x="417.18" y="238.76" width="9.92" height="3.39" fill="#f9d5c3"/>
<rect x="427.05" y="238.76" width="9.92" height="3.39" fill="#f9d5c3"/>
<rect x="436.93" y="238.76" width="9.92" height="3.39" fill="#f9dccc"/>
<rect x="446.8" y="238.76" width="9.92" height="3.39" fill="#f9dccc"/>
<rect x="456.67" y="238.76" width="9.92" height="3.39" fill="#f9d5c3"/>
<rect x="466.55" y="238.76" width="9.92" height="3.39" fill="#b7d4ea"/>
<rect x="476.42" y="238.76" width="9.92" height="3.39" fill="#b7d4ea"/>
<rect x="486.3" y="238.76" width="9.92" height="3.39" fill="#b7d4ea"/>
<rect x="496.17" y="238.76" width="9.92" height="3.39" fill="#5a9bcd"/>
<rect x="506.05" y="238.76" width="9.92" height="3.39" fill="#6aa6d3"/>
<rect x="515.92" y="238.76" width="9.92" height="3.39" fill="#6aa6d3"/>
<rect x="407.3" y="242.1" width="9.92" height="3.39" fill="#f9dccc"/>
<rect x="417.18" y="242.1" width="9.92" height="3.39" fill="#f8c7ae"/>
<rect x="427.05" y="242.1" width="9.92" height="3.39" fill="#f8c7ae"/>
<rect x="436.93" y="242.1" width="9.92" height="3.39" fill="#f9dccc"/>
<rect x="446.8" y="242.1" width="9.92" height="3.39" fill="#f9dccc"/>
<rect x="456.67" y="242.1" width="9.92" height="3.39" fill="#f9dccc"/>
<rect x="466.55" y="242.1" width="9.92" height="3.39" fill="#d1e4f1"/>
<rect x="476.42" y="242.1" width="9.92" height="3.39" fill="#e6eef5"/>
<rect x="486.3" y="242.1" width="9.92" height="3.39" fill="#d1e4f1"/>
<rect x="496.17" y="242.1" width="9.92" height="3.39" fill="#4a8dc5"/>
<rect x="506.05" y="242.1" width="9.92" height="3.39" fill="#3b82bf"/>
<rect x="515.92" y="242.1" width="9.92" height="3.39" fill="#4a8dc5"/>
<rect x="407.3" y="245.45" width="9.92" height="3.39" fill="#f8c7ae"/>
<rect x="417.18" y="245.45" width="9.92" height="3.39" fill="#f8c7ae"/>
<rect x="427.05" y="245.45" width="9.92" height="3.39" fill="#f8c7ae"/>
<rect x="436.93" y="245.45" width="9.92" height="3.39" fill="#f9dccc"/>
<rect x="446.8" y="245.45" width="9.92" height="3.39" fill="#f9d5c3"/>
<rect x="456.67" y="245.45" width="9.92" height="3.39" fill="#f9dccc"/>
<rect x="466.55" y="245.45" width="9.92" height="3.39" fill="#d1e4f1"/>
<rect x="476.42" y="245.45" width="9.92" height="3.39" fill="#c6ddee"/>
<rect x="486.3" y="245.45" width="9.92" height="3.39" fill="#d1e4f1"/>
<rect x="496.17" y="245.45" width="9.92" height="3.39" fill="#4a8dc5"/>
<rect x="506.05" y="245.45" width="9.92" height="3.39" fill="#4a8dc5"/>
<rect x="515.92" y="245.45" width="9.92" height="3.39" fill="#4a8dc5"/>
<rect x="407.3" y="248.79" width="9.92" height="3.39" fill="#f6b89c"/>
<rect x="417.18" y="248.79" width="9.92" height="3.39" fill="#f8c7ae"/>
<rect x="427.05" y="248.79" width="9.92" height="3.39" fill="#f8c7ae"/>
<rect x="436.93" y="248.79" width="9.92" height="3.39" fill="#f9dccc"/>
<rect x="446.8" y="248.79" width="9.92" height="3.39" fill="#f9d5c3"/>
<rect x="456.67" y="248.79" width="9.92" height="3.39" fill="#f9dccc"/>
<rect x="466.55" y="248.79" width="9.92" height="3.39" fill="#d1e4f1"/>
<rect x="476.42" y="248.79" width="9.92" height="3.39" fill="#d1e4f1"/>
<rect x="486.3" y="248.79" width="9.92" height="3.39" fill="#d1e4f1"/>
<rect x="496.17" y="248.79" width="9.92" height="3.39" fill="#4a8dc5"/>
<rect x="506.05" y="248.79" width="9.92" height="3.39" fill="#4a8dc5"/>
<rect x="515.92" y="248.79" width="9.92" height="3.39" fill="#5a9bcd"/>
<rect x="407.3" y="252.14" width="9.92" height="3.39" fill="#f8c7ae"/>
<rect x="417.18" y="252.14" width="9.92" height="3.39" fill="#f8c7ae"/>
<rect x="427.05" y="252.14" width="9.92" height="3.39" fill="#f8c7ae"/>
<rect x="436.93" y="252.14" width="9.92" height="3.39" fill="#f9dccc"/>
<rect x="446.8" y="252.14" width="9.92" height="3.39" fill="#f9d5c3"/>
<rect x="456.67" y="252.14" width="9.92" height="3.39" fill="#f9dccc"/>
<rect x="466.55" y="252.14" width="9.92" height="3.39" fill="#d1e4f1"/>
<rect x="476.42" y="252.14" width="9.92" height="3.39" fill="#d1e4f1"/>
<rect x="486.3" y="252.14" width="9.92" height="3.39" fill="#d1e4f1"/>
<rect x="496.17" y="252.14" width="9.92" height="3.39" fill="#4a8dc5"/>
<rect x="506.05" y="252.14" width="9.92" height="3.39" fill="#4a8dc5"/>
<rect x="515.92" y="252.14" width="9.92" height="3.39" fill="#4a8dc5"/>
<rect x="407.3" y="255.48" width="9.92" height="3.39" fill="#f8c7ae"/>
<rect x="417.18" y="255.48" width="9.92" height="3.39" fill="#f9d5c3"/>
<rect x="427.05" y="255.48" width="9.92" height="3.39" fill="#f6b89c"/>
<rect x="436.93" y="255.48" width="9.92" height="3.39" fill="#f9dccc"/>
<rect x="446.8" y="255.48" width="9.92" height="3.39" fill="#f9d5c3"/>
<rect x="456.67" y="255.48" width="9.92" height="3.39" fill="#f9dccc"/>
<rect x="466.55" y="255.48" width="9.92" height="3.39" fill="#d1e4f1"/>
<rect x="476.42" y="255.48" width="9.92" height="3.39" fill="#d1e4f1"/>
<rect x="486.3" y="255.48" width="9.92" height="3.39" fill="#d1e4f1"/>
<rect x="496.17" y="255.48" width="9.92" height="3.39" fill="#4a8dc5"/>
<rect x="506.05" y="255.48" width="9.92" height="3.39" fill="#4a8dc5"/>
<rect x="515.92" y="255.48" width="9.92" height="3.39" fill="#4a8dc5"/>
<rect x="407.3" y="258.82" width="9.92" height="3.39" fill="#f9dccc"/>
<rect x="417.18" y="258.82" width="9.92" height="3.39" fill="#f9dccc"/>
<rect x="427.05" y="258.82" width="9.92" height="3.39" fill="#f9dccc"/>
<rect x="436.93" y="258.82" width="9.92" height="3.39" fill="#f9d5c3"/>
<rect x="446.8" y="258.82" width="9.92" height="3.39" fill="#f4a785"/>
<rect x="456.67" y="258.82" width="9.92" height="3.39" fill="#f8c7ae"/>
<rect x="466.55" y="258.82" width="9.92" height="3.39" fill="#e6eef5"/>
<rect x="476.42" y="258.82" width="9.92" height="3.39" fill="#d1e4f1"/>
<rect x="486.3" y="258.82" width="9.92" height="3.39" fill="#d1e4f1"/>
<rect x="496.17" y="258.82" width="9.92" height="3.39" fill="#5a9bcd"/>
<rect x="506.05" y="258.82" width="9.92" height="3.39" fill="#4a8dc5"/>
<rect x="515.92" y="258.82" width="9.92" height="3.39" fill="#4a8dc5"/>
<rect x="407.3" y="262.17" width="9.92" height="3.39" fill="#f9dccc"/>
<rect x="417.18" y="262.17" width="9.92" height="3.39" fill="#f9dccc"/>
<rect x="427.05" y="262.17" width="9.92" height="3.39" fill="#f9dccc"/>
<rect x="436.93" y="262.17" width="9.92" height="3.39" fill="#f9d5c3"/>
<rect x="446.8" y="262.17" width="9.92" height="3.39" fill="#f9d5c3"/>
<rect x="456.67" y="262.17" width="9.92" height="3.39" fill="#f9d5c3"/>
<rect x="466.55" y="262.17" width="9.92" height="3.39" fill="#d1e4f1"/>
<rect x="476.42" y="262.17" width="9.92" height="3.39" fill="#d1e4f1"/>
<rect x="486.3" y="262.17" width="9.92" height="3.39" fill="#e6eef5"/>
<rect x="496.17" y="262.17" width="9.92" height="3.39" fill="#4a8dc5"/>
<rect x="506.05" y="262.17" width="9.92" height="3.39" fill="#4a8dc5"/>
<rect x="515.92" y="262.17" width="9.92" height="3.39" fill="#4a8dc5"/>
<rect x="407.3" y="265.51" width="9.92" height="3.39" fill="#f9dccc"/>
<rect x="417.18" y="265.51" width="9.92" height="3.39" fill="#f9dccc"/>
<rect x="427.05" y="265.51" width="9.92" height="3.39" fill="#f9dccc"/>
<rect x="436.93" y="265.51" width="9.92" height="3.39" fill="#f8c7ae"/>
<rect x="446.8" y="265.51" width="9.92" height="3.39" fill="#f8c7ae"/>
<rect x="456.67" y="265.51" width="9.92" height="3.39" fill="#e8785b"/>
<rect x="466.55" y="265.51" width="9.92" height="3.39" fill="#d1e4f1"/>
<rect x="476.42" y="265.51" width="9.92" height="3.39" fill="#d1e4f1"/>
<rect x="486.3" y="265.51" width="9.92" height="3.39" fill="#d1e4f1"/>
<rect x="496.17" y="265.51" width="9.92" height="3.39" fill="#4a8dc5"/>
<rect x="506.05" y="265.51" width="9.92" height="3.39" fill="#5a9bcd"/>
<rect x="515.92" y="265.51" width="9.92" height="3.39" fill="#5a9bcd"/>
<rect x="407.3" y="268.86" width="9.92" height="3.39" fill="#f9dccc"/>
<rect x="417.18" y="268.86" width="9.92" height="3.39" fill="#f9dccc"/>
<rect x="427.05" y="268.86" width="9.92" height="3.39" fill="#f9dccc"/>
<rect x="436.93" y="268.86" width="9.92" height="3.39" fill="#f6b89c"/>
<rect x="446.8" y="268.86" width="9.92" height="3.39" fill="#f6b89c"/>
<rect x="456.67" y="268.86" width="9.92" height="3.39" fill="#f4a785"/>
<rect x="466.55" y="268.86" width="9.92" height="3.39" fill="#e6eef5"/>
<rect x="476.42" y="268.86" width="9.92" height="3.39" fill="#a8cbe5"/>
<rect x="486.3" y="268.86" width="9.92" height="3.39" fill="#a8cbe5"/>
<rect x="496.17" y="268.86" width="9.92" height="3.39" fill="#4a8dc5"/>
<rect x="506.05" y="268.86" width="9.92" height="3.39" fill="#5a9bcd"/>
<rect x="515.92" y="268.86" width="9.92" height="3.39" fill="#6aa6d3"/>
<rect x="407.3" y="272.2" width="9.92" height="3.39" fill="#ec8a6a"/>
<rect x="417.18" y="272.2" width="9.92" height="3.39" fill="#f09474"/>
<rect x="427.05" y="272.2" width="9.92" height="3.39" fill="#f09474"/>
<rect x="436.93" y="272.2" width="9.92" height="3.39" fill="#eef1f5"/>
<rect x="446.8" y="272.2" width="9.92" height="3.39" fill="#f1f2f4"/>
<rect x="456.67" y="272.2" width="9.92" height="3.39" fill="#eef1f5"/>
<rect x="466.55" y="272.2" width="9.92" height="3.39" fill="#b7d4ea"/>
<rect x="476.42" y="272.2" width="9.92" height="3.39" fill="#b7d4ea"/>
<rect x="486.3" y="272.2" width="9.92" height="3.39" fill="#b7d4ea"/>
<rect x="496.17" y="272.2" width="9.92" height="3.39" fill="#5a9bcd"/>
<rect x="506.05" y="272.2" width="9.92" height="3.39" fill="#6aa6d3"/>
<rect x="515.92" y="272.2" width="9.92" height="3.39" fill="#6aa6d3"/>
<rect x="407.3" y="275.54" width="9.92" height="3.39" fill="#f4a785"/>
<rect x="417.18" y="275.54" width="9.92" height="3.39" fill="#ec8a6a"/>
<rect x="427.05" y="275.54" width="9.92" height="3.39" fill="#ec8a6a"/>
<rect x="436.93" y="275.54" width="9.92" height="3.39" fill="#f1f2f4"/>
<rect x="446.8" y="275.54" width="9.92" height="3.39" fill="#f1f2f4"/>
<rect x="456.67" y="275.54" width="9.92" height="3.39" fill="#f1f2f4"/>
<rect x="466.55" y="275.54" width="9.92" height="3.39" fill="#b7d4ea"/>
<rect x="476.42" y="275.54" width="9.92" height="3.39" fill="#b7d4ea"/>
<rect x="486.3" y="275.54" width="9.92" height="3.39" fill="#a8cbe5"/>
<rect x="496.17" y="275.54" width="9.92" height="3.39" fill="#6aa6d3"/>
<rect x="506.05" y="275.54" width="9.92" height="3.39" fill="#7db3da"/>
<rect x="515.92" y="275.54" width="9.92" height="3.39" fill="#6aa6d3"/>
<rect x="407.3" y="278.89" width="9.92" height="3.39" fill="#f4a785"/>
<rect x="417.18" y="278.89" width="9.92" height="3.39" fill="#f09474"/>
<rect x="427.05" y="278.89" width="9.92" height="3.39" fill="#f09474"/>
<rect x="436.93" y="278.89" width="9.92" height="3.39" fill="#f9e1d5"/>
<rect x="446.8" y="278.89" width="9.92" height="3.39" fill="#f9dccc"/>
<rect x="456.67" y="278.89" width="9.92" height="3.39" fill="#f9e1d5"/>
<rect x="466.55" y="278.89" width="9.92" height="3.39" fill="#a8cbe5"/>
<rect x="476.42" y="278.89" width="9.92" height="3.39" fill="#a8cbe5"/>
<rect x="486.3" y="278.89" width="9.92" height="3.39" fill="#a8cbe5"/>
<rect x="496.17" y="278.89" width="9.92" height="3.39" fill="#7db3da"/>
<rect x="506.05" y="278.89" width="9.92" height="3.39" fill="#7db3da"/>
<rect x="515.92" y="278.89" width="9.92" height="3.39" fill="#7db3da"/>
<rect x="407.3" y="282.23" width="9.92" height="3.39" fill="#f4a785"/>
<rect x="417.18" y="282.23" width="9.92" height="3.39" fill="#f09474"/>
<rect x="427.05" y="282.23" width="9.92" height="3.39" fill="#ec8a6a"/>
<rect x="436.93" y="282.23" width="9.92" height="3.39" fill="#f9e1d5"/>
<rect x="446.8" y="282.23" width="9.92" height="3.39" fill="#f9dccc"/>
<rect x="456.67" y="282.23" width="9.92" height="3.39" fill="#eef1f5"/>
<rect x="466.55" y="282.23" width="9.92" height="3.39" fill="#e6eef5"/>
<rect x="476.42" y="282.23" width="9.92" height="3.39" fill="#b7d4ea"/>
<rect x="486.3" y="282.23" width="9.92" height="3.39" fill="#a8cbe5"/>
<rect x="496.17" y="282.23" width="9.92" height="3.39" fill="#86b8dc"/>
<rect x="506.05" y="282.23" width="9.92" height="3.39" fill="#5a9bcd"/>
<rect x="515.92" y="282.23" width="9.92" height="3.39" fill="#a8cbe5"/>
<rect x="407.3" y="285.58" width="9.92" height="3.39" fill="#f4a785"/>
<rect x="417.18" y="285.58" width="9.92" height="3.39" fill="#f09474"/>
<rect x="427.05" y="285.58" width="9.92" height="3.39" fill="#f09474"/>
<rect x="436.93" y="285.58" width="9.92" height="3.39" fill="#f9e1d5"/>
<rect x="446.8" y="285.58" width="9.92" height="3.39" fill="#f9dccc"/>
<rect x="456.67" y="285.58" width="9.92" height="3.39" fill="#f9e1d5"/>
<rect x="466.55" y="285.58" width="9.92" height="3.39" fill="#5a9bcd"/>
<rect x="476.42" y="285.58" width="9.92" height="3.39" fill="#b7d4ea"/>
<rect x="486.3" y="285.58" width="9.92" height="3.39" fill="#a8cbe5"/>
<rect x="496.17" y="285.58" width="9.92" height="3.39" fill="#c6ddee"/>
<rect x="506.05" y="285.58" width="9.92" height="3.39" fill="#86b8dc"/>
<rect x="515.92" y="285.58" width="9.92" height="3.39" fill="#86b8dc"/>
<rect x="407.3" y="288.92" width="9.92" height="3.39" fill="#f4a785"/>
<rect x="417.18" y="288.92" width="9.92" height="3.39" fill="#f9d5c3"/>
<rect x="427.05" y="288.92" width="9.92" height="3.39" fill="#f4a785"/>
<rect x="436.93" y="288.92" width="9.92" height="3.39" fill="#f9e1d5"/>
<rect x="446.8" y="288.92" width="9.92" height="3.39" fill="#f9dccc"/>
<rect x="456.67" y="288.92" width="9.92" height="3.39" fill="#f9dccc"/>
<rect x="466.55" y="288.92" width="9.92" height="3.39" fill="#b7d4ea"/>
<rect x="476.42" y="288.92" width="9.92" height="3.39" fill="#a8cbe5"/>
<rect x="486.3" y="288.92" width="9.92" height="3.39" fill="#c6ddee"/>
<rect x="496.17" y="288.92" width="9.92" height="3.39" fill="#6aa6d3"/>
<rect x="506.05" y="288.92" width="9.92" height="3.39" fill="#6aa6d3"/>
<rect x="515.92" y="288.92" width="9.92" height="3.39" fill="#6aa6d3"/>
<rect x="407.3" y="292.26" width="9.92" height="3.39" fill="#f09474"/>
<rect x="417.18" y="292.26" width="9.92" height="3.39" fill="#f8c7ae"/>
<rect x="427.05" y="292.26" width="9.92" height="3.39" fill="#f4a785"/>
<rect x="436.93" y="292.26" width="9.92" height="3.39" fill="#f9e1d5"/>
<rect x="446.8" y="292.26" width="9.92" height="3.39" fill="#f9dccc"/>
<rect x="456.67" y="292.26" width="9.92" height="3.39" fill="#f9dccc"/>
<rect x="466.55" y="292.26" width="9.92" height="3.39" fill="#a8cbe5"/>
<rect x="476.42" y="292.26" width="9.92" height="3.39" fill="#a8cbe5"/>
<rect x="486.3" y="292.26" width="9.92" height="3.39" fill="#b7d4ea"/>
<rect x="496.17" y="292.26" width="9.92" height="3.39" fill="#6aa6d3"/>
<rect x="506.05" y="292.26" width="9.92" height="3.39" fill="#6aa6d3"/>
<rect x="515.92" y="292.26" width="9.92" height="3.39" fill="#6aa6d3"/>
<rect x="407.3" y="295.61" width="9.92" height="3.39" fill="#f4a785"/>
<rect x="417.18" y="295.61" width="9.92" height="3.39" fill="#f4a785"/>
<rect x="427.05" y="295.61" width="9.92" height="3.39" fill="#f8c7ae"/>
<rect x="436.93" y="295.61" width="9.92" height="3.39" fill="#f9e1d5"/>
<rect x="446.8" y="295.61" width="9.92" height="3.39" fill="#f9dccc"/>
<rect x="456.67" y="295.61" width="9.92" height="3.39" fill="#f9d5c3"/>
<rect x="466.55" y="295.61" width="9.92" height="3.39" fill="#a8cbe5"/>
<rect x="476.42" y="295.61" width="9.92" height="3.39" fill="#b7d4ea"/>
<rect x="486.3" y="295.61" width="9.92" height="3.39" fill="#b7d4ea"/>
<rect x="496.17" y="295.61" width="9.92" height="3.39" fill="#6aa6d3"/>
<rect x="506.05" y="295.61" width="9.92" height="3.39" fill="#6aa6d3"/>
<rect x="515.92" y="295.61" width="9.92" height="3.39" fill="#6aa6d3"/>
<rect x="407.3" y="298.95" width="9.92" height="3.39" fill="#f4a785"/>
<rect x="417.18" y="298.95" width="9.92" height="3.39" fill="#f4a785"/>
<rect x="427.05" y="298.95" width="9.92" height="3.39" fill="#f8c7ae"/>
<rect x="436.93" y="298.95" width="9.92" height="3.39" fill="#f9e1d5"/>
<rect x="446.8" y="298.95" width="9.92" height="3.39" fill="#f9dccc"/>
<rect x="456.67" y="298.95" width="9.92" height="3.39" fill="#f9d5c3"/>
<rect x="466.55" y="298.95" width="9.92" height="3.39" fill="#a8cbe5"/>
<rect x="476.42" y="298.95" width="9.92" height="3.39" fill="#a8cbe5"/>
<rect x="486.3" y="298.95" width="9.92" height="3.39" fill="#b7d4ea"/>
<rect x="496.17" y="298.95" width="9.92" height="3.39" fill="#6aa6d3"/>
<rect x="506.05" y="298.95" width="9.92" height="3.39" fill="#6aa6d3"/>
<rect x="515.92" y="298.95" width="9.92" height="3.39" fill="#7db3da"/>
<rect x="407.3" y="302.3" width="9.92" height="3.39" fill="#f4a785"/>
<rect x="417.18" y="302.3" width="9.92" height="3.39" fill="#f6b89c"/>
<rect x="427.05" y="302.3" width="9.92" height="3.39" fill="#f8c7ae"/>
<rect x="436.93" y="302.3" width="9.92" height="3.39" fill="#f9e1d5"/>
<rect x="446.8" y="302.3" width="9.92" height="3.39" fill="#f9dccc"/>
<rect x="456.67" y="302.3" width="9.92" height="3.39" fill="#f9d5c3"/>
<rect x="466.55" y="302.3" width="9.92" height="3.39" fill="#a8cbe5"/>
<rect x="476.42" y="302.3" width="9.92" height="3.39" fill="#b7d4ea"/>
<rect x="486.3" y="302.3" width="9.92" height="3.39" fill="#b7d4ea"/>
<rect x="496.17" y="302.3" width="9.92" height="3.39" fill="#6aa6d3"/>
<rect x="506.05" y="302.3" width="9.92" height="3.39" fill="#5a9bcd"/>
<rect x="515.92" y="302.3" width="9.92" height="3.39" fill="#7db3da"/>
<rect x="407.3" y="305.64" width="9.92" height="3.39" fill="#ec8a6a"/>
<rect x="417.18" y="305.64" width="9.92" height="3.39" fill="#f6b89c"/>
<rect x="427.05" y="305.64" width="9.92" height="3.39" fill="#f4a785"/>
<rect x="436.93" y="305.64" width="9.92" height="3.39" fill="#f9e1d5"/>
<rect x="446.8" y="305.64" width="9.92" height="3.39" fill="#f9dccc"/>
<rect x="456.67" y="305.64" width="9.92" height="3.39" fill="#f9dccc"/>
<rect x="466.55" y="305.64" width="9.92" height="3.39" fill="#a8cbe5"/>
<rect x="476.42" y="305.64" width="9.92" height="3.39" fill="#a8cbe5"/>
<rect x="486.3" y="305.64" width="9.92" height="3.39" fill="#7db3da"/>
<rect x="496.17" y="305.64" width="9.92" height="3.39" fill="#6aa6d3"/>
<rect x="506.05" y="305.64" width="9.92" height="3.39" fill="#7db3da"/>
<rect x="515.92" y="305.64" width="9.92" height="3.39" fill="#7db3da"/>
<rect x="407.3" y="308.98" width="9.92" height="3.39" fill="#f4a785"/>
<rect x="417.18" y="308.98" width="9.92" height="3.39" fill="#f8c7ae"/>
<rect x="427.05" y="308.98" width="9.92" height="3.39" fill="#f09474"/>
<rect x="436.93" y="308.98" width="9.92" height="3.39" fill="#f9e1d5"/>
<rect x="446.8" y="308.98" width="9.92" height="3.39" fill="#f9dccc"/>
<rect x="456.67" y="308.98" width="9.92" height="3.39" fill="#f9dccc"/>
<rect x="466.55" y="308.98" width="9.92" height="3.39" fill="#a8cbe5"/>
<rect x="476.42" y="308.98" width="9.92" height="3.39" fill="#7db3da"/>
<rect x="486.3" y="308.98" width="9.92" height="3.39" fill="#a8cbe5"/>
<rect x="496.17" y="308.98" width="9.92" height="3.39" fill="#7db3da"/>
<rect x="506.05" y="308.98" width="9.92" height="3.39" fill="#7db3da"/>
<rect x="515.92" y="308.98" width="9.92" height="3.39" fill="#6aa6d3"/>
<rect x="407.3" y="312.33" width="9.92" height="3.39" fill="#f4a785"/>
<rect x="417.18" y="312.33" width="9.92" height="3.39" fill="#f6b89c"/>
<rect x="427.05" y="312.33" width="9.92" height="3.39" fill="#f4a785"/>
<rect x="436.93" y="312.33" width="9.92" height="3.39" fill="#f9e1d5"/>
<rect x="446.8" y="312.33" width="9.92" height="3.39" fill="#f9dccc"/>
<rect x="456.67" y="312.33" width="9.92" height="3.39" fill="#f9dccc"/>
<rect x="466.55" y="312.33" width="9.92" height="3.39" fill="#7db3da"/>
<rect x="476.42" y="312.33" width="9.92" height="3.39" fill="#7db3da"/>
<rect x="486.3" y="312.33" width="9.92" height="3.39" fill="#7db3da"/>
<rect x="496.17" y="312.33" width="9.92" height="3.39" fill="#7db3da"/>
<rect x="506.05" y="312.33" width="9.92" height="3.39" fill="#a8cbe5"/>
<rect x="515.92" y="312.33" width="9.92" height="3.39" fill="#7db3da"/>
<rect x="407.3" y="315.67" width="9.92" height="3.39" fill="#f4a785"/>
<rect x="417.18" y="315.67" width="9.92" height="3.39" fill="#f09474"/>
<rect x="427.05" y="315.67" width="9.92" height="3.39" fill="#f4a785"/>
<rect x="436.93" y="315.67" width="9.92" height="3.39" fill="#f9dccc"/>
<rect x="446.8" y="315.67" width="9.92" height="3.39" fill="#f9d5c3"/>
<rect x="456.67" y="315.67" width="9.92" height="3.39" fill="#f9d5c3"/>
<rect x="466.55" y="315.67" width="9.92" height="3.39" fill="#7db3da"/>
<rect x="476.42" y="315.67" width="9.92" height="3.39" fill="#7db3da"/>
<rect x="486.3" y="315.67" width="9.92" height="3.39" fill="#a8cbe5"/>
<rect x="496.17" y="315.67" width="9.92" height="3.39" fill="#a8cbe5"/>
<rect x="506.05" y="315.67" width="9.92" height="3.39" fill="#a8cbe5"/>
<rect x="515.92" y="315.67" width="9.92" height="3.39" fill="#7db3da"/>
<rect x="407.3" y="319.02" width="9.92" height="3.39" fill="#f4a785"/>
<rect x="417.18" y="319.02" width="9.92" height="3.39" fill="#f4a785"/>
<rect x="427.05" y="319.02" width="9.92" height="3.39" fill="#f4a785"/>
<rect x="436.93" y="319.02" width="9.92" height="3.39" fill="#f9e1d5"/>
<rect x="446.8" y="319.02" width="9.92" height="3.39" fill="#f9dccc"/>
<rect x="456.67" y="319.02" width="9.92" height="3.39" fill="#f9d5c3"/>
<rect x="466.55" y="319.02" width="9.92" height="3.39" fill="#7db3da"/>
<rect x="476.42" y="319.02" width="9.92" height="3.39" fill="#7db3da"/>
<rect x="486.3" y="319.02" width="9.92" height="3.39" fill="#a8cbe5"/>
<rect x="496.17" y="319.02" width="9.92" height="3.39" fill="#a8cbe5"/>
<rect x="506.05" y="319.02" width="9.92" height="3.39" fill="#c6ddee"/>
<rect x="515.92" y="319.02" width="9.92" height="3.39" fill="#a8cbe5"/>
<rect x="407.3" y="322.36" width="9.92" height="3.39" fill="#e6eef5"/>
<rect x="417.18" y="322.36" width="9.92" height="3.39" fill="#e6eef5"/>
<rect x="427.05" y="322.36" width="9.92" height="3.39" fill="#e6eef5"/>
<rect x="436.93" y="322.36" width="9.92" height="3.39" fill="#f1f2f4"/>
<rect x="446.8" y="322.36" width="9.92" height="3.39" fill="#f8ebe4"/>
<rect x="456.67" y="322.36" width="9.92" height="3.39" fill="#f8ebe4"/>
<rect x="466.55" y="322.36" width="9.92" height="3.39" fill="#f09474"/>
<rect x="476.42" y="322.36" width="9.92" height="3.39" fill="#f09474"/>
<rect x="486.3" y="322.36" width="9.92" height="3.39" fill="#f4a785"/>
<rect x="496.17" y="322.36" width="9.92" height="3.39" fill="#5a9bcd"/>
<rect x="506.05" y="322.36" width="9.92" height="3.39" fill="#4a8dc5"/>
<rect x="515.92" y="322.36" width="9.92" height="3.39" fill="#6aa6d3"/>
<rect x="407.3" y="325.7" width="9.92" height="3.39" fill="#d1e4f1"/>
<rect x="417.18" y="325.7" width="9.92" height="3.39" fill="#c6ddee"/>
<rect x="427.05" y="325.7" width="9.92" height="3.39" fill="#d1e4f1"/>
<rect x="436.93" y="325.7" width="9.92" height="3.39" fill="#f8ebe4"/>
<rect x="446.8" y="325.7" width="9.92" height="3.39" fill="#f9e6dc"/>
<rect x="456.67" y="325.7" width="9.92" height="3.39" fill="#f9e6dc"/>
<rect x="466.55" y="325.7" width="9.92" height="3.39" fill="#f09474"/>
<rect x="476.42" y="325.7" width="9.92" height="3.39" fill="#f09474"/>
<rect x="486.3" y="325.7" width="9.92" height="3.39" fill="#ec8a6a"/>
<rect x="496.17" y="325.7" width="9.92" height="3.39" fill="#4a8dc5"/>
<rect x="506.05" y="325.7" width="9.92" height="3.39" fill="#4a8dc5"/>
<rect x="515.92" y="325.7" width="9.92" height="3.39" fill="#5a9bcd"/>
<rect x="407.3" y="329.05" width="9.92" height="3.39" fill="#a8cbe5"/>
<rect x="417.18" y="329.05" width="9.92" height="3.39" fill="#b7d4ea"/>
<rect x="427.05" y="329.05" width="9.92" height="3.39" fill="#a8cbe5"/>
<rect x="436.93" y="329.05" width="9.92" height="3.39" fill="#f9e6dc"/>
<rect x="446.8" y="329.05" width="9.92" height="3.39" fill="#f9e6dc"/>
<rect x="456.67" y="329.05" width="9.92" height="3.39" fill="#f9e6dc"/>
<rect x="466.55" y="329.05" width="9.92" height="3.39" fill="#f8c7ae"/>
<rect x="476.42" y="329.05" width="9.92" height="3.39" fill="#f4a785"/>
<rect x="486.3" y="329.05" width="9.92" height="3.39" fill="#f09474"/>
<rect x="496.17" y="329.05" width="9.92" height="3.39" fill="#6aa6d3"/>
<rect x="506.05" y="329.05" width="9.92" height="3.39" fill="#c6ddee"/>
<rect x="515.92" y="329.05" width="9.92" height="3.39" fill="#6aa6d3"/>
<rect x="407.3" y="332.39" width="9.92" height="3.39" fill="#f9e1d5"/>
<rect x="417.18" y="332.39" width="9.92" height="3.39" fill="#f8c7ae"/>
<rect x="427.05" y="332.39" width="9.92" height="3.39" fill="#f8c7ae"/>
<rect x="436.93" y="332.39" width="9.92" height="3.39" fill="#f1f2f4"/>
<rect x="446.8" y="332.39" width="9.92" height="3.39" fill="#f1f2f4"/>
<rect x="456.67" y="332.39" width="9.92" height="3.39" fill="#f1f2f4"/>
<rect x="466.55" y="332.39" width="9.92" height="3.39" fill="#f8ebe4"/>
<rect x="476.42" y="332.39" width="9.92" height="3.39" fill="#f9e6dc"/>
<rect x="486.3" y="332.39" width="9.92" height="3.39" fill="#f5f2f1"/>
<rect x="496.17" y="332.39" width="9.92" height="3.39" fill="#3b82bf"/>
<rect x="506.05" y="332.39" width="9.92" height="3.39" fill="#3b82bf"/>
<rect x="515.92" y="332.39" width="9.92" height="3.39" fill="#4a8dc5"/>
<rect x="407.3" y="335.74" width="9.92" height="3.39" fill="#f9e1d5"/>
<rect x="417.18" y="335.74" width="9.92" height="3.39" fill="#f9e1d5"/>
<rect x="427.05" y="335.74" width="9.92" height="3.39" fill="#f9e6dc"/>
<rect x="436.93" y="335.74" width="9.92" height="3.39" fill="#e6eef5"/>
<rect x="446.8" y="335.74" width="9.92" height="3.39" fill="#e6eef5"/>
<rect x="456.67" y="335.74" width="9.92" height="3.39" fill="#f1f2f4"/>
<rect x="466.55" y="335.74" width="9.92" height="3.39" fill="#f6b89c"/>
<rect x="476.42" y="335.74" width="9.92" height="3.39" fill="#f9e1d5"/>
<rect x="486.3" y="335.74" width="9.92" height="3.39" fill="#f9e1d5"/>
<rect x="496.17" y="335.74" width="9.92" height="3.39" fill="#4a8dc5"/>
<rect x="506.05" y="335.74" width="9.92" height="3.39" fill="#4a8dc5"/>
<rect x="515.92" y="335.74" width="9.92" height="3.39" fill="#3b82bf"/>
<rect x="407.3" y="339.08" width="9.92" height="3.39" fill="#f9e1d5"/>
<rect x="417.18" y="339.08" width="9.92" height="3.39" fill="#f8ebe4"/>
<rect x="427.05" y="339.08" width="9.92" height="3.39" fill="#f9e6dc"/>
<rect x="436.93" y="339.08" width="9.92" height="3.39" fill="#e6eef5"/>
<rect x="446.8" y="339.08" width="9.92" height="3.39" fill="#e6eef5"/>
<rect x="456.67" y="339.08" width="9.92" height="3.39" fill="#f1f2f4"/>
<rect x="466.55" y="339.08" width="9.92" height="3.39" fill="#f6b89c"/>
<rect x="476.42" y="339.08" width="9.92" height="3.39" fill="#f9e1d5"/>
<rect x="486.3" y="339.08" width="9.92" height="3.39" fill="#f9e1d5"/>
<rect x="496.17" y="339.08" width="9.92" height="3.39" fill="#3b82bf"/>
<rect x="506.05" y="339.08" width="9.92" height="3.39" fill="#3b82bf"/>
<rect x="515.92" y="339.08" width="9.92" height="3.39" fill="#4a8dc5"/>
<rect x="407.3" y="342.42" width="9.92" height="3.39" fill="#f9e1d5"/>
<rect x="417.18" y="342.42" width="9.92" height="3.39" fill="#f9e1d5"/>
<rect x="427.05" y="342.42" width="9.92" height="3.39" fill="#f9e1d5"/>
<rect x="436.93" y="342.42" width="9.92" height="3.39" fill="#f8ebe4"/>
<rect x="446.8" y="342.42" width="9.92" height="3.39" fill="#f9e6dc"/>
<rect x="456.67" y="342.42" width="9.92" height="3.39" fill="#f9e6dc"/>
<rect x="466.55" y="342.42" width="9.92" height="3.39" fill="#f9e6dc"/>
<rect x="476.42" y="342.42" width="9.92" height="3.39" fill="#f8ebe4"/>
<rect x="486.3" y="342.42" width="9.92" height="3.39" fill="#f5f2f1"/>
<rect x="496.17" y="342.42" width="9.92" height="3.39" fill="#3b82bf"/>
<rect x="506.05" y="342.42" width="9.92" height="3.39" fill="#4a8dc5"/>
<rect x="515.92" y="342.42" width="9.92" height="3.39" fill="#3b82bf"/>
<rect x="407.3" y="345.77" width="9.92" height="3.39" fill="#ec8a6a"/>
<rect x="417.18" y="345.77" width="9.92" height="3.39" fill="#f4a785"/>
<rect x="427.05" y="345.77" width="9.92" height="3.39" fill="#f8ebe4"/>
<rect x="436.93" y="345.77" width="9.92" height="3.39" fill="#f5f2f1"/>
<rect x="446.8" y="345.77" width="9.92" height="3.39" fill="#4a8dc5"/>
<rect x="456.67" y="345.77" width="9.92" height="3.39" fill="#3b82bf"/>
<rect x="466.55" y="345.77" width="9.92" height="3.39" fill="#f1f2f4"/>
<rect x="476.42" y="345.77" width="9.92" height="3.39" fill="#f5f2f1"/>
<rect x="486.3" y="345.77" width="9.92" height="3.39" fill="#f8f8f8"/>
<rect x="496.17" y="345.77" width="9.92" height="3.39" fill="#a8cbe5"/>
<rect x="506.05" y="345.77" width="9.92" height="3.39" fill="#a8cbe5"/>
<rect x="515.92" y="345.77" width="9.92" height="3.39" fill="#a8cbe5"/>
<rect x="407.3" y="349.11" width="9.92" height="3.39" fill="#f4a785"/>
<rect x="417.18" y="349.11" width="9.92" height="3.39" fill="#ec8a6a"/>
<rect x="427.05" y="349.11" width="9.92" height="3.39" fill="#d9543f"/>
<rect x="436.93" y="349.11" width="9.92" height="3.39" fill="#eef1f5"/>
<rect x="446.8" y="349.11" width="9.92" height="3.39" fill="#a8cbe5"/>
<rect x="456.67" y="349.11" width="9.92" height="3.39" fill="#6aa6d3"/>
<rect x="466.55" y="349.11" width="9.92" height="3.39" fill="#e6eef5"/>
<rect x="476.42" y="349.11" width="9.92" height="3.39" fill="#e6eef5"/>
<rect x="486.3" y="349.11" width="9.92" height="3.39" fill="#5a9bcd"/>
<rect x="496.17" y="349.11" width="9.92" height="3.39" fill="#c6ddee"/>
<rect x="506.05" y="349.11" width="9.92" height="3.39" fill="#c6ddee"/>
<rect x="515.92" y="349.11" width="9.92" height="3.39" fill="#c6ddee"/>
<rect x="407.3" y="352.46" width="9.92" height="3.39" fill="#f4a785"/>
<rect x="417.18" y="352.46" width="9.92" height="3.39" fill="#f4a785"/>
<rect x="427.05" y="352.46" width="9.92" height="3.39" fill="#f8c7ae"/>
<rect x="436.93" y="352.46" width="9.92" height="3.39" fill="#2e72b4"/>
<rect x="446.8" y="352.46" width="9.92" height="3.39" fill="#6aa6d3"/>
<rect x="456.67" y="352.46" width="9.92" height="3.39" fill="#a8cbe5"/>
<rect x="466.55" y="352.46" width="9.92" height="3.39" fill="#e6eef5"/>
<rect x="476.42" y="352.46" width="9.92" height="3.39" fill="#d1e4f1"/>
<rect x="486.3" y="352.46" width="9.92" height="3.39" fill="#e6eef5"/>
<rect x="496.17" y="352.46" width="9.92" height="3.39" fill="#f9e6dc"/>
<rect x="506.05" y="352.46" width="9.92" height="3.39" fill="#f9e6dc"/>
<rect x="515.92" y="352.46" width="9.92" height="3.39" fill="#f9e6dc"/>
<path d="M407.3 24.74H525.8M407.3 28.09H525.8M407.3 31.43H525.8M407.3 34.78H525.8M407.3 38.12H525.8M407.3 41.46H525.8M407.3 44.81H525.8M407.3 48.15H525.8M407.3 51.5H525.8M407.3 54.84H525.8M407.3 58.18H525.8M407.3 61.53H525.8M407.3 64.87H525.8M407.3 68.22H525.8M407.3 71.56H525.8M407.3 74.9H525.8M407.3 78.25H525.8M407.3 81.59H525.8M407.3 84.94H525.8M407.3 88.28H525.8M407.3 91.62H525.8M407.3 94.97H525.8M407.3 98.31H525.8M407.3 101.66H525.8M407.3 105H525.8M407.3 108.34H525.8M407.3 111.69H525.8M407.3 115.03H525.8M407.3 118.38H525.8M407.3 121.72H525.8M407.3 125.06H525.8M407.3 128.41H525.8M407.3 131.75H525.8M407.3 135.1H525.8M407.3 138.44H525.8M407.3 141.78H525.8M407.3 145.13H525.8M407.3 148.47H525.8M407.3 151.82H525.8M407.3 155.16H525.8M407.3 158.5H525.8M407.3 161.85H525.8M407.3 165.19H525.8M407.3 168.54H525.8M407.3 171.88H525.8M407.3 175.22H525.8M407.3 178.57H525.8M407.3 181.91H525.8M407.3 185.26H525.8M407.3 188.6H525.8M407.3 191.94H525.8M407.3 195.29H525.8M407.3 198.63H525.8M407.3 201.98H525.8M407.3 205.32H525.8M407.3 208.66H525.8M407.3 212.01H525.8M407.3 215.35H525.8M407.3 218.7H525.8M407.3 222.04H525.8M407.3 225.38H525.8M407.3 228.73H525.8M407.3 232.07H525.8M407.3 235.42H525.8M407.3 238.76H525.8M407.3 242.1H525.8M407.3 245.45H525.8M407.3 248.79H525.8M407.3 252.14H525.8M407.3 255.48H525.8M407.3 258.82H525.8M407.3 262.17H525.8M407.3 265.51H525.8M407.3 268.86H525.8M407.3 272.2H525.8M407.3 275.54H525.8M407.3 278.89H525.8M407.3 282.23H525.8M407.3 285.58H525.8M407.3 288.92H525.8M407.3 292.26H525.8M407.3 295.61H525.8M407.3 298.95H525.8M407.3 302.3H525.8M407.3 305.64H525.8M407.3 308.98H525.8M407.3 312.33H525.8M407.3 315.67H525.8M407.3 319.02H525.8M407.3 322.36H525.8M407.3 325.7H525.8M407.3 329.05H525.8M407.3 332.39H525.8M407.3 335.74H525.8M407.3 339.08H525.8M407.3 342.42H525.8M407.3 345.77H525.8M407.3 349.11H525.8M407.3 352.46H525.8M417.18 21.4V355.8M427.05 21.4V355.8M436.93 21.4V355.8M446.8 21.4V355.8M456.67 21.4V355.8M466.55 21.4V355.8M476.42 21.4V355.8M486.3 21.4V355.8M496.17 21.4V355.8M506.05 21.4V355.8M515.92 21.4V355.8" stroke="#c8c8c8" stroke-opacity="0.35" stroke-width="0.3" fill="none"/>
<g font-family="Liberation Sans, sans-serif"><rect x="256" y="18.9" width="29.05" height="1.5" fill="#e41a1c"/>
<rect x="285" y="18.9" width="29.05" height="1.5" fill="#377eb8"/>
<rect x="314" y="18.9" width="29.05" height="1.5" fill="#4daf4a"/>
<rect x="343" y="18.9" width="29.05" height="1.5" fill="#984ea3"/>
<path d="M285 10.1H340.5M285 10.1V16.5M340.5 10.1V16.5" stroke="#8a8a8a" stroke-width="0.4" fill="none"/>
<path d="M265.4 16.5H309.5M326 16.5H355M265.4 16.5V18.6M309.5 16.5V18.6M326 16.5V18.6M355 16.5V18.6" stroke="#cfcfcf" stroke-width="0.35" fill="none"/>
<path d="M249.3 33V118.3M249.3 33H255.6M249.3 118.3H253M253 104.7V240M253 104.7H255.6M254.3 122V352M255.2 21V92M254.3 150H255.6M254.3 200H255.6M254.3 262H255.6M254.3 300H255.6" stroke="#8f8f8f" stroke-width="0.4" fill="none"/>
<text x="373" y="20.3" font-size="2.1" fill="#333">state</text>
<text transform="translate(373 23.41) scale(1 1) rotate(0.3)" font-size="2.45" fill="#2a2a2a">DIH2</text>
<text transform="translate(373 26.74) scale(1 1) rotate(0.3)" font-size="2.45" fill="#2a2a2a">VWP2</text>
<text transform="translate(373 30.07) scale(1 1) rotate(0.3)" font-size="2.45" fill="#2a2a2a">GTA9</text>
<text transform="translate(373 33.4) scale(1 1) rotate(0.3)" font-size="2.45" fill="#2a2a2a">PRW1</text>
<text transform="translate(373 36.73) scale(1 1) rotate(0.3)" font-size="2.45" fill="#2a2a2a">FPLIE6</text>
<text transform="translate(373 40.06) scale(1 1) rotate(0.3)" font-size="2.45" fill="#2a2a2a">DND6</text>
<text transform="translate(373 43.39) scale(1 1) rotate(0.3)" font-size="2.45" fill="#2a2a2a">IRV7</text>
<text transform="translate(373 46.72) scale(1 1) rotate(0.3)" font-size="2.45" fill="#2a2a2a">CKMWG</text>
<text transform="translate(373 50.05) scale(1 1) rotate(0.3)" font-size="2.45" fill="#2a2a2a">BHKCH</text>
<text transform="translate(373 53.38) scale(1 1) rotate(0.3)" font-size="2.45" fill="#2a2a2a">NRMF4</text>
<text transform="translate(373 56.7) scale(1 1) rotate(0.3)" font-size="2.45" fill="#2a2a2a">ICFVH7</text>
<text transform="translate(373 60.03) scale(1 1) rotate(0.3)" font-size="2.45" fill="#2a2a2a">IVHLB1</text>
<text transform="translate(373 63.36) scale(1 1) rotate(0.3)" font-size="2.45" fill="#2a2a2a">LICG</text>
<text transform="translate(373 66.69) scale(1 1) rotate(0.3)" font-size="2.45" fill="#2a2a2a">WLGSN</text>
<text transform="translate(373 70.02) scale(1 1) rotate(0.3)" font-size="2.45" fill="#2a2a2a">RIE9</text>
<text transform="translate(373 73.35) scale(1 1) rotate(0.3)" font-size="2.45" fill="#2a2a2a">VWPW4</text>
<text transform="translate(373 76.68) scale(1 1) rotate(0.3)" font-size="2.45" fill="#2a2a2a">ESCBD3</text>
<text transform="translate(373 80.01) scale(1 1) rotate(0.3)" font-size="2.45" fill="#2a2a2a">PCNNR9</text>
<text transform="translate(373 83.34) scale(1 1) rotate(0.3)" font-size="2.45" fill="#2a2a2a">ADVIL7</text>
<text transform="translate(373 86.67) scale(1 1) rotate(0.3)" font-size="2.45" fill="#2a2a2a">FAIT</text>
<text transform="translate(373 89.99) scale(1 1) rotate(0.3)" font-size="2.45" fill="#2a2a2a">TKT</text>
<text transform="translate(373 93.32) scale(1 1) rotate(0.3)" font-size="2.45" fill="#2a2a2a">EFVT</text>
<text transform="translate(373 96.65) scale(1 1) rotate(0.3)" font-size="2.45" fill="#2a2a2a">LADM</text>
<text transform="translate(373 99.98) scale(1 1) rotate(0.3)" font-size="2.45" fill="#2a2a2a">KBH</text>
<text transform="translate(373 103.31) scale(1 1) rotate(0.3)" font-size="2.45" fill="#2a2a2a">CSC</text>
<text transform="translate(373 106.64) scale(1 1) rotate(0.3)" font-size="2.45" fill="#2a2a2a">VES</text>
<text transform="translate(373 109.97) scale(1 1) rotate(0.3)" font-size="2.45" fill="#2a2a2a">FTPG</text>
<text transform="translate(373 113.3) scale(1 1) rotate(0.3)" font-size="2.45" fill="#2a2a2a">GKNMR</text>
<text transform="translate(373 116.63) scale(1 1) rotate(0.3)" font-size="2.45" fill="#2a2a2a">RHH1</text>
<text transform="translate(373 119.96) scale(1 1) rotate(0.3)" font-size="2.45" fill="#2a2a2a">WHWHA1</text>
<text transform="translate(373 123.28) scale(1 1) rotate(0.3)" font-size="2.45" fill="#2a2a2a">HBL4</text>
<text transform="translate(373 126.61) scale(1 1) rotate(0.3)" font-size="2.45" fill="#2a2a2a">ISGVE</text>
<text transform="translate(373 129.94) scale(1 1) rotate(0.3)" font-size="2.45" fill="#2a2a2a">WSHSP2</text>
<text transform="translate(373 133.27) scale(1 1) rotate(0.3)" font-size="2.45" fill="#2a2a2a">PPPR</text>
<text transform="translate(373 136.6) scale(1 1) rotate(0.3)" font-size="2.45" fill="#2a2a2a">BDBNL</text>
<text transform="translate(373 139.93) scale(1 1) rotate(0.3)" font-size="2.45" fill="#2a2a2a">DGG3</text>
<text transform="translate(373 143.26) scale(1 1) rotate(0.3)" font-size="2.45" fill="#2a2a2a">PIR2</text>
<text transform="translate(373 146.59) scale(1 1) rotate(0.3)" font-size="2.45" fill="#2a2a2a">RDBVA</text>
<text transform="translate(373 149.92) scale(1 1) rotate(0.3)" font-size="2.45" fill="#2a2a2a">HPS7</text>
<text transform="translate(373 153.25) scale(1 1) rotate(0.3)" font-size="2.45" fill="#2a2a2a">BNA</text>
<text transform="translate(373 156.57) scale(1 1) rotate(0.3)" font-size="2.45" fill="#2a2a2a">IKPV</text>
<text transform="translate(373 159.9) scale(1 1) rotate(0.3)" font-size="2.45" fill="#2a2a2a">SGK1</text>
<text transform="translate(373 163.23) scale(1 1) rotate(0.3)" font-size="2.45" fill="#2a2a2a">WVBLB8</text>
<text transform="translate(373 166.56) scale(1 1) rotate(0.3)" font-size="2.45" fill="#2a2a2a">TFBTC</text>
<text transform="translate(373 169.89) scale(1 1) rotate(0.3)" font-size="2.45" fill="#2a2a2a">CCHND</text>
<text transform="translate(373 173.22) scale(1 1) rotate(0.3)" font-size="2.45" fill="#2a2a2a">WWB</text>
<text transform="translate(373 176.55) scale(1 1) rotate(0.3)" font-size="2.45" fill="#2a2a2a">PWWTL</text>
<text transform="translate(373 179.88) scale(1 1) rotate(0.3)" font-size="2.45" fill="#2a2a2a">GLHIN5</text>
<text transform="translate(373 183.21) scale(1 1) rotate(0.3)" font-size="2.45" fill="#2a2a2a">RCAR</text>
<text transform="translate(373 186.54) scale(1 1) rotate(0.3)" font-size="2.45" fill="#2a2a2a">WCV5</text>
<text transform="translate(373 189.86) scale(1 1) rotate(0.3)" font-size="2.45" fill="#2a2a2a">ECHM8</text>
<text transform="translate(373 193.19) scale(1 1) rotate(0.3)" font-size="2.45" fill="#2a2a2a">VKTAV2</text>
<text transform="translate(373 196.52) scale(1 1) rotate(0.3)" font-size="2.45" fill="#2a2a2a">EDDV5</text>
<text transform="translate(373 199.85) scale(1 1) rotate(0.3)" font-size="2.45" fill="#2a2a2a">GLGIT1</text>
<text transform="translate(373 203.18) scale(1 1) rotate(0.3)" font-size="2.45" fill="#2a2a2a">CPIBA3</text>
<text transform="translate(373 206.51) scale(1 1) rotate(0.3)" font-size="2.45" fill="#2a2a2a">IRV</text>
<text transform="translate(373 209.84) scale(1 1) rotate(0.3)" font-size="2.45" fill="#2a2a2a">VDC</text>
<text transform="translate(373 213.17) scale(1 1) rotate(0.3)" font-size="2.45" fill="#2a2a2a">EBMWV3</text>
<text transform="translate(373 216.5) scale(1 1) rotate(0.3)" font-size="2.45" fill="#2a2a2a">BMBM4</text>
<text transform="translate(373 219.83) scale(1 1) rotate(0.3)" font-size="2.45" fill="#2a2a2a">DVPE</text>
<text transform="translate(373 223.15) scale(1 1) rotate(0.3)" font-size="2.45" fill="#2a2a2a">HFP6</text>
<text transform="translate(373 226.48) scale(1 1) rotate(0.3)" font-size="2.45" fill="#2a2a2a">PHIFD1</text>
<text transform="translate(373 229.81) scale(1 1) rotate(0.3)" font-size="2.45" fill="#2a2a2a">SGR4</text>
<text transform="translate(373 233.14) scale(1 1) rotate(0.3)" font-size="2.45" fill="#2a2a2a">HGN2</text>
<text transform="translate(373 236.47) scale(1 1) rotate(0.3)" font-size="2.45" fill="#2a2a2a">ITNV1</text>
<text transform="translate(373 239.8) scale(1 1) rotate(0.3)" font-size="2.45" fill="#2a2a2a">DFWI7</text>
<text transform="translate(373 243.13) scale(1 1) rotate(0.3)" font-size="2.45" fill="#2a2a2a">MLPTD4</text>
<text transform="translate(373 246.46) scale(1 1) rotate(0.3)" font-size="2.45" fill="#2a2a2a">IPA9</text>
<text transform="translate(373 249.79) scale(1 1) rotate(0.3)" font-size="2.45" fill="#2a2a2a">GPCL</text>
<text transform="translate(373 253.12) scale(1 1) rotate(0.3)" font-size="2.45" fill="#2a2a2a">DKTKP5</text>
<text transform="translate(373 256.44) scale(1 1) rotate(0.3)" font-size="2.45" fill="#2a2a2a">VGP</text>
<text transform="translate(373 259.77) scale(1 1) rotate(0.3)" font-size="2.45" fill="#2a2a2a">NFWKN1</text>
<text transform="translate(373 263.1) scale(1 1) rotate(0.3)" font-size="2.45" fill="#2a2a2a">KGPW</text>
<text transform="translate(373 266.43) scale(1 1) rotate(0.3)" font-size="2.45" fill="#2a2a2a">LRRG3</text>
<text transform="translate(373 269.76) scale(1 1) rotate(0.3)" font-size="2.45" fill="#2a2a2a">CTLC</text>
<text transform="translate(373 273.09) scale(1 1) rotate(0.3)" font-size="2.45" fill="#2a2a2a">HKHGE4</text>
<text transform="translate(373 276.42) scale(1 1) rotate(0.3)" font-size="2.45" fill="#2a2a2a">SCRPW7</text>
<text transform="translate(373 279.75) scale(1 1) rotate(0.3)" font-size="2.45" fill="#2a2a2a">SHEA</text>
<text transform="translate(373 283.08) scale(1 1) rotate(0.3)" font-size="2.45" fill="#2a2a2a">DHFT9</text>
<text transform="translate(373 286.41) scale(1 1) rotate(0.3)" font-size="2.45" fill="#2a2a2a">HRE</text>
<text transform="translate(373 289.73) scale(1 1) rotate(0.3)" font-size="2.45" fill="#2a2a2a">TLRTP</text>
<text transform="translate(373 293.06) scale(1 1) rotate(0.3)" font-size="2.45" fill="#2a2a2a">VFSR4</text>
<text transform="translate(373 296.39) scale(1 1) rotate(0.3)" font-size="2.45" fill="#2a2a2a">ISHIR5</text>
<text transform="translate(373 299.72) scale(1 1) rotate(0.3)" font-size="2.45" fill="#2a2a2a">HLLV3</text>
<text transform="translate(373 303.05) scale(1 1) rotate(0.3)" font-size="2.45" fill="#2a2a2a">HEGC6</text>
<text transform="translate(373 306.38) scale(1 1) rotate(0.3)" font-size="2.45" fill="#2a2a2a">VPBG</text>
<text transform="translate(373 309.71) scale(1 1) rotate(0.3)" font-size="2.45" fill="#2a2a2a">NAWNS6</text>
<text transform="translate(373 313.04) scale(1 1) rotate(0.3)" font-size="2.45" fill="#2a2a2a">KPVV</text>
<text transform="translate(373 316.37) scale(1 1) rotate(0.3)" font-size="2.45" fill="#2a2a2a">HHIP7</text>
<text transform="translate(373 319.7) scale(1 1) rotate(0.3)" font-size="2.45" fill="#2a2a2a">LNFRE</text>
<text transform="translate(373 323.02) scale(1 1) rotate(0.3)" font-size="2.45" fill="#2a2a2a">VNW1</text>
<text transform="translate(373 326.35) scale(1 1) rotate(0.3)" font-size="2.45" fill="#2a2a2a">CPERF7</text>
<text transform="translate(373 329.68) scale(1 1) rotate(0.3)" font-size="2.45" fill="#2a2a2a">LRL7</text>
<text transform="translate(373 333.01) scale(1 1) rotate(0.3)" font-size="2.45" fill="#2a2a2a">IICS9</text>
<text transform="translate(373 336.34) scale(1 1) rotate(0.3)" font-size="2.45" fill="#2a2a2a">BHCB</text>
<text transform="translate(373 339.67) scale(1 1) rotate(0.3)" font-size="2.45" fill="#2a2a2a">HAE8</text>
<text transform="translate(373 343) scale(1 1) rotate(0.3)" font-size="2.45" fill="#2a2a2a">DGRIM2</text>
<text transform="translate(373 346.33) scale(1 1) rotate(0.3)" font-size="2.45" fill="#2a2a2a">FDWA</text>
<text transform="translate(373 349.66) scale(1 1) rotate(0.3)" font-size="2.45" fill="#2a2a2a">WNNGC4</text>
<text transform="translate(373 352.99) scale(1 1) rotate(0.3)" font-size="2.45" fill="#2a2a2a">DKDWB7</text>
<defs><linearGradient id="g256" x1="0" y1="0" x2="0" y2="1"><stop offset="0" stop-color="#b2182b"/><stop offset="0.22" stop-color="#f4a582"/><stop offset="0.5" stop-color="#f7f7f7"/><stop offset="0.75" stop-color="#92c5de"/><stop offset="1" stop-color="#2166ac"/></linearGradient></defs>
<rect x="385.2" y="18.4" width="1.5" height="22.6" fill="url(#g256)"/>
<text x="387.4" y="20.9" font-size="1.6" fill="#777">4</text>
<text x="387.4" y="26.07" font-size="1.6" fill="#777">2</text>
<text x="387.4" y="31.23" font-size="1.6" fill="#777">0</text>
<text x="387.4" y="36.4" font-size="1.6" fill="#777">-2</text>
<text x="390" y="20.5" font-size="1.7" fill="#333" font-weight="bold">group</text>
<rect x="390" y="21" width="2.1" height="2.1" fill="#e41a1c"/>
<text x="392.7" y="22.6" font-size="1.5" fill="#777">G1</text>
<rect x="390" y="23.35" width="2.1" height="2.1" fill="#377eb8"/>
<text x="392.7" y="24.95" font-size="1.5" fill="#777">G2</text>
<rect x="390" y="25.7" width="2.1" height="2.1" fill="#4daf4a"/>
<text x="392.7" y="27.3" font-size="1.5" fill="#777">G3</text>
<rect x="390" y="28.05" width="2.1" height="2.1" fill="#984ea3"/>
<text x="392.7" y="29.65" font-size="1.5" fill="#777">G4</text></g>
<g font-family="Liberation Sans, sans-serif"><rect x="407.3" y="19.3" width="29.67" height="1.5" fill="#e41a1c"/>
<rect x="436.93" y="19.3" width="29.67" height="1.5" fill="#377eb8"/>
<rect x="466.55" y="19.3" width="29.67" height="1.5" fill="#4daf4a"/>
<rect x="496.17" y="19.3" width="29.67" height="1.5" fill="#984ea3"/>
<path d="M439.1 11.1H493.6M439.1 11.1V16.4M493.6 11.1V16.4" stroke="#8a8a8a" stroke-width="0.4" fill="none"/>
<path d="M424.3 16.4H453.9M478.9 16.4H511.8M424.3 16.4V19M453.9 16.4V19M478.9 16.4V19M511.8 16.4V19" stroke="#cfcfcf" stroke-width="0.35" fill="none"/>
<path d="M400.3 93V352M402.2 48V350M403.8 25V130M405.5 70V352M403.8 25H407.2M402.2 48H403.8M400.3 93H402.2M400.5 136.7H404.7M405.5 70H407.2M405.5 200H407.2M405.5 280H407.2" stroke="#8f8f8f" stroke-width="0.4" fill="none"/>
<text x="526.5" y="20.7" font-size="2.1" fill="#333">state</text>
<text transform="translate(526.5 23.92) scale(1 1) rotate(0.3)" font-size="2.45" fill="#2a2a2a">Mtl7</text>
<text transform="translate(526.5 27.27) scale(1 1) rotate(0.3)" font-size="2.45" fill="#2a2a2a">Spm</text>
<text transform="translate(526.5 30.61) scale(1 1) rotate(0.3)" font-size="2.45" fill="#2a2a2a">Repft</text>
<text transform="translate(526.5 33.95) scale(1 1) rotate(0.3)" font-size="2.45" fill="#2a2a2a">Ivsrp</text>
<text transform="translate(526.5 37.3) scale(1 1) rotate(0.3)" font-size="2.45" fill="#2a2a2a">Wlhc8</text>
<text transform="translate(526.5 40.64) scale(1 1) rotate(0.3)" font-size="2.45" fill="#2a2a2a">Hwnl6</text>
<text transform="translate(526.5 43.99) scale(1 1) rotate(0.3)" font-size="2.45" fill="#2a2a2a">Fgmi5</text>
<text transform="translate(526.5 47.33) scale(1 1) rotate(0.3)" font-size="2.45" fill="#2a2a2a">Vtg7</text>
<text transform="translate(526.5 50.67) scale(1 1) rotate(0.3)" font-size="2.45" fill="#2a2a2a">Shssr</text>
<text transform="translate(526.5 54.02) scale(1 1) rotate(0.3)" font-size="2.45" fill="#2a2a2a">Chnh6</text>
<text transform="translate(526.5 57.36) scale(1 1) rotate(0.3)" font-size="2.45" fill="#2a2a2a">Stmpv8</text>
<text transform="translate(526.5 60.71) scale(1 1) rotate(0.3)" font-size="2.45" fill="#2a2a2a">Iihd</text>
<text transform="translate(526.5 64.05) scale(1 1) rotate(0.3)" font-size="2.45" fill="#2a2a2a">Lvf8</text>
<text transform="translate(526.5 67.39) scale(1 1) rotate(0.3)" font-size="2.45" fill="#2a2a2a">Iwtkd</text>
<text transform="translate(526.5 70.74) scale(1 1) rotate(0.3)" font-size="2.45" fill="#2a2a2a">Kmf9</text>
<text transform="translate(526.5 74.08) scale(1 1) rotate(0.3)" font-size="2.45" fill="#2a2a2a">Ebbv3</text>
<text transform="translate(526.5 77.43) scale(1 1) rotate(0.3)" font-size="2.45" fill="#2a2a2a">Saw8</text>
<text transform="translate(526.5 80.77) scale(1 1) rotate(0.3)" font-size="2.45" fill="#2a2a2a">Rfbi</text>
<text transform="translate(526.5 84.11) scale(1 1) rotate(0.3)" font-size="2.45" fill="#2a2a2a">Scn1</text>
<text transform="translate(526.5 87.46) scale(1 1) rotate(0.3)" font-size="2.45" fill="#2a2a2a">Ewk4</text>
<text transform="translate(526.5 90.8) scale(1 1) rotate(0.3)" font-size="2.45" fill="#2a2a2a">Dphtn8</text>
<text transform="translate(526.5 94.15) scale(1 1) rotate(0.3)" font-size="2.45" fill="#2a2a2a">Kpkwb</text>
<text transform="translate(526.5 97.49) scale(1 1) rotate(0.3)" font-size="2.45" fill="#2a2a2a">Dgi</text>
<text transform="translate(526.5 100.83) scale(1 1) rotate(0.3)" font-size="2.45" fill="#2a2a2a">Ffv1</text>
<text transform="translate(526.5 104.18) scale(1 1) rotate(0.3)" font-size="2.45" fill="#2a2a2a">Pskb5</text>
<text transform="translate(526.5 107.52) scale(1 1) rotate(0.3)" font-size="2.45" fill="#2a2a2a">Rhi</text>
<text transform="translate(526.5 110.87) scale(1 1) rotate(0.3)" font-size="2.45" fill="#2a2a2a">Wgpdv3</text>
<text transform="translate(526.5 114.21) scale(1 1) rotate(0.3)" font-size="2.45" fill="#2a2a2a">Icb5</text>
<text transform="translate(526.5 117.55) scale(1 1) rotate(0.3)" font-size="2.45" fill="#2a2a2a">Wrdr</text>
<text transform="translate(526.5 120.9) scale(1 1) rotate(0.3)" font-size="2.45" fill="#2a2a2a">Ntvs1</text>
<text transform="translate(526.5 124.24) scale(1 1) rotate(0.3)" font-size="2.45" fill="#2a2a2a">Pliac1</text>
<text transform="translate(526.5 127.59) scale(1 1) rotate(0.3)" font-size="2.45" fill="#2a2a2a">Ibfst</text>
<text transform="translate(526.5 130.93) scale(1 1) rotate(0.3)" font-size="2.45" fill="#2a2a2a">Iwp</text>
<text transform="translate(526.5 134.27) scale(1 1) rotate(0.3)" font-size="2.45" fill="#2a2a2a">Ssm6</text>
<text transform="translate(526.5 137.62) scale(1 1) rotate(0.3)" font-size="2.45" fill="#2a2a2a">Dlp</text>
<text transform="translate(526.5 140.96) scale(1 1) rotate(0.3)" font-size="2.45" fill="#2a2a2a">Knvbr5</text>
<text transform="translate(526.5 144.31) scale(1 1) rotate(0.3)" font-size="2.45" fill="#2a2a2a">Lnt</text>
<text transform="translate(526.5 147.65) scale(1 1) rotate(0.3)" font-size="2.45" fill="#2a2a2a">Avrpb6</text>
<text transform="translate(526.5 150.99) scale(1 1) rotate(0.3)" font-size="2.45" fill="#2a2a2a">Srbgi5</text>
<text transform="translate(526.5 154.34) scale(1 1) rotate(0.3)" font-size="2.45" fill="#2a2a2a">Rsdah</text>
<text transform="translate(526.5 157.68) scale(1 1) rotate(0.3)" font-size="2.45" fill="#2a2a2a">Kavpc2</text>
<text transform="translate(526.5 161.03) scale(1 1) rotate(0.3)" font-size="2.45" fill="#2a2a2a">Res</text>
<text transform="translate(526.5 164.37) scale(1 1) rotate(0.3)" font-size="2.45" fill="#2a2a2a">Kipss9</text>
<text transform="translate(526.5 167.71) scale(1 1) rotate(0.3)" font-size="2.45" fill="#2a2a2a">Egte</text>
<text transform="translate(526.5 171.06) scale(1 1) rotate(0.3)" font-size="2.45" fill="#2a2a2a">Ilti</text>
<text transform="translate(526.5 174.4) scale(1 1) rotate(0.3)" font-size="2.45" fill="#2a2a2a">Kkwws</text>
<text transform="translate(526.5 177.75) scale(1 1) rotate(0.3)" font-size="2.45" fill="#2a2a2a">Rsmlv</text>
<text transform="translate(526.5 181.09) scale(1 1) rotate(0.3)" font-size="2.45" fill="#2a2a2a">Nlgh4</text>
<text transform="translate(526.5 184.43) scale(1 1) rotate(0.3)" font-size="2.45" fill="#2a2a2a">Pls</text>
<text transform="translate(526.5 187.78) scale(1 1) rotate(0.3)" font-size="2.45" fill="#2a2a2a">Nesb6</text>
<text transform="translate(526.5 191.12) scale(1 1) rotate(0.3)" font-size="2.45" fill="#2a2a2a">Ddtr3</text>
<text transform="translate(526.5 194.47) scale(1 1) rotate(0.3)" font-size="2.45" fill="#2a2a2a">Pecsi7</text>
<text transform="translate(526.5 197.81) scale(1 1) rotate(0.3)" font-size="2.45" fill="#2a2a2a">Cvnl</text>
<text transform="translate(526.5 201.15) scale(1 1) rotate(0.3)" font-size="2.45" fill="#2a2a2a">Sbchk</text>
<text transform="translate(526.5 204.5) scale(1 1) rotate(0.3)" font-size="2.45" fill="#2a2a2a">Cddr5</text>
<text transform="translate(526.5 207.84) scale(1 1) rotate(0.3)" font-size="2.45" fill="#2a2a2a">Alb6</text>
<text transform="translate(526.5 211.19) scale(1 1) rotate(0.3)" font-size="2.45" fill="#2a2a2a">Pht3</text>
<text transform="translate(526.5 214.53) scale(1 1) rotate(0.3)" font-size="2.45" fill="#2a2a2a">Fcn</text>
<text transform="translate(526.5 217.87) scale(1 1) rotate(0.3)" font-size="2.45" fill="#2a2a2a">Hweh5</text>
<text transform="translate(526.5 221.22) scale(1 1) rotate(0.3)" font-size="2.45" fill="#2a2a2a">Rark</text>
<text transform="translate(526.5 224.56) scale(1 1) rotate(0.3)" font-size="2.45" fill="#2a2a2a">Frm</text>
<text transform="translate(526.5 227.91) scale(1 1) rotate(0.3)" font-size="2.45" fill="#2a2a2a">Kpirk7</text>
<text transform="translate(526.5 231.25) scale(1 1) rotate(0.3)" font-size="2.45" fill="#2a2a2a">Shn5</text>
<text transform="translate(526.5 234.59) scale(1 1) rotate(0.3)" font-size="2.45" fill="#2a2a2a">Kni1</text>
<text transform="translate(526.5 237.94) scale(1 1) rotate(0.3)" font-size="2.45" fill="#2a2a2a">Shmh</text>
<text transform="translate(526.5 241.28) scale(1 1) rotate(0.3)" font-size="2.45" fill="#2a2a2a">Iedbk</text>
<text transform="translate(526.5 244.63) scale(1 1) rotate(0.3)" font-size="2.45" fill="#2a2a2a">Bmeck7</text>
<text transform="translate(526.5 247.97) scale(1 1) rotate(0.3)" font-size="2.45" fill="#2a2a2a">Fev</text>
<text transform="translate(526.5 251.31) scale(1 1) rotate(0.3)" font-size="2.45" fill="#2a2a2a">Mtifi</text>
<text transform="translate(526.5 254.66) scale(1 1) rotate(0.3)" font-size="2.45" fill="#2a2a2a">Sldr</text>
<text transform="translate(526.5 258) scale(1 1) rotate(0.3)" font-size="2.45" fill="#2a2a2a">Env7</text>
<text transform="translate(526.5 261.35) scale(1 1) rotate(0.3)" font-size="2.45" fill="#2a2a2a">Avdr5</text>
<text transform="translate(526.5 264.69) scale(1 1) rotate(0.3)" font-size="2.45" fill="#2a2a2a">Wmdh9</text>
<text transform="translate(526.5 268.03) scale(1 1) rotate(0.3)" font-size="2.45" fill="#2a2a2a">Lhcrk</text>
<text transform="translate(526.5 271.38) scale(1 1) rotate(0.3)" font-size="2.45" fill="#2a2a2a">Dbb8</text>
<text transform="translate(526.5 274.72) scale(1 1) rotate(0.3)" font-size="2.45" fill="#2a2a2a">Dhv8</text>
<text transform="translate(526.5 278.07) scale(1 1) rotate(0.3)" font-size="2.45" fill="#2a2a2a">Mvpwe</text>
<text transform="translate(526.5 281.41) scale(1 1) rotate(0.3)" font-size="2.45" fill="#2a2a2a">Dpib</text>
<text transform="translate(526.5 284.75) scale(1 1) rotate(0.3)" font-size="2.45" fill="#2a2a2a">Grhm6</text>
<text transform="translate(526.5 288.1) scale(1 1) rotate(0.3)" font-size="2.45" fill="#2a2a2a">Vmbni2</text>
<text transform="translate(526.5 291.44) scale(1 1) rotate(0.3)" font-size="2.45" fill="#2a2a2a">Rga6</text>
<text transform="translate(526.5 294.79) scale(1 1) rotate(0.3)" font-size="2.45" fill="#2a2a2a">Hwg9</text>
<text transform="translate(526.5 298.13) scale(1 1) rotate(0.3)" font-size="2.45" fill="#2a2a2a">Gghle</text>
<text transform="translate(526.5 301.47) scale(1 1) rotate(0.3)" font-size="2.45" fill="#2a2a2a">Aeev3</text>
<text transform="translate(526.5 304.82) scale(1 1) rotate(0.3)" font-size="2.45" fill="#2a2a2a">Daeam</text>
<text transform="translate(526.5 308.16) scale(1 1) rotate(0.3)" font-size="2.45" fill="#2a2a2a">Hlafi7</text>
<text transform="translate(526.5 311.51) scale(1 1) rotate(0.3)" font-size="2.45" fill="#2a2a2a">Tcs6</text>
<text transform="translate(526.5 314.85) scale(1 1) rotate(0.3)" font-size="2.45" fill="#2a2a2a">Tdrth</text>
<text transform="translate(526.5 318.19) scale(1 1) rotate(0.3)" font-size="2.45" fill="#2a2a2a">Btkra8</text>
<text transform="translate(526.5 321.54) scale(1 1) rotate(0.3)" font-size="2.45" fill="#2a2a2a">Ndsr2</text>
<text transform="translate(526.5 324.88) scale(1 1) rotate(0.3)" font-size="2.45" fill="#2a2a2a">Lecei</text>
<text transform="translate(526.5 328.23) scale(1 1) rotate(0.3)" font-size="2.45" fill="#2a2a2a">Wlntk7</text>
<text transform="translate(526.5 331.57) scale(1 1) rotate(0.3)" font-size="2.45" fill="#2a2a2a">Ddvgp4</text>
<text transform="translate(526.5 334.91) scale(1 1) rotate(0.3)" font-size="2.45" fill="#2a2a2a">Prnp</text>
<text transform="translate(526.5 338.26) scale(1 1) rotate(0.3)" font-size="2.45" fill="#2a2a2a">Llim</text>
<text transform="translate(526.5 341.6) scale(1 1) rotate(0.3)" font-size="2.45" fill="#2a2a2a">Scc2</text>
<text transform="translate(526.5 344.95) scale(1 1) rotate(0.3)" font-size="2.45" fill="#2a2a2a">Mvb9</text>
<text transform="translate(526.5 348.29) scale(1 1) rotate(0.3)" font-size="2.45" fill="#2a2a2a">Vdpm</text>
<text transform="translate(526.5 351.63) scale(1 1) rotate(0.3)" font-size="2.45" fill="#2a2a2a">Pbkkm9</text>
<text transform="translate(526.5 354.98) scale(1 1) rotate(0.3)" font-size="2.45" fill="#2a2a2a">Gsh</text>
<defs><linearGradient id="g407" x1="0" y1="0" x2="0" y2="1"><stop offset="0" stop-color="#b2182b"/><stop offset="0.22" stop-color="#f4a582"/><stop offset="0.5" stop-color="#f7f7f7"/><stop offset="0.75" stop-color="#92c5de"/><stop offset="1" stop-color="#2166ac"/></linearGradient></defs>
<rect x="537.9" y="19.1" width="1.5" height="23.3" fill="url(#g407)"/>
<text x="540.1" y="21.6" font-size="1.6" fill="#777">4</text>
<text x="540.1" y="26.96" font-size="1.6" fill="#777">2</text>
<text x="540.1" y="32.32" font-size="1.6" fill="#777">0</text>
<text x="540.1" y="37.68" font-size="1.6" fill="#777">-2</text>
<text x="541.8" y="21" font-size="1.7" fill="#333" font-weight="bold">group</text>
<rect x="541.8" y="21.5" width="2.1" height="2.1" fill="#e41a1c"/>
<text x="544.5" y="23.1" font-size="1.5" fill="#777">G1</text>
<rect x="541.8" y="23.85" width="2.1" height="2.1" fill="#377eb8"/>
<text x="544.5" y="25.45" font-size="1.5" fill="#777">G2</text>
<rect x="541.8" y="26.2" width="2.1" height="2.1" fill="#4daf4a"/>
<text x="544.5" y="27.8" font-size="1.5" fill="#777">G3</text>
<rect x="541.8" y="28.55" width="2.1" height="2.1" fill="#984ea3"/>
<text x="544.5" y="30.15" font-size="1.5" fill="#777">G4</text></g>
</svg>
</body></html>
